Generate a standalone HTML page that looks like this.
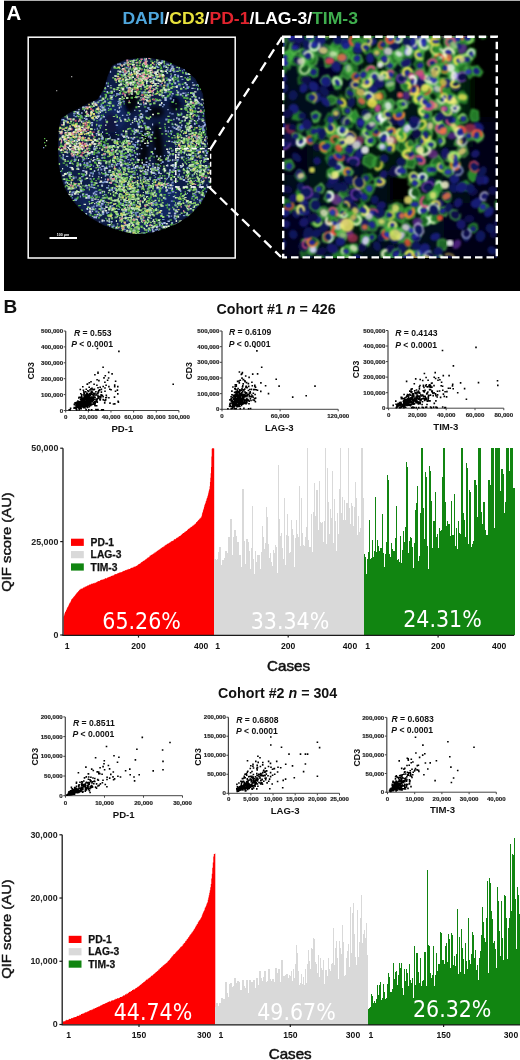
<!DOCTYPE html>
<html><head><meta charset="utf-8"><title>Figure</title>
<style>html,body{margin:0;padding:0;background:#fff;width:520px;height:1060px;overflow:hidden}svg{display:block}</style>
</head><body>
<svg width="520" height="1060" viewBox="0 0 520 1060" font-family="'Liberation Sans', Arial, sans-serif">
<rect x="4" y="1" width="516" height="290" fill="#000"/>
<rect x="4" y="0" width="516" height="1" fill="#b0b0b0"/>
<defs><clipPath id="tc"><polygon points="112.7,65 126.2,59.2 145.4,57.3 164.6,60 183.8,68.8 195.4,78.5 203.1,93.8 205,113 206.9,132.3 208.8,151.5 209.8,170 210.6,183.5 205,197 201,203.6 194.4,210.4 187.7,217 177,223.8 163.5,229.2 150,233.3 135,234.3 123,231.5 103.8,225.6 90.4,217.9 78.8,208.2 71,198.7 64.5,188 61.5,179 58.5,165 57.8,150 58.5,128.5 61.2,118 68.8,113 80,107.5 90,102 97.7,99 104,88 107.5,76 111.2,67"/></clipPath><clipPath id="rc"><rect x="283" y="36" width="214" height="222"/></clipPath><filter id="bl" x="-5%" y="-5%" width="110%" height="110%"><feGaussianBlur stdDeviation="0.5"/></filter><filter id="bl3" x="-5%" y="-5%" width="110%" height="110%"><feGaussianBlur stdDeviation="0.8"/></filter><filter id="bl2" x="-5%" y="-5%" width="110%" height="110%"><feGaussianBlur stdDeviation="1.0"/></filter><filter id="bl5" x="-10%" y="-10%" width="120%" height="120%"><feGaussianBlur stdDeviation="2.2"/></filter><filter id="bl4" x="-10%" y="-10%" width="120%" height="120%"><feGaussianBlur stdDeviation="4"/></filter></defs>
<g clip-path="url(#tc)">
<polygon points="112.7,65 126.2,59.2 145.4,57.3 164.6,60 183.8,68.8 195.4,78.5 203.1,93.8 205,113 206.9,132.3 208.8,151.5 209.8,170 210.6,183.5 205,197 201,203.6 194.4,210.4 187.7,217 177,223.8 163.5,229.2 150,233.3 135,234.3 123,231.5 103.8,225.6 90.4,217.9 78.8,208.2 71,198.7 64.5,188 61.5,179 58.5,165 57.8,150 58.5,128.5 61.2,118 68.8,113 80,107.5 90,102 97.7,99 104,88 107.5,76 111.2,67" fill="#0c1b46" filter="url(#bl2)"/>
<g filter="url(#bl5)"><ellipse cx="110" cy="115" rx="16" ry="18" fill="#15307a" opacity="0.5"/><ellipse cx="175" cy="90" rx="10" ry="16" fill="#15307a" opacity="0.45"/><ellipse cx="165" cy="200" rx="16" ry="18" fill="#15307a" opacity="0.5"/><ellipse cx="135" cy="225" rx="20" ry="8" fill="#142c70" opacity="0.45"/><ellipse cx="92" cy="200" rx="12" ry="14" fill="#142c70" opacity="0.4"/><ellipse cx="125" cy="165" rx="10" ry="14" fill="#142c70" opacity="0.35"/><ellipse cx="195" cy="205" rx="10" ry="10" fill="#142c70" opacity="0.4"/><ellipse cx="131" cy="102" rx="7" ry="11" transform="rotate(20 131 102)" fill="#000" opacity="0.85"/><ellipse cx="156" cy="112" rx="8" ry="6" transform="rotate(0 156 112)" fill="#000" opacity="0.8"/><ellipse cx="158" cy="145" rx="5" ry="22" transform="rotate(-5 158 145)" fill="#000" opacity="0.9"/><ellipse cx="144" cy="150" rx="5" ry="22" transform="rotate(5 144 150)" fill="#000" opacity="0.8"/><ellipse cx="175" cy="103" rx="6" ry="8" transform="rotate(0 175 103)" fill="#000" opacity="0.75"/><ellipse cx="86" cy="110" rx="10" ry="6" transform="rotate(-30 86 110)" fill="#000" opacity="0.4"/><ellipse cx="100" cy="142" rx="4" ry="6" transform="rotate(0 100 142)" fill="#000" opacity="0.4"/><ellipse cx="110" cy="128" rx="8" ry="16" transform="rotate(0 110 128)" fill="#000" opacity="0.35"/></g>
<g filter="url(#bl)">
<path fill="#56b446" d="M126.5 145.4h2.4v2h-2.4zM150.2 86.3h1.2v2h-1.2zM152.7 195.2h2v1.2h-2zM206.3 191.5h1.2v1.2h-1.2zM155.0 73.4h2v2h-2zM143.9 211.4h1.5v2h-1.5zM193.2 163.1h1.2v2h-1.2zM101.4 197.6h2.4v1.2h-2.4zM83.9 139.4h2.4v2h-2.4zM132.4 202.8h1.5v1.2h-1.5zM105.6 197.0h2.4v1.5h-2.4zM136.0 72.0h2v1.2h-2zM164.3 231.8h2v1.5h-2zM190.2 150.3h1.5v1.2h-1.5zM198.4 167.5h2v1.2h-2zM143.0 79.0h1.5v1.5h-1.5zM86.6 126.7h2.4v2h-2.4zM144.0 73.1h2.4v1.5h-2.4zM132.8 192.1h2v1.5h-2zM79.1 143.2h2.4v1.5h-2.4zM151.7 70.9h1.2v2h-1.2zM171.6 123.8h2v1.5h-2zM188.8 201.4h1.5v2h-1.5zM190.0 125.5h2.4v2h-2.4zM60.5 157.2h1.5v1.2h-1.5zM185.1 109.3h2v1.5h-2zM158.7 64.3h2.4v2h-2.4zM105.1 204.1h1.2v1.2h-1.2zM146.7 199.9h2.4v1.2h-2.4zM74.9 123.1h1.5v1.5h-1.5zM138.0 227.0h2v1.2h-2zM103.3 141.0h1.5v2h-1.5zM168.5 194.9h1.2v1.2h-1.2zM115.0 95.8h1.5v1.2h-1.5zM168.1 174.6h2v2h-2zM107.2 91.7h2.4v2h-2.4zM159.1 94.5h1.5v1.5h-1.5zM185.4 185.4h1.5v2h-1.5zM137.8 211.3h1.5v1.2h-1.5zM146.9 211.4h1.2v2h-1.2zM85.5 197.4h2v1.2h-2zM158.9 80.6h2v1.5h-2zM108.2 150.6h1.2v1.5h-1.2zM146.2 83.3h1.2v2h-1.2zM206.2 128.1h1.2v2h-1.2zM113.5 171.4h2v2h-2zM134.6 190.7h2v2h-2zM139.5 203.6h1.2v1.2h-1.2zM118.2 149.7h1.5v2h-1.5zM92.6 105.9h2.4v1.2h-2.4zM183.5 152.2h1.5v2h-1.5zM129.0 178.3h2v2h-2zM195.9 99.1h1.5v2h-1.5zM173.2 200.6h1.5v1.5h-1.5zM89.5 214.3h2v1.5h-2zM128.6 196.2h2v2h-2zM124.6 120.5h1.2v1.2h-1.2zM148.5 207.7h2.4v2h-2.4zM169.8 90.9h2.4v2h-2.4zM138.2 61.3h2.4v1.2h-2.4zM126.7 179.1h1.2v1.5h-1.2zM126.3 62.4h2.4v1.2h-2.4zM127.7 189.0h2v1.2h-2zM82.3 193.0h2v2h-2zM109.5 153.0h2v1.5h-2zM75.7 123.7h2.4v2h-2.4zM131.2 230.2h1.5v2h-1.5zM148.3 220.6h2v1.2h-2zM159.9 230.1h1.2v1.2h-1.2zM148.3 192.5h2v1.5h-2zM86.2 134.0h1.2v1.5h-1.2zM77.2 136.2h2.4v1.2h-2.4zM134.4 152.6h2v1.2h-2zM187.4 141.4h1.5v2h-1.5zM154.8 98.2h1.5v1.5h-1.5zM137.5 195.1h1.2v1.5h-1.2zM103.0 147.0h1.5v1.5h-1.5zM64.5 135.5h2v2h-2zM158.8 191.6h1.5v1.5h-1.5zM186.3 122.2h1.2v1.5h-1.2zM192.6 195.0h2.4v2h-2.4zM64.3 133.3h2.4v1.5h-2.4zM126.0 217.1h2v1.5h-2zM190.6 188.4h1.2v2h-1.2zM99.3 144.6h1.5v2h-1.5zM168.2 225.3h1.5v1.5h-1.5zM128.2 73.1h1.5v1.2h-1.5zM190.7 153.8h1.2v1.2h-1.2zM203.0 160.8h2v1.5h-2zM187.2 146.2h2.4v1.2h-2.4zM136.6 185.9h1.5v1.5h-1.5zM140.0 83.0h1.2v1.5h-1.2zM191.6 174.4h1.5v2h-1.5zM107.1 142.9h1.5v1.5h-1.5zM146.0 68.8h2.4v2h-2.4zM94.1 214.1h2.4v1.5h-2.4zM120.0 196.2h2.4v2h-2.4zM142.9 212.7h1.2v2h-1.2zM98.4 196.5h1.5v1.2h-1.5zM67.1 186.0h2.4v1.2h-2.4zM196.0 180.9h2.4v1.2h-2.4zM65.7 178.2h2v1.2h-2zM149.9 192.6h1.2v1.5h-1.2zM160.5 66.5h1.5v2h-1.5zM153.5 156.2h1.2v1.5h-1.2zM116.0 141.3h2.4v1.2h-2.4zM130.7 225.1h1.5v2h-1.5zM170.0 119.6h2.4v1.5h-2.4zM167.4 90.7h1.2v1.2h-1.2zM135.8 59.2h1.5v2h-1.5zM80.0 116.3h2.4v2h-2.4zM143.2 181.8h2v1.5h-2zM198.2 133.5h2.4v1.2h-2.4zM64.4 150.7h1.5v2h-1.5zM156.0 219.4h2.4v2h-2.4zM188.6 205.1h1.5v1.2h-1.5zM164.8 128.0h1.2v1.5h-1.2zM137.2 185.6h2v1.5h-2zM165.9 157.1h1.5v1.5h-1.5zM169.4 219.3h2.4v1.5h-2.4zM137.8 88.4h1.2v2h-1.2zM190.9 145.8h2.4v1.5h-2.4zM76.3 133.6h1.2v2h-1.2zM154.7 179.5h1.2v1.5h-1.2zM123.8 207.2h2v1.5h-2zM99.6 124.7h2.4v1.5h-2.4zM135.0 84.6h2v2h-2zM82.0 137.0h1.5v1.2h-1.5zM126.6 184.3h2v2h-2zM117.4 88.6h1.5v1.2h-1.5zM139.4 76.1h2.4v2h-2.4zM142.5 172.4h1.5v2h-1.5zM209.9 182.1h1.5v2h-1.5zM72.6 184.4h2v2h-2zM123.2 90.5h2v1.5h-2zM82.6 196.1h1.5v1.2h-1.5zM89.5 163.7h2v1.5h-2zM179.7 113.7h2v2h-2zM80.9 137.9h1.5v1.5h-1.5zM191.0 203.4h1.5v1.2h-1.5zM143.2 181.1h2v1.5h-2zM136.4 210.8h1.2v1.5h-1.2zM188.6 125.7h1.2v2h-1.2zM133.0 214.8h1.5v1.2h-1.5zM190.3 150.3h1.5v1.5h-1.5zM89.7 107.0h1.2v1.2h-1.2zM146.5 66.2h2.4v1.5h-2.4zM165.4 97.0h1.2v1.2h-1.2zM138.3 124.9h2.4v2h-2.4zM59.4 137.9h1.5v2h-1.5zM198.9 137.8h2.4v1.2h-2.4zM201.0 111.7h2v1.5h-2zM97.0 157.9h2.4v1.2h-2.4zM131.1 68.5h2.4v1.2h-2.4zM138.8 126.7h1.2v1.5h-1.2zM194.3 150.6h2v1.5h-2zM139.0 79.3h2.4v1.2h-2.4zM186.1 97.3h2.4v2h-2.4zM172.0 206.7h1.5v1.5h-1.5zM75.6 154.1h2v2h-2zM137.5 198.4h2v1.5h-2zM154.5 78.8h1.2v1.2h-1.2zM136.9 194.0h1.2v1.2h-1.2zM189.8 165.0h1.2v1.5h-1.2zM123.3 153.1h1.5v2h-1.5zM109.5 213.7h1.2v2h-1.2zM138.6 68.4h1.2v1.2h-1.2zM71.2 138.8h2.4v2h-2.4zM157.3 222.4h1.2v1.2h-1.2zM199.9 157.3h2v1.2h-2zM189.5 188.3h1.2v1.2h-1.2zM130.8 176.8h1.5v1.5h-1.5zM86.7 114.2h2.4v2h-2.4zM101.9 192.1h1.2v1.5h-1.2zM150.0 185.5h2.4v1.5h-2.4zM144.7 75.8h1.2v2h-1.2zM174.2 140.2h1.2v2h-1.2zM200.9 118.4h1.2v2h-1.2zM183.3 115.7h2.4v1.2h-2.4zM157.7 206.3h1.5v1.5h-1.5zM128.9 146.1h1.2v1.5h-1.2zM174.4 209.4h2.4v1.5h-2.4zM106.4 143.0h2.4v1.5h-2.4zM152.8 209.6h2.4v2h-2.4zM208.5 165.2h1.5v1.5h-1.5zM120.0 90.6h2.4v1.2h-2.4zM176.1 162.1h1.2v1.5h-1.2zM124.0 213.4h2.4v1.5h-2.4zM119.5 202.2h1.2v1.2h-1.2zM93.4 152.3h1.2v1.5h-1.2zM130.6 90.2h1.5v1.5h-1.5zM144.3 205.0h2v1.2h-2zM131.7 130.8h2.4v1.5h-2.4zM136.8 186.2h1.2v2h-1.2zM117.9 171.9h2.4v2h-2.4zM76.6 130.0h2v1.5h-2zM143.2 66.3h1.2v1.5h-1.2zM146.3 71.0h1.5v1.5h-1.5zM152.3 93.2h1.5v1.2h-1.5zM103.6 108.6h1.5v2h-1.5zM132.5 147.0h2v1.5h-2zM193.5 144.1h1.5v1.5h-1.5zM66.2 126.5h2v2h-2zM194.9 132.7h1.2v2h-1.2zM143.9 219.8h2.4v1.2h-2.4zM147.7 205.1h1.2v1.2h-1.2zM193.3 167.2h1.5v1.2h-1.5zM195.1 145.0h1.5v1.2h-1.5zM185.8 117.6h1.2v1.5h-1.2zM141.1 195.6h1.2v1.2h-1.2zM90.5 197.1h2v1.5h-2zM122.3 100.8h1.2v1.5h-1.2zM120.9 230.2h2v2h-2zM182.6 139.1h1.2v2h-1.2zM191.5 169.6h1.5v1.5h-1.5zM70.7 152.9h2.4v1.5h-2.4zM131.7 204.6h1.5v2h-1.5zM108.8 104.7h1.5v1.5h-1.5zM118.3 214.9h2.4v1.2h-2.4zM175.1 78.5h1.5v1.5h-1.5zM130.1 193.8h2.4v1.2h-2.4zM120.8 80.0h2v1.2h-2zM148.8 71.0h1.2v2h-1.2zM71.7 134.7h2.4v1.5h-2.4zM62.6 178.4h2.4v1.5h-2.4zM189.8 148.1h1.5v1.2h-1.5zM161.3 89.7h1.2v2h-1.2zM179.7 150.4h2v1.2h-2zM172.3 149.4h1.5v1.2h-1.5zM191.8 174.1h1.5v1.2h-1.5zM177.4 214.4h1.5v1.2h-1.5zM66.9 130.9h1.2v1.2h-1.2zM130.1 204.9h2.4v1.2h-2.4zM82.2 175.2h2v1.2h-2zM75.4 126.8h2v2h-2zM151.0 210.1h1.2v1.2h-1.2zM194.1 171.4h1.5v2h-1.5zM194.1 177.5h1.5v1.2h-1.5zM63.3 147.7h1.2v1.5h-1.2zM135.5 189.6h2.4v1.2h-2.4zM112.4 186.7h1.2v1.2h-1.2zM144.0 195.2h1.2v1.2h-1.2zM122.7 83.0h1.2v1.5h-1.2zM85.6 106.4h2.4v2h-2.4zM135.9 92.3h2.4v1.5h-2.4zM137.3 92.6h1.5v1.5h-1.5zM121.7 74.8h2.4v1.5h-2.4zM108.6 190.2h2v1.2h-2zM125.4 79.5h2.4v1.5h-2.4zM90.0 196.6h2v2h-2zM191.5 163.9h1.5v2h-1.5zM190.9 138.6h1.5v2h-1.5zM198.8 173.8h1.5v2h-1.5zM116.0 67.6h2v1.5h-2zM128.6 171.6h2v1.2h-2zM147.4 214.7h2.4v1.2h-2.4zM177.2 169.3h2.4v2h-2.4zM159.7 165.3h1.5v1.5h-1.5zM133.3 187.2h2v2h-2zM104.9 94.6h1.5v1.2h-1.5zM144.9 180.7h2v1.2h-2zM139.8 178.9h1.2v2h-1.2zM91.0 163.9h1.2v2h-1.2zM109.3 221.1h1.2v1.5h-1.2zM106.2 219.3h1.2v1.2h-1.2zM78.9 141.6h1.2v1.2h-1.2zM167.8 119.1h2v2h-2zM68.9 176.9h2.4v2h-2.4zM92.1 215.6h1.5v1.2h-1.5zM203.0 152.4h2.4v1.2h-2.4zM188.7 188.9h2.4v1.5h-2.4zM143.7 71.3h2.4v1.5h-2.4zM85.0 164.3h1.2v2h-1.2zM159.6 187.5h2.4v2h-2.4zM117.3 215.2h1.2v1.2h-1.2zM117.0 67.3h2v1.5h-2zM190.9 158.0h2v1.5h-2zM76.2 190.0h1.2v2h-1.2zM155.9 87.9h2.4v1.5h-2.4zM194.4 110.9h1.2v2h-1.2zM123.8 74.8h1.5v1.2h-1.5zM126.7 226.8h2.4v1.5h-2.4zM79.5 114.7h2.4v1.5h-2.4zM168.5 70.7h2.4v1.2h-2.4zM131.2 80.6h2v2h-2zM123.6 103.3h1.2v1.2h-1.2zM200.7 168.8h1.2v1.2h-1.2zM106.5 195.8h1.2v2h-1.2zM191.3 131.5h1.2v1.5h-1.2zM147.6 186.0h2v2h-2zM186.6 122.5h2.4v1.2h-2.4zM187.3 208.7h2v2h-2zM164.0 175.3h1.5v1.2h-1.5zM154.8 65.9h2.4v1.5h-2.4zM116.5 156.1h1.2v1.5h-1.2zM144.7 232.2h1.2v2h-1.2zM137.5 87.9h1.5v1.5h-1.5zM198.7 141.5h1.5v2h-1.5zM149.6 226.8h2v1.5h-2zM114.6 67.2h1.5v1.2h-1.5zM137.0 225.6h2.4v1.2h-2.4zM106.9 98.2h1.5v2h-1.5zM152.1 185.1h2v1.2h-2zM118.1 84.6h2.4v2h-2.4zM92.7 153.4h2.4v1.5h-2.4zM69.4 187.5h2.4v1.2h-2.4zM200.7 172.4h2v1.2h-2zM145.2 116.5h1.5v1.2h-1.5zM171.4 100.9h2.4v2h-2.4zM142.5 227.3h1.5v1.2h-1.5zM176.6 180.6h1.5v1.5h-1.5zM128.1 76.0h2.4v1.5h-2.4zM142.0 72.3h1.2v1.5h-1.2zM200.1 203.1h2v2h-2zM131.1 188.0h2v1.2h-2zM116.8 72.7h2.4v2h-2.4zM140.2 88.2h2v1.5h-2zM136.1 66.5h2v2h-2zM107.0 155.8h2.4v1.5h-2.4zM191.8 181.1h1.5v2h-1.5zM183.1 159.0h1.2v2h-1.2zM203.5 110.2h2v1.5h-2zM102.2 173.1h2.4v1.5h-2.4zM188.8 112.1h1.5v1.2h-1.5zM197.7 139.4h1.5v1.5h-1.5zM200.1 138.7h2.4v1.2h-2.4zM73.3 112.7h1.2v1.5h-1.2zM186.6 109.3h1.2v2h-1.2zM199.4 172.6h1.5v1.2h-1.5zM152.6 203.2h2.4v2h-2.4zM101.8 145.6h1.5v2h-1.5zM148.9 186.1h2v1.2h-2zM133.7 171.5h2v1.2h-2zM105.2 171.5h1.2v1.5h-1.2zM131.6 145.9h2v1.2h-2zM127.8 147.1h1.2v1.2h-1.2zM184.4 149.0h2.4v2h-2.4zM90.5 180.7h2.4v2h-2.4zM81.2 173.3h1.5v1.5h-1.5zM142.8 82.0h1.2v1.2h-1.2zM121.2 212.4h2v1.5h-2zM129.7 228.7h2.4v2h-2.4zM180.6 120.0h2.4v2h-2.4zM107.2 146.3h2v1.2h-2zM122.0 176.7h2.4v2h-2.4zM145.8 87.0h2v1.5h-2zM81.8 117.3h1.5v1.5h-1.5zM76.7 162.0h2v1.2h-2zM146.0 231.5h1.5v1.5h-1.5zM108.0 206.9h2v2h-2zM127.5 200.3h1.5v1.5h-1.5zM91.8 111.0h1.2v2h-1.2zM118.6 203.7h2.4v1.5h-2.4zM199.8 88.1h2.4v2h-2.4zM139.3 137.3h1.5v1.5h-1.5zM136.9 143.7h1.5v1.5h-1.5zM191.0 136.6h1.5v1.5h-1.5zM88.2 148.0h2.4v1.2h-2.4zM182.7 201.4h1.2v2h-1.2zM190.4 154.2h1.2v1.5h-1.2zM128.2 180.6h1.5v1.2h-1.5zM184.4 77.0h1.5v1.5h-1.5zM105.4 162.7h2v1.5h-2zM189.5 114.6h1.5v1.5h-1.5zM126.3 61.6h1.2v2h-1.2zM129.9 194.8h2.4v2h-2.4zM74.5 184.2h1.5v1.5h-1.5zM187.5 73.2h1.5v1.5h-1.5zM87.8 125.2h2.4v1.2h-2.4zM101.0 199.4h1.5v2h-1.5zM146.8 80.5h1.2v1.2h-1.2zM139.8 194.4h1.5v1.2h-1.5zM186.2 106.2h2v1.5h-2zM177.3 114.3h2.4v2h-2.4zM69.3 143.6h1.5v1.2h-1.5zM144.9 62.8h2v2h-2zM189.3 111.6h2.4v2h-2.4zM136.3 225.9h2.4v1.2h-2.4zM164.7 65.0h2v1.5h-2zM181.1 146.6h2v1.2h-2zM140.5 82.5h2v1.2h-2zM199.2 169.3h1.2v2h-1.2zM120.7 86.8h2.4v1.5h-2.4zM130.7 187.5h2.4v2h-2.4zM199.8 135.8h1.2v2h-1.2zM108.3 214.0h2.4v1.2h-2.4zM196.0 122.6h1.5v1.5h-1.5zM72.5 150.7h2.4v2h-2.4zM189.1 98.6h1.5v1.2h-1.5zM183.8 82.1h1.5v1.5h-1.5zM139.3 63.2h1.2v1.2h-1.2zM100.5 140.3h2v2h-2zM126.9 128.9h1.5v1.2h-1.5zM206.9 150.8h2v1.5h-2zM123.6 169.9h1.2v1.2h-1.2zM151.7 87.9h2v1.2h-2zM177.4 148.6h2.4v1.2h-2.4zM198.5 104.2h2v1.2h-2zM140.1 88.0h1.2v1.2h-1.2zM194.6 153.2h2v1.5h-2zM79.8 151.2h1.2v2h-1.2zM100.2 199.0h2.4v2h-2.4zM193.8 145.7h1.2v1.2h-1.2zM196.3 160.1h1.5v2h-1.5zM203.8 109.3h1.5v1.2h-1.5zM167.2 83.5h2v1.2h-2zM123.7 136.7h2.4v1.2h-2.4zM101.2 99.3h2v1.2h-2zM161.5 75.7h2v2h-2zM89.1 144.7h2v2h-2zM143.9 57.9h1.2v2h-1.2zM92.9 178.1h2v1.2h-2zM186.5 173.8h1.5v2h-1.5zM192.3 190.1h2.4v1.2h-2.4zM187.0 169.6h1.2v2h-1.2zM113.4 178.2h2.4v1.2h-2.4zM190.7 151.1h1.5v1.5h-1.5zM133.4 173.8h2.4v1.2h-2.4zM190.6 156.0h2v2h-2zM200.2 167.5h1.2v1.2h-1.2zM78.2 127.4h1.5v1.2h-1.5zM68.9 118.2h2.4v1.5h-2.4zM111.3 145.0h2v2h-2zM109.4 198.5h2v1.2h-2zM113.6 141.1h2v1.5h-2zM103.0 144.6h2.4v2h-2.4zM160.9 222.6h1.2v1.5h-1.2zM176.0 186.3h1.2v2h-1.2zM68.2 171.6h2.4v1.5h-2.4zM144.7 90.4h1.2v1.5h-1.2zM155.7 193.1h1.5v2h-1.5zM101.0 106.5h1.2v1.2h-1.2zM75.2 122.7h2.4v2h-2.4zM164.5 144.8h1.2v1.5h-1.2zM119.6 190.0h2v2h-2zM67.0 136.4h2v1.2h-2zM188.3 201.2h2.4v2h-2.4zM197.4 88.2h1.2v2h-1.2zM164.7 81.0h1.2v1.5h-1.2zM158.7 190.0h2.4v2h-2.4zM141.1 214.5h2v1.2h-2zM206.2 113.2h1.5v1.5h-1.5zM188.9 181.7h2v2h-2zM169.2 147.6h2.4v1.2h-2.4zM166.6 206.5h1.2v2h-1.2zM142.0 194.4h1.2v1.5h-1.2zM161.8 96.8h1.5v1.5h-1.5zM120.2 152.7h2.4v2h-2.4zM97.2 178.3h2.4v1.2h-2.4zM93.4 208.6h2v2h-2zM82.1 130.8h2v1.5h-2zM199.3 172.0h2v2h-2zM184.8 87.9h2.4v1.5h-2.4zM161.6 78.3h1.5v2h-1.5zM203.6 187.9h2v1.5h-2zM64.6 115.9h1.2v1.5h-1.2zM115.4 146.2h1.2v1.5h-1.2zM139.4 216.0h2v1.2h-2zM144.2 69.6h1.5v2h-1.5zM95.4 108.4h1.2v2h-1.2zM144.6 209.8h1.5v2h-1.5zM186.2 160.1h1.2v1.2h-1.2zM119.2 92.7h2v2h-2zM199.9 148.7h1.2v2h-1.2zM126.5 63.0h1.2v1.2h-1.2zM146.7 126.4h1.2v1.5h-1.2zM134.6 129.7h2v1.2h-2zM133.2 220.3h2.4v1.5h-2.4zM111.1 218.3h2v1.2h-2zM97.9 201.6h2.4v2h-2.4zM196.0 84.5h1.2v1.5h-1.2zM61.9 124.7h2v1.2h-2zM139.9 180.6h1.2v2h-1.2zM190.8 151.6h1.5v2h-1.5zM160.9 70.6h1.5v2h-1.5zM91.0 179.4h1.2v1.2h-1.2zM140.1 132.8h1.5v1.2h-1.5zM148.9 127.3h1.5v1.5h-1.5zM81.7 190.0h1.5v1.2h-1.5zM192.5 110.5h2v2h-2zM100.5 142.7h1.5v1.5h-1.5zM137.0 229.9h2.4v1.5h-2.4zM125.1 85.8h1.2v1.5h-1.2zM58.9 128.3h1.2v1.5h-1.2zM94.6 110.3h2v1.5h-2zM96.6 166.9h2.4v1.2h-2.4zM183.1 146.0h1.5v1.5h-1.5zM177.2 114.2h2.4v2h-2.4zM146.7 201.3h2.4v1.5h-2.4zM191.3 186.1h1.2v1.2h-1.2zM176.7 133.9h2.4v1.2h-2.4zM181.4 150.9h1.2v2h-1.2zM194.2 110.2h2.4v2h-2.4zM115.7 175.0h1.5v2h-1.5zM113.2 150.7h1.2v1.2h-1.2zM135.7 169.6h1.5v1.5h-1.5zM149.5 64.8h2.4v2h-2.4zM192.3 145.8h1.5v1.5h-1.5zM116.0 140.3h2v2h-2zM184.4 105.1h2.4v1.5h-2.4zM143.0 62.0h1.2v1.2h-1.2zM175.4 163.7h1.5v1.2h-1.5zM134.2 81.3h2v2h-2zM70.8 179.2h1.5v1.5h-1.5zM149.1 229.3h2v2h-2zM191.9 165.7h2v1.2h-2zM72.3 175.7h1.5v1.5h-1.5zM177.6 166.2h1.5v1.2h-1.5zM133.2 189.2h2.4v1.5h-2.4zM114.9 151.6h1.5v1.2h-1.5zM111.8 227.0h2v2h-2zM94.3 195.0h1.5v1.5h-1.5zM197.9 181.1h2v1.5h-2zM135.8 76.0h2v1.5h-2zM130.5 90.6h1.5v2h-1.5zM135.4 85.0h2v1.2h-2zM201.9 193.4h2.4v2h-2.4zM152.8 183.7h1.2v1.2h-1.2zM129.3 78.9h2.4v1.2h-2.4zM147.6 169.8h1.2v1.5h-1.2zM102.5 160.1h1.5v1.2h-1.5zM67.1 149.0h1.2v1.2h-1.2zM204.4 187.5h1.2v2h-1.2zM193.6 160.8h1.2v1.2h-1.2zM146.8 188.1h2v1.5h-2zM175.6 94.0h2.4v1.5h-2.4zM161.8 61.1h1.5v1.2h-1.5zM77.9 149.3h2.4v2h-2.4zM138.1 66.7h2.4v1.2h-2.4zM135.5 206.8h2.4v2h-2.4zM81.9 188.4h2v2h-2zM132.2 194.1h1.5v1.2h-1.5zM123.4 171.8h1.2v1.5h-1.2zM128.5 204.5h1.2v2h-1.2zM130.3 63.5h2.4v1.2h-2.4zM80.8 209.6h2v1.5h-2zM93.0 178.5h1.2v1.5h-1.2zM134.1 151.9h1.5v1.5h-1.5zM70.3 121.2h1.5v1.5h-1.5zM180.0 193.4h1.5v2h-1.5zM72.8 147.0h2.4v1.5h-2.4zM120.2 184.0h2.4v1.5h-2.4zM138.4 65.1h1.5v1.2h-1.5zM198.7 131.6h2v1.2h-2zM198.3 143.8h2v1.5h-2zM130.6 88.1h1.2v1.2h-1.2zM140.8 59.7h1.2v1.2h-1.2zM128.9 127.8h2.4v1.5h-2.4zM194.8 165.7h1.2v1.5h-1.2zM189.6 110.9h1.2v1.5h-1.2zM136.6 90.3h1.5v1.2h-1.5zM124.4 142.0h2v1.5h-2zM125.1 134.7h1.2v1.2h-1.2zM182.4 72.1h1.2v2h-1.2zM131.7 187.0h2.4v1.2h-2.4zM143.7 84.6h1.2v2h-1.2zM115.6 213.2h2.4v2h-2.4zM91.8 116.2h2.4v1.2h-2.4zM139.4 202.3h1.5v1.5h-1.5zM79.6 138.0h1.5v1.5h-1.5zM154.3 180.6h2v1.5h-2zM185.9 213.4h1.5v1.2h-1.5zM195.6 166.0h2v1.5h-2zM143.5 188.6h1.5v2h-1.5zM127.7 169.3h1.2v2h-1.2zM167.9 91.3h2v1.2h-2zM141.8 183.3h1.2v1.5h-1.2zM100.1 189.2h1.5v1.5h-1.5zM130.3 209.7h1.5v1.5h-1.5zM167.4 85.0h1.5v2h-1.5zM189.7 148.8h1.2v1.2h-1.2zM118.9 226.3h1.2v1.5h-1.2zM123.2 167.2h2.4v2h-2.4zM167.8 135.6h1.2v1.2h-1.2zM105.1 138.3h1.2v1.2h-1.2zM171.3 84.0h1.5v1.2h-1.5zM176.0 187.8h2v2h-2zM131.4 151.1h1.2v2h-1.2zM176.3 160.9h1.5v1.2h-1.5zM123.8 210.5h1.2v1.2h-1.2zM122.1 162.5h1.5v1.5h-1.5zM119.8 187.2h1.2v1.2h-1.2zM204.8 133.4h1.2v1.2h-1.2zM70.4 145.1h1.2v1.2h-1.2zM118.8 99.5h2v2h-2zM136.1 226.6h2.4v1.2h-2.4zM170.6 131.0h2v1.5h-2zM129.5 150.0h2.4v2h-2.4zM133.1 70.1h1.2v2h-1.2zM130.5 150.8h2v1.5h-2zM196.8 141.0h2.4v2h-2.4zM122.7 205.6h2.4v1.2h-2.4zM166.3 140.8h1.2v1.2h-1.2zM118.2 202.8h2v1.5h-2zM94.0 161.6h2v2h-2zM139.5 200.7h1.5v1.2h-1.5zM113.5 183.6h2v1.2h-2zM75.0 129.3h2v1.5h-2zM138.3 90.8h2.4v1.5h-2.4zM184.3 170.1h2v1.5h-2zM62.7 162.6h2.4v1.2h-2.4zM132.6 191.9h1.2v1.2h-1.2zM182.7 145.0h2v2h-2zM159.5 175.0h1.2v1.2h-1.2zM208.2 166.1h2.4v2h-2.4zM161.1 224.8h2.4v1.5h-2.4zM151.1 185.3h2v1.5h-2zM185.6 214.1h2.4v2h-2.4zM97.7 159.4h2.4v1.5h-2.4zM158.4 219.1h2.4v1.2h-2.4zM138.7 79.8h1.2v1.2h-1.2zM96.1 111.0h1.2v1.5h-1.2zM140.4 83.0h1.5v1.2h-1.5zM186.8 137.9h2.4v2h-2.4zM115.5 227.8h1.5v1.5h-1.5zM190.5 99.9h1.2v1.2h-1.2zM131.2 63.1h1.2v1.5h-1.2zM106.9 214.5h1.5v1.5h-1.5zM128.4 74.6h2v2h-2zM192.0 92.3h2.4v2h-2.4zM135.2 206.5h1.2v2h-1.2zM121.6 166.8h1.5v2h-1.5zM168.2 87.2h1.2v2h-1.2zM91.4 109.9h2.4v2h-2.4zM102.1 138.0h1.2v2h-1.2zM67.0 160.5h2v1.5h-2zM171.3 130.5h1.2v2h-1.2zM182.2 148.4h2.4v1.5h-2.4zM124.2 195.1h1.5v1.5h-1.5zM147.2 134.1h2.4v2h-2.4zM127.6 202.3h2v1.5h-2zM110.7 187.1h2v2h-2zM161.9 175.1h1.5v1.5h-1.5zM194.3 127.1h1.2v2h-1.2zM79.3 190.9h1.2v1.5h-1.2zM193.4 161.2h2v1.2h-2zM130.2 174.8h2.4v1.5h-2.4zM188.6 102.9h1.5v1.2h-1.5zM169.9 62.6h2v2h-2zM75.4 158.5h1.5v2h-1.5zM187.3 214.3h1.5v1.5h-1.5zM128.9 168.5h1.2v2h-1.2zM175.5 204.5h1.2v2h-1.2zM86.3 150.7h2.4v2h-2.4zM100.9 100.1h2v1.2h-2zM76.4 114.5h2v2h-2zM121.4 208.2h1.5v1.5h-1.5zM165.9 96.4h2.4v1.2h-2.4zM110.3 213.7h2v1.2h-2zM112.1 158.1h1.2v2h-1.2zM112.2 151.2h2.4v2h-2.4zM181.5 148.1h2.4v2h-2.4zM59.5 127.3h1.5v1.5h-1.5zM86.7 107.4h1.5v1.2h-1.5zM176.5 197.1h2v1.2h-2zM197.8 84.7h1.2v2h-1.2zM132.0 194.4h2.4v1.2h-2.4zM145.2 94.3h2v2h-2zM135.4 184.0h2v1.2h-2zM199.7 145.1h1.2v2h-1.2zM200.9 119.0h1.2v1.5h-1.2zM113.5 195.2h2.4v1.5h-2.4zM175.0 156.8h1.5v1.2h-1.5zM69.0 141.8h1.5v1.5h-1.5zM192.9 129.1h2.4v1.5h-2.4zM70.8 172.2h1.2v1.5h-1.2zM178.6 69.4h1.2v1.2h-1.2zM117.7 200.6h2.4v2h-2.4zM102.6 114.6h1.2v1.5h-1.2zM127.9 82.1h2.4v2h-2.4zM114.6 178.2h2.4v1.5h-2.4zM59.2 155.3h1.5v1.2h-1.5zM66.4 163.7h1.2v2h-1.2zM202.1 128.0h2v1.5h-2zM134.1 88.4h2v1.5h-2zM200.8 198.3h2v1.5h-2zM114.1 78.1h2v2h-2zM84.5 115.1h2.4v1.5h-2.4zM143.6 172.9h2.4v2h-2.4zM123.3 200.2h2v1.2h-2zM134.7 199.4h2v2h-2zM151.7 75.3h2.4v1.5h-2.4zM140.5 68.3h2.4v2h-2.4zM198.8 166.4h2.4v1.2h-2.4zM123.0 181.0h2.4v1.2h-2.4zM145.1 220.8h2v2h-2zM118.3 229.9h2v1.2h-2zM142.3 84.4h1.2v1.2h-1.2zM205.0 175.2h2.4v2h-2.4zM116.4 87.1h1.5v1.2h-1.5zM111.5 200.1h2v1.5h-2zM120.7 196.4h1.5v2h-1.5zM102.3 145.8h2v1.2h-2zM197.4 167.2h1.2v1.2h-1.2zM136.6 197.3h2.4v2h-2.4zM204.6 165.1h2v2h-2zM100.2 209.8h1.2v1.5h-1.2zM173.8 75.4h2v1.5h-2zM98.7 151.9h1.5v1.2h-1.5zM167.4 182.6h2v1.2h-2zM80.4 187.9h1.2v1.5h-1.2zM100.7 144.2h1.5v1.5h-1.5zM192.2 175.0h1.2v1.2h-1.2zM194.9 120.7h2v1.5h-2zM144.2 214.2h2.4v2h-2.4zM201.3 155.5h1.2v1.2h-1.2zM142.8 232.2h2.4v2h-2.4zM108.5 171.8h2.4v1.2h-2.4zM139.1 64.7h1.2v1.2h-1.2zM122.0 68.5h1.2v1.2h-1.2zM204.3 154.6h1.5v1.2h-1.5zM70.0 160.5h2v1.5h-2zM194.3 87.9h1.2v1.2h-1.2zM120.4 188.4h1.2v2h-1.2zM192.1 104.6h2.4v2h-2.4zM185.9 186.5h2.4v2h-2.4zM150.4 155.5h2v1.2h-2zM124.6 162.9h2.4v2h-2.4zM155.6 202.6h2v1.2h-2zM115.3 114.5h2v1.2h-2zM195.0 137.6h1.2v1.5h-1.2zM190.9 106.5h1.5v1.5h-1.5zM95.4 187.6h1.2v1.5h-1.2zM165.4 77.5h2.4v1.2h-2.4zM100.2 135.3h2v1.5h-2zM167.1 94.7h2.4v2h-2.4zM82.0 108.2h2.4v1.5h-2.4zM174.2 195.1h1.2v1.5h-1.2zM192.9 106.3h2v2h-2zM190.0 144.4h2v2h-2zM137.5 100.7h1.2v1.5h-1.2zM124.3 156.5h2.4v2h-2.4zM187.5 154.3h1.5v2h-1.5zM172.0 176.0h2v1.2h-2zM181.9 94.7h1.5v2h-1.5zM127.3 111.8h2.4v2h-2.4zM141.0 188.5h1.2v1.2h-1.2zM104.0 156.9h1.5v2h-1.5zM143.8 223.5h2.4v1.5h-2.4zM143.2 72.1h1.5v2h-1.5zM141.6 80.0h1.2v1.5h-1.2zM125.5 141.7h1.2v2h-1.2zM187.2 140.0h1.2v1.5h-1.2zM189.0 108.1h1.5v1.5h-1.5zM131.1 178.6h1.5v1.5h-1.5zM101.6 102.6h2.4v1.5h-2.4zM117.0 143.5h1.2v1.2h-1.2zM153.1 192.2h1.2v1.5h-1.2zM186.7 93.8h2.4v1.5h-2.4zM131.4 158.0h2v1.5h-2zM164.5 180.5h1.5v1.5h-1.5zM159.4 175.0h1.2v2h-1.2zM136.4 208.4h1.5v2h-1.5zM93.8 184.1h2v1.5h-2zM140.3 225.5h2.4v1.5h-2.4zM117.1 172.9h2.4v1.2h-2.4zM199.3 145.2h1.5v2h-1.5zM202.4 180.8h1.2v1.2h-1.2zM132.9 206.6h1.5v1.5h-1.5zM134.0 132.4h2v1.2h-2zM123.9 205.7h1.5v1.5h-1.5zM107.4 173.9h1.2v2h-1.2zM200.2 128.1h2v1.5h-2zM183.9 107.8h2v2h-2zM147.4 66.8h1.5v1.5h-1.5zM198.9 142.9h1.2v2h-1.2zM160.9 94.1h1.2v1.2h-1.2zM158.9 197.5h1.5v2h-1.5zM198.9 126.8h1.2v1.5h-1.2zM145.6 201.6h1.2v1.5h-1.2zM81.8 160.8h1.2v1.2h-1.2zM111.0 164.1h1.2v2h-1.2zM166.0 79.4h2.4v1.5h-2.4zM168.7 136.0h1.2v1.2h-1.2zM78.3 110.8h1.2v2h-1.2zM148.3 84.9h1.2v1.2h-1.2zM151.3 192.1h1.5v1.2h-1.5zM152.4 179.8h1.5v1.2h-1.5zM146.5 69.3h2.4v1.5h-2.4zM190.9 96.0h2v1.5h-2zM123.1 176.5h1.2v1.2h-1.2zM96.0 159.2h1.5v1.5h-1.5zM129.6 163.8h1.2v1.2h-1.2zM152.0 66.6h2v2h-2zM170.3 224.1h2.4v1.5h-2.4zM142.7 91.8h1.5v1.5h-1.5zM194.6 201.7h1.5v1.5h-1.5zM116.7 152.5h2v1.2h-2zM204.1 134.3h1.5v1.5h-1.5zM187.9 172.7h2.4v2h-2.4zM132.1 73.4h2.4v1.2h-2.4zM130.8 209.5h1.5v2h-1.5zM80.9 148.6h2.4v1.2h-2.4zM160.6 205.5h1.5v1.5h-1.5zM114.9 183.7h2v2h-2zM186.3 187.6h2v1.5h-2zM187.1 145.4h2v1.5h-2zM90.3 131.7h1.5v1.5h-1.5zM111.9 207.3h2v1.5h-2zM142.2 78.3h2.4v2h-2.4zM137.4 208.3h2.4v1.5h-2.4zM178.6 198.6h1.2v1.5h-1.2zM125.9 67.6h2v1.2h-2zM143.8 76.2h2.4v1.5h-2.4zM79.4 118.6h2v2h-2zM185.6 174.3h2v1.5h-2zM104.2 142.3h1.5v1.5h-1.5zM200.3 163.9h1.5v2h-1.5zM103.0 199.8h2v1.2h-2zM189.8 114.7h1.2v2h-1.2zM160.0 214.9h1.5v2h-1.5zM156.1 179.3h1.5v1.5h-1.5zM159.2 184.0h2.4v1.2h-2.4zM146.4 77.4h1.2v2h-1.2zM104.0 156.4h1.2v2h-1.2zM80.1 164.2h1.5v2h-1.5zM105.8 181.7h2v1.2h-2zM177.7 204.6h2v1.5h-2zM106.5 137.9h2.4v1.2h-2.4zM166.0 91.2h1.2v1.5h-1.2zM88.5 201.1h1.5v1.5h-1.5zM134.5 211.7h1.5v1.5h-1.5zM127.5 209.7h1.5v2h-1.5zM138.4 73.2h1.5v2h-1.5zM183.1 141.6h2v2h-2zM101.4 213.3h1.5v2h-1.5zM149.0 176.8h2.4v1.5h-2.4zM183.3 96.7h2.4v2h-2.4zM123.9 68.8h1.5v1.2h-1.5zM82.1 156.7h2.4v2h-2.4zM115.9 173.3h2v1.5h-2zM125.0 179.4h1.2v1.5h-1.2zM203.1 132.3h1.2v2h-1.2zM74.3 131.1h2.4v2h-2.4zM141.0 182.8h1.5v1.5h-1.5zM137.2 78.6h2v1.5h-2zM97.9 217.0h2v1.5h-2zM95.9 125.0h1.2v1.2h-1.2zM117.7 134.6h1.5v1.2h-1.5zM85.3 164.9h2v1.5h-2zM184.6 191.0h1.2v1.5h-1.2zM194.4 99.0h2.4v1.2h-2.4zM169.8 132.8h1.5v1.5h-1.5zM73.7 152.3h1.2v1.5h-1.2zM116.0 205.1h1.2v2h-1.2zM149.6 90.5h1.5v2h-1.5zM71.1 150.8h2.4v2h-2.4zM135.5 215.5h2v1.5h-2zM64.3 136.7h2.4v1.2h-2.4zM104.5 93.7h2.4v1.5h-2.4zM122.8 214.1h1.2v1.5h-1.2zM138.5 62.0h2.4v2h-2.4zM185.5 157.7h1.5v1.5h-1.5zM143.9 106.2h2.4v1.2h-2.4zM140.9 218.0h1.2v1.2h-1.2zM119.5 80.5h1.5v2h-1.5zM189.9 135.9h1.2v1.2h-1.2zM131.2 69.8h1.2v1.2h-1.2zM184.6 138.5h2.4v2h-2.4zM108.5 160.2h2v2h-2zM64.8 186.1h1.2v1.5h-1.2zM186.3 139.3h1.2v1.2h-1.2zM185.7 127.9h1.2v2h-1.2zM96.4 119.9h1.2v1.5h-1.2zM196.2 146.6h2.4v1.5h-2.4zM80.4 191.0h1.5v1.2h-1.5zM148.9 199.2h1.2v2h-1.2zM72.8 182.5h2v2h-2zM121.4 189.9h2v1.5h-2zM170.9 189.9h2.4v1.5h-2.4zM71.3 159.4h1.2v1.5h-1.2zM58.3 147.9h1.2v2h-1.2zM141.4 159.0h1.2v2h-1.2zM129.4 68.1h1.5v1.2h-1.5zM165.3 204.5h2.4v1.5h-2.4zM135.5 214.9h1.2v2h-1.2zM133.2 82.6h1.5v1.2h-1.5zM191.2 197.5h1.5v2h-1.5zM135.0 95.8h2v1.2h-2zM128.8 208.2h1.5v1.5h-1.5zM195.4 169.3h1.5v1.2h-1.5zM170.8 83.0h2.4v2h-2.4zM116.5 213.3h1.5v2h-1.5zM202.6 131.3h2.4v1.5h-2.4zM88.3 133.9h1.5v1.2h-1.5zM131.3 129.8h2v1.2h-2zM127.3 81.2h1.2v1.2h-1.2zM161.2 133.3h2v1.2h-2zM138.6 114.5h2v1.2h-2zM181.5 140.4h2.4v1.5h-2.4zM188.1 161.9h2v1.2h-2zM134.3 229.5h2.4v2h-2.4zM172.6 164.9h2v2h-2zM103.6 90.7h2v1.2h-2zM178.5 222.8h2.4v1.2h-2.4zM110.7 95.4h2v2h-2zM74.5 134.0h2.4v1.5h-2.4zM137.7 216.1h1.2v1.5h-1.2zM116.6 120.5h1.2v1.2h-1.2zM190.7 145.7h2.4v1.2h-2.4zM194.8 114.5h1.5v1.2h-1.5zM146.1 68.8h1.5v1.2h-1.5zM73.6 111.1h2.4v1.2h-2.4zM107.9 203.3h1.2v2h-1.2zM194.3 167.6h1.5v1.2h-1.5zM162.1 88.5h2.4v2h-2.4zM142.8 176.5h1.5v1.2h-1.5zM171.6 122.7h1.2v1.5h-1.2zM126.0 213.2h1.2v2h-1.2zM60.8 170.3h1.5v1.5h-1.5zM127.6 151.2h1.5v1.5h-1.5zM101.4 110.4h2v1.2h-2zM68.6 151.2h1.2v1.5h-1.2zM194.3 162.0h2v2h-2zM113.7 174.5h2.4v1.2h-2.4zM158.4 203.9h2.4v1.2h-2.4zM102.0 137.6h2v2h-2zM177.5 140.4h1.5v1.5h-1.5zM96.4 202.9h2.4v1.5h-2.4zM69.5 145.8h2v1.2h-2zM178.5 138.9h2v2h-2zM125.0 62.9h2.4v1.5h-2.4zM119.1 180.4h2.4v2h-2.4zM163.1 66.1h1.2v1.5h-1.2zM61.5 128.3h2v1.5h-2zM187.6 202.2h2v1.2h-2zM125.2 142.0h2.4v2h-2.4zM180.4 135.2h1.5v1.5h-1.5zM123.9 145.9h2v2h-2zM103.8 191.1h1.2v2h-1.2zM121.5 203.8h2.4v1.5h-2.4zM201.7 168.4h2.4v2h-2.4zM89.8 105.5h2.4v1.5h-2.4zM157.6 209.3h1.2v1.5h-1.2zM109.3 137.6h1.5v2h-1.5zM184.5 211.7h1.5v1.2h-1.5zM100.5 117.2h2v1.2h-2zM194.7 147.7h2.4v2h-2.4zM192.2 150.5h1.5v1.5h-1.5zM122.3 80.4h2.4v2h-2.4zM124.7 218.6h1.5v1.2h-1.5zM161.3 85.8h1.2v1.5h-1.2zM133.9 73.3h1.2v2h-1.2zM108.9 219.5h1.2v2h-1.2zM104.7 173.0h2.4v2h-2.4zM141.2 219.4h2v1.5h-2zM88.7 149.7h1.5v1.2h-1.5zM130.3 133.5h1.5v1.2h-1.5zM104.6 166.9h2.4v1.5h-2.4zM147.7 186.3h1.5v1.5h-1.5zM128.9 184.9h1.5v1.5h-1.5zM100.9 114.8h1.2v1.5h-1.2zM119.0 188.5h2.4v1.5h-2.4zM139.6 165.1h2v2h-2zM196.2 142.2h2.4v2h-2.4zM84.5 178.2h2v1.5h-2zM97.6 133.0h2v1.5h-2zM72.2 146.3h1.5v2h-1.5zM152.0 187.5h2v2h-2zM105.7 151.1h2v1.5h-2zM110.6 224.4h2.4v1.2h-2.4zM160.0 68.3h2.4v1.2h-2.4zM163.4 194.0h2.4v1.5h-2.4zM158.7 122.2h1.5v1.2h-1.5zM115.3 168.2h2v1.2h-2zM118.3 179.7h1.2v1.5h-1.2zM105.7 132.8h2.4v1.2h-2.4zM190.4 135.7h1.2v1.5h-1.2zM128.7 209.8h1.5v1.5h-1.5zM158.4 79.5h1.5v1.2h-1.5zM179.9 204.7h1.2v1.5h-1.2zM78.6 178.4h2v1.2h-2zM149.5 201.2h1.2v1.2h-1.2zM104.8 96.0h2v2h-2zM117.2 204.5h1.5v1.5h-1.5zM129.1 195.2h1.2v2h-1.2zM132.5 67.3h2v1.2h-2zM145.2 70.8h2v1.2h-2zM127.7 212.7h1.5v1.2h-1.5zM115.2 163.4h1.2v2h-1.2zM116.2 159.2h2.4v1.2h-2.4zM151.2 199.4h1.2v1.5h-1.2zM116.9 74.1h2v1.2h-2zM114.5 211.1h1.2v2h-1.2zM109.1 202.6h2v1.2h-2zM149.2 98.6h1.5v1.5h-1.5zM187.0 150.2h1.5v1.2h-1.5zM113.9 211.0h1.2v1.2h-1.2zM120.7 181.9h2.4v1.5h-2.4zM178.8 142.2h2.4v1.5h-2.4zM122.6 140.5h2.4v1.2h-2.4zM110.4 91.9h2v2h-2zM142.4 211.5h2v2h-2zM180.2 192.8h2v1.2h-2zM122.2 69.8h1.5v2h-1.5zM150.8 74.6h1.2v1.5h-1.2zM120.0 177.1h2.4v1.2h-2.4zM67.2 133.0h1.2v1.5h-1.2zM105.1 139.5h2v2h-2zM118.4 202.1h2v1.2h-2zM74.0 137.8h1.5v1.5h-1.5zM163.9 96.7h2v1.2h-2zM77.4 179.2h1.2v1.2h-1.2zM193.9 135.6h1.2v2h-1.2zM132.7 208.2h1.5v1.5h-1.5zM149.9 196.6h2v2h-2zM145.6 201.5h1.2v1.2h-1.2zM199.1 160.3h2v2h-2zM72.4 163.6h1.5v1.2h-1.5zM154.0 184.3h2v1.2h-2zM166.6 214.7h2v1.2h-2zM166.8 86.2h1.5v1.2h-1.5zM186.2 106.8h2.4v1.5h-2.4zM197.5 151.4h2v1.5h-2zM100.9 207.2h2.4v1.5h-2.4zM136.5 220.8h2.4v2h-2.4zM82.5 173.4h2.4v2h-2.4zM177.5 143.8h2.4v1.2h-2.4zM191.5 107.9h1.2v1.2h-1.2zM134.5 87.3h2.4v2h-2.4zM180.1 151.0h1.5v2h-1.5zM207.1 187.1h1.5v1.2h-1.5zM188.0 116.4h2.4v1.2h-2.4zM129.7 77.6h1.5v1.2h-1.5zM168.6 82.0h1.5v1.5h-1.5zM126.3 192.8h2v1.5h-2zM199.9 177.5h1.2v1.2h-1.2zM116.7 226.4h2.4v2h-2.4zM137.8 223.5h2v2h-2zM133.0 186.6h1.5v2h-1.5zM195.9 115.5h1.5v1.5h-1.5zM133.6 132.4h1.5v2h-1.5zM133.2 87.7h1.2v1.5h-1.2zM132.4 182.3h1.5v1.5h-1.5zM134.2 84.9h1.2v2h-1.2zM119.5 140.7h1.2v2h-1.2zM180.7 112.6h1.5v1.5h-1.5zM73.1 121.7h1.2v2h-1.2zM133.7 90.7h1.5v1.5h-1.5zM120.6 184.9h2.4v2h-2.4zM137.1 58.2h1.2v1.5h-1.2zM184.4 160.9h1.2v1.5h-1.2zM110.4 212.4h1.5v1.5h-1.5zM99.7 163.2h1.2v1.5h-1.2zM106.0 165.7h1.2v1.5h-1.2zM83.1 164.1h2v1.5h-2zM129.3 227.3h2v2h-2zM65.7 179.5h2.4v1.5h-2.4zM103.9 105.5h1.5v2h-1.5zM197.6 138.6h1.5v1.5h-1.5zM174.6 204.6h2v2h-2zM156.6 163.5h2.4v2h-2.4zM150.3 60.6h2.4v1.2h-2.4zM131.3 195.6h2.4v1.5h-2.4zM121.1 224.3h1.2v2h-1.2zM152.2 213.6h2v1.2h-2zM147.5 197.6h2v1.5h-2zM140.9 219.9h1.2v1.2h-1.2zM89.0 124.8h1.2v1.5h-1.2zM119.3 68.4h1.2v1.2h-1.2zM166.8 164.5h1.2v1.5h-1.2zM191.7 177.7h2v1.5h-2zM116.6 172.9h1.2v2h-1.2zM112.0 178.8h2.4v2h-2.4zM176.9 113.3h1.2v1.5h-1.2zM84.4 195.3h2.4v2h-2.4zM119.9 171.5h2v1.5h-2zM190.5 213.5h1.5v1.5h-1.5zM112.9 158.0h1.2v1.2h-1.2zM67.8 132.8h2.4v2h-2.4zM102.8 153.4h1.2v1.2h-1.2zM123.9 173.3h2v2h-2zM188.7 130.1h2v2h-2zM158.9 80.1h2.4v1.2h-2.4zM141.9 179.2h1.5v1.5h-1.5zM124.3 66.7h1.5v1.5h-1.5zM171.3 137.0h2v1.5h-2zM193.4 205.0h2.4v1.2h-2.4zM179.1 143.3h1.5v1.2h-1.5zM120.6 74.1h2v2h-2zM137.5 68.0h1.2v2h-1.2zM131.3 145.4h1.2v1.5h-1.2zM136.7 194.1h2v2h-2zM192.0 148.1h2.4v1.2h-2.4zM109.4 108.2h2.4v2h-2.4zM77.9 173.0h2.4v1.5h-2.4zM125.3 82.8h1.2v2h-1.2zM119.1 158.9h1.2v1.5h-1.2zM163.8 197.0h1.2v2h-1.2zM132.9 183.9h1.2v1.5h-1.2zM122.1 173.4h2.4v1.5h-2.4zM197.5 180.2h2v2h-2zM59.4 146.1h1.2v2h-1.2zM162.6 60.7h2.4v2h-2.4zM190.2 111.4h2v1.5h-2zM121.2 203.0h2.4v2h-2.4zM169.4 132.8h2v1.2h-2zM86.1 148.4h2v1.5h-2zM117.2 214.9h1.2v2h-1.2zM195.9 204.1h2.4v1.5h-2.4zM185.9 123.1h2v1.5h-2zM185.1 100.8h1.2v1.5h-1.2zM98.1 142.8h1.5v2h-1.5zM201.4 192.8h1.5v1.5h-1.5zM144.5 132.8h1.5v2h-1.5zM61.4 127.5h2v1.2h-2zM130.0 212.0h2.4v2h-2.4zM102.8 145.0h2.4v1.5h-2.4zM144.6 203.7h2v1.2h-2zM154.3 93.4h2.4v1.5h-2.4zM130.5 179.3h1.5v2h-1.5zM118.2 174.4h1.5v1.2h-1.5zM188.4 136.4h1.2v1.2h-1.2zM59.9 144.6h2.4v1.2h-2.4zM175.6 108.3h1.5v2h-1.5zM135.5 87.2h1.5v1.2h-1.5zM188.5 85.9h1.2v2h-1.2zM78.7 151.3h2.4v2h-2.4zM105.2 217.7h1.5v1.2h-1.5zM95.3 152.2h2.4v1.2h-2.4zM138.2 67.1h1.2v1.2h-1.2zM183.4 179.3h1.5v1.2h-1.5zM153.9 137.6h2.4v1.2h-2.4zM105.3 173.2h1.5v1.2h-1.5zM75.5 197.7h2.4v2h-2.4zM154.9 163.3h1.5v1.2h-1.5zM196.2 166.5h2.4v1.2h-2.4zM147.3 216.4h2v1.2h-2zM77.2 196.4h1.5v2h-1.5zM115.8 199.4h2v2h-2zM126.4 148.4h1.5v1.5h-1.5zM199.5 201.6h1.2v1.2h-1.2zM113.1 152.9h1.2v2h-1.2zM100.5 103.4h1.2v2h-1.2zM93.5 182.0h2.4v1.5h-2.4zM146.3 91.5h2.4v2h-2.4zM179.0 70.1h2v1.2h-2zM133.4 201.7h2v2h-2zM127.7 118.8h2v1.5h-2zM195.4 101.2h2.4v1.5h-2.4zM131.6 191.4h1.2v1.5h-1.2zM167.0 203.4h1.2v1.2h-1.2zM132.1 221.4h2v2h-2zM106.5 104.8h2v1.2h-2zM134.1 222.0h1.5v1.2h-1.5zM118.8 81.4h1.2v1.5h-1.2zM122.1 198.5h2.4v1.2h-2.4zM129.7 182.8h2v2h-2zM128.5 81.2h2.4v2h-2.4zM196.8 114.5h1.5v1.5h-1.5zM202.6 114.9h1.2v2h-1.2zM127.3 192.1h2v1.5h-2zM151.7 169.9h1.5v1.2h-1.5zM150.5 196.0h1.2v1.2h-1.2zM131.5 82.2h1.5v1.2h-1.5zM157.7 91.3h1.5v2h-1.5zM107.7 82.5h1.2v2h-1.2zM122.5 228.2h1.5v2h-1.5zM84.3 185.3h1.2v2h-1.2zM200.3 148.7h2v1.2h-2zM106.9 148.3h2.4v1.5h-2.4zM70.1 133.5h2.4v1.2h-2.4zM183.8 149.6h1.5v1.2h-1.5zM135.5 73.4h2v2h-2zM203.8 159.3h1.2v1.5h-1.2zM124.6 78.8h2v1.5h-2zM131.3 202.6h1.5v1.2h-1.5zM114.5 216.4h1.2v2h-1.2zM135.5 70.8h1.5v2h-1.5zM135.3 83.7h2v1.5h-2zM191.1 170.5h2.4v1.2h-2.4zM171.2 171.7h2.4v1.2h-2.4zM138.1 131.4h1.2v1.2h-1.2zM116.5 174.6h2.4v1.2h-2.4zM114.0 176.9h1.2v1.2h-1.2zM130.3 91.9h1.5v2h-1.5zM142.0 74.7h2v2h-2zM92.5 171.6h1.2v2h-1.2zM90.7 185.7h1.2v1.5h-1.2zM79.4 204.9h1.5v1.2h-1.5zM78.1 106.1h1.5v1.5h-1.5zM126.3 173.5h1.2v2h-1.2zM123.4 206.5h1.2v1.5h-1.2zM99.0 188.9h1.2v1.2h-1.2zM181.9 71.7h2v1.2h-2zM121.3 76.6h1.5v1.5h-1.5zM161.1 199.2h1.5v2h-1.5zM134.6 232.1h1.2v1.2h-1.2zM141.2 78.7h1.5v2h-1.5zM145.8 87.2h2v1.2h-2zM70.4 195.6h1.5v1.5h-1.5zM142.4 64.9h2.4v2h-2.4zM139.4 110.1h1.5v1.5h-1.5zM107.6 187.3h1.5v1.5h-1.5zM70.1 173.5h1.5v1.5h-1.5zM141.5 93.6h2.4v1.2h-2.4zM68.9 122.8h2v1.2h-2zM189.2 76.0h1.5v1.5h-1.5zM89.0 137.3h1.2v2h-1.2zM187.7 204.8h1.5v1.2h-1.5zM141.7 212.4h1.2v1.5h-1.2zM135.9 228.2h2v1.2h-2zM185.3 186.2h1.5v1.5h-1.5zM79.6 123.6h1.5v1.2h-1.5zM120.1 213.7h2.4v2h-2.4zM122.2 141.3h1.5v2h-1.5zM208.5 180.6h1.2v1.5h-1.2zM205.5 145.8h1.2v1.2h-1.2zM104.9 194.2h2v1.2h-2zM94.0 136.1h1.5v2h-1.5zM125.2 131.1h2v1.2h-2zM128.8 119.2h1.5v2h-1.5zM116.2 157.9h1.2v2h-1.2zM156.3 91.8h1.5v2h-1.5zM98.3 150.5h1.2v1.2h-1.2zM113.7 146.5h2v1.5h-2zM82.7 106.8h1.2v1.2h-1.2zM148.7 198.2h2v1.5h-2zM147.8 189.0h1.5v1.2h-1.5zM202.0 130.6h2.4v2h-2.4zM97.2 150.8h2v2h-2zM196.8 211.8h1.5v1.2h-1.5zM125.6 138.3h1.5v2h-1.5zM103.6 160.1h2.4v1.5h-2.4zM144.8 135.4h2v1.5h-2zM164.8 90.1h1.2v1.5h-1.2zM208.1 177.1h1.5v1.2h-1.5zM117.5 157.5h2v2h-2zM110.9 154.1h1.2v2h-1.2zM203.0 171.6h2v1.5h-2zM188.3 103.3h2v2h-2zM119.7 183.3h2v1.5h-2zM95.3 196.7h2.4v1.5h-2.4zM190.5 108.3h2.4v1.5h-2.4zM168.4 208.2h2v1.2h-2zM112.9 193.5h1.5v2h-1.5zM120.6 164.7h1.5v1.5h-1.5zM91.3 113.0h2v1.5h-2zM127.8 87.2h1.2v1.2h-1.2zM128.0 224.4h1.2v1.2h-1.2zM179.9 198.2h2v2h-2zM175.4 103.1h1.2v1.2h-1.2zM187.8 204.9h2v1.2h-2zM138.5 223.4h1.5v1.2h-1.5zM105.8 173.6h1.5v1.5h-1.5zM134.6 161.5h2v2h-2zM138.8 195.4h2.4v1.2h-2.4zM164.3 126.2h1.2v1.5h-1.2zM155.5 203.6h2.4v1.5h-2.4zM131.8 73.8h1.5v2h-1.5zM146.3 228.9h1.2v1.5h-1.2zM172.5 77.0h2v2h-2zM129.5 63.5h2.4v1.5h-2.4zM149.3 103.1h2.4v2h-2.4zM63.5 125.0h1.2v1.5h-1.2zM121.0 181.4h2.4v1.5h-2.4zM109.0 101.0h2.4v2h-2.4zM90.0 133.4h2v1.2h-2zM181.3 196.1h2.4v1.2h-2.4zM195.3 102.9h1.5v2h-1.5zM109.3 171.6h2.4v1.2h-2.4zM190.7 107.7h1.5v1.2h-1.5zM119.1 186.6h1.5v2h-1.5zM63.7 138.7h1.5v2h-1.5zM130.6 96.7h2.4v2h-2.4zM163.6 167.8h2v1.2h-2zM157.1 197.3h1.2v2h-1.2zM108.9 152.2h2.4v1.5h-2.4zM117.2 208.4h1.2v1.5h-1.2zM155.3 224.1h2.4v2h-2.4zM206.3 126.8h2v2h-2zM124.5 177.1h1.5v2h-1.5zM60.8 151.7h2v1.5h-2zM140.9 119.5h1.5v1.5h-1.5zM120.2 64.2h1.5v1.5h-1.5zM94.3 149.6h2.4v1.5h-2.4zM128.1 182.4h2.4v1.5h-2.4zM131.7 196.3h2v2h-2zM137.2 92.3h2.4v2h-2.4zM96.6 195.4h1.2v2h-1.2zM127.2 84.6h1.2v2h-1.2zM186.2 167.9h1.5v1.5h-1.5zM130.7 210.6h2v2h-2zM75.6 138.4h1.5v1.2h-1.5zM131.3 88.1h1.5v2h-1.5zM74.0 143.1h1.5v2h-1.5zM129.9 221.4h1.2v1.5h-1.2zM197.9 164.3h2.4v2h-2.4zM83.9 120.4h2.4v1.2h-2.4zM115.6 189.3h1.2v1.5h-1.2zM147.3 64.8h1.5v1.5h-1.5zM162.4 169.1h2.4v1.5h-2.4zM192.0 161.3h2v1.5h-2zM144.1 124.9h2v1.5h-2zM143.2 72.2h2.4v2h-2.4zM138.4 227.4h1.5v1.2h-1.5zM83.5 189.1h1.5v1.5h-1.5zM78.2 205.1h1.5v1.2h-1.5zM79.9 143.3h2.4v1.5h-2.4zM62.9 123.7h1.5v2h-1.5zM127.5 218.3h1.5v2h-1.5zM115.9 179.0h1.2v2h-1.2zM87.8 120.2h2v1.5h-2zM117.7 205.8h2.4v1.2h-2.4zM170.6 174.6h2.4v1.2h-2.4zM184.1 140.5h1.5v2h-1.5zM179.5 198.2h2.4v1.5h-2.4zM155.2 78.3h2v1.5h-2zM121.5 179.0h2.4v2h-2.4zM160.5 73.3h2.4v2h-2.4zM166.7 72.7h1.5v1.2h-1.5zM122.9 201.0h1.5v1.5h-1.5zM137.6 161.3h1.2v1.5h-1.2zM193.1 131.7h2.4v2h-2.4zM89.6 132.4h2.4v1.5h-2.4zM75.0 126.2h2v1.2h-2zM65.9 139.4h1.2v2h-1.2zM149.0 184.1h1.5v1.2h-1.5zM187.3 166.8h1.2v1.5h-1.2zM74.3 183.0h2v1.5h-2zM202.0 189.7h2v1.2h-2zM135.8 136.4h2.4v1.2h-2.4zM186.6 141.8h1.2v2h-1.2zM197.1 184.8h2v1.2h-2zM137.7 86.4h1.5v1.5h-1.5zM85.7 154.5h2v1.2h-2zM135.4 106.3h2v2h-2zM134.1 204.6h1.2v1.5h-1.2zM107.9 109.5h1.5v1.5h-1.5zM182.5 199.6h1.5v1.5h-1.5zM95.0 162.5h2v1.2h-2zM78.7 117.7h2v1.5h-2zM114.5 156.1h1.5v1.5h-1.5zM93.8 151.0h1.2v2h-1.2zM192.8 164.9h1.2v1.2h-1.2zM183.5 120.3h1.2v1.5h-1.2zM176.6 77.3h2v1.5h-2zM146.0 84.4h1.5v1.5h-1.5zM98.3 189.5h1.5v1.5h-1.5zM87.1 165.8h2.4v2h-2.4zM186.5 137.2h1.2v1.5h-1.2zM187.0 126.9h1.2v1.2h-1.2zM133.0 196.2h2.4v1.5h-2.4zM198.8 174.2h1.2v2h-1.2zM115.6 188.7h2.4v2h-2.4zM163.8 185.2h2.4v1.5h-2.4zM151.4 185.8h1.2v2h-1.2zM144.5 79.1h2.4v2h-2.4zM102.7 200.5h2v2h-2zM195.1 162.2h1.5v2h-1.5zM121.4 159.9h2.4v1.5h-2.4zM177.0 79.6h2v1.5h-2zM142.8 96.8h2v1.5h-2zM127.8 72.6h2v1.2h-2zM139.4 103.2h2.4v2h-2.4zM194.6 197.1h1.5v2h-1.5zM113.3 209.0h2.4v1.5h-2.4zM68.0 180.0h2.4v1.2h-2.4zM122.6 169.3h1.5v1.2h-1.5zM60.3 145.5h2v1.5h-2zM159.4 194.7h1.2v1.5h-1.2zM119.1 207.1h2v1.2h-2zM181.7 83.4h2v1.5h-2zM176.0 140.4h1.5v2h-1.5zM154.0 61.1h1.5v1.5h-1.5zM124.9 193.3h1.5v2h-1.5zM155.8 98.8h2.4v2h-2.4zM195.5 170.2h1.2v1.5h-1.2zM124.2 186.1h2.4v1.2h-2.4zM181.7 175.8h2v1.5h-2zM148.3 157.4h1.5v2h-1.5zM88.8 123.2h1.2v1.2h-1.2zM116.6 140.2h1.2v1.2h-1.2zM64.3 142.0h1.2v1.2h-1.2zM199.2 140.5h2.4v1.2h-2.4zM174.5 217.7h2.4v1.2h-2.4zM183.8 131.0h2v2h-2zM138.7 84.6h2.4v1.5h-2.4zM203.2 130.1h2v2h-2zM133.9 85.9h2v2h-2zM157.5 177.1h2.4v2h-2.4zM176.5 132.7h2.4v2h-2.4zM124.7 151.9h2v2h-2zM185.8 97.8h1.2v1.2h-1.2zM151.0 80.5h1.5v2h-1.5zM135.6 215.9h1.2v1.5h-1.2zM149.9 207.3h2v1.2h-2zM156.6 169.6h1.5v2h-1.5zM136.6 230.9h2.4v1.2h-2.4zM198.3 184.0h1.2v1.5h-1.2z"/>
<path fill="#7a94cc" d="M100.7 214.8h1.2v1.2h-1.2zM145.3 110.2h1.2v2h-1.2zM70.1 138.7h2.4v2h-2.4zM186.7 167.0h2v2h-2zM166.3 85.0h1.5v1.5h-1.5zM180.1 126.4h2v1.5h-2zM199.5 163.3h2v1.2h-2zM145.1 185.0h1.5v1.5h-1.5zM91.2 182.0h1.2v1.2h-1.2zM163.0 104.1h2v1.5h-2zM181.2 113.3h1.2v2h-1.2zM176.1 85.0h2.4v1.2h-2.4zM157.6 164.0h2v1.5h-2zM182.9 215.0h2.4v1.2h-2.4zM114.3 179.7h1.5v1.5h-1.5zM190.8 141.1h2.4v2h-2.4zM85.0 115.9h1.5v1.5h-1.5zM196.9 198.6h1.2v1.5h-1.2zM185.4 73.6h2.4v1.5h-2.4zM71.2 138.2h1.2v1.2h-1.2zM116.0 93.0h2v1.5h-2zM146.9 188.4h1.2v1.2h-1.2zM168.1 176.4h1.2v1.5h-1.2zM127.7 166.8h2.4v1.5h-2.4zM128.7 72.6h2.4v2h-2.4zM130.4 140.7h2v1.2h-2zM155.5 178.9h1.5v2h-1.5zM99.6 214.1h1.5v1.2h-1.5zM145.5 224.0h1.2v2h-1.2zM196.7 153.3h2.4v1.2h-2.4zM85.1 173.9h1.5v2h-1.5zM98.7 100.0h1.5v1.5h-1.5zM123.1 184.1h2v2h-2zM111.4 225.7h1.5v2h-1.5zM69.2 172.2h1.5v1.2h-1.5zM163.9 222.2h2v1.5h-2zM156.9 228.7h1.2v1.2h-1.2zM199.1 199.4h2.4v2h-2.4zM177.1 74.7h2v2h-2zM171.8 153.9h2.4v1.5h-2.4zM178.5 67.3h1.2v2h-1.2zM106.9 149.7h2v1.2h-2zM200.0 151.1h1.2v1.5h-1.2zM171.1 188.9h2v1.2h-2zM159.1 99.8h2.4v1.5h-2.4zM162.1 106.0h1.5v1.2h-1.5zM90.2 209.0h2v1.2h-2zM122.4 75.0h2v1.2h-2zM139.1 121.1h1.5v2h-1.5zM129.7 232.0h1.5v2h-1.5zM125.8 66.7h1.2v1.5h-1.2zM95.1 190.8h2.4v1.5h-2.4zM81.1 156.2h2.4v1.2h-2.4zM178.2 222.5h1.5v1.5h-1.5zM129.3 88.8h2v1.2h-2zM171.0 182.4h2.4v1.2h-2.4zM63.9 129.8h1.2v1.2h-1.2zM90.8 183.7h2v2h-2zM198.6 149.6h1.2v1.2h-1.2zM129.0 161.7h1.2v1.2h-1.2zM120.4 105.7h1.2v2h-1.2zM61.9 158.2h2.4v1.2h-2.4zM127.4 159.0h2v1.2h-2zM85.7 110.6h1.2v1.5h-1.2zM132.4 203.9h2.4v1.5h-2.4zM169.4 187.6h2.4v1.2h-2.4zM116.9 193.0h1.2v1.2h-1.2zM131.4 154.4h2.4v1.5h-2.4zM137.5 84.0h1.2v1.2h-1.2zM130.0 123.6h1.5v1.5h-1.5zM175.1 145.6h1.2v1.2h-1.2zM123.2 100.5h1.2v2h-1.2zM91.3 186.5h2v1.5h-2zM146.7 98.4h1.5v1.5h-1.5zM119.9 219.2h2v1.5h-2zM182.7 176.2h1.2v1.5h-1.2zM152.6 66.0h1.5v1.5h-1.5zM189.8 107.9h2.4v1.2h-2.4zM140.2 97.2h2.4v1.2h-2.4zM145.1 173.3h2.4v1.5h-2.4zM138.8 186.3h1.5v1.2h-1.5zM183.6 194.0h1.5v2h-1.5zM91.4 206.6h2v2h-2zM139.1 103.7h2.4v1.2h-2.4zM103.0 210.7h1.2v2h-1.2zM194.5 98.8h2v2h-2zM205.6 191.0h1.5v1.2h-1.5zM165.3 118.4h2.4v2h-2.4zM140.4 214.9h2v2h-2zM174.4 166.8h2v2h-2zM82.5 120.5h1.2v2h-1.2zM75.6 133.8h1.5v1.5h-1.5zM143.7 86.0h2.4v2h-2.4zM134.6 167.7h1.5v1.5h-1.5zM191.9 82.1h1.5v1.2h-1.5zM173.1 70.5h2.4v2h-2.4zM96.6 101.5h2v2h-2zM92.3 172.8h1.5v2h-1.5zM186.3 213.7h2v1.5h-2zM171.8 126.2h2v1.2h-2zM71.7 167.3h1.2v1.5h-1.2zM179.5 126.4h2.4v2h-2.4zM111.7 172.9h2.4v1.5h-2.4zM186.0 130.2h1.5v1.5h-1.5zM137.1 180.2h1.2v1.2h-1.2zM187.7 92.0h1.2v1.2h-1.2zM188.6 189.7h1.2v1.5h-1.2zM194.0 95.7h2v1.2h-2zM154.4 147.8h1.5v2h-1.5zM186.8 105.9h1.2v1.2h-1.2zM119.7 118.9h1.5v1.5h-1.5zM133.7 130.7h1.2v1.2h-1.2zM107.9 107.7h1.2v1.2h-1.2zM75.0 199.1h2v2h-2zM141.1 219.0h2.4v1.2h-2.4zM142.1 113.9h1.2v2h-1.2zM154.8 229.0h2.4v1.5h-2.4zM97.5 111.7h1.2v1.5h-1.2zM97.6 152.2h2.4v1.2h-2.4zM208.7 186.3h2.4v1.2h-2.4zM167.3 160.0h2.4v2h-2.4zM135.9 214.4h1.2v1.5h-1.2zM160.4 162.8h1.5v1.2h-1.5zM133.5 170.0h1.2v1.2h-1.2zM139.7 73.9h1.5v1.2h-1.5zM173.5 216.9h1.5v1.5h-1.5zM173.5 126.9h2v2h-2zM182.3 151.6h2.4v1.5h-2.4zM127.6 212.4h2.4v1.2h-2.4zM91.9 140.7h1.2v1.5h-1.2zM61.5 131.9h1.2v1.2h-1.2zM151.8 202.9h1.2v1.5h-1.2zM166.3 63.5h1.2v1.5h-1.2zM175.5 124.3h2v2h-2zM202.5 126.8h1.2v2h-1.2zM76.7 184.9h2.4v1.5h-2.4zM69.2 161.8h2v1.5h-2zM172.1 181.5h1.5v2h-1.5zM202.5 177.4h1.2v2h-1.2zM103.4 210.1h1.2v1.2h-1.2zM59.8 170.9h1.2v1.2h-1.2zM126.5 219.6h1.2v2h-1.2zM132.8 166.3h1.2v2h-1.2zM196.0 188.9h1.2v1.5h-1.2zM101.8 181.7h2.4v1.5h-2.4zM117.9 93.2h1.5v1.2h-1.5zM111.9 95.6h1.5v1.2h-1.5zM146.0 81.9h1.5v1.5h-1.5zM85.4 155.7h1.2v1.2h-1.2zM161.3 60.3h2v2h-2zM111.2 152.0h1.5v2h-1.5zM187.6 156.9h1.5v1.5h-1.5zM80.8 179.6h2v1.5h-2zM168.2 187.6h2v1.2h-2zM178.3 142.3h1.2v1.2h-1.2zM204.8 140.2h1.5v1.5h-1.5zM89.7 172.3h2.4v1.5h-2.4zM129.1 229.6h1.5v1.2h-1.5zM98.7 119.4h2.4v1.2h-2.4zM169.4 112.2h1.2v1.5h-1.2zM164.4 197.8h2v2h-2zM161.7 160.9h2v2h-2zM136.5 211.8h2v1.5h-2zM124.8 147.7h1.2v1.2h-1.2zM98.7 213.0h1.5v1.5h-1.5zM149.1 135.5h2v1.2h-2zM170.9 77.8h2v1.2h-2zM171.3 95.3h1.2v1.2h-1.2zM74.0 158.4h1.5v1.5h-1.5zM146.4 110.0h1.5v2h-1.5zM115.5 179.7h2v1.5h-2zM208.8 163.0h1.5v1.5h-1.5zM140.1 117.5h2v1.5h-2zM145.1 192.3h2.4v2h-2.4zM110.1 182.0h2v2h-2zM194.8 107.5h1.2v2h-1.2zM171.9 191.1h2.4v1.5h-2.4zM149.2 96.0h1.2v2h-1.2zM135.3 213.5h1.2v2h-1.2zM147.2 165.7h2v1.2h-2zM202.6 106.6h1.5v1.2h-1.5zM143.3 103.5h1.2v2h-1.2zM91.4 124.2h1.5v1.2h-1.5zM193.0 186.5h2v2h-2zM119.2 110.1h1.2v2h-1.2zM148.9 213.0h2v2h-2zM179.4 84.5h1.2v2h-1.2zM127.0 90.8h2v1.5h-2zM172.0 159.2h1.5v1.2h-1.5zM202.6 157.0h2v1.5h-2zM73.3 114.7h1.5v1.5h-1.5zM96.1 204.6h2.4v2h-2.4zM200.0 111.7h1.5v1.2h-1.5zM122.9 148.9h2v1.5h-2zM96.2 134.7h1.2v1.5h-1.2zM146.4 165.4h2v2h-2zM148.3 108.4h1.2v1.5h-1.2zM103.9 154.4h2v1.2h-2zM168.9 154.2h1.5v2h-1.5zM117.6 208.7h2.4v1.2h-2.4zM200.6 179.7h1.5v1.2h-1.5zM124.9 210.3h2v2h-2zM198.8 199.6h2v1.5h-2zM194.2 159.4h2.4v1.5h-2.4zM170.7 215.5h1.5v1.2h-1.5zM123.8 209.3h2.4v2h-2.4zM110.9 149.1h2.4v2h-2.4zM151.4 168.0h1.2v2h-1.2zM97.4 115.6h1.5v2h-1.5zM115.4 216.3h1.5v1.5h-1.5zM81.8 144.0h2.4v2h-2.4zM116.9 176.9h1.2v1.5h-1.2zM122.6 209.1h1.5v2h-1.5zM145.3 157.2h1.5v2h-1.5zM124.5 231.4h2.4v1.2h-2.4zM203.5 195.3h1.5v2h-1.5zM120.4 79.7h2v1.2h-2zM144.5 177.1h2v1.5h-2zM164.5 225.4h2.4v1.5h-2.4zM130.6 148.9h2.4v1.5h-2.4zM134.1 82.6h1.2v1.2h-1.2zM159.6 84.3h2.4v1.2h-2.4zM110.9 98.5h2.4v1.2h-2.4zM97.5 160.1h2v1.2h-2zM143.5 195.5h1.2v1.5h-1.2zM202.4 182.6h1.2v1.2h-1.2zM123.5 204.2h2.4v1.5h-2.4zM174.5 218.5h2v1.2h-2zM168.3 204.0h1.5v2h-1.5zM111.5 205.0h2v1.5h-2zM69.3 166.8h2.4v1.2h-2.4zM121.1 180.4h1.2v2h-1.2zM130.7 215.0h2v1.5h-2zM179.9 189.9h1.5v2h-1.5zM71.5 191.4h2.4v2h-2.4zM160.2 177.8h2.4v1.2h-2.4zM114.8 181.4h1.2v1.2h-1.2zM185.6 201.7h1.2v1.5h-1.2zM76.6 126.2h1.2v1.5h-1.2zM105.9 121.2h2v2h-2zM155.6 65.8h2.4v1.2h-2.4zM181.2 178.4h2v1.2h-2zM185.3 72.9h2.4v1.2h-2.4zM134.5 145.3h1.5v2h-1.5zM113.8 187.2h2.4v2h-2.4zM175.2 209.9h2v1.5h-2zM194.5 164.9h1.2v2h-1.2zM150.6 217.7h1.5v1.2h-1.5zM96.2 155.6h2v2h-2zM107.7 211.7h1.5v1.2h-1.5zM122.1 210.6h2v1.2h-2zM156.4 187.2h1.2v2h-1.2zM103.8 193.8h1.5v1.2h-1.5zM146.8 69.5h2v2h-2zM131.6 61.7h1.2v1.2h-1.2zM190.1 98.7h1.5v1.2h-1.5zM168.9 192.4h2.4v1.2h-2.4zM186.2 127.2h1.5v1.5h-1.5zM123.8 62.3h2v1.5h-2zM126.8 144.6h2v1.2h-2zM166.7 185.1h2.4v1.2h-2.4zM166.6 83.4h2v2h-2zM198.1 117.2h1.2v2h-1.2zM118.1 175.5h2.4v2h-2.4zM172.1 184.7h1.5v1.2h-1.5zM104.3 87.9h2v1.5h-2zM140.3 130.8h2.4v1.2h-2.4zM198.3 136.3h2v2h-2zM127.9 201.7h2.4v1.2h-2.4zM205.8 157.9h1.5v1.2h-1.5zM109.2 188.8h1.2v2h-1.2zM140.5 166.8h2v1.2h-2zM100.1 208.3h1.2v2h-1.2zM127.8 140.3h1.2v2h-1.2zM171.3 141.1h1.5v1.5h-1.5zM146.5 133.2h1.2v1.2h-1.2zM81.4 115.5h1.2v2h-1.2zM170.0 130.1h1.5v2h-1.5zM92.7 118.5h2.4v1.5h-2.4zM137.4 75.8h1.2v1.5h-1.2zM118.6 167.5h1.5v1.2h-1.5zM191.8 155.1h2.4v2h-2.4zM128.9 184.9h1.5v1.5h-1.5zM150.2 75.3h1.2v2h-1.2zM194.4 147.6h1.2v2h-1.2zM152.0 193.2h1.2v1.5h-1.2zM110.7 207.4h2v2h-2zM203.8 102.8h1.2v1.5h-1.2zM124.1 93.5h1.5v1.5h-1.5zM195.8 102.5h2v2h-2zM136.1 198.4h1.5v1.2h-1.5zM136.9 190.8h2.4v2h-2.4zM126.0 71.5h2v1.2h-2zM132.1 173.8h2.4v1.5h-2.4zM146.3 224.7h1.2v2h-1.2zM169.9 76.3h1.5v2h-1.5zM98.2 124.7h2v2h-2zM165.7 178.8h1.2v1.5h-1.2zM147.5 192.3h1.5v2h-1.5zM109.9 145.2h2v1.5h-2zM71.9 151.0h1.2v2h-1.2zM168.1 216.1h2v1.5h-2zM98.9 165.1h1.2v1.2h-1.2zM158.5 187.9h1.5v2h-1.5zM76.9 167.4h2v1.5h-2zM112.2 225.9h2.4v1.2h-2.4zM197.5 115.5h2v1.5h-2zM137.2 122.6h2.4v2h-2.4zM109.0 224.8h1.2v2h-1.2zM82.4 158.7h2v2h-2zM86.3 157.2h1.2v2h-1.2zM86.3 187.2h2v1.2h-2zM152.1 180.6h1.2v1.5h-1.2zM84.6 170.7h1.5v2h-1.5zM120.6 151.0h2v2h-2zM163.1 65.2h2.4v2h-2.4zM163.4 88.5h2.4v1.2h-2.4zM135.7 153.6h2v1.2h-2zM188.2 129.9h1.2v2h-1.2zM134.8 218.5h2.4v1.5h-2.4zM98.1 213.4h1.5v1.5h-1.5zM93.9 101.6h1.5v1.2h-1.5zM161.3 93.3h1.2v2h-1.2zM163.9 91.8h2.4v1.5h-2.4zM115.7 124.5h2.4v1.5h-2.4zM66.0 139.5h1.2v1.5h-1.2zM92.9 165.5h1.2v1.2h-1.2zM96.7 127.8h1.2v2h-1.2zM142.8 163.7h2.4v2h-2.4zM191.8 196.1h2v1.2h-2zM196.8 84.0h2.4v1.2h-2.4zM114.6 228.5h1.2v1.5h-1.2zM108.6 165.4h2v2h-2zM202.0 127.6h1.5v2h-1.5zM197.3 170.1h2v2h-2zM169.7 97.6h2v2h-2zM196.1 149.5h2.4v2h-2.4zM100.4 110.0h1.2v1.5h-1.2zM103.7 201.8h1.2v1.5h-1.2zM178.1 154.8h1.5v1.2h-1.5zM189.6 112.1h2.4v1.2h-2.4zM124.7 216.2h2v2h-2zM191.9 95.9h1.5v1.5h-1.5zM136.8 173.2h1.2v1.5h-1.2zM151.6 202.3h2.4v2h-2.4zM178.0 170.0h2.4v2h-2.4zM98.6 215.1h2v1.2h-2zM76.7 111.3h2.4v2h-2.4zM170.6 79.0h1.2v1.5h-1.2zM102.7 194.9h1.5v1.2h-1.5zM86.2 164.2h2.4v2h-2.4zM129.0 153.4h1.5v2h-1.5zM156.9 66.8h2.4v1.2h-2.4zM135.1 118.1h1.5v1.5h-1.5zM73.6 155.8h1.2v2h-1.2zM66.9 165.6h1.2v1.2h-1.2zM101.6 203.7h2v1.5h-2zM85.0 106.2h2.4v1.2h-2.4zM204.1 123.5h2.4v2h-2.4zM188.2 137.6h1.5v1.2h-1.5zM88.7 152.2h2.4v2h-2.4zM132.0 230.2h2v1.2h-2zM135.9 146.9h2.4v2h-2.4zM118.9 150.7h2v1.5h-2zM154.6 176.6h1.5v1.2h-1.5zM159.0 221.8h1.2v2h-1.2zM97.6 143.2h2v1.5h-2zM184.4 107.1h2v1.5h-2zM135.8 119.8h1.2v1.2h-1.2zM76.1 165.2h2v1.5h-2zM120.7 133.6h2v2h-2zM153.0 77.3h2.4v1.5h-2.4zM173.9 141.2h2.4v1.2h-2.4zM195.0 179.7h1.5v1.2h-1.5zM98.4 171.8h1.2v1.5h-1.2zM65.7 181.1h1.5v2h-1.5zM178.5 201.0h2.4v1.5h-2.4zM186.9 101.4h2v1.2h-2zM117.5 100.9h2v1.2h-2zM167.6 78.3h2v2h-2zM131.6 208.0h1.5v2h-1.5zM169.1 169.3h1.5v2h-1.5zM109.2 105.4h1.2v1.5h-1.2zM181.7 157.2h1.5v2h-1.5zM181.5 78.8h2v1.2h-2zM81.0 176.0h2.4v1.2h-2.4zM115.8 213.3h1.5v2h-1.5zM99.7 95.6h1.5v2h-1.5zM194.7 122.7h1.2v2h-1.2zM151.4 167.5h2.4v1.2h-2.4zM137.6 205.8h2v1.5h-2zM144.8 92.1h2v1.2h-2zM105.8 211.5h1.5v1.2h-1.5zM127.7 204.5h2.4v1.5h-2.4zM169.9 64.0h1.5v1.5h-1.5zM147.1 172.3h1.2v1.2h-1.2zM82.6 128.2h2.4v2h-2.4zM120.0 202.3h1.5v2h-1.5zM143.4 180.9h1.5v1.2h-1.5zM192.4 134.9h2.4v1.5h-2.4zM176.8 160.2h1.5v1.2h-1.5zM136.5 158.5h1.5v2h-1.5zM197.3 139.0h1.2v2h-1.2zM81.3 173.4h1.2v1.2h-1.2zM82.3 190.5h1.2v1.2h-1.2zM104.8 178.6h1.2v1.5h-1.2zM143.2 122.5h2.4v2h-2.4zM108.8 220.8h1.2v2h-1.2zM141.2 91.6h2.4v2h-2.4zM151.0 86.3h1.5v1.2h-1.5zM74.2 187.2h1.2v2h-1.2zM79.4 162.9h1.5v2h-1.5zM206.0 152.0h2v2h-2zM75.1 139.5h2v2h-2zM95.3 210.4h2.4v2h-2.4zM126.1 196.9h1.2v1.5h-1.2zM189.5 143.2h2v2h-2zM112.7 88.3h2v1.2h-2zM117.3 158.1h1.2v1.2h-1.2zM135.1 141.8h1.5v1.2h-1.5zM109.7 136.6h1.2v2h-1.2zM115.6 144.6h1.5v1.2h-1.5zM101.1 208.1h2.4v1.5h-2.4zM115.7 163.9h1.5v1.5h-1.5zM136.0 130.8h1.2v1.2h-1.2zM200.0 183.9h1.5v1.2h-1.5zM93.2 205.5h1.5v2h-1.5zM162.1 218.9h2.4v1.2h-2.4zM154.7 75.6h2v1.5h-2zM123.7 222.9h2.4v1.2h-2.4zM133.6 128.3h1.5v2h-1.5zM94.1 128.8h1.2v1.5h-1.2zM127.2 208.5h2.4v1.2h-2.4zM116.5 227.9h1.2v1.2h-1.2zM143.4 232.6h1.5v2h-1.5zM132.7 189.5h2v2h-2zM137.9 125.7h1.2v2h-1.2zM112.8 174.6h1.5v1.2h-1.5zM115.1 75.4h2v1.5h-2zM138.3 233.4h2v1.2h-2zM151.8 77.1h1.2v1.2h-1.2zM186.4 86.9h2.4v2h-2.4zM152.2 165.3h1.5v2h-1.5zM121.4 155.8h2.4v2h-2.4zM124.0 199.7h2.4v2h-2.4zM134.7 115.9h2v1.5h-2zM132.2 143.4h2v1.5h-2zM190.8 168.8h2.4v1.5h-2.4zM130.7 176.1h2v2h-2zM144.2 133.3h2v2h-2zM137.9 176.8h1.2v2h-1.2zM138.6 214.4h1.5v2h-1.5zM161.9 186.4h1.5v2h-1.5zM136.9 184.6h2.4v2h-2.4zM185.3 135.0h2.4v1.2h-2.4zM181.5 120.3h1.5v1.5h-1.5zM117.5 213.1h1.2v2h-1.2zM105.1 119.2h1.2v1.2h-1.2zM93.3 143.8h1.2v1.2h-1.2zM104.8 97.2h1.2v1.2h-1.2zM140.9 213.8h2.4v2h-2.4zM163.9 155.0h1.2v1.2h-1.2zM91.3 117.8h1.2v1.5h-1.2zM65.1 120.2h2.4v2h-2.4zM158.1 170.2h1.5v1.5h-1.5zM140.5 168.0h2.4v1.2h-2.4zM124.7 62.5h2v1.2h-2zM95.8 205.3h1.2v1.5h-1.2zM114.3 109.0h1.5v1.5h-1.5zM203.0 112.6h1.2v2h-1.2zM135.7 193.5h2v1.5h-2zM87.4 196.7h2.4v2h-2.4zM102.2 197.3h2v1.5h-2zM117.8 93.7h2.4v1.5h-2.4zM100.6 207.1h1.5v1.2h-1.5zM167.7 192.5h2.4v1.2h-2.4zM203.2 121.7h2v1.5h-2zM167.5 130.5h1.5v2h-1.5zM155.2 204.2h1.2v1.2h-1.2zM75.4 176.6h1.2v2h-1.2zM142.8 216.6h1.2v2h-1.2zM171.5 185.1h1.2v1.5h-1.2zM129.2 186.8h2v2h-2zM112.7 156.4h1.5v2h-1.5zM106.6 139.0h2v1.2h-2zM126.0 114.5h2.4v1.2h-2.4zM156.7 62.7h2.4v1.5h-2.4zM124.5 201.1h2v2h-2zM127.7 117.2h1.5v1.5h-1.5zM111.2 189.1h2v2h-2zM152.2 94.6h1.5v1.5h-1.5zM157.4 178.0h2.4v2h-2.4zM204.9 143.8h1.2v1.2h-1.2zM193.8 100.5h2v1.5h-2zM177.6 222.5h2v1.2h-2zM149.8 171.0h2v1.5h-2zM118.3 189.3h1.2v2h-1.2zM135.4 226.3h2.4v1.5h-2.4zM128.0 184.5h1.2v1.2h-1.2zM177.2 175.5h2.4v1.2h-2.4zM194.7 136.2h1.2v2h-1.2zM73.7 159.1h2.4v2h-2.4zM127.4 67.1h1.2v1.2h-1.2zM133.7 167.2h2.4v2h-2.4zM91.7 195.6h1.5v1.2h-1.5zM171.1 222.0h2v2h-2zM103.9 166.4h1.5v1.5h-1.5zM184.2 82.7h2.4v1.2h-2.4zM147.8 76.6h1.2v2h-1.2zM108.1 184.9h1.2v1.5h-1.2zM147.2 107.0h2.4v2h-2.4zM147.8 208.2h2.4v1.2h-2.4zM201.0 142.3h1.5v2h-1.5zM167.0 67.3h1.5v1.2h-1.5zM64.6 146.1h2v1.5h-2zM191.9 174.4h1.5v2h-1.5zM151.9 131.4h1.5v2h-1.5zM141.5 74.6h2.4v1.5h-2.4zM122.9 226.0h1.5v1.2h-1.5zM93.2 147.2h2.4v1.2h-2.4zM71.7 197.2h1.2v1.2h-1.2zM109.6 177.2h2.4v2h-2.4zM101.4 154.1h2v2h-2zM101.2 106.4h2.4v2h-2.4zM61.2 119.3h2.4v1.2h-2.4zM186.5 154.7h2.4v1.2h-2.4zM127.6 140.6h2.4v1.5h-2.4zM123.8 118.4h2.4v1.2h-2.4zM108.5 134.3h1.2v1.2h-1.2zM103.7 180.7h2.4v2h-2.4zM105.9 82.2h1.5v2h-1.5zM142.7 211.3h1.5v2h-1.5zM187.1 149.4h2v2h-2zM121.7 71.6h2.4v1.5h-2.4zM118.3 163.0h2v1.5h-2zM79.8 195.6h1.2v2h-1.2zM91.1 198.0h2.4v1.5h-2.4zM171.7 123.5h1.2v1.2h-1.2zM191.7 112.6h2v1.5h-2zM129.7 146.7h1.5v1.5h-1.5zM186.8 192.8h1.2v1.2h-1.2zM119.2 73.5h1.5v1.5h-1.5zM121.5 215.0h1.5v1.2h-1.5zM77.9 113.6h2.4v1.5h-2.4zM101.6 220.8h1.2v1.5h-1.2zM104.7 174.8h1.5v2h-1.5zM187.2 103.2h1.2v2h-1.2zM209.4 180.7h1.5v1.5h-1.5zM170.7 74.7h1.2v2h-1.2zM154.6 202.2h2.4v1.2h-2.4zM199.7 147.6h2.4v1.5h-2.4zM129.5 113.2h1.2v1.2h-1.2zM116.0 199.8h2.4v1.2h-2.4zM138.7 132.5h1.5v1.5h-1.5zM64.7 181.7h1.2v2h-1.2zM83.6 106.4h1.5v2h-1.5zM131.6 211.7h2.4v1.5h-2.4zM94.2 193.2h1.5v1.2h-1.5zM73.0 191.2h1.5v1.2h-1.5zM138.7 109.9h2.4v1.2h-2.4zM204.5 149.7h2.4v2h-2.4zM67.1 172.8h1.2v1.2h-1.2zM76.5 111.2h2v1.5h-2zM74.2 198.8h2v2h-2zM106.0 212.3h2v1.5h-2zM193.0 193.0h2.4v1.5h-2.4zM101.6 137.6h2v2h-2zM120.4 154.2h2.4v2h-2.4zM121.5 93.5h1.5v1.2h-1.5zM160.8 222.7h2.4v1.2h-2.4zM80.1 146.5h2v1.5h-2zM190.0 169.1h1.5v2h-1.5zM120.7 162.2h1.5v1.2h-1.5zM88.8 160.7h2v2h-2zM173.1 99.1h1.2v1.5h-1.2zM97.1 138.8h1.2v1.5h-1.2zM195.1 194.4h1.5v1.2h-1.5zM170.8 132.9h1.2v2h-1.2zM123.7 229.1h2v1.2h-2zM171.3 113.3h2.4v1.2h-2.4zM177.3 80.7h2v1.5h-2zM208.8 181.9h2.4v1.2h-2.4zM196.7 163.5h1.5v2h-1.5zM196.2 137.4h2v2h-2zM206.3 136.0h2.4v1.2h-2.4zM126.0 86.6h2v2h-2zM167.0 63.7h2v1.5h-2zM103.1 144.3h2.4v2h-2.4zM176.4 70.4h2.4v1.5h-2.4zM79.3 163.6h2v1.5h-2zM62.4 156.2h1.5v2h-1.5zM100.9 104.3h1.5v2h-1.5zM72.8 154.4h2v2h-2zM186.4 140.2h1.2v1.2h-1.2zM123.8 166.8h2v1.5h-2zM187.3 77.0h1.2v1.5h-1.2zM172.7 100.5h1.5v1.2h-1.5zM150.2 210.2h1.5v2h-1.5zM96.9 201.1h2.4v1.2h-2.4zM159.4 74.5h1.5v1.2h-1.5zM181.8 70.2h1.2v1.2h-1.2zM123.3 101.0h1.5v1.5h-1.5zM84.3 165.8h1.2v1.2h-1.2zM174.7 217.8h1.2v1.5h-1.2zM189.3 158.2h2v2h-2zM74.7 116.0h2.4v1.2h-2.4zM128.9 198.6h2.4v2h-2.4zM84.1 129.8h1.2v1.2h-1.2zM115.2 189.5h1.5v1.5h-1.5zM117.9 173.5h2v1.5h-2zM129.6 206.6h1.2v1.2h-1.2zM189.5 126.4h2.4v1.5h-2.4zM139.9 186.3h1.5v1.2h-1.5zM208.6 187.3h1.2v1.5h-1.2zM176.5 158.9h2.4v1.5h-2.4zM179.3 214.0h1.5v1.2h-1.5zM155.3 173.6h1.2v1.5h-1.2zM205.2 165.8h2.4v2h-2.4zM105.1 205.6h1.5v2h-1.5zM134.5 212.2h2.4v1.2h-2.4zM128.9 175.9h1.2v1.2h-1.2zM153.7 168.3h2.4v1.2h-2.4zM171.8 66.3h2v2h-2zM159.2 182.3h2.4v1.5h-2.4zM66.2 150.5h1.5v1.2h-1.5zM200.9 187.3h1.2v1.5h-1.2zM160.1 61.9h2v1.2h-2zM121.2 145.4h2.4v1.5h-2.4zM118.7 99.3h1.5v2h-1.5zM119.2 196.8h2v1.2h-2zM133.7 144.0h2.4v2h-2.4zM91.6 153.3h1.5v1.5h-1.5zM136.9 141.9h1.5v1.5h-1.5zM185.0 92.4h1.5v1.2h-1.5zM85.1 144.8h2.4v1.2h-2.4zM202.2 129.0h2.4v2h-2.4zM166.9 68.8h1.5v2h-1.5zM201.1 186.1h2.4v2h-2.4zM191.2 142.4h1.5v1.5h-1.5zM83.7 161.9h1.5v2h-1.5zM160.7 213.2h2v1.2h-2zM92.5 172.6h1.5v1.5h-1.5zM186.5 86.2h2.4v2h-2.4zM100.9 137.7h2v2h-2zM183.5 69.0h1.5v1.5h-1.5zM127.9 149.5h1.2v1.5h-1.2zM152.1 167.4h2.4v1.2h-2.4zM151.6 204.7h2.4v1.5h-2.4zM147.8 184.5h2.4v1.5h-2.4zM207.5 195.4h2.4v1.2h-2.4zM99.1 208.2h2.4v1.2h-2.4zM110.8 188.5h1.5v1.5h-1.5zM168.7 171.4h1.5v1.2h-1.5zM131.8 137.8h2.4v2h-2.4zM98.6 173.4h2v1.2h-2zM85.9 131.0h1.2v1.5h-1.2zM110.6 174.7h2.4v2h-2.4zM194.2 166.4h1.5v2h-1.5zM137.1 96.0h1.2v1.5h-1.2zM147.8 230.1h1.2v2h-1.2zM107.9 171.3h2.4v1.5h-2.4zM122.8 73.5h2.4v2h-2.4zM115.1 131.9h1.2v1.2h-1.2zM99.9 117.9h2v1.5h-2zM113.3 224.4h1.2v2h-1.2zM102.2 213.0h2v2h-2zM79.3 187.4h2.4v1.2h-2.4zM101.6 105.9h2v1.5h-2zM153.3 79.9h1.2v2h-1.2zM168.7 80.0h1.2v2h-1.2zM98.9 181.7h2.4v1.2h-2.4zM91.6 153.8h1.2v1.2h-1.2zM100.4 168.5h2v2h-2zM113.4 94.5h1.2v1.2h-1.2zM198.3 125.0h1.5v2h-1.5zM143.8 58.8h2.4v2h-2.4zM168.6 204.4h1.5v1.5h-1.5zM189.0 101.4h2v1.2h-2zM94.0 191.5h1.2v1.5h-1.2zM62.1 118.9h2v1.5h-2zM147.1 67.3h1.2v1.5h-1.2zM124.8 75.8h1.5v1.5h-1.5zM153.7 72.4h2v1.5h-2zM168.0 175.6h1.5v1.2h-1.5zM146.5 145.1h2v1.5h-2zM138.2 190.8h1.2v1.2h-1.2zM166.0 188.7h1.5v1.2h-1.5zM133.6 59.8h1.2v1.5h-1.2zM106.0 187.1h2.4v1.5h-2.4zM73.3 112.8h2.4v1.5h-2.4zM126.4 164.8h2.4v1.5h-2.4zM118.6 63.3h2.4v1.5h-2.4zM199.7 169.3h2.4v1.2h-2.4zM124.3 189.9h2.4v1.2h-2.4zM95.1 207.9h1.2v1.5h-1.2zM153.1 168.7h1.5v2h-1.5zM137.6 124.1h2v1.5h-2zM170.9 200.5h2v1.2h-2zM134.4 131.9h2v1.2h-2zM187.7 170.5h1.2v1.2h-1.2zM104.2 169.7h1.2v1.5h-1.2zM101.2 157.3h2.4v1.5h-2.4zM129.6 137.2h2.4v1.2h-2.4zM88.4 196.1h1.2v1.2h-1.2zM101.1 203.4h1.5v2h-1.5zM207.4 168.7h2.4v2h-2.4z"/>
<path fill="#8ccc6c" d="M141.5 134.3h1.5v1.5h-1.5zM146.4 221.9h2v1.2h-2zM187.8 180.8h2.4v1.2h-2.4zM188.9 116.1h2.4v1.5h-2.4zM117.8 73.0h1.2v2h-1.2zM119.5 197.3h1.2v1.2h-1.2zM120.8 162.6h1.5v1.2h-1.5zM189.8 117.6h1.5v2h-1.5zM72.6 140.5h2v1.5h-2zM130.2 219.0h2v1.5h-2zM158.7 99.2h2v1.5h-2zM160.4 182.3h2.4v2h-2.4zM116.5 143.5h2.4v1.5h-2.4zM142.2 82.2h1.2v1.2h-1.2zM80.7 187.1h1.5v1.2h-1.5zM177.9 197.6h1.5v2h-1.5zM164.6 228.1h1.5v1.2h-1.5zM118.9 67.8h1.5v1.2h-1.5zM141.3 117.0h2v1.2h-2zM107.5 215.1h2.4v2h-2.4zM142.5 78.4h1.5v1.2h-1.5zM144.3 93.8h2v1.5h-2zM141.6 221.7h1.5v1.2h-1.5zM179.8 146.1h1.5v2h-1.5zM150.1 223.7h1.2v1.2h-1.2zM185.3 127.0h1.2v1.2h-1.2zM178.5 151.4h1.5v1.5h-1.5zM188.5 214.3h2v1.2h-2zM91.2 201.9h2.4v1.2h-2.4zM190.5 145.6h1.5v1.5h-1.5zM139.1 233.6h2v2h-2zM82.3 185.3h1.2v1.2h-1.2zM125.5 203.7h2v1.2h-2zM77.6 116.1h2v1.2h-2zM111.7 171.5h1.5v1.2h-1.5zM62.0 145.7h2.4v1.5h-2.4zM197.6 139.2h1.5v1.5h-1.5zM173.3 80.9h1.2v2h-1.2zM78.3 155.6h2.4v1.2h-2.4zM183.4 156.3h1.2v1.2h-1.2zM116.8 225.5h1.2v1.2h-1.2zM136.9 93.6h2v1.5h-2zM130.1 148.4h1.2v1.5h-1.2zM134.4 96.9h1.5v1.2h-1.5zM86.6 115.5h2.4v1.5h-2.4zM125.2 133.2h2.4v1.2h-2.4zM188.8 120.0h2.4v2h-2.4zM83.4 167.4h1.2v1.2h-1.2zM151.9 98.5h2.4v1.5h-2.4zM75.5 186.7h1.5v1.5h-1.5zM105.2 111.5h1.2v1.5h-1.2zM135.7 120.8h2.4v1.2h-2.4zM156.8 90.3h1.2v2h-1.2zM113.6 200.0h1.5v1.5h-1.5zM77.4 136.1h1.2v2h-1.2zM142.4 207.9h1.2v1.5h-1.2zM158.8 223.4h2v1.5h-2zM96.2 163.7h1.5v2h-1.5zM200.1 136.0h1.5v1.2h-1.5zM161.7 201.9h2v1.5h-2zM65.2 173.6h2v1.2h-2zM95.0 147.7h1.2v2h-1.2zM144.9 191.0h1.2v1.5h-1.2zM153.1 214.6h2v2h-2zM201.5 191.1h1.2v1.5h-1.2zM131.2 170.7h2.4v1.2h-2.4zM146.6 128.1h2.4v1.5h-2.4zM113.5 161.1h2v1.5h-2zM109.7 145.5h1.5v1.2h-1.5zM136.9 195.1h1.2v1.5h-1.2zM106.8 146.9h2v1.2h-2zM191.1 126.5h1.5v1.2h-1.5zM140.7 94.8h2.4v1.2h-2.4zM192.3 208.9h2v2h-2zM180.0 87.7h2.4v2h-2.4zM141.9 134.9h2.4v1.2h-2.4zM204.6 167.5h2v1.5h-2zM69.9 132.3h1.5v1.2h-1.5zM120.6 193.7h2v1.5h-2zM158.4 228.5h2v1.2h-2zM187.2 139.2h2.4v1.5h-2.4zM140.5 140.3h2v2h-2zM98.3 142.4h2.4v1.2h-2.4zM199.4 201.5h1.2v1.2h-1.2zM171.2 222.4h1.2v1.5h-1.2zM174.4 162.3h1.5v2h-1.5zM89.9 122.8h1.2v1.5h-1.2zM115.7 133.9h1.5v1.2h-1.5zM63.3 127.9h1.5v2h-1.5zM114.1 199.4h1.5v1.2h-1.5zM129.7 220.6h2v1.5h-2zM79.8 189.1h2v2h-2zM93.3 119.6h1.5v1.2h-1.5zM128.5 93.2h1.2v2h-1.2zM80.0 130.6h1.2v1.2h-1.2zM187.7 159.3h2v1.2h-2zM81.9 156.5h1.2v1.2h-1.2zM117.6 189.1h2.4v1.5h-2.4zM193.9 100.3h2.4v2h-2.4zM147.5 217.1h2.4v1.2h-2.4zM85.8 124.1h2.4v2h-2.4zM95.6 139.9h2.4v2h-2.4zM108.8 169.4h2.4v1.5h-2.4zM150.6 151.0h2.4v2h-2.4zM131.5 76.1h2.4v1.2h-2.4zM175.4 223.6h1.5v1.5h-1.5zM84.7 154.8h2v1.5h-2zM85.0 111.3h2v2h-2zM190.5 111.4h2.4v2h-2.4zM153.7 225.1h2.4v2h-2.4zM180.8 147.3h2.4v2h-2.4zM107.8 192.0h1.5v1.5h-1.5zM131.7 182.7h2v1.2h-2zM71.2 123.4h1.2v2h-1.2zM128.6 90.6h1.5v2h-1.5zM190.5 143.3h1.5v1.2h-1.5zM150.5 207.7h1.2v1.5h-1.2zM149.5 73.6h1.5v1.5h-1.5zM98.5 208.0h2.4v2h-2.4zM113.1 161.6h2v1.5h-2zM85.5 123.6h2.4v2h-2.4zM137.7 78.9h1.5v1.5h-1.5zM120.0 219.4h1.5v1.5h-1.5zM134.1 208.3h1.2v2h-1.2zM78.5 137.6h2v1.5h-2zM63.5 121.7h1.5v1.5h-1.5zM121.1 183.3h1.5v2h-1.5zM159.8 94.0h1.5v1.5h-1.5zM189.1 190.8h1.2v1.2h-1.2zM151.3 213.5h2v1.5h-2zM165.5 190.0h1.5v2h-1.5zM78.4 127.4h2v1.2h-2zM201.0 132.0h1.5v2h-1.5zM179.2 136.0h1.2v1.2h-1.2zM88.1 145.3h1.2v1.2h-1.2zM87.2 127.9h2v1.5h-2zM85.9 167.2h1.2v1.2h-1.2zM101.7 97.4h2.4v2h-2.4zM181.1 145.1h1.5v1.2h-1.5zM135.8 64.4h2v1.5h-2zM72.3 134.8h1.5v2h-1.5zM70.9 150.2h2v2h-2zM113.2 88.2h2v2h-2zM191.1 181.7h2v2h-2zM146.1 171.5h1.5v1.2h-1.5zM176.8 91.5h1.2v2h-1.2zM160.3 73.7h1.2v2h-1.2zM190.5 153.2h2v1.2h-2zM149.9 221.7h2v1.2h-2zM188.7 78.3h2v2h-2zM166.1 88.5h2.4v1.5h-2.4zM200.4 173.3h2.4v2h-2.4zM73.3 140.9h1.5v1.2h-1.5zM69.3 137.1h2.4v2h-2.4zM115.2 212.6h2.4v1.5h-2.4zM114.2 140.9h1.5v2h-1.5zM119.2 159.6h1.5v2h-1.5zM144.2 86.3h2v2h-2zM138.9 60.0h1.2v1.2h-1.2zM113.5 141.3h1.5v2h-1.5zM141.4 187.8h2.4v1.5h-2.4zM142.0 120.2h1.5v2h-1.5zM137.1 226.7h2.4v1.5h-2.4zM112.1 160.5h1.5v2h-1.5zM125.4 197.6h1.2v2h-1.2zM148.8 70.0h2.4v1.2h-2.4zM202.0 119.4h2.4v1.5h-2.4zM149.7 115.9h1.5v2h-1.5zM79.7 185.8h2v1.2h-2zM137.3 161.6h1.2v1.2h-1.2zM201.6 136.6h2v1.5h-2zM130.2 184.0h1.2v1.5h-1.2zM162.7 70.4h1.5v2h-1.5zM136.7 71.0h2.4v1.2h-2.4zM169.4 153.3h2v1.5h-2zM69.0 141.3h1.5v2h-1.5zM88.0 131.9h1.5v1.2h-1.5zM117.3 160.4h2v1.5h-2zM194.5 192.0h2v1.2h-2zM153.6 190.5h2.4v1.2h-2.4zM138.8 110.2h1.2v1.2h-1.2zM73.5 176.4h1.2v1.2h-1.2zM125.1 69.6h1.2v2h-1.2zM149.4 84.7h2v2h-2zM126.2 224.1h2.4v1.2h-2.4zM127.3 128.4h2v1.2h-2zM159.4 90.7h2.4v1.5h-2.4zM141.2 217.2h1.5v2h-1.5zM109.9 154.8h1.2v1.2h-1.2zM167.8 64.7h2.4v1.2h-2.4zM186.1 206.3h1.2v2h-1.2zM141.2 211.7h2.4v1.5h-2.4zM187.4 78.8h1.5v2h-1.5zM122.4 155.8h2.4v1.2h-2.4zM130.8 168.1h2v1.5h-2zM137.9 221.9h2.4v1.2h-2.4zM85.9 155.3h2v1.5h-2zM109.4 176.0h1.5v1.5h-1.5zM172.2 68.3h2.4v1.5h-2.4zM185.9 131.4h1.2v1.5h-1.2zM105.1 129.0h2v1.2h-2zM132.9 61.5h1.5v2h-1.5zM174.7 76.9h1.5v1.2h-1.5zM136.8 181.6h1.2v1.2h-1.2zM110.5 214.0h2v2h-2zM120.9 221.0h1.2v2h-1.2zM124.1 213.8h2v2h-2zM58.6 163.1h1.5v2h-1.5zM144.1 209.7h1.5v1.5h-1.5zM129.1 188.6h2.4v1.5h-2.4zM109.7 87.3h2.4v1.2h-2.4zM178.1 83.6h2.4v1.5h-2.4zM124.0 167.2h2v1.2h-2zM114.7 203.1h1.5v1.5h-1.5zM136.9 184.6h2.4v1.2h-2.4zM120.4 157.1h1.2v1.5h-1.2zM176.6 136.5h2v2h-2zM196.5 174.1h1.2v1.2h-1.2zM154.9 218.4h2.4v1.2h-2.4zM175.1 86.0h2v1.2h-2zM159.3 187.6h1.5v2h-1.5zM152.4 200.7h2.4v1.2h-2.4zM119.0 150.5h2v2h-2zM124.4 139.5h1.2v1.5h-1.2zM196.6 171.4h1.2v1.2h-1.2zM163.6 60.7h1.5v1.5h-1.5zM131.9 81.6h1.5v1.5h-1.5zM126.8 187.4h2v2h-2zM120.5 87.6h2v2h-2zM165.8 69.1h1.2v1.5h-1.2zM77.6 183.0h2.4v2h-2.4zM187.5 124.3h2v1.2h-2zM201.6 192.5h1.2v1.2h-1.2zM66.3 114.7h1.2v2h-1.2zM98.1 137.8h2v2h-2zM100.3 140.9h1.2v1.2h-1.2zM204.3 146.2h1.5v1.2h-1.5zM75.7 141.1h2v1.2h-2zM194.1 113.9h1.2v1.5h-1.2zM107.3 224.1h1.5v1.5h-1.5zM198.8 110.9h2.4v1.5h-2.4zM145.0 69.3h2v1.5h-2zM117.1 175.6h1.5v2h-1.5zM173.8 180.6h2v1.2h-2zM149.8 58.4h1.5v1.2h-1.5zM96.7 145.1h1.5v1.2h-1.5zM180.3 140.6h1.5v1.2h-1.5zM125.3 232.0h2.4v1.2h-2.4zM71.3 162.5h1.5v1.5h-1.5zM122.6 202.9h1.2v1.2h-1.2zM76.3 165.1h2.4v1.5h-2.4zM121.6 195.5h1.5v1.2h-1.5zM116.1 213.4h2v1.5h-2zM159.8 185.3h1.2v1.5h-1.2zM184.7 162.2h1.5v1.2h-1.5zM173.3 134.9h2v1.2h-2zM112.6 208.3h2.4v2h-2.4zM78.8 177.2h2.4v1.5h-2.4zM129.0 114.1h1.2v1.2h-1.2zM152.3 209.2h2v1.2h-2zM94.5 182.6h2v1.2h-2zM78.8 177.5h2.4v1.2h-2.4zM143.1 197.2h1.5v2h-1.5zM175.0 202.3h1.2v1.5h-1.2zM140.9 126.8h1.2v1.5h-1.2zM173.3 86.2h1.5v1.2h-1.5zM148.1 221.1h1.2v2h-1.2zM179.1 122.1h2.4v1.5h-2.4zM186.9 142.9h1.2v1.5h-1.2zM207.0 137.0h2v1.2h-2zM144.8 137.9h1.2v1.2h-1.2zM189.0 147.0h2.4v1.5h-2.4zM193.6 94.2h1.5v2h-1.5zM130.6 196.8h2v2h-2zM128.6 182.8h1.2v1.2h-1.2zM118.9 220.2h2v1.2h-2zM114.0 141.9h2v2h-2zM179.3 196.3h1.2v2h-1.2zM191.3 161.2h1.2v1.5h-1.2zM112.3 76.9h1.5v1.5h-1.5zM120.8 159.1h2v1.5h-2zM127.9 74.0h2v1.2h-2zM123.8 208.6h1.2v1.2h-1.2zM151.8 78.6h2v1.2h-2zM131.1 137.1h1.2v1.2h-1.2zM132.5 164.8h1.5v1.2h-1.5zM188.8 150.6h2.4v1.5h-2.4zM136.0 93.2h1.5v1.2h-1.5zM156.7 85.0h2v2h-2zM129.6 211.2h2.4v1.2h-2.4zM198.7 141.4h2v2h-2zM126.3 120.6h2v1.5h-2zM205.7 157.5h2v1.5h-2zM58.2 148.5h1.5v1.5h-1.5zM148.7 131.7h1.5v2h-1.5zM187.2 127.6h1.5v1.5h-1.5zM134.7 207.2h2.4v1.5h-2.4zM170.3 87.1h2.4v2h-2.4zM64.4 135.4h1.2v1.5h-1.2zM105.6 151.2h2.4v1.2h-2.4zM139.3 99.5h2v1.2h-2zM86.3 139.5h2.4v2h-2.4zM79.7 155.1h2v1.5h-2zM110.0 159.5h1.2v1.5h-1.2zM156.0 59.3h1.2v1.5h-1.2zM69.2 140.8h1.2v1.5h-1.2zM80.5 182.4h1.5v2h-1.5zM152.9 181.6h1.2v1.5h-1.2zM85.3 213.0h1.5v2h-1.5zM121.1 145.2h1.2v2h-1.2zM182.8 140.8h1.2v1.5h-1.2zM177.5 176.8h1.5v1.2h-1.5zM176.3 70.9h2.4v1.2h-2.4zM149.8 81.8h1.2v1.2h-1.2zM69.2 137.8h1.2v2h-1.2zM113.6 164.4h1.2v2h-1.2zM102.3 156.8h1.2v1.5h-1.2zM170.2 176.9h2v2h-2zM146.0 117.1h1.5v2h-1.5zM172.6 79.2h2v2h-2zM72.4 145.9h1.5v1.2h-1.5zM124.9 85.2h2.4v1.5h-2.4zM162.3 226.6h2v2h-2zM128.3 198.7h1.5v1.2h-1.5zM120.6 174.9h1.2v2h-1.2zM129.9 154.8h1.5v2h-1.5zM130.0 198.5h1.2v2h-1.2zM113.6 210.9h2v1.5h-2zM172.0 70.0h2.4v1.2h-2.4zM200.6 172.4h1.5v2h-1.5zM188.9 122.5h2.4v1.2h-2.4zM118.6 99.0h2v1.2h-2zM119.6 101.7h2.4v1.5h-2.4zM103.1 190.8h1.5v1.2h-1.5zM158.8 79.5h2.4v1.2h-2.4zM170.5 170.5h1.2v1.5h-1.2zM108.4 151.4h2.4v2h-2.4zM196.4 175.8h1.5v1.5h-1.5zM193.0 202.3h2.4v1.2h-2.4zM201.2 104.0h1.5v2h-1.5zM123.3 186.3h1.5v1.2h-1.5zM67.2 143.3h2v2h-2zM124.7 85.0h1.2v1.2h-1.2zM105.7 94.7h1.2v2h-1.2zM120.6 185.9h1.5v1.2h-1.5zM121.7 69.3h1.5v1.2h-1.5zM148.8 94.4h2.4v2h-2.4zM145.5 126.0h1.2v1.2h-1.2zM95.7 111.8h2.4v1.5h-2.4zM147.6 219.6h1.5v2h-1.5zM182.3 197.8h2.4v1.2h-2.4zM163.0 196.7h2.4v2h-2.4zM128.2 102.1h2.4v1.2h-2.4zM71.0 148.1h1.5v1.2h-1.5zM201.8 192.1h2v2h-2zM146.6 179.2h1.2v1.2h-1.2zM190.4 202.9h2.4v1.2h-2.4zM178.4 202.3h2v2h-2zM131.9 120.1h1.2v1.2h-1.2zM115.5 81.6h1.5v1.2h-1.5zM103.9 151.0h1.5v1.2h-1.5zM130.3 75.4h1.2v1.2h-1.2zM124.4 209.2h1.2v2h-1.2zM121.6 96.0h1.5v2h-1.5zM64.2 141.1h2.4v1.5h-2.4zM191.3 166.0h2.4v1.5h-2.4zM81.4 125.8h2v2h-2zM153.6 174.9h1.2v1.2h-1.2zM119.0 193.1h2.4v1.5h-2.4zM163.2 165.4h1.5v2h-1.5zM130.7 60.2h2v1.2h-2zM127.1 182.1h1.5v1.5h-1.5zM131.9 228.4h2.4v1.2h-2.4zM149.2 206.5h1.5v2h-1.5zM98.3 110.7h2.4v1.2h-2.4zM195.1 187.1h1.2v1.5h-1.2zM133.8 218.7h1.2v1.5h-1.2zM137.3 80.0h1.5v1.5h-1.5zM146.7 131.0h2v1.5h-2zM148.8 211.0h1.5v2h-1.5zM133.3 172.4h2.4v1.2h-2.4zM102.2 108.8h2.4v2h-2.4zM125.4 70.8h1.5v2h-1.5zM180.0 203.0h2v2h-2zM121.6 65.7h1.2v1.2h-1.2zM112.3 191.5h1.2v1.2h-1.2zM164.0 182.3h1.5v2h-1.5zM97.3 140.6h2v1.2h-2zM89.6 167.9h2.4v2h-2.4zM136.6 193.5h2.4v1.5h-2.4zM192.9 203.1h1.5v1.2h-1.5zM192.7 149.0h2.4v1.2h-2.4zM127.3 195.9h2.4v1.5h-2.4zM75.4 186.0h1.2v1.2h-1.2zM112.0 104.7h2.4v2h-2.4zM127.6 208.4h2v1.5h-2zM198.3 133.2h1.5v2h-1.5zM170.0 73.4h2v1.2h-2zM149.4 156.8h1.2v2h-1.2zM195.1 101.9h2.4v2h-2.4zM140.3 81.0h2.4v1.5h-2.4zM86.0 114.2h1.5v1.5h-1.5zM84.2 158.0h1.2v1.5h-1.2zM178.8 66.7h1.2v1.5h-1.2zM143.1 211.2h1.2v1.2h-1.2zM138.9 68.4h2.4v1.2h-2.4zM114.7 180.2h2.4v1.5h-2.4zM133.0 201.4h1.5v1.5h-1.5zM153.5 182.0h2.4v1.2h-2.4zM130.5 227.9h1.5v1.2h-1.5zM192.7 188.7h1.5v2h-1.5zM154.0 83.8h2v2h-2zM119.3 92.0h1.5v2h-1.5zM142.5 166.6h2v2h-2zM133.5 80.7h1.2v1.5h-1.2zM130.3 91.1h2v1.5h-2zM163.7 170.4h1.5v2h-1.5zM202.9 165.7h2v1.5h-2zM133.9 231.2h2.4v1.2h-2.4zM120.4 153.9h1.5v1.2h-1.5zM132.0 83.2h2.4v2h-2.4zM79.3 138.4h1.2v1.2h-1.2zM130.0 204.1h2.4v1.2h-2.4zM197.6 141.1h1.5v1.5h-1.5zM68.5 183.4h1.2v1.5h-1.2zM167.4 66.8h1.2v1.5h-1.2zM200.2 109.2h1.2v2h-1.2zM149.7 65.1h1.2v1.2h-1.2zM177.5 138.3h1.2v1.5h-1.2zM135.1 227.1h2.4v1.5h-2.4zM99.2 159.9h2.4v1.5h-2.4zM179.5 133.7h1.5v2h-1.5zM139.1 213.0h2.4v1.2h-2.4zM145.0 229.6h2.4v1.2h-2.4zM127.4 218.7h1.5v1.5h-1.5zM186.4 126.3h2v1.5h-2zM138.9 86.1h1.2v1.2h-1.2zM127.5 231.7h2.4v2h-2.4zM73.3 143.5h2v1.5h-2zM112.5 172.9h1.2v2h-1.2zM136.9 221.9h1.5v2h-1.5zM112.1 153.6h2v2h-2zM186.0 78.3h1.5v1.5h-1.5zM180.9 130.7h1.2v2h-1.2zM158.1 199.8h2v2h-2zM193.8 189.1h1.2v1.2h-1.2zM88.3 121.5h2.4v1.2h-2.4zM139.4 169.6h1.5v2h-1.5zM87.0 206.6h2.4v1.5h-2.4zM119.9 158.6h1.2v1.5h-1.2zM155.0 169.8h2.4v1.2h-2.4zM78.2 152.5h2v1.2h-2zM60.2 142.3h1.5v1.5h-1.5zM76.1 146.0h1.5v1.2h-1.5zM69.3 141.4h1.2v1.5h-1.2zM88.0 184.2h2v2h-2zM147.6 101.4h2v1.2h-2zM186.6 200.0h2.4v1.5h-2.4zM138.1 118.9h2v1.5h-2zM130.9 222.0h2.4v1.2h-2.4zM68.7 186.6h2v2h-2zM109.9 202.0h2.4v1.5h-2.4zM153.6 178.9h2v1.5h-2zM127.8 226.1h2.4v2h-2.4zM101.1 171.9h1.2v1.5h-1.2zM158.1 181.5h2.4v2h-2.4zM158.9 104.0h1.5v2h-1.5zM187.2 183.2h1.2v2h-1.2zM124.7 195.4h2v1.2h-2zM140.1 196.4h1.2v1.2h-1.2zM131.5 87.5h1.2v1.2h-1.2zM183.3 171.7h1.5v2h-1.5zM129.8 149.3h1.5v2h-1.5zM196.6 203.7h2.4v1.5h-2.4zM126.0 201.7h1.5v1.2h-1.5zM150.0 140.4h2.4v1.5h-2.4zM195.2 166.6h1.2v1.2h-1.2zM95.5 180.1h1.2v1.2h-1.2zM160.4 204.6h1.5v2h-1.5zM141.6 195.7h1.2v1.2h-1.2zM102.3 136.8h1.5v1.2h-1.5zM132.9 158.8h1.5v1.5h-1.5zM97.8 101.5h1.5v1.5h-1.5zM132.8 198.6h1.2v1.2h-1.2zM145.3 182.3h2.4v2h-2.4zM148.7 131.7h1.2v2h-1.2zM146.6 169.4h2v1.2h-2zM121.2 174.6h1.2v1.2h-1.2zM187.2 189.9h2v1.2h-2zM189.2 166.0h2.4v1.2h-2.4zM133.1 214.0h1.5v1.2h-1.5zM156.4 211.8h2.4v2h-2.4zM110.6 152.3h1.5v1.2h-1.5zM159.6 81.3h2.4v1.2h-2.4zM182.6 139.7h2.4v2h-2.4zM97.1 185.2h2v1.2h-2zM178.3 118.5h1.5v1.2h-1.5zM115.1 161.7h1.2v2h-1.2zM81.0 139.0h2v2h-2zM146.0 64.2h2v2h-2zM59.7 137.2h1.2v1.5h-1.2zM192.2 192.8h1.2v2h-1.2zM195.5 196.4h2.4v2h-2.4zM122.5 217.8h2v1.2h-2zM190.0 91.9h2v2h-2zM123.7 200.5h1.5v1.5h-1.5zM68.9 129.5h1.2v1.2h-1.2zM143.1 91.5h1.2v1.2h-1.2zM79.7 136.8h1.5v1.5h-1.5zM174.6 143.0h1.2v1.5h-1.2zM93.3 184.1h1.2v2h-1.2zM127.8 142.4h1.5v1.5h-1.5zM133.7 70.6h2v2h-2zM107.1 152.3h2.4v1.2h-2.4zM136.9 176.1h1.5v1.5h-1.5zM72.5 199.9h2.4v1.2h-2.4zM186.0 171.9h1.5v1.2h-1.5zM178.3 188.4h2.4v2h-2.4zM70.1 188.3h2.4v1.5h-2.4zM59.4 146.2h1.5v1.2h-1.5zM165.1 158.2h2.4v2h-2.4zM204.0 143.7h2v1.2h-2zM99.6 126.8h1.2v2h-1.2zM107.9 208.8h2.4v1.2h-2.4zM159.4 159.2h2v2h-2zM122.6 168.2h1.2v1.2h-1.2zM112.8 115.9h2.4v1.2h-2.4zM131.2 171.0h1.5v2h-1.5zM123.3 212.0h1.2v1.5h-1.2zM137.0 121.0h1.2v1.5h-1.2zM158.8 221.6h2.4v1.2h-2.4zM161.3 91.6h2v2h-2zM87.6 152.8h1.2v1.2h-1.2zM189.6 103.2h2.4v1.5h-2.4zM199.1 137.2h2.4v1.5h-2.4zM132.8 80.9h2.4v1.2h-2.4zM91.8 215.9h1.2v1.2h-1.2zM176.2 124.7h1.5v1.2h-1.5zM139.6 204.6h1.5v1.5h-1.5zM76.2 122.8h1.5v1.2h-1.5zM119.1 189.1h1.2v2h-1.2zM131.7 79.5h1.2v1.2h-1.2zM178.2 140.6h1.2v1.2h-1.2zM167.5 121.1h2v2h-2zM132.0 207.0h2.4v1.5h-2.4zM108.2 163.4h2.4v1.2h-2.4zM115.5 188.1h1.5v1.5h-1.5zM119.2 116.9h1.2v2h-1.2zM194.6 96.0h2v2h-2zM115.0 175.3h2v2h-2zM194.9 190.4h1.2v1.2h-1.2zM121.9 78.9h2v1.5h-2zM58.0 148.3h2v2h-2zM78.2 132.9h1.2v1.2h-1.2zM90.6 116.7h2.4v1.5h-2.4zM141.9 200.7h1.5v1.2h-1.5zM150.0 63.9h2v1.2h-2zM182.7 187.1h2.4v2h-2.4zM133.5 86.8h2.4v1.2h-2.4zM175.9 197.0h2v1.2h-2zM144.4 89.1h1.5v1.5h-1.5zM125.8 176.7h2.4v2h-2.4zM122.2 142.0h2v1.2h-2zM128.5 164.1h2.4v1.2h-2.4zM139.4 174.6h2v2h-2zM134.1 226.8h1.5v2h-1.5zM73.5 118.6h1.2v1.5h-1.2zM129.9 203.3h2.4v1.2h-2.4zM190.6 137.9h1.5v1.5h-1.5zM82.0 132.3h2.4v1.2h-2.4zM76.3 168.0h1.2v2h-1.2zM148.8 164.9h2v1.2h-2zM73.8 111.1h1.2v1.5h-1.2zM101.6 185.8h1.2v1.2h-1.2zM173.8 170.6h1.2v1.5h-1.2zM157.1 112.8h2.4v1.5h-2.4zM192.2 156.9h2v1.5h-2zM153.3 168.5h2.4v1.2h-2.4zM197.7 133.4h2v2h-2zM145.6 209.9h2v1.5h-2zM197.8 141.9h2v2h-2zM125.5 174.0h2v1.5h-2zM180.5 152.2h1.2v2h-1.2zM144.5 198.0h1.5v1.2h-1.5zM122.3 227.0h2.4v2h-2.4zM123.6 83.9h2v1.2h-2zM158.9 168.0h1.2v1.2h-1.2zM181.0 158.0h2v1.2h-2zM161.0 159.3h1.5v1.5h-1.5zM183.6 211.3h1.5v2h-1.5zM124.5 190.1h2.4v1.5h-2.4zM195.3 132.2h2v2h-2zM143.9 222.0h2.4v2h-2.4zM133.8 197.5h1.5v1.2h-1.5zM146.2 224.9h2v1.2h-2zM129.2 76.9h2v1.2h-2zM125.2 91.2h2v2h-2zM160.7 94.4h1.2v1.2h-1.2zM135.5 86.9h1.5v1.5h-1.5zM189.8 215.4h2.4v1.5h-2.4zM115.4 217.1h2v1.2h-2zM176.9 94.2h2.4v1.2h-2.4zM136.1 148.8h1.2v1.2h-1.2zM191.4 169.2h1.2v1.5h-1.2zM150.2 194.2h2.4v1.2h-2.4zM77.5 163.8h1.5v1.5h-1.5zM167.2 154.9h1.5v1.2h-1.5zM64.4 160.4h2v1.5h-2zM180.1 150.0h2v1.5h-2zM128.6 70.8h1.5v1.2h-1.5zM91.9 199.8h1.2v1.2h-1.2zM75.1 136.0h1.5v2h-1.5zM110.8 209.2h2v2h-2zM131.3 162.3h2v2h-2zM140.6 226.6h2v1.5h-2zM132.1 230.3h1.2v1.2h-1.2zM176.1 90.1h1.5v1.2h-1.5zM128.7 219.6h2.4v2h-2.4zM118.2 188.1h1.5v2h-1.5zM129.8 145.8h2.4v2h-2.4zM176.0 149.5h2.4v1.5h-2.4zM139.0 78.2h2.4v1.2h-2.4zM172.1 171.1h1.2v2h-1.2zM181.9 195.0h2.4v2h-2.4zM127.0 64.0h2.4v2h-2.4zM145.6 73.7h1.5v1.5h-1.5zM136.9 148.1h1.5v1.2h-1.5zM191.5 92.4h1.5v1.2h-1.5zM150.8 172.9h1.2v1.5h-1.2zM186.1 114.1h2.4v2h-2.4zM148.1 80.4h2v1.2h-2zM105.7 120.7h2.4v2h-2.4zM65.0 172.8h2.4v2h-2.4zM124.7 189.0h1.2v1.2h-1.2zM98.2 159.5h2.4v2h-2.4zM129.1 153.3h1.5v1.2h-1.5zM197.6 178.1h2.4v1.5h-2.4zM124.7 169.7h1.2v2h-1.2zM121.4 219.7h2v2h-2zM153.1 102.2h2.4v2h-2.4zM205.3 171.0h1.2v1.5h-1.2zM184.8 192.8h1.2v1.2h-1.2zM143.9 92.2h1.2v1.2h-1.2zM185.1 72.0h1.5v2h-1.5zM71.6 136.6h1.2v1.2h-1.2zM193.5 199.3h1.2v1.5h-1.2zM128.8 214.8h2.4v1.2h-2.4zM110.5 153.4h1.2v1.5h-1.2zM180.4 107.9h2v2h-2zM149.7 178.8h1.2v1.5h-1.2zM148.2 72.9h2.4v1.2h-2.4zM183.2 137.8h1.2v2h-1.2zM63.3 119.9h2.4v1.5h-2.4zM112.5 159.8h2.4v1.2h-2.4zM153.5 222.2h2v2h-2zM176.8 146.5h1.2v1.2h-1.2zM194.8 202.6h1.2v1.5h-1.2zM140.2 97.2h1.2v1.2h-1.2zM190.0 180.0h2v1.2h-2zM142.4 138.5h2v2h-2zM128.8 60.4h2v1.2h-2zM145.9 79.4h1.2v1.5h-1.2zM109.7 197.2h2.4v1.5h-2.4zM131.4 190.2h1.5v1.5h-1.5zM165.2 133.3h2v1.5h-2zM169.2 93.2h1.5v2h-1.5zM111.5 209.1h1.5v1.5h-1.5zM178.7 221.7h2v1.5h-2zM117.0 146.0h2.4v1.2h-2.4zM186.0 163.2h1.2v1.5h-1.2zM141.4 232.3h1.2v1.5h-1.2zM137.0 231.4h2v2h-2zM202.0 175.0h2.4v2h-2.4zM173.1 224.6h2v1.2h-2zM99.8 199.7h2.4v1.2h-2.4zM89.0 152.5h2v1.5h-2zM116.8 175.9h2.4v1.2h-2.4zM196.4 161.8h2v2h-2zM99.0 214.8h2.4v1.5h-2.4zM201.4 172.8h1.5v2h-1.5zM152.0 187.7h1.5v1.5h-1.5zM81.8 152.4h2v1.5h-2zM189.7 129.7h2v2h-2zM174.8 210.4h1.5v2h-1.5zM158.9 127.8h2.4v1.2h-2.4zM199.0 205.6h2v1.2h-2zM192.6 211.5h1.2v1.5h-1.2zM148.5 190.4h1.5v1.2h-1.5zM201.8 195.1h1.5v1.2h-1.5zM188.2 138.2h2.4v1.5h-2.4zM186.6 139.3h2v2h-2zM147.7 183.0h2v1.5h-2zM185.1 124.9h1.5v1.2h-1.5zM68.4 174.9h2.4v2h-2.4zM164.3 123.5h1.5v1.5h-1.5zM100.7 133.0h1.2v2h-1.2zM118.1 176.3h2v2h-2zM153.4 170.6h1.2v1.2h-1.2zM162.0 216.1h2.4v2h-2.4zM192.8 151.8h1.2v2h-1.2zM204.2 157.7h2.4v2h-2.4zM187.3 202.2h2v1.2h-2zM68.4 128.5h1.2v1.5h-1.2zM121.5 178.1h1.5v2h-1.5zM86.9 152.6h2.4v2h-2.4zM150.4 134.0h2.4v1.5h-2.4zM180.0 178.2h2.4v1.5h-2.4zM92.2 118.4h1.2v1.2h-1.2zM174.5 136.5h1.2v2h-1.2zM114.6 79.0h2.4v2h-2.4zM189.9 183.3h2.4v1.2h-2.4zM145.9 85.5h2.4v1.5h-2.4zM141.4 81.7h2.4v1.2h-2.4zM142.9 186.5h1.2v1.5h-1.2zM155.2 204.2h2.4v1.5h-2.4zM184.2 149.8h2.4v2h-2.4zM130.1 171.1h2.4v1.5h-2.4zM116.4 140.9h2v1.2h-2zM118.0 79.2h2v1.5h-2zM120.9 142.5h1.5v1.2h-1.5zM110.8 222.6h1.2v1.2h-1.2zM125.5 141.8h2.4v1.5h-2.4zM199.5 140.1h2v1.2h-2zM163.7 63.3h1.5v1.2h-1.5zM69.1 190.7h2v1.2h-2zM203.1 99.3h2v1.2h-2zM172.2 153.0h2v2h-2zM102.6 102.1h1.2v1.5h-1.2zM119.7 155.8h2.4v2h-2.4zM179.8 145.7h1.2v1.5h-1.2zM184.5 204.5h1.2v1.5h-1.2zM123.3 92.2h2v1.2h-2zM140.6 217.6h2v1.5h-2zM122.5 181.2h2.4v2h-2.4zM116.5 199.2h2v1.2h-2zM109.6 97.5h2.4v2h-2.4zM145.2 128.2h1.5v2h-1.5zM189.9 158.2h2.4v2h-2.4zM158.5 64.2h1.2v1.2h-1.2zM152.8 211.2h1.5v1.2h-1.5zM191.5 105.3h2v1.2h-2zM88.9 154.6h1.2v1.2h-1.2zM193.2 134.6h2.4v1.2h-2.4zM78.1 191.7h2v1.2h-2zM187.9 129.1h1.2v1.2h-1.2zM147.3 210.0h2.4v1.5h-2.4zM115.1 211.9h1.5v1.5h-1.5zM139.5 121.7h1.2v1.5h-1.2zM108.0 224.1h2v1.2h-2zM164.5 183.8h2.4v1.2h-2.4zM144.3 208.2h2v1.2h-2zM107.2 204.4h1.5v1.2h-1.5zM193.1 147.8h2v1.5h-2zM147.6 117.5h2.4v2h-2.4zM192.0 158.0h1.2v2h-1.2zM157.1 100.0h2v1.2h-2zM175.1 192.1h1.5v1.2h-1.5zM137.5 161.8h1.2v1.2h-1.2zM144.2 228.7h1.5v2h-1.5zM198.1 152.0h2v1.2h-2zM121.9 68.4h2v1.2h-2zM136.0 225.8h2v2h-2zM119.3 103.4h2v2h-2zM79.2 179.7h2.4v1.2h-2.4zM131.7 195.8h1.2v1.5h-1.2zM65.5 184.8h2.4v1.5h-2.4zM113.8 207.9h2v2h-2zM92.8 197.3h1.2v1.2h-1.2zM194.4 166.7h2.4v2h-2.4zM123.7 188.9h1.5v1.2h-1.5zM195.7 163.4h1.2v1.5h-1.2zM123.0 97.8h2v1.2h-2zM121.3 227.1h1.5v2h-1.5zM135.2 59.8h1.5v1.2h-1.5zM184.3 193.9h2.4v1.2h-2.4zM198.6 191.8h2v2h-2zM88.3 184.2h1.5v2h-1.5zM123.8 199.1h2v1.2h-2zM117.3 170.3h1.2v1.5h-1.2zM142.5 81.3h2v1.5h-2zM72.2 123.8h2v2h-2zM146.6 95.0h2v1.2h-2zM160.9 183.0h1.2v1.2h-1.2zM199.6 154.8h1.2v2h-1.2zM109.6 146.5h2.4v1.5h-2.4zM95.5 166.9h1.2v1.5h-1.2zM95.9 123.7h1.5v1.2h-1.5zM137.0 131.1h1.5v1.5h-1.5zM185.5 107.4h1.2v2h-1.2zM96.0 143.2h1.2v1.2h-1.2zM123.0 86.6h1.5v1.2h-1.5zM124.8 179.5h2v2h-2zM79.4 177.7h1.2v1.2h-1.2zM178.7 220.4h2.4v1.2h-2.4zM146.1 192.1h2v2h-2zM151.1 167.9h2v2h-2zM163.7 60.9h1.2v1.5h-1.2zM67.7 186.2h2v1.2h-2zM120.3 152.5h2.4v1.2h-2.4zM139.9 209.2h2.4v2h-2.4zM81.0 137.1h2v1.5h-2zM121.2 177.7h2.4v1.5h-2.4zM121.4 143.5h1.2v1.2h-1.2zM115.5 226.6h1.5v2h-1.5zM192.6 206.6h2v1.5h-2zM164.0 177.8h2v1.5h-2zM82.7 130.1h1.5v2h-1.5zM136.1 166.7h2.4v1.5h-2.4zM157.7 69.3h2v1.2h-2zM80.1 125.6h1.2v2h-1.2zM122.5 148.6h1.5v2h-1.5zM169.2 159.5h2v1.2h-2zM113.4 66.5h2.4v2h-2.4zM65.4 164.4h1.2v1.2h-1.2zM123.2 179.0h1.5v2h-1.5zM125.2 80.3h1.2v1.5h-1.2zM146.9 140.0h1.2v2h-1.2zM74.6 129.8h2.4v1.2h-2.4zM105.2 201.3h1.2v1.2h-1.2zM172.8 141.7h2.4v1.2h-2.4zM88.8 188.4h1.2v2h-1.2zM110.0 193.1h1.2v2h-1.2zM91.6 106.5h1.2v1.2h-1.2zM165.8 226.9h2v1.2h-2zM179.3 178.0h1.2v1.5h-1.2zM142.8 188.6h1.2v1.2h-1.2zM149.8 186.3h2v1.5h-2zM129.6 149.9h1.2v1.2h-1.2zM191.2 118.6h2.4v1.2h-2.4zM96.3 147.6h1.5v1.5h-1.5zM85.1 139.3h1.2v1.2h-1.2zM83.0 139.1h2.4v1.5h-2.4zM116.5 116.1h1.5v2h-1.5zM73.5 160.9h2v1.2h-2zM82.3 107.0h2.4v1.5h-2.4zM182.6 168.8h2.4v2h-2.4zM114.6 192.2h2.4v2h-2.4zM110.7 196.8h1.5v1.5h-1.5zM199.3 181.8h1.5v2h-1.5zM202.0 146.5h1.5v1.2h-1.5zM179.3 128.8h1.5v1.2h-1.5zM104.9 97.3h1.2v1.2h-1.2zM173.3 176.3h2v1.5h-2zM199.9 133.5h2.4v2h-2.4zM175.9 215.5h2v2h-2zM130.6 194.3h1.5v2h-1.5zM187.7 144.7h1.5v2h-1.5zM149.6 91.1h2v2h-2zM97.9 211.6h1.5v1.5h-1.5zM115.6 88.7h2.4v1.5h-2.4zM144.1 213.2h2.4v2h-2.4zM60.6 127.5h1.2v1.5h-1.2zM156.3 76.1h2v2h-2zM116.1 190.5h1.5v1.5h-1.5zM108.2 220.5h1.2v1.5h-1.2zM132.4 176.7h1.2v1.5h-1.2zM145.0 171.3h1.2v2h-1.2zM152.3 194.0h1.5v1.2h-1.5zM119.7 179.9h2v1.5h-2zM124.2 168.0h2.4v1.2h-2.4zM203.4 161.4h1.2v1.5h-1.2zM126.4 174.1h2v1.2h-2zM102.2 195.0h1.5v1.2h-1.5zM68.0 127.8h1.2v2h-1.2zM136.9 82.1h1.5v2h-1.5zM185.2 101.2h2.4v1.5h-2.4zM127.1 75.6h1.5v1.2h-1.5zM209.1 181.0h1.2v1.5h-1.2zM111.6 166.2h1.2v1.2h-1.2zM185.5 175.0h2v1.5h-2zM114.1 158.1h2.4v1.2h-2.4zM206.9 171.7h1.5v1.5h-1.5zM120.1 194.4h2.4v1.2h-2.4zM141.7 169.8h2v1.2h-2zM182.2 140.6h2v1.5h-2zM123.5 148.8h1.2v2h-1.2zM125.5 157.8h1.5v1.2h-1.5zM187.1 123.2h2v1.5h-2zM196.9 140.8h2v1.5h-2zM125.2 155.4h1.5v1.5h-1.5zM125.2 75.4h2v1.2h-2zM92.8 137.6h1.2v2h-1.2zM97.9 203.4h2.4v2h-2.4zM111.0 91.6h2v2h-2zM147.8 180.8h2v1.5h-2zM151.0 204.1h1.5v2h-1.5zM114.5 77.9h1.5v1.2h-1.5zM76.4 148.2h2v2h-2zM202.7 194.6h1.5v1.2h-1.5zM178.0 188.2h1.2v1.2h-1.2zM122.6 130.0h1.5v2h-1.5zM138.0 230.9h2v1.2h-2zM176.2 66.8h2v1.2h-2zM156.2 79.8h1.5v1.2h-1.5zM149.4 217.2h1.2v1.5h-1.2zM116.5 211.3h1.5v1.2h-1.5zM85.1 126.6h2.4v1.2h-2.4zM188.2 214.5h1.5v1.5h-1.5zM134.4 78.3h2v1.5h-2zM81.7 138.3h1.5v2h-1.5zM188.7 128.8h1.5v1.2h-1.5zM141.3 183.1h1.5v2h-1.5zM194.4 155.2h2.4v1.2h-2.4zM70.0 140.7h2.4v1.5h-2.4zM107.3 144.6h1.2v2h-1.2zM90.4 202.9h2v1.2h-2zM136.8 183.0h2.4v2h-2.4zM128.8 81.9h2.4v2h-2.4zM146.6 72.3h1.5v1.2h-1.5zM157.2 166.3h1.2v1.2h-1.2zM189.5 133.5h2v1.2h-2zM122.6 75.2h2.4v1.2h-2.4zM104.5 87.1h1.5v2h-1.5zM194.4 188.3h2.4v1.5h-2.4zM113.9 208.6h1.5v1.2h-1.5zM101.2 153.9h2v1.5h-2zM132.7 217.7h1.5v2h-1.5zM197.0 168.9h1.2v2h-1.2zM201.9 182.9h1.2v1.5h-1.2zM133.5 195.3h1.2v1.5h-1.2zM184.1 146.2h2v2h-2zM196.7 139.5h1.5v1.2h-1.5zM188.9 177.5h2.4v2h-2.4zM109.1 102.8h2.4v1.5h-2.4zM120.0 214.1h1.2v2h-1.2zM133.0 231.6h2.4v1.5h-2.4zM76.4 192.2h1.2v1.2h-1.2zM131.4 222.7h2v1.5h-2zM158.0 157.6h2.4v1.5h-2.4zM76.5 163.3h2.4v1.5h-2.4zM175.3 143.9h1.5v1.2h-1.5zM135.5 203.9h1.2v1.5h-1.2zM124.3 162.5h2v2h-2zM167.8 187.1h1.5v1.2h-1.5zM79.3 148.2h1.5v1.5h-1.5zM147.0 173.6h1.2v1.5h-1.2zM108.9 146.8h2v2h-2zM139.2 213.6h1.5v1.2h-1.5zM107.6 102.0h2v1.5h-2zM190.3 142.3h1.2v2h-1.2zM207.0 137.6h2.4v1.5h-2.4zM136.3 69.5h1.5v1.2h-1.5zM90.6 158.7h1.2v1.5h-1.2zM180.6 212.6h2v1.5h-2zM149.9 136.3h1.2v1.5h-1.2zM193.7 188.0h2.4v2h-2.4zM167.3 115.7h2.4v1.2h-2.4zM181.1 137.1h1.2v1.5h-1.2zM150.8 192.6h2v1.2h-2zM118.3 189.4h2.4v1.2h-2.4zM205.1 160.5h1.2v1.5h-1.2zM193.6 180.6h1.2v1.5h-1.2zM166.4 172.5h2.4v1.5h-2.4zM106.1 202.1h2v1.2h-2zM170.7 148.1h1.2v1.2h-1.2zM178.1 176.8h1.5v1.2h-1.5zM198.6 128.7h2.4v1.5h-2.4zM185.5 205.5h2.4v1.5h-2.4zM119.9 179.8h1.5v2h-1.5zM121.1 98.5h2.4v1.2h-2.4zM149.2 86.8h1.5v1.2h-1.5zM168.6 209.1h1.2v1.5h-1.2zM171.7 86.0h1.5v1.2h-1.5zM144.9 127.0h2.4v1.5h-2.4zM140.7 181.6h2v1.2h-2zM87.6 162.6h1.2v1.2h-1.2zM175.2 150.9h1.5v2h-1.5zM157.3 183.3h1.5v1.2h-1.5zM157.4 187.1h2.4v1.2h-2.4zM62.8 158.8h1.2v1.5h-1.2zM124.4 74.0h1.5v2h-1.5zM128.8 182.4h1.5v2h-1.5zM135.1 198.3h1.2v1.2h-1.2zM142.0 72.5h1.5v2h-1.5zM201.1 111.4h2.4v1.2h-2.4zM72.8 184.7h1.5v1.5h-1.5zM103.5 101.2h2.4v1.5h-2.4zM118.3 169.9h2v2h-2zM103.4 196.8h2.4v2h-2.4zM155.7 63.7h1.2v2h-1.2zM127.6 128.1h1.2v1.2h-1.2zM127.2 162.6h1.5v2h-1.5zM97.2 169.5h1.2v1.2h-1.2zM137.1 189.1h2v2h-2zM104.5 149.2h1.2v1.5h-1.2zM134.7 232.7h2.4v1.2h-2.4zM136.8 219.3h1.2v2h-1.2zM111.6 90.8h1.5v2h-1.5zM161.6 74.9h1.5v1.5h-1.5zM128.8 198.2h1.5v1.2h-1.5zM186.7 79.1h2.4v2h-2.4zM190.4 186.9h1.5v1.5h-1.5zM108.9 151.6h1.5v1.5h-1.5zM141.0 125.5h1.2v2h-1.2zM165.0 89.1h2.4v1.5h-2.4zM97.7 129.8h2v1.2h-2zM110.4 198.4h2v2h-2zM144.6 76.0h1.2v2h-1.2zM90.4 128.5h2.4v1.5h-2.4z"/>
<path fill="#a8b8e0" d="M145.2 164.0h2v1.5h-2zM119.6 159.1h2v1.2h-2zM198.5 97.2h1.5v1.5h-1.5zM173.3 118.8h1.2v1.5h-1.2zM160.8 95.2h2.4v1.2h-2.4zM145.5 173.2h1.2v2h-1.2zM170.7 67.4h2v2h-2zM168.3 214.9h1.2v1.5h-1.2zM177.6 147.9h1.5v1.2h-1.5zM65.9 155.8h2.4v1.2h-2.4zM99.7 162.5h2v2h-2zM193.9 84.3h1.5v1.5h-1.5zM205.2 154.8h2v1.2h-2zM114.1 139.3h1.5v1.5h-1.5zM164.8 130.2h2v1.5h-2zM204.4 145.1h1.2v1.5h-1.2zM89.1 165.5h2v1.2h-2zM68.4 173.6h2.4v2h-2.4zM63.1 119.0h1.2v1.5h-1.2zM90.8 122.0h2.4v1.5h-2.4zM81.3 112.1h1.2v2h-1.2zM99.4 191.7h2v2h-2zM149.8 137.3h2v1.2h-2zM202.3 118.2h1.2v1.2h-1.2zM196.2 190.6h1.2v2h-1.2zM173.9 212.4h2.4v2h-2.4zM83.8 109.2h1.2v2h-1.2zM79.9 180.7h2.4v1.2h-2.4zM86.8 154.0h2v1.2h-2zM131.6 167.9h2v1.2h-2zM173.6 166.7h2v2h-2zM122.4 164.0h1.2v1.2h-1.2zM169.7 187.6h2v1.2h-2zM146.6 179.1h2.4v1.5h-2.4zM67.0 172.1h1.2v1.2h-1.2zM161.2 226.4h1.5v1.2h-1.5zM139.6 144.4h1.2v1.2h-1.2zM175.2 209.6h2v1.5h-2zM177.2 91.5h2v2h-2zM85.1 184.8h2v1.5h-2zM123.0 136.1h2.4v2h-2.4zM198.1 118.4h2.4v1.2h-2.4zM175.5 128.0h2v2h-2zM101.3 135.2h1.5v1.5h-1.5zM85.4 193.7h2.4v1.2h-2.4zM191.3 87.7h2.4v1.2h-2.4zM181.1 124.6h1.5v1.5h-1.5zM141.7 116.0h1.5v1.5h-1.5zM178.2 118.2h1.5v1.5h-1.5zM159.1 224.5h1.5v2h-1.5zM101.4 165.6h2.4v1.5h-2.4zM93.2 148.3h2.4v2h-2.4zM119.4 101.8h1.5v2h-1.5zM95.3 193.8h2v1.5h-2zM172.4 169.5h2.4v1.2h-2.4zM100.2 99.7h1.5v1.2h-1.5zM184.8 125.4h1.2v2h-1.2zM91.6 210.4h1.5v1.5h-1.5zM104.7 171.8h1.5v2h-1.5zM111.0 163.8h2.4v1.5h-2.4zM202.5 125.3h2.4v1.2h-2.4zM185.0 94.5h2.4v2h-2.4zM113.7 90.6h1.2v1.5h-1.2zM171.3 179.1h1.2v1.5h-1.2zM178.4 119.4h1.5v1.2h-1.5zM143.8 176.2h1.2v1.2h-1.2zM117.3 137.9h2v2h-2zM180.7 165.3h2.4v2h-2.4zM104.1 100.5h2v1.2h-2zM177.6 129.3h2v1.5h-2zM138.6 166.7h2v2h-2zM96.3 215.4h2v1.2h-2zM126.2 156.3h2v1.5h-2zM174.2 82.2h2v2h-2zM91.3 124.2h1.5v2h-1.5zM177.6 76.2h1.5v1.2h-1.5zM182.8 179.0h2.4v2h-2.4zM174.0 74.2h1.2v1.2h-1.2zM98.8 141.8h1.5v2h-1.5zM151.8 228.5h1.5v2h-1.5zM91.2 199.6h2.4v1.5h-2.4zM160.5 62.1h2.4v1.2h-2.4zM167.2 89.2h2v1.2h-2zM206.3 184.6h1.2v1.2h-1.2zM153.4 172.5h2v1.5h-2zM134.2 109.8h1.2v1.2h-1.2zM196.9 99.9h1.2v2h-1.2zM169.5 169.5h1.5v1.2h-1.5zM108.6 220.5h1.2v2h-1.2zM179.1 189.0h1.2v2h-1.2zM146.9 169.3h2v2h-2zM150.0 168.1h1.2v2h-1.2zM110.3 85.1h1.2v1.2h-1.2zM193.9 122.7h1.2v2h-1.2zM97.9 168.5h1.2v2h-1.2zM105.3 174.4h2v1.2h-2zM71.2 193.8h2v2h-2zM87.4 194.9h2.4v2h-2.4zM85.6 212.9h1.5v1.5h-1.5zM102.6 116.0h2.4v1.5h-2.4zM203.9 124.6h1.5v2h-1.5zM106.4 174.0h2.4v1.2h-2.4zM93.8 170.0h1.5v2h-1.5zM110.7 221.1h2v1.5h-2zM139.5 116.1h2.4v2h-2.4zM145.6 161.4h2v1.5h-2zM90.5 151.6h1.5v1.5h-1.5zM89.5 178.3h2v1.2h-2zM197.1 119.7h1.2v1.5h-1.2zM135.9 165.4h2.4v1.2h-2.4zM136.4 165.0h2v2h-2zM193.1 186.1h1.2v2h-1.2zM103.6 168.1h2v1.5h-2zM192.3 92.7h2.4v2h-2.4zM177.9 113.8h1.5v1.5h-1.5zM121.9 114.7h1.5v1.2h-1.5zM172.9 164.2h2.4v1.5h-2.4zM98.8 138.2h1.5v1.2h-1.5zM95.2 102.3h1.2v1.5h-1.2zM139.1 153.3h1.2v1.2h-1.2zM167.3 157.5h1.5v2h-1.5zM179.8 93.4h2v2h-2zM98.9 115.3h1.2v1.5h-1.2zM180.7 156.5h2.4v1.5h-2.4zM86.3 162.3h1.5v2h-1.5zM152.1 172.0h2.4v2h-2.4zM166.3 72.0h1.5v1.5h-1.5zM182.3 92.6h2.4v1.5h-2.4zM85.3 184.9h2.4v1.5h-2.4zM190.0 125.0h2v2h-2zM198.2 102.0h1.5v2h-1.5zM144.5 171.2h2v1.2h-2zM148.3 163.3h2v1.5h-2zM101.2 184.5h1.5v1.2h-1.5zM200.3 126.3h1.5v1.2h-1.5zM155.7 225.9h1.5v2h-1.5zM158.3 229.9h1.2v1.5h-1.2zM199.3 183.9h1.5v2h-1.5zM197.7 191.1h2v1.5h-2zM157.0 225.7h1.5v1.5h-1.5zM97.9 160.1h2v1.2h-2zM138.1 118.5h1.5v2h-1.5zM176.1 117.3h1.5v2h-1.5zM165.7 189.3h2.4v2h-2.4zM95.7 201.7h1.5v1.5h-1.5zM134.1 117.7h2.4v1.5h-2.4zM107.1 85.6h2v1.5h-2zM110.4 90.8h1.5v1.5h-1.5zM117.4 104.5h1.2v1.5h-1.2zM164.4 99.1h2.4v2h-2.4zM95.8 216.6h1.2v2h-1.2zM117.1 111.1h2.4v2h-2.4zM177.4 125.6h1.5v1.5h-1.5zM190.3 120.3h2v1.5h-2zM180.3 165.9h1.5v2h-1.5zM172.1 159.2h1.2v2h-1.2zM167.4 109.0h1.2v1.2h-1.2zM203.6 158.7h1.2v2h-1.2zM156.2 155.2h1.5v2h-1.5zM101.9 212.0h2.4v1.2h-2.4zM93.3 216.2h2.4v2h-2.4zM118.0 102.5h1.2v1.5h-1.2zM197.0 88.3h1.2v2h-1.2zM104.0 191.3h1.2v1.2h-1.2zM101.6 136.7h1.5v2h-1.5zM187.7 216.5h2v1.5h-2zM101.0 202.7h2.4v1.2h-2.4zM140.0 177.2h1.5v1.5h-1.5zM140.9 127.0h2.4v1.2h-2.4zM167.6 151.4h2.4v2h-2.4zM171.3 65.6h2v1.2h-2zM95.8 146.1h1.5v1.5h-1.5zM99.3 166.7h1.5v1.5h-1.5zM172.8 196.1h2v1.2h-2zM133.4 133.2h1.5v1.5h-1.5zM168.3 126.7h1.2v1.2h-1.2zM200.4 103.1h1.2v2h-1.2zM82.0 106.6h2v1.2h-2zM82.2 169.9h2.4v1.5h-2.4zM159.6 103.7h2v2h-2zM101.9 131.5h1.2v1.5h-1.2zM120.6 154.9h1.2v1.2h-1.2zM116.1 163.9h1.2v2h-1.2zM133.9 120.5h1.5v1.2h-1.5zM149.3 109.1h2v1.2h-2zM95.7 132.9h2v1.5h-2zM202.4 125.5h1.5v2h-1.5zM172.1 165.5h1.5v1.2h-1.5zM137.0 153.2h1.2v2h-1.2zM88.2 195.0h2v1.5h-2zM177.4 125.6h2.4v1.5h-2.4zM103.4 219.9h1.5v1.5h-1.5zM180.1 176.5h1.2v2h-1.2zM80.1 189.7h2v2h-2zM167.5 220.6h2.4v1.5h-2.4zM167.7 79.0h2v1.2h-2zM152.2 230.4h2.4v2h-2.4zM101.1 184.5h2v2h-2zM125.9 135.5h2v2h-2zM185.6 84.0h2.4v1.5h-2.4zM116.7 163.0h1.2v1.2h-1.2zM99.8 108.7h1.5v1.5h-1.5zM164.3 96.9h2.4v2h-2.4zM88.4 152.3h1.5v1.2h-1.5zM109.4 95.3h2v1.2h-2zM92.8 192.6h1.5v2h-1.5zM102.0 107.0h2.4v1.5h-2.4zM86.7 208.1h1.5v2h-1.5zM178.7 173.6h1.2v2h-1.2zM69.7 173.9h2v1.2h-2zM99.7 105.8h1.2v1.5h-1.2zM143.6 170.4h2.4v2h-2.4zM105.8 180.9h2.4v2h-2.4zM161.9 223.4h1.2v1.5h-1.2zM73.1 177.2h1.2v1.5h-1.2zM101.8 200.0h2.4v2h-2.4zM169.7 70.8h1.5v1.2h-1.5zM171.7 164.1h2.4v1.5h-2.4zM117.3 63.4h1.2v1.5h-1.2zM147.8 136.2h1.5v1.2h-1.5zM166.8 183.0h2v1.2h-2zM209.1 176.6h2.4v1.5h-2.4zM149.5 104.1h1.2v1.5h-1.2zM93.2 187.0h2v1.5h-2zM91.8 175.6h1.5v1.5h-1.5zM85.4 197.2h1.5v1.5h-1.5zM78.2 109.0h1.5v1.2h-1.5zM158.0 171.8h2v2h-2zM141.2 137.0h2v1.5h-2zM89.8 212.5h2v1.2h-2zM169.7 69.2h2v2h-2zM100.8 110.0h2.4v1.5h-2.4zM72.6 177.2h2v2h-2zM188.1 189.7h2.4v1.5h-2.4zM171.7 93.0h2v1.5h-2zM134.0 131.5h2.4v1.2h-2.4zM174.2 204.4h2.4v1.2h-2.4zM88.5 197.0h1.2v1.5h-1.2zM194.2 98.4h2.4v2h-2.4zM204.8 158.9h2.4v1.2h-2.4zM169.0 82.4h2v1.2h-2zM98.8 221.4h1.5v1.2h-1.5zM127.3 154.6h2.4v1.2h-2.4zM103.8 108.7h2.4v2h-2.4zM76.1 156.4h2v1.2h-2zM113.8 65.8h1.5v1.2h-1.5zM82.1 193.8h1.5v2h-1.5zM185.5 181.1h2.4v1.2h-2.4zM119.2 161.0h2.4v1.5h-2.4zM156.6 168.5h2.4v1.5h-2.4zM171.0 150.4h2.4v1.2h-2.4zM168.7 148.6h1.2v1.2h-1.2zM147.0 126.3h2.4v2h-2.4zM174.7 73.9h1.5v1.5h-1.5zM169.1 172.1h1.5v1.5h-1.5zM140.8 148.0h1.5v1.2h-1.5zM66.9 116.5h1.2v2h-1.2zM174.1 142.0h1.5v1.2h-1.5zM63.0 154.5h1.2v1.2h-1.2zM154.5 100.4h2.4v1.2h-2.4zM152.1 153.0h1.5v1.5h-1.5zM99.4 205.6h2.4v1.2h-2.4zM152.0 123.5h1.2v2h-1.2zM106.5 91.1h1.5v2h-1.5zM85.2 118.2h2.4v2h-2.4zM137.1 139.8h2.4v2h-2.4zM83.8 117.7h1.2v1.2h-1.2zM75.1 111.1h1.5v1.2h-1.5zM166.6 177.7h1.2v1.5h-1.2zM111.3 165.7h1.2v1.2h-1.2zM109.9 70.7h1.2v2h-1.2zM108.3 102.5h2v1.5h-2zM69.0 162.8h2v1.2h-2zM166.9 164.5h1.5v2h-1.5zM165.5 66.5h1.5v1.5h-1.5zM142.1 140.6h1.2v1.5h-1.2zM158.5 222.3h1.2v1.2h-1.2zM159.8 155.7h1.5v1.5h-1.5zM93.3 159.0h2.4v1.2h-2.4zM177.5 152.3h2.4v1.2h-2.4zM149.2 177.8h1.5v2h-1.5zM157.2 167.0h2.4v1.2h-2.4zM163.3 222.0h2v2h-2zM123.9 160.5h1.5v1.2h-1.5zM105.5 167.4h2.4v1.5h-2.4z"/>
<path fill="#aedc96" d="M116.1 207.8h1.2v1.2h-1.2zM188.4 165.0h1.5v2h-1.5zM143.5 76.2h2v2h-2zM160.5 89.3h2.4v1.5h-2.4zM141.8 82.2h2v1.5h-2zM188.5 141.2h1.2v1.5h-1.2zM118.5 194.0h1.5v2h-1.5zM149.8 81.1h1.5v1.5h-1.5zM145.7 60.4h2v1.5h-2zM127.6 90.0h1.2v1.2h-1.2zM146.4 94.1h1.5v1.5h-1.5zM71.2 142.7h2v1.5h-2zM116.4 181.8h1.2v1.2h-1.2zM69.2 133.0h1.2v1.5h-1.2zM116.2 172.7h1.5v1.5h-1.5zM119.1 216.8h1.5v2h-1.5zM200.4 169.5h1.5v2h-1.5zM189.1 149.8h2.4v1.2h-2.4zM108.8 182.0h1.5v1.5h-1.5zM125.0 148.0h2.4v2h-2.4zM75.0 142.4h2.4v1.2h-2.4zM106.6 146.7h1.5v1.5h-1.5zM128.2 227.0h1.2v2h-1.2zM138.3 80.5h2v1.5h-2zM131.0 212.3h1.2v2h-1.2zM112.8 194.5h1.2v1.5h-1.2zM127.7 171.1h2v1.2h-2zM64.1 129.9h2.4v1.2h-2.4zM123.7 140.6h1.5v1.5h-1.5zM131.7 184.7h2.4v1.5h-2.4zM130.8 215.3h1.5v2h-1.5zM137.3 197.4h2.4v2h-2.4zM191.8 140.3h2.4v1.2h-2.4zM133.1 185.0h1.2v1.5h-1.2zM133.7 209.3h1.2v2h-1.2zM126.0 140.0h2.4v2h-2.4zM204.0 139.1h1.5v2h-1.5zM75.2 127.4h2.4v1.2h-2.4zM134.5 79.9h2.4v1.2h-2.4zM111.8 179.9h2.4v1.5h-2.4zM72.5 141.1h2v1.2h-2zM160.2 204.3h2.4v1.5h-2.4zM149.2 79.1h2v1.2h-2zM134.7 72.6h2v1.2h-2zM95.1 117.0h1.2v1.5h-1.2zM186.1 138.0h1.2v1.5h-1.2zM190.2 157.5h1.5v1.5h-1.5zM98.1 144.4h1.2v1.5h-1.2zM125.1 207.1h1.2v2h-1.2zM132.3 188.0h1.2v1.2h-1.2zM91.1 111.2h1.5v1.5h-1.5zM137.0 181.9h1.2v1.5h-1.2zM133.7 198.4h1.2v1.5h-1.2zM200.4 139.6h1.2v1.5h-1.2zM192.2 147.0h1.5v1.5h-1.5zM122.6 211.8h2.4v2h-2.4zM161.1 214.7h1.5v2h-1.5zM117.5 185.6h1.2v1.5h-1.2zM74.4 136.1h2v1.5h-2zM70.2 120.6h2v1.5h-2zM146.1 76.5h1.2v2h-1.2zM127.6 148.5h1.5v1.5h-1.5zM156.2 75.3h1.5v1.2h-1.5zM123.6 169.1h2v1.5h-2zM152.8 219.1h1.5v2h-1.5zM123.1 171.6h1.5v1.2h-1.5zM194.5 102.9h1.2v1.5h-1.2zM126.0 186.0h1.5v1.5h-1.5zM142.0 201.3h1.5v2h-1.5zM189.8 98.2h1.2v2h-1.2zM126.2 213.4h2v1.2h-2zM149.8 73.8h2.4v2h-2.4zM63.6 135.7h2v1.2h-2zM130.3 176.2h2.4v1.2h-2.4zM60.8 141.3h1.2v2h-1.2zM88.0 147.5h1.5v1.2h-1.5zM127.6 87.7h2v2h-2zM59.4 132.7h2v1.2h-2zM129.4 230.3h1.2v2h-1.2zM125.5 204.6h2v1.5h-2zM121.0 208.7h1.5v1.5h-1.5zM141.7 82.1h1.2v1.2h-1.2zM128.0 78.7h1.2v1.5h-1.2zM143.6 72.3h1.2v1.5h-1.2zM144.7 98.7h2.4v1.2h-2.4zM112.1 199.7h2v1.5h-2zM93.6 139.1h2.4v2h-2.4zM82.6 151.3h2.4v1.5h-2.4zM129.8 61.1h1.5v1.2h-1.5zM136.1 198.2h1.5v1.2h-1.5zM116.9 156.1h1.2v1.5h-1.2zM89.9 107.4h1.5v2h-1.5zM178.2 143.6h1.5v2h-1.5zM73.9 125.7h2v1.2h-2zM112.0 187.1h1.2v2h-1.2zM124.6 94.8h1.5v2h-1.5zM151.8 193.3h2.4v2h-2.4zM196.9 178.1h2.4v1.2h-2.4zM72.1 188.0h2v1.2h-2zM156.0 78.5h1.5v1.2h-1.5zM141.5 94.3h1.5v2h-1.5zM82.5 124.9h2v1.5h-2zM190.1 133.2h2.4v1.2h-2.4zM179.8 130.4h1.2v1.2h-1.2zM66.7 182.0h1.5v2h-1.5zM192.0 152.3h2.4v1.5h-2.4zM186.1 128.7h1.2v2h-1.2zM92.9 113.5h2v1.2h-2zM112.0 148.7h2v1.5h-2zM161.3 80.8h1.5v1.2h-1.5zM112.3 148.8h1.2v1.2h-1.2zM150.4 202.2h2v2h-2zM195.0 131.7h2v1.5h-2zM134.9 208.2h2.4v1.5h-2.4zM162.7 86.9h2.4v2h-2.4zM122.9 142.6h1.5v1.5h-1.5zM80.1 147.8h2v1.2h-2zM137.2 202.5h1.2v1.5h-1.2zM199.4 165.0h2.4v1.2h-2.4zM139.7 205.7h1.5v1.5h-1.5zM157.2 59.6h1.2v1.5h-1.2zM195.4 203.9h1.2v2h-1.2zM120.5 177.1h2.4v2h-2.4zM136.7 223.6h2.4v1.5h-2.4zM144.2 78.7h1.2v2h-1.2zM116.9 216.0h1.2v1.2h-1.2zM147.1 180.3h1.5v1.2h-1.5zM128.6 200.6h2v1.5h-2zM177.1 134.9h1.5v1.5h-1.5zM181.8 130.1h1.5v1.2h-1.5zM74.0 183.2h2.4v2h-2.4zM70.7 182.8h1.2v2h-1.2zM189.4 114.0h1.2v1.5h-1.2zM72.5 118.2h2v1.5h-2zM196.0 102.2h1.5v1.2h-1.5zM182.5 202.4h2v1.5h-2zM188.1 208.5h1.5v1.2h-1.5zM190.1 180.2h2v2h-2zM160.3 203.6h1.5v1.2h-1.5zM176.8 135.8h1.5v1.2h-1.5zM156.9 75.6h2.4v2h-2.4zM122.4 179.1h1.5v1.5h-1.5zM147.1 208.9h2.4v2h-2.4zM82.2 136.7h2v1.2h-2zM176.6 206.2h1.5v1.5h-1.5zM142.7 194.5h1.5v1.2h-1.5zM109.6 207.2h1.2v1.5h-1.2zM128.5 70.3h1.2v1.5h-1.2zM108.8 155.6h1.5v1.2h-1.5zM138.8 209.9h2v1.2h-2zM70.8 142.0h1.2v1.2h-1.2zM200.4 174.8h2v1.2h-2zM155.5 207.9h1.5v2h-1.5zM91.5 102.5h2.4v2h-2.4zM195.3 141.9h1.2v1.2h-1.2zM132.2 146.4h2.4v1.2h-2.4zM161.3 195.3h1.2v1.5h-1.2zM147.8 227.5h2v2h-2zM128.9 72.6h1.2v1.5h-1.2zM117.1 86.9h2.4v1.5h-2.4zM83.8 136.9h2v1.5h-2zM110.5 217.2h2.4v1.2h-2.4zM197.7 178.5h2.4v1.2h-2.4zM116.7 186.1h2.4v1.5h-2.4zM84.3 151.9h1.5v1.2h-1.5zM144.0 204.6h2.4v1.2h-2.4zM145.5 66.0h2.4v1.5h-2.4zM136.5 74.8h1.5v1.2h-1.5zM135.4 62.1h2v1.5h-2zM145.7 209.3h2.4v1.5h-2.4zM195.7 139.6h2.4v1.2h-2.4zM142.6 63.0h1.2v1.2h-1.2zM140.3 60.5h1.2v1.2h-1.2zM83.1 152.6h1.5v1.2h-1.5zM150.8 66.8h2v1.5h-2zM191.6 148.0h1.5v1.2h-1.5zM141.6 77.8h2.4v2h-2.4zM117.6 200.5h2.4v2h-2.4zM184.7 144.7h1.2v1.5h-1.2zM136.4 221.4h2.4v1.5h-2.4zM112.9 207.6h2.4v1.5h-2.4zM78.8 120.3h2.4v1.2h-2.4zM108.3 161.3h2.4v1.5h-2.4zM200.0 161.5h1.2v2h-1.2zM197.8 179.4h2v2h-2zM129.6 178.2h1.2v1.5h-1.2zM127.5 182.5h1.5v2h-1.5zM130.6 77.5h2v1.2h-2zM178.9 149.1h1.2v1.2h-1.2zM74.0 140.8h1.2v1.5h-1.2zM132.3 197.1h2v1.2h-2zM128.6 207.1h1.2v2h-1.2zM118.1 182.4h2v1.2h-2zM133.1 181.9h2.4v1.5h-2.4zM84.3 149.6h2v2h-2zM135.0 199.2h1.2v1.5h-1.2zM64.6 140.6h1.2v1.5h-1.2zM146.7 190.5h2v1.5h-2zM88.6 135.0h2v1.2h-2zM117.6 197.4h1.5v2h-1.5zM146.9 96.9h2.4v1.5h-2.4zM158.8 94.0h1.2v2h-1.2zM165.5 187.5h1.2v1.2h-1.2zM150.8 190.2h1.5v1.2h-1.5zM85.2 107.9h1.2v1.5h-1.2zM135.5 222.8h2.4v2h-2.4zM131.9 60.2h2.4v1.2h-2.4zM148.1 227.8h2v2h-2zM119.5 84.5h1.2v1.2h-1.2zM205.2 167.0h2.4v1.2h-2.4zM120.6 81.2h1.2v1.5h-1.2zM143.4 75.7h1.2v1.2h-1.2zM68.1 183.8h2.4v1.2h-2.4zM127.2 217.1h2.4v1.2h-2.4zM129.9 191.3h2.4v1.5h-2.4zM127.1 61.5h2v2h-2zM116.2 213.8h2.4v1.5h-2.4zM84.4 130.6h1.2v1.2h-1.2zM123.2 224.7h2v1.2h-2zM149.9 68.3h2.4v1.2h-2.4zM135.4 180.7h1.2v2h-1.2zM115.7 189.5h2v1.5h-2zM115.1 192.1h2v1.2h-2zM193.6 173.1h1.2v2h-1.2zM129.7 91.1h2v1.2h-2zM188.1 153.6h2v1.5h-2zM156.8 69.5h2v1.5h-2zM126.4 83.8h2.4v2h-2.4zM111.3 181.2h1.2v1.2h-1.2zM114.8 150.1h2.4v1.5h-2.4zM132.2 190.2h2.4v2h-2.4zM121.5 68.8h2.4v1.2h-2.4zM192.4 182.9h2.4v1.5h-2.4zM159.8 193.8h2.4v2h-2.4zM143.7 62.8h2.4v2h-2.4zM127.0 144.7h1.2v2h-1.2zM187.0 170.3h1.2v1.5h-1.2zM116.8 223.3h1.5v1.2h-1.5zM148.0 70.0h2v1.2h-2zM188.9 127.5h1.2v1.5h-1.2zM112.1 171.0h2v1.2h-2zM136.5 194.1h1.5v1.5h-1.5zM156.6 186.2h1.5v1.5h-1.5zM125.3 82.3h2.4v1.2h-2.4zM125.8 149.4h1.5v1.2h-1.5zM135.6 96.7h2v1.5h-2zM150.1 72.1h2.4v1.5h-2.4zM150.1 74.2h2.4v1.2h-2.4zM130.5 217.1h1.5v2h-1.5zM198.6 170.9h2v2h-2zM93.5 104.5h1.2v2h-1.2zM107.0 149.7h2.4v1.2h-2.4zM194.8 148.0h1.2v1.5h-1.2zM142.6 185.5h1.2v1.2h-1.2zM183.5 148.5h1.5v1.5h-1.5zM195.4 161.8h2v1.5h-2zM125.4 172.9h2v1.2h-2zM143.7 207.5h2v1.2h-2zM90.0 128.0h2.4v2h-2.4zM147.9 202.6h2v1.5h-2zM145.2 214.0h2.4v1.2h-2.4zM111.5 146.4h1.5v2h-1.5zM149.3 209.0h2.4v2h-2.4zM107.8 197.6h2.4v2h-2.4zM126.8 144.2h1.2v2h-1.2zM114.8 151.2h1.5v1.5h-1.5zM68.1 132.7h2.4v2h-2.4zM131.6 88.5h2v1.2h-2zM139.8 216.6h1.5v1.2h-1.5zM187.3 111.1h1.2v2h-1.2zM154.5 195.2h2.4v1.5h-2.4zM137.7 206.5h1.5v1.2h-1.5zM154.9 209.0h2.4v2h-2.4zM149.7 184.9h2.4v1.2h-2.4zM122.8 225.5h1.5v1.5h-1.5zM186.0 153.8h1.2v1.5h-1.2zM189.6 169.3h1.2v1.5h-1.2zM65.8 141.8h2v1.5h-2zM118.3 84.8h2v1.2h-2zM140.9 72.6h2v1.2h-2zM115.8 177.4h1.2v2h-1.2zM105.6 160.7h2v2h-2zM199.4 131.0h1.2v1.2h-1.2zM201.2 181.0h1.5v2h-1.5zM140.6 74.8h2.4v1.5h-2.4zM141.9 200.7h2v2h-2zM91.7 142.0h1.2v1.5h-1.2zM196.4 176.8h2.4v1.2h-2.4zM114.4 169.2h1.2v2h-1.2zM128.0 180.6h2.4v1.2h-2.4zM198.9 166.2h2.4v2h-2.4zM155.5 213.4h2.4v1.2h-2.4zM121.8 64.9h1.2v1.2h-1.2zM145.1 211.1h2.4v1.5h-2.4zM190.8 145.4h2v1.2h-2zM140.0 218.3h1.5v1.2h-1.5zM148.5 75.3h1.2v2h-1.2zM149.4 202.5h1.2v1.2h-1.2zM151.6 74.7h2v1.2h-2zM135.4 67.5h1.5v1.5h-1.5zM130.4 221.6h1.5v2h-1.5zM183.8 145.8h2.4v1.2h-2.4zM196.1 172.9h1.2v1.5h-1.2zM143.2 178.2h2.4v1.5h-2.4zM138.6 202.4h2v2h-2zM118.0 80.0h2v2h-2zM134.7 207.6h1.2v2h-1.2zM126.0 97.0h2.4v2h-2.4zM128.8 204.7h1.2v1.2h-1.2zM130.7 201.5h1.2v2h-1.2zM145.9 196.0h1.2v2h-1.2zM127.7 69.4h1.2v1.5h-1.2zM144.1 213.8h1.2v1.2h-1.2zM121.5 208.7h2.4v2h-2.4zM126.6 224.0h2v2h-2zM147.0 70.5h1.2v1.5h-1.2zM193.3 169.2h2v1.5h-2zM183.0 168.1h1.2v2h-1.2zM119.6 71.3h2v1.2h-2zM116.4 199.2h2.4v2h-2.4zM64.1 144.6h2v2h-2zM127.1 206.3h1.2v2h-1.2zM133.5 68.2h1.5v1.2h-1.5zM150.5 80.6h2.4v1.5h-2.4zM95.3 115.8h2v1.2h-2zM127.4 78.8h2.4v1.5h-2.4zM132.6 190.2h1.2v1.2h-1.2zM106.7 146.3h2v1.2h-2zM120.9 218.7h2v1.2h-2zM123.3 71.3h1.2v2h-1.2zM119.0 145.3h2v1.2h-2zM140.9 79.1h1.5v2h-1.5zM82.0 137.9h1.2v1.2h-1.2zM134.0 78.3h1.5v1.5h-1.5zM187.2 176.1h1.2v2h-1.2zM78.8 142.4h1.2v1.2h-1.2zM149.1 214.6h2v2h-2zM72.2 152.1h2v1.2h-2zM199.0 174.8h2v1.5h-2zM119.8 173.2h2v2h-2zM127.1 150.1h2.4v1.5h-2.4zM155.2 73.4h1.2v1.5h-1.2zM103.9 146.8h2.4v1.5h-2.4zM125.3 224.7h2v1.5h-2zM149.4 94.1h1.5v2h-1.5zM82.6 127.6h1.2v1.2h-1.2zM91.9 132.5h1.2v2h-1.2zM130.4 211.1h1.2v1.5h-1.2zM182.9 132.8h1.2v1.5h-1.2zM153.7 67.1h2.4v2h-2.4zM146.2 203.7h2v2h-2zM116.5 169.6h2.4v1.2h-2.4zM118.4 195.9h2v1.2h-2zM133.1 176.9h2.4v1.2h-2.4zM143.8 68.6h1.2v2h-1.2zM158.4 93.4h2.4v1.5h-2.4zM132.4 61.6h1.2v1.2h-1.2zM110.3 179.2h1.5v1.2h-1.5zM131.7 181.1h1.2v2h-1.2zM79.1 128.6h1.2v1.5h-1.2zM113.9 156.3h2.4v1.5h-2.4zM183.1 137.5h2.4v1.5h-2.4zM190.1 112.4h1.5v1.5h-1.5zM133.0 231.4h2.4v1.2h-2.4zM186.5 204.6h1.2v1.5h-1.2zM120.8 182.9h1.2v2h-1.2zM71.8 149.8h2v2h-2zM107.5 150.5h1.5v2h-1.5zM192.2 139.9h2.4v2h-2.4zM137.0 200.6h1.5v2h-1.5zM146.3 78.4h1.2v1.5h-1.2zM114.8 202.9h1.5v1.5h-1.5zM122.7 195.3h1.2v1.5h-1.2zM124.4 77.0h2.4v1.5h-2.4zM185.2 148.9h1.2v2h-1.2zM141.8 63.8h1.2v2h-1.2zM190.6 163.7h2.4v2h-2.4zM78.6 137.2h2v1.2h-2z"/>
<path fill="#b84a6c" d="M148.5 100.1h1.2v2h-1.2zM122.3 92.6h2v2h-2zM132.8 88.2h2.4v1.2h-2.4zM161.7 184.0h2.4v1.5h-2.4zM136.1 89.2h2v1.5h-2zM141.4 93.9h2v2h-2zM149.9 76.3h2.4v1.5h-2.4zM127.7 91.2h2v2h-2zM124.2 70.8h2.4v2h-2.4zM142.2 98.2h1.5v1.5h-1.5zM142.5 74.3h1.2v1.2h-1.2zM134.0 72.7h1.5v1.5h-1.5zM150.9 82.3h1.2v1.5h-1.2zM137.2 70.2h2.4v1.5h-2.4zM152.7 99.1h2.4v1.5h-2.4zM159.3 85.4h1.5v1.2h-1.5zM139.9 75.5h2.4v1.2h-2.4zM141.0 69.0h1.2v1.5h-1.2zM136.4 88.7h2.4v1.5h-2.4zM129.6 66.2h1.2v1.5h-1.2z"/>
<path fill="#c04a6c" d="M84.7 130.2h1.2v1.5h-1.2zM67.5 140.3h2v1.2h-2zM81.8 138.3h2v1.2h-2zM76.9 129.4h1.2v2h-1.2zM90.1 108.0h2v2h-2zM61.0 148.2h1.5v2h-1.5zM82.5 144.1h2.4v1.5h-2.4zM83.8 137.0h1.2v2h-1.2zM65.3 132.9h1.2v1.2h-1.2zM77.6 137.2h1.2v1.2h-1.2zM74.6 119.7h2v2h-2zM73.4 149.2h1.2v1.5h-1.2zM77.0 130.7h2.4v1.2h-2.4zM71.2 128.2h1.5v2h-1.5zM92.3 131.5h2.4v1.2h-2.4zM58.8 146.7h1.5v1.5h-1.5zM91.5 134.2h1.5v2h-1.5zM80.8 142.6h2v2h-2zM80.3 154.2h2.4v2h-2.4zM79.1 130.2h2v1.2h-2zM86.9 144.9h2v1.5h-2zM86.6 150.6h2.4v1.5h-2.4zM85.4 123.5h2v2h-2zM84.5 124.5h1.2v2h-1.2zM87.4 106.5h2v1.5h-2zM93.0 135.3h1.2v2h-1.2zM81.4 152.0h2.4v1.5h-2.4zM86.6 129.5h2.4v1.2h-2.4z"/>
<path fill="#c8e4bc" d="M197.0 111.3h2v1.5h-2zM199.4 166.6h2v1.2h-2zM202.3 173.1h2.4v2h-2.4zM188.8 127.3h2v2h-2zM123.7 214.0h2.4v1.5h-2.4zM186.2 104.2h1.5v2h-1.5zM158.0 219.6h2v1.5h-2zM189.0 167.7h1.2v1.2h-1.2zM189.6 126.0h1.2v1.5h-1.2zM116.6 181.2h1.2v1.5h-1.2zM188.3 105.3h1.5v1.5h-1.5zM145.0 198.5h1.2v1.5h-1.2zM181.6 140.7h1.5v2h-1.5zM189.7 149.3h2.4v2h-2.4zM152.5 185.5h1.5v2h-1.5zM121.8 188.5h2v2h-2zM128.8 187.9h1.2v1.5h-1.2zM191.0 147.3h2v1.5h-2zM119.1 180.0h1.5v2h-1.5zM112.9 190.9h1.5v1.5h-1.5zM204.0 169.2h2.4v1.2h-2.4zM153.5 221.1h2v1.2h-2zM127.7 224.8h2.4v1.5h-2.4zM99.2 147.4h1.2v1.5h-1.2zM116.2 153.2h2.4v1.5h-2.4zM68.3 187.5h2v2h-2zM124.0 208.1h1.2v2h-1.2zM141.1 220.6h1.2v1.5h-1.2zM127.3 167.8h1.2v2h-1.2zM195.6 136.3h1.2v1.2h-1.2zM202.0 142.9h1.2v1.2h-1.2zM189.2 204.5h1.5v1.2h-1.5zM145.1 191.4h2.4v1.2h-2.4zM152.3 225.7h2.4v2h-2.4zM150.9 186.3h1.2v1.2h-1.2zM190.0 112.9h2.4v2h-2.4zM194.4 147.0h1.5v2h-1.5zM111.3 139.3h2.4v1.2h-2.4zM197.8 143.4h1.5v1.5h-1.5zM186.8 207.7h1.5v1.5h-1.5zM131.9 224.0h2.4v2h-2.4zM118.3 188.3h1.5v1.2h-1.5zM129.9 176.5h1.2v2h-1.2zM125.8 199.9h2.4v1.2h-2.4zM128.4 181.3h1.2v1.5h-1.2zM190.0 106.3h1.2v1.5h-1.2zM201.9 165.0h2v1.2h-2zM147.9 216.9h1.5v1.2h-1.5zM110.7 175.1h2v1.2h-2zM124.4 216.9h2.4v2h-2.4zM121.4 215.5h1.5v2h-1.5zM151.4 227.0h2.4v1.5h-2.4zM202.4 142.9h2.4v1.5h-2.4zM141.5 186.5h1.2v1.2h-1.2zM110.6 173.9h1.5v1.2h-1.5zM129.9 202.8h1.5v1.5h-1.5zM137.9 208.6h2v2h-2zM190.4 141.5h1.5v1.2h-1.5zM131.2 198.9h2.4v1.2h-2.4zM127.1 183.7h2v1.2h-2zM107.5 138.0h2.4v1.2h-2.4zM124.4 177.9h1.2v1.5h-1.2zM159.8 210.1h2.4v1.5h-2.4zM126.1 148.6h1.5v1.2h-1.5zM143.8 199.1h1.5v2h-1.5zM119.4 176.3h1.2v1.5h-1.2zM128.5 222.9h2v2h-2zM200.7 141.2h1.2v1.5h-1.2zM139.4 203.8h1.5v1.5h-1.5zM122.6 173.6h1.2v1.2h-1.2zM196.0 142.9h1.5v1.2h-1.5zM142.8 191.9h1.2v1.2h-1.2zM132.1 215.7h1.2v1.2h-1.2zM185.8 170.4h2.4v2h-2.4zM109.8 174.2h1.2v1.5h-1.2zM191.7 132.2h2v2h-2zM108.2 208.5h2v2h-2zM129.2 230.8h2v1.5h-2zM129.0 201.1h1.2v2h-1.2zM151.6 214.1h2v1.5h-2zM187.9 174.7h1.2v2h-1.2zM135.7 191.1h2v1.2h-2zM113.2 203.4h1.5v1.5h-1.5zM136.5 207.9h1.5v1.2h-1.5zM67.5 188.2h1.2v1.5h-1.2zM132.7 199.0h1.2v1.2h-1.2zM114.9 175.6h2v2h-2zM117.4 174.1h1.2v2h-1.2zM194.8 145.4h1.5v2h-1.5zM112.4 145.0h2.4v2h-2.4zM133.1 229.6h2.4v1.2h-2.4zM114.2 199.6h2v2h-2zM145.9 224.9h1.5v2h-1.5zM185.5 131.4h1.2v1.5h-1.2zM132.7 208.4h2v1.2h-2zM128.7 148.8h1.5v1.2h-1.5zM186.4 212.2h1.5v2h-1.5zM122.8 142.9h1.5v2h-1.5zM191.8 163.7h2v1.2h-2zM191.9 158.3h1.5v1.5h-1.5zM188.2 126.3h2v1.2h-2zM197.7 152.4h1.5v1.5h-1.5zM198.0 151.4h1.5v1.5h-1.5zM71.4 186.5h1.5v2h-1.5zM191.7 152.2h1.5v1.2h-1.5zM154.4 199.8h2v1.5h-2zM139.6 182.8h1.2v1.2h-1.2zM114.5 156.6h1.5v1.5h-1.5zM150.7 211.7h2v1.5h-2zM110.5 177.4h1.5v1.2h-1.5zM189.0 164.3h2.4v2h-2.4zM137.1 207.8h1.5v1.2h-1.5zM195.3 170.6h1.5v1.2h-1.5zM186.8 172.0h1.5v2h-1.5zM143.0 197.4h1.5v1.2h-1.5zM196.7 170.7h1.2v1.5h-1.2zM113.6 174.2h1.5v2h-1.5zM192.5 167.9h2v1.5h-2zM137.5 228.3h2.4v1.5h-2.4zM190.0 101.0h2.4v1.5h-2.4zM199.3 170.8h2v2h-2zM151.8 183.0h1.5v1.5h-1.5zM185.9 135.3h1.2v1.5h-1.2zM127.4 140.0h2.4v1.2h-2.4zM189.9 102.0h1.5v1.5h-1.5zM119.0 185.6h2.4v2h-2.4zM194.5 171.7h1.2v1.5h-1.2zM69.0 191.5h1.5v1.5h-1.5zM133.8 187.3h2.4v1.2h-2.4zM74.7 191.2h2.4v2h-2.4zM120.5 188.6h1.2v1.2h-1.2zM183.9 198.5h1.5v1.2h-1.5zM109.4 205.6h2v2h-2zM114.4 140.3h1.5v1.2h-1.5zM184.2 196.9h2.4v1.2h-2.4zM126.2 191.5h1.5v1.5h-1.5zM144.7 180.3h1.5v1.2h-1.5zM123.3 198.8h2.4v2h-2.4zM144.8 221.4h1.2v1.2h-1.2zM76.1 190.4h2v2h-2zM115.9 149.2h2v1.2h-2zM126.1 229.8h2.4v2h-2.4zM132.6 219.1h1.5v1.5h-1.5zM150.7 224.7h2v1.5h-2zM193.2 164.2h1.2v1.2h-1.2zM136.8 181.8h1.2v2h-1.2zM188.9 154.1h2.4v2h-2.4zM123.9 145.9h1.5v2h-1.5zM130.9 140.9h1.5v1.5h-1.5zM123.0 190.6h1.2v1.2h-1.2zM101.2 148.8h2v2h-2zM129.1 216.7h2.4v1.2h-2.4zM195.2 140.8h2v1.5h-2zM176.2 210.9h2v1.5h-2zM193.8 104.6h1.5v1.2h-1.5zM132.3 187.5h2v1.2h-2zM154.8 194.6h1.2v1.5h-1.2zM121.4 204.7h2.4v1.2h-2.4zM147.0 218.5h1.5v2h-1.5zM122.5 186.4h2.4v1.5h-2.4zM112.8 172.6h1.5v2h-1.5zM128.3 193.6h2v2h-2zM130.5 206.9h1.5v2h-1.5zM193.9 205.8h1.2v2h-1.2zM130.4 203.0h1.5v1.2h-1.5zM204.8 165.0h2.4v1.2h-2.4zM188.0 171.1h1.5v2h-1.5zM122.3 213.9h2.4v1.5h-2.4zM192.7 139.5h1.2v2h-1.2zM124.2 181.1h2.4v1.2h-2.4zM105.3 161.8h1.2v2h-1.2zM182.3 142.1h1.5v2h-1.5zM131.2 213.2h1.5v1.2h-1.5zM184.6 148.9h2.4v1.2h-2.4zM176.4 142.0h2v1.2h-2zM193.3 168.4h2v1.5h-2zM183.6 138.7h1.2v1.2h-1.2zM180.6 137.0h2v1.2h-2zM119.4 178.8h1.2v1.5h-1.2zM185.7 116.4h2.4v2h-2.4zM201.9 180.9h2.4v1.5h-2.4zM111.9 208.6h2v2h-2zM186.0 199.9h2.4v2h-2.4zM112.4 178.3h1.5v2h-1.5zM129.6 187.9h2v1.2h-2zM189.8 207.9h2v1.5h-2zM146.2 195.9h2v1.2h-2zM177.1 202.5h2.4v2h-2.4zM140.2 179.4h1.2v1.5h-1.2zM135.8 218.7h2v1.5h-2zM137.5 201.0h2v1.2h-2zM114.9 210.9h2.4v1.2h-2.4zM120.4 199.0h1.2v1.5h-1.2zM203.0 169.5h2v1.5h-2zM115.8 220.1h1.2v2h-1.2zM148.4 187.4h2v1.2h-2zM131.8 207.6h2.4v2h-2.4zM137.6 198.3h1.2v1.2h-1.2zM108.6 145.5h1.5v2h-1.5zM122.4 147.0h1.2v1.2h-1.2zM133.7 194.5h1.2v1.2h-1.2zM203.9 171.0h1.5v1.2h-1.5zM104.6 153.3h1.5v1.2h-1.5zM199.0 138.4h1.5v1.2h-1.5zM151.0 202.1h1.5v1.5h-1.5zM194.5 134.7h1.2v1.2h-1.2zM131.7 193.8h2.4v1.2h-2.4zM124.8 208.7h2.4v2h-2.4zM121.8 228.4h2v1.2h-2zM189.4 200.9h2.4v2h-2.4zM180.6 139.9h1.2v2h-1.2zM143.6 227.7h1.5v1.5h-1.5zM187.7 129.9h1.5v1.2h-1.5zM191.1 135.4h2v2h-2zM187.9 129.4h1.5v2h-1.5zM187.6 143.5h1.5v1.2h-1.5zM197.6 107.6h2v1.2h-2zM119.4 180.9h1.5v1.5h-1.5zM184.1 151.5h1.2v2h-1.2zM127.0 225.5h1.2v2h-1.2zM182.5 164.3h1.5v2h-1.5zM188.5 133.2h1.2v2h-1.2zM70.5 181.5h1.5v1.5h-1.5zM131.4 222.5h1.2v1.5h-1.2zM122.7 173.4h2v1.5h-2zM118.3 184.6h1.5v1.2h-1.5zM197.4 136.3h2.4v2h-2.4zM116.1 172.7h1.2v1.2h-1.2zM112.0 159.8h2.4v1.2h-2.4zM200.7 159.9h1.2v1.5h-1.2zM122.9 187.0h2v1.5h-2zM187.4 178.4h1.5v2h-1.5zM116.7 146.4h2.4v2h-2.4zM191.0 102.3h2.4v1.2h-2.4zM186.9 128.8h2v1.2h-2zM122.2 144.3h1.2v1.5h-1.2zM119.5 169.3h1.5v1.2h-1.5zM186.9 103.5h2.4v1.5h-2.4zM137.1 216.1h2.4v1.2h-2.4zM186.2 146.9h2v1.2h-2zM123.7 190.3h1.5v2h-1.5zM127.3 150.9h1.5v2h-1.5zM146.9 223.0h1.2v1.2h-1.2zM152.1 220.8h1.2v1.2h-1.2zM161.3 205.3h2.4v1.5h-2.4zM121.3 150.2h1.5v1.5h-1.5zM193.1 211.2h2.4v2h-2.4zM153.6 192.0h2v1.5h-2z"/>
<path fill="#d6d26c" d="M71.3 179.2h2v1.5h-2zM112.3 207.8h2v1.2h-2zM133.0 225.3h1.5v1.5h-1.5zM126.0 193.8h2.4v1.5h-2.4zM199.5 165.1h1.5v2h-1.5zM113.3 203.6h1.5v1.5h-1.5zM138.1 206.1h2v2h-2zM194.5 140.4h1.2v1.2h-1.2zM120.7 181.3h2.4v1.5h-2.4zM121.9 228.4h1.5v2h-1.5zM122.8 187.5h1.5v1.5h-1.5zM129.9 183.6h1.5v2h-1.5zM108.8 153.2h1.5v2h-1.5zM178.1 144.1h2v2h-2zM195.7 127.0h2v1.5h-2zM151.5 207.9h1.5v1.2h-1.5zM107.1 179.4h1.2v1.2h-1.2zM196.6 162.9h2.4v1.2h-2.4zM123.6 179.4h1.5v2h-1.5zM196.4 156.5h1.5v1.2h-1.5zM128.8 142.5h2v2h-2zM158.7 211.2h2.4v2h-2.4zM177.6 209.0h2v1.2h-2zM71.8 186.6h2.4v1.2h-2.4zM200.9 134.9h1.2v1.2h-1.2zM184.9 99.9h1.2v1.5h-1.2zM187.4 150.0h2.4v1.5h-2.4zM184.4 132.4h2.4v1.5h-2.4zM191.6 183.4h2v1.5h-2zM128.5 184.9h2.4v2h-2.4zM198.5 151.0h2.4v2h-2.4zM177.0 136.7h2.4v1.2h-2.4zM208.9 172.1h2.4v1.5h-2.4zM135.9 205.2h2.4v2h-2.4zM123.3 145.7h2.4v1.5h-2.4zM192.1 109.8h1.2v2h-1.2zM134.3 176.8h1.2v2h-1.2zM123.5 221.4h2.4v1.5h-2.4zM143.0 180.7h1.2v2h-1.2zM192.6 169.1h1.2v1.5h-1.2zM133.8 188.4h1.2v1.2h-1.2zM179.6 197.8h1.2v1.5h-1.2zM189.6 109.1h2v2h-2zM125.3 197.2h1.5v1.5h-1.5zM194.0 167.9h2v1.2h-2zM146.1 209.9h2.4v2h-2.4zM208.9 170.3h2v1.2h-2zM120.8 225.1h2.4v2h-2.4zM192.6 138.1h1.2v2h-1.2zM139.6 194.4h1.5v1.5h-1.5zM192.1 142.8h1.5v1.5h-1.5zM112.7 173.3h2v2h-2zM116.2 141.9h2v2h-2zM132.0 195.4h2.4v1.5h-2.4zM142.2 185.1h1.2v2h-1.2zM132.2 232.3h2.4v1.5h-2.4zM125.2 193.0h1.2v1.2h-1.2zM128.0 198.6h1.2v2h-1.2zM121.5 196.6h2.4v2h-2.4zM193.3 169.3h1.2v2h-1.2zM121.2 213.7h2v2h-2zM102.0 148.4h1.2v2h-1.2zM141.3 215.0h2.4v1.2h-2.4zM153.0 195.6h1.5v1.2h-1.5zM133.9 218.8h1.5v2h-1.5zM113.7 157.0h2v2h-2zM113.5 168.0h2.4v1.5h-2.4zM192.2 140.4h2.4v1.2h-2.4zM136.9 180.0h1.5v1.2h-1.5zM138.0 222.5h1.2v1.5h-1.2zM120.1 212.8h2v1.2h-2zM192.9 114.4h1.2v2h-1.2zM123.5 191.9h2v1.2h-2zM203.4 179.8h1.2v1.5h-1.2zM202.3 141.6h1.5v1.2h-1.5zM115.7 185.5h2v1.5h-2zM194.0 133.9h2v1.2h-2zM183.3 142.0h1.2v1.5h-1.2zM71.1 179.3h1.5v1.2h-1.5zM182.2 148.9h1.2v1.2h-1.2zM146.0 200.8h1.2v1.5h-1.2zM123.1 171.5h1.2v1.5h-1.2zM187.7 145.0h2.4v2h-2.4zM109.5 215.1h2.4v2h-2.4zM199.2 157.2h1.2v1.2h-1.2zM193.3 134.1h2.4v1.5h-2.4zM130.3 185.9h2.4v2h-2.4zM185.4 199.2h1.2v1.2h-1.2zM107.4 150.7h2.4v1.2h-2.4zM185.3 177.2h1.2v1.5h-1.2zM207.3 172.7h2v1.5h-2z"/>
<path fill="#d88a98" d="M124.8 223.8h1.5v1.5h-1.5zM183.1 209.9h1.2v2h-1.2zM123.5 208.8h1.5v1.2h-1.5zM142.7 219.9h2.4v1.5h-2.4zM132.6 219.1h2.4v1.5h-2.4zM204.5 177.0h2.4v1.5h-2.4zM105.2 146.5h2.4v2h-2.4zM139.5 200.2h2v1.5h-2zM179.5 141.7h1.2v1.5h-1.2zM129.2 204.9h1.5v2h-1.5zM122.2 227.1h2v2h-2zM196.3 138.6h1.2v1.2h-1.2zM196.6 159.9h1.2v1.2h-1.2zM199.8 109.9h2v2h-2zM144.4 205.0h2v2h-2zM148.9 224.4h2v1.5h-2zM111.3 178.0h2.4v1.2h-2.4zM192.1 115.6h1.2v2h-1.2zM118.7 173.2h2v2h-2zM102.8 153.3h2.4v1.5h-2.4zM78.5 184.8h1.2v1.2h-1.2zM195.7 143.9h1.2v2h-1.2zM190.9 126.7h1.5v1.2h-1.5zM187.8 205.5h2v2h-2zM127.8 142.5h1.5v2h-1.5zM196.4 135.2h1.5v2h-1.5zM178.7 145.2h2v2h-2zM106.9 178.4h2.4v2h-2.4zM150.2 203.2h2v1.2h-2zM113.0 178.0h2v2h-2zM148.5 204.4h1.2v1.2h-1.2zM201.1 176.1h2v1.5h-2zM119.6 218.8h1.5v1.2h-1.5zM108.1 201.9h1.2v1.5h-1.2zM194.3 183.8h2v1.2h-2zM191.0 135.2h2v1.2h-2zM143.0 216.5h1.5v2h-1.5zM189.9 181.3h1.5v1.5h-1.5zM131.7 180.8h1.5v1.5h-1.5zM137.6 216.5h1.5v1.2h-1.5zM110.9 150.3h2.4v1.2h-2.4zM117.9 227.1h1.5v1.2h-1.5zM98.2 142.7h2.4v1.5h-2.4zM187.7 136.6h2.4v2h-2.4zM110.0 181.7h2v2h-2zM180.6 205.8h1.2v2h-1.2zM74.1 182.9h2.4v1.2h-2.4zM196.7 135.2h1.5v1.2h-1.5zM204.4 138.4h2v1.2h-2zM113.9 166.3h1.5v2h-1.5zM113.7 155.2h1.2v1.5h-1.2zM121.0 217.4h2v1.5h-2zM192.0 102.2h2.4v1.5h-2.4zM136.8 216.0h1.2v1.2h-1.2zM72.2 185.1h1.2v1.5h-1.2zM124.0 222.9h1.2v1.2h-1.2zM69.7 184.5h2v2h-2z"/>
<path fill="#dcd672" d="M151.7 61.9h2v2h-2zM163.2 85.2h2.4v1.2h-2.4zM163.5 84.5h2v1.2h-2zM149.3 89.5h1.5v1.5h-1.5zM147.2 100.3h1.5v1.5h-1.5zM145.9 88.1h2v1.5h-2zM131.5 73.7h1.5v1.2h-1.5zM152.6 67.6h1.2v1.2h-1.2zM160.7 183.9h2.4v1.5h-2.4zM147.1 87.9h1.5v1.2h-1.5zM144.4 95.1h1.2v1.5h-1.2zM154.9 73.6h1.2v2h-1.2zM149.5 100.1h1.2v2h-1.2zM155.0 180.9h1.2v2h-1.2zM158.4 72.8h1.2v2h-1.2zM162.5 75.2h2.4v1.2h-2.4zM136.5 87.0h1.5v2h-1.5zM118.9 77.4h2.4v2h-2.4zM150.4 90.9h1.2v1.5h-1.2zM144.2 77.9h1.5v1.2h-1.5zM116.8 75.8h2.4v1.5h-2.4zM133.4 64.0h1.5v1.2h-1.5zM157.0 184.6h1.5v1.2h-1.5zM158.0 182.7h2v2h-2zM159.6 184.7h1.5v1.2h-1.5zM145.7 74.0h1.5v1.2h-1.5zM129.7 87.7h1.2v1.5h-1.2zM159.7 89.8h1.2v1.5h-1.2zM132.9 67.5h1.5v1.2h-1.5zM122.3 78.2h1.5v2h-1.5zM138.3 96.0h1.2v1.2h-1.2zM134.5 73.2h2v1.2h-2zM127.8 90.2h2v2h-2zM142.1 81.9h1.5v2h-1.5zM135.8 91.3h1.5v2h-1.5zM147.9 75.7h1.5v2h-1.5zM159.0 75.5h1.5v2h-1.5zM133.8 72.4h1.5v1.5h-1.5zM161.7 75.3h2v2h-2zM151.8 82.8h1.5v1.2h-1.5zM134.2 87.4h1.2v1.2h-1.2zM117.5 66.4h2.4v1.5h-2.4zM162.2 79.6h2.4v2h-2.4zM147.6 70.2h2v2h-2zM155.5 93.0h2.4v1.2h-2.4zM130.8 73.8h1.2v2h-1.2zM150.0 84.9h2v2h-2zM140.6 80.2h2v1.2h-2zM130.1 90.2h2v1.5h-2z"/>
<path fill="#dce8d4" d="M150.5 81.0h1.2v1.2h-1.2zM154.2 166.8h2v1.5h-2zM136.9 140.9h2v1.2h-2zM77.1 190.9h2.4v1.2h-2.4zM120.4 119.9h1.2v2h-1.2zM164.6 70.5h2.4v1.5h-2.4zM156.1 71.6h2v1.2h-2zM135.3 129.3h2v2h-2zM152.3 85.4h2.4v1.2h-2.4zM188.7 122.2h1.2v1.5h-1.2zM140.2 113.3h2v1.5h-2zM129.7 66.5h1.2v1.2h-1.2zM131.8 122.0h1.5v1.2h-1.5zM132.6 81.5h2v1.5h-2zM62.3 174.8h2.4v1.5h-2.4zM160.2 70.1h2.4v2h-2.4zM154.5 82.9h2.4v1.5h-2.4zM194.1 91.2h2.4v1.2h-2.4zM148.9 75.7h2.4v1.5h-2.4zM137.3 159.0h2.4v2h-2.4zM103.9 169.6h1.5v1.2h-1.5zM151.9 163.3h2v1.2h-2zM160.8 184.6h2.4v1.2h-2.4zM169.5 184.3h2.4v2h-2.4zM133.8 117.9h1.5v2h-1.5zM108.5 217.7h1.2v1.2h-1.2zM145.0 96.5h2.4v1.2h-2.4zM128.4 83.6h1.2v1.2h-1.2zM122.2 67.9h2.4v1.5h-2.4zM155.5 78.9h1.2v1.5h-1.2zM135.9 74.0h1.2v2h-1.2zM154.3 72.7h1.2v1.2h-1.2zM163.0 185.5h1.2v1.2h-1.2zM90.5 151.8h2.4v1.5h-2.4zM155.9 73.9h2.4v1.2h-2.4zM168.2 88.7h2v1.5h-2zM184.7 117.3h2.4v1.5h-2.4zM161.6 71.4h1.5v1.2h-1.5zM80.4 182.3h1.5v1.5h-1.5zM122.2 135.2h1.2v1.5h-1.2zM168.2 140.4h2v1.5h-2zM175.6 151.5h1.5v1.2h-1.5zM173.1 68.4h1.2v1.2h-1.2zM168.4 173.2h1.5v2h-1.5zM181.9 163.3h1.5v1.2h-1.5zM141.8 75.3h2.4v2h-2.4zM176.6 156.6h1.5v1.5h-1.5zM130.1 83.8h1.2v2h-1.2zM192.5 84.5h1.5v1.2h-1.5zM108.6 170.0h2.4v1.2h-2.4zM157.4 79.1h2v1.5h-2zM160.2 173.1h1.5v1.2h-1.5zM165.9 165.0h1.5v1.2h-1.5zM160.5 177.2h2v1.2h-2zM200.6 194.2h2.4v1.2h-2.4zM87.7 152.7h2.4v1.2h-2.4zM114.1 121.2h2.4v1.5h-2.4zM94.1 203.1h1.2v1.2h-1.2zM120.1 161.8h1.5v1.2h-1.5zM134.8 166.2h1.2v1.5h-1.2zM175.8 86.1h2v2h-2zM133.4 136.7h2v1.5h-2zM151.8 65.8h1.2v2h-1.2zM175.6 219.9h1.5v2h-1.5zM125.8 78.6h1.5v1.2h-1.5zM104.7 210.1h2.4v1.5h-2.4zM71.5 168.2h2.4v2h-2.4zM149.6 128.6h1.5v1.5h-1.5zM89.2 210.2h1.5v1.5h-1.5zM95.8 116.9h1.2v1.5h-1.2zM184.4 119.3h1.5v2h-1.5zM138.2 82.5h1.5v1.2h-1.5zM145.4 79.1h1.5v1.2h-1.5zM207.0 158.0h2v2h-2zM119.9 83.2h2.4v1.2h-2.4zM79.5 186.0h1.2v1.2h-1.2zM93.0 157.1h1.5v1.2h-1.5zM166.1 148.5h2v1.5h-2zM134.8 67.2h1.5v2h-1.5zM157.5 80.3h1.5v1.2h-1.5zM157.3 82.7h2v1.2h-2zM133.4 164.0h1.5v1.2h-1.5zM177.9 156.8h1.5v1.5h-1.5zM93.5 143.0h2.4v2h-2.4zM96.6 158.1h1.5v1.2h-1.5zM88.0 157.9h1.2v1.2h-1.2zM76.7 111.9h2v2h-2zM165.0 186.2h2v2h-2zM177.9 188.0h2.4v2h-2.4zM101.7 210.4h2v2h-2zM154.5 72.0h2.4v2h-2.4zM177.7 215.7h1.5v2h-1.5zM85.8 177.4h2.4v1.5h-2.4zM147.6 91.3h2.4v2h-2.4zM129.0 76.8h1.5v2h-1.5zM145.7 58.1h1.2v2h-1.2zM118.7 106.8h1.2v2h-1.2zM177.6 153.7h2v1.5h-2zM146.4 77.5h1.2v1.5h-1.2zM205.0 136.5h1.2v1.2h-1.2zM167.3 225.6h2.4v1.5h-2.4zM63.9 173.0h2.4v2h-2.4zM96.7 117.9h1.2v1.2h-1.2zM74.0 192.7h2.4v2h-2.4zM123.2 64.2h2v1.2h-2zM205.1 155.3h1.5v1.2h-1.5zM170.4 164.7h2.4v1.5h-2.4zM97.5 199.1h1.2v1.2h-1.2zM165.6 226.1h1.5v1.5h-1.5zM98.0 133.7h2.4v2h-2.4zM97.3 131.2h2v1.5h-2zM173.8 215.3h2v1.5h-2zM127.7 136.8h1.5v2h-1.5zM137.7 77.5h1.5v1.2h-1.5zM141.5 161.7h1.5v2h-1.5zM134.5 90.8h2v1.5h-2zM140.5 85.5h1.2v2h-1.2zM165.6 66.6h1.5v1.2h-1.5zM165.8 222.9h2v1.5h-2zM116.3 94.6h1.2v1.2h-1.2zM124.3 118.9h2v1.5h-2zM153.2 88.7h2.4v1.2h-2.4zM144.1 96.1h1.2v1.2h-1.2zM146.2 132.7h2.4v1.2h-2.4zM167.7 156.2h1.2v1.5h-1.2zM163.2 167.9h2v1.5h-2zM133.8 68.7h2.4v1.5h-2.4zM152.6 91.6h1.2v2h-1.2zM174.8 174.0h1.5v1.2h-1.5zM161.0 102.1h1.5v2h-1.5zM133.3 70.4h1.5v2h-1.5zM130.7 93.3h2.4v1.5h-2.4zM125.9 81.4h2.4v2h-2.4zM133.5 150.3h1.5v1.2h-1.5zM195.0 99.2h2.4v2h-2.4zM123.3 63.8h1.2v1.2h-1.2zM77.4 193.5h1.5v1.2h-1.5zM144.7 78.3h1.5v1.5h-1.5zM93.9 145.6h1.5v1.5h-1.5zM198.3 155.4h1.5v1.2h-1.5zM131.7 91.5h1.2v1.2h-1.2zM142.9 84.6h1.5v1.2h-1.5zM149.0 67.3h2.4v2h-2.4zM91.0 151.0h2.4v2h-2.4zM148.6 85.7h2.4v2h-2.4zM88.9 203.2h1.2v1.2h-1.2zM126.3 78.4h1.5v1.5h-1.5zM163.8 88.8h2.4v2h-2.4zM121.0 84.3h1.2v1.2h-1.2zM59.7 149.7h2v1.5h-2zM106.5 220.2h1.5v1.2h-1.5zM143.7 91.4h1.2v1.2h-1.2zM164.7 89.4h2.4v2h-2.4zM157.4 71.6h1.5v1.2h-1.5zM183.0 86.5h1.5v1.5h-1.5zM188.2 72.9h2.4v2h-2.4zM85.6 197.1h2v1.5h-2zM182.9 116.1h2v1.5h-2zM135.3 67.8h2.4v2h-2.4zM185.1 82.0h1.2v1.5h-1.2zM174.6 123.5h1.5v1.5h-1.5zM148.9 86.8h2.4v1.5h-2.4zM162.8 197.4h1.5v1.2h-1.5zM79.6 164.3h1.2v2h-1.2zM159.2 80.1h2v2h-2zM180.2 76.1h2.4v1.2h-2.4zM119.1 71.0h2v1.5h-2zM155.3 84.7h1.2v1.5h-1.2zM131.9 89.0h1.2v1.5h-1.2zM170.3 178.7h1.2v1.5h-1.2zM201.3 98.7h2v1.5h-2zM140.1 170.7h2.4v1.5h-2.4zM164.3 81.4h1.2v2h-1.2zM89.4 186.4h1.2v1.2h-1.2zM145.0 65.4h1.5v2h-1.5zM131.2 90.1h1.5v2h-1.5zM149.5 159.8h1.2v1.5h-1.2zM132.1 84.4h2v1.2h-2zM98.0 162.1h2.4v2h-2.4zM152.5 81.7h2v2h-2zM77.9 159.2h1.2v2h-1.2zM116.8 110.5h1.2v1.2h-1.2zM152.0 113.7h2v1.5h-2zM137.5 129.6h1.2v2h-1.2zM105.0 124.6h1.5v1.2h-1.5zM176.9 127.2h2.4v1.2h-2.4zM156.7 70.7h1.5v2h-1.5zM88.7 211.2h2.4v1.5h-2.4zM145.7 80.5h2.4v1.5h-2.4zM103.7 208.2h2v1.2h-2zM156.4 226.9h1.2v1.5h-1.2zM204.1 97.2h1.5v1.5h-1.5zM137.7 106.1h2.4v1.2h-2.4zM161.7 73.9h2.4v2h-2.4zM119.7 64.4h1.2v1.2h-1.2zM123.1 135.6h2v1.5h-2zM63.5 178.6h2v1.2h-2zM162.5 94.9h2v1.5h-2zM203.5 102.5h1.5v1.2h-1.5zM143.2 166.3h1.5v1.2h-1.5zM168.2 212.6h2.4v1.2h-2.4zM115.7 226.9h1.5v1.2h-1.5zM130.9 71.8h1.2v2h-1.2zM96.7 213.7h1.5v1.2h-1.5zM147.1 73.8h1.5v1.5h-1.5zM145.8 63.8h1.2v2h-1.2zM101.5 219.6h2v2h-2zM125.3 72.5h2v1.2h-2zM163.2 183.1h1.5v1.5h-1.5zM152.6 89.8h1.5v1.2h-1.5zM152.7 80.0h1.2v2h-1.2zM121.9 89.0h2v1.5h-2zM130.3 159.6h1.2v1.2h-1.2zM121.9 88.0h2.4v2h-2.4zM174.0 175.9h1.2v1.5h-1.2zM120.4 163.8h2v1.2h-2zM163.1 78.4h1.5v2h-1.5zM66.6 116.4h1.2v2h-1.2zM68.2 193.7h2.4v1.5h-2.4zM91.7 208.5h2.4v1.2h-2.4zM207.8 176.8h2v1.5h-2zM143.5 71.4h1.2v2h-1.2zM120.0 70.4h1.2v1.2h-1.2zM95.6 182.6h2v1.2h-2zM124.9 79.5h1.5v1.5h-1.5zM110.4 96.8h2.4v1.2h-2.4zM147.9 166.6h1.2v2h-1.2zM156.3 61.2h1.2v1.5h-1.2zM85.9 172.4h1.5v2h-1.5zM135.1 165.9h1.2v2h-1.2zM146.7 142.3h2.4v1.5h-2.4zM101.6 190.8h1.2v1.2h-1.2zM197.5 100.9h1.2v1.5h-1.2zM99.6 111.8h1.5v1.2h-1.5zM148.1 69.9h1.2v1.2h-1.2zM144.9 61.4h2v1.2h-2zM108.5 218.8h1.2v1.5h-1.2zM132.0 63.8h2.4v2h-2.4zM77.4 168.4h2v1.5h-2zM155.3 87.2h2v1.2h-2zM137.5 102.1h1.5v2h-1.5zM189.7 185.1h2v1.2h-2zM70.6 175.9h1.2v1.2h-1.2zM128.3 68.4h2.4v1.2h-2.4zM129.8 81.7h2.4v2h-2.4zM124.1 73.5h1.5v2h-1.5zM171.9 187.5h1.2v2h-1.2zM139.4 78.5h2.4v1.2h-2.4zM152.8 232.3h1.2v1.2h-1.2zM202.2 150.7h2v2h-2zM141.0 83.7h1.2v1.5h-1.2zM144.5 102.4h2.4v2h-2.4zM127.4 70.9h1.5v1.2h-1.5zM149.7 70.0h2.4v1.2h-2.4zM168.8 79.2h2.4v2h-2.4zM102.5 98.5h2v1.2h-2zM151.1 170.2h1.2v1.5h-1.2zM182.3 116.5h1.2v1.2h-1.2zM149.8 71.6h1.2v2h-1.2zM136.4 72.3h2.4v2h-2.4zM193.1 94.5h1.2v2h-1.2zM158.2 61.8h2v1.5h-2zM80.2 155.4h1.5v1.2h-1.5zM98.2 176.2h1.2v1.2h-1.2zM120.1 164.4h2.4v2h-2.4zM92.2 159.9h2v1.5h-2zM108.7 224.0h2v1.2h-2zM193.8 120.0h1.5v1.2h-1.5zM85.4 170.8h2v2h-2zM198.2 155.6h1.2v2h-1.2zM158.0 63.7h2v1.2h-2zM147.7 95.2h1.5v1.2h-1.5zM89.0 207.4h2v2h-2zM139.3 67.5h1.2v2h-1.2zM97.1 164.8h1.5v2h-1.5zM128.4 87.0h2.4v1.2h-2.4zM141.7 84.0h2v1.2h-2zM94.2 198.5h2.4v1.2h-2.4zM154.2 71.2h2.4v1.2h-2.4zM172.1 78.0h1.2v2h-1.2zM118.7 89.9h1.5v1.2h-1.5zM152.9 84.9h1.5v1.2h-1.5zM114.2 75.3h2.4v1.5h-2.4zM88.9 174.4h1.5v2h-1.5zM136.9 85.5h2v2h-2zM167.3 150.8h1.2v1.5h-1.2zM135.0 156.2h1.2v1.2h-1.2zM135.9 71.1h1.5v2h-1.5zM105.4 206.6h2.4v1.5h-2.4zM108.4 189.8h2v1.2h-2zM156.7 186.4h2v2h-2zM163.8 169.5h2.4v2h-2.4zM93.1 101.2h1.2v1.5h-1.2zM150.6 171.7h2v1.2h-2zM179.8 165.0h1.5v1.2h-1.5zM64.3 158.9h1.5v1.5h-1.5zM125.0 130.5h2.4v2h-2.4zM147.2 84.9h1.2v1.2h-1.2zM100.9 177.1h1.2v1.2h-1.2zM99.8 180.6h2.4v2h-2.4zM86.5 208.1h1.2v1.5h-1.2zM98.8 200.7h2v2h-2zM62.5 154.0h1.2v1.5h-1.2zM70.7 167.0h2.4v1.5h-2.4zM83.6 203.7h2.4v1.2h-2.4zM118.6 84.2h2.4v1.2h-2.4zM85.8 115.8h1.2v1.2h-1.2zM157.5 159.1h1.5v1.2h-1.5zM145.1 168.9h1.2v1.2h-1.2zM105.5 167.3h1.2v1.5h-1.2zM144.5 63.4h2.4v1.2h-2.4zM137.5 69.9h2.4v1.5h-2.4zM153.6 78.0h1.2v1.5h-1.2zM144.1 142.8h2v1.2h-2zM117.3 70.5h2.4v1.2h-2.4zM180.5 220.2h1.2v2h-1.2zM173.3 208.3h1.2v2h-1.2zM138.4 126.0h2v2h-2zM207.4 142.6h2.4v2h-2.4zM130.1 83.7h1.5v2h-1.5zM174.9 197.1h1.5v1.5h-1.5zM142.4 77.4h2.4v1.5h-2.4zM159.7 62.8h2.4v1.5h-2.4zM154.6 71.4h2v1.5h-2zM146.1 82.0h1.2v2h-1.2zM149.4 87.1h1.5v1.2h-1.5zM141.4 79.9h1.5v1.2h-1.5zM133.3 59.6h1.2v1.5h-1.2zM162.9 225.9h2.4v2h-2.4zM131.7 76.8h2.4v1.2h-2.4zM203.0 131.8h1.2v1.2h-1.2zM177.2 187.5h2v1.2h-2zM62.0 168.1h1.2v1.5h-1.2zM201.7 120.5h2v1.2h-2zM118.8 97.9h2.4v1.2h-2.4zM145.9 100.0h2.4v1.5h-2.4zM174.3 159.4h2.4v1.2h-2.4zM139.2 72.9h1.5v2h-1.5zM139.3 85.6h2.4v1.5h-2.4z"/>
<path fill="#e0889a" d="M151.1 90.3h2v2h-2zM128.7 90.5h2.4v1.2h-2.4zM139.7 61.2h1.5v1.5h-1.5zM128.7 63.3h2v1.2h-2zM136.5 82.3h1.5v1.5h-1.5zM129.5 74.1h1.5v1.5h-1.5zM155.2 184.3h2.4v2h-2.4zM133.1 66.2h2.4v1.2h-2.4zM127.7 83.2h1.2v2h-1.2zM148.4 89.7h1.5v1.2h-1.5zM121.1 64.5h1.5v2h-1.5zM142.8 98.7h2v1.5h-2zM142.9 101.6h1.2v2h-1.2zM140.5 84.0h2.4v1.2h-2.4zM149.5 85.5h1.2v1.5h-1.2zM143.6 78.6h1.5v1.2h-1.5zM153.5 63.8h1.2v1.5h-1.2zM161.3 82.4h1.5v1.5h-1.5zM117.4 77.8h2v1.2h-2zM128.5 100.5h1.5v1.2h-1.5zM142.1 76.7h1.2v1.5h-1.2zM143.4 99.2h1.5v1.2h-1.5zM146.8 69.4h2.4v1.2h-2.4zM159.2 179.6h1.5v1.2h-1.5zM116.4 78.5h2v1.2h-2zM153.0 88.5h1.5v2h-1.5zM142.2 97.6h2.4v1.5h-2.4zM151.4 94.5h1.5v1.5h-1.5zM128.3 88.3h2v1.5h-2zM148.4 86.9h2.4v1.2h-2.4zM126.3 59.6h2v2h-2zM148.2 57.8h2v1.2h-2zM127.6 65.4h1.2v1.5h-1.2zM115.7 79.7h1.2v1.5h-1.2zM136.4 76.6h2v1.5h-2zM123.9 68.1h1.5v1.2h-1.5zM126.7 62.2h1.2v2h-1.2zM139.2 79.8h2v1.2h-2zM124.5 70.0h1.2v1.5h-1.2zM139.2 64.9h1.2v1.2h-1.2zM128.8 90.4h2v1.2h-2zM145.5 77.2h2.4v2h-2.4zM147.4 77.1h1.2v1.5h-1.2zM124.3 94.2h1.5v2h-1.5zM140.4 58.6h2.4v1.5h-2.4zM142.6 73.4h2.4v2h-2.4zM145.1 61.5h2v1.5h-2zM160.0 184.9h1.2v1.2h-1.2zM151.3 69.2h1.5v1.5h-1.5zM149.8 87.3h1.2v2h-1.2zM136.7 61.7h1.5v1.5h-1.5zM162.9 77.5h1.5v1.2h-1.5zM141.2 99.1h1.2v1.5h-1.2zM152.3 71.4h1.5v1.5h-1.5zM137.1 74.6h1.5v2h-1.5zM159.5 74.8h1.2v2h-1.2zM147.9 75.1h1.2v1.2h-1.2zM136.9 74.4h2.4v2h-2.4zM140.1 84.7h1.2v1.5h-1.2zM122.0 69.3h2.4v1.2h-2.4zM145.3 60.0h1.2v2h-1.2zM148.6 90.6h1.5v1.5h-1.5zM143.8 61.6h2.4v2h-2.4zM145.1 58.8h1.2v1.2h-1.2zM127.8 76.0h1.2v1.2h-1.2zM135.2 78.9h2v1.5h-2zM166.1 183.5h1.5v1.5h-1.5zM140.7 75.2h1.5v1.2h-1.5zM138.2 83.9h1.5v1.5h-1.5zM145.0 63.5h2.4v1.5h-2.4z"/>
<path fill="#e2909e" d="M85.4 127.6h2v1.5h-2zM71.5 131.7h2v2h-2zM78.9 118.9h1.5v1.5h-1.5zM79.7 137.4h1.5v1.5h-1.5zM71.9 134.0h1.2v1.2h-1.2zM77.5 138.2h2v2h-2zM89.1 139.3h2.4v1.5h-2.4zM69.6 144.6h1.5v1.2h-1.5zM82.7 146.6h1.2v1.5h-1.2zM60.3 131.7h2.4v2h-2.4zM79.1 142.2h2v1.5h-2zM61.0 141.3h1.2v1.5h-1.2zM76.0 125.3h2.4v2h-2.4zM72.5 145.7h2.4v1.2h-2.4zM82.8 147.2h2v1.5h-2zM80.9 130.8h1.2v1.5h-1.2zM93.7 138.4h1.2v1.2h-1.2zM86.2 110.4h1.2v1.5h-1.2zM85.0 151.6h1.2v1.5h-1.2zM86.3 112.6h2v2h-2zM74.6 154.1h1.2v1.2h-1.2zM82.4 128.9h1.2v1.5h-1.2zM71.8 133.1h1.5v1.5h-1.5zM70.9 147.8h2.4v1.5h-2.4zM64.1 132.4h2v1.2h-2zM64.4 146.5h1.5v2h-1.5zM82.0 141.5h1.5v2h-1.5zM86.1 147.6h2v2h-2zM70.1 144.3h1.2v1.5h-1.2zM62.9 146.8h1.5v2h-1.5zM91.5 142.4h1.5v2h-1.5zM71.9 141.1h1.5v1.5h-1.5zM83.2 127.6h2.4v1.2h-2.4zM91.9 109.4h2v2h-2zM65.0 143.3h2v1.5h-2zM66.0 142.8h2.4v1.5h-2.4zM85.5 106.8h2.4v1.5h-2.4zM87.8 137.2h1.2v1.5h-1.2zM60.8 139.3h1.5v2h-1.5zM86.2 121.3h1.2v1.2h-1.2zM65.2 138.3h2.4v1.5h-2.4zM78.0 120.4h1.2v1.5h-1.2zM61.1 124.3h2.4v1.2h-2.4zM75.5 132.2h1.5v1.2h-1.5zM75.3 131.7h2v2h-2zM69.0 144.9h1.2v1.2h-1.2zM76.5 146.5h2v1.5h-2zM61.9 128.8h2v1.2h-2zM79.4 135.9h1.5v1.5h-1.5zM80.6 128.7h1.5v1.2h-1.5zM85.3 144.8h1.5v1.5h-1.5zM87.0 139.6h2.4v1.2h-2.4zM60.3 133.0h2v1.5h-2zM82.5 130.0h1.5v1.2h-1.5zM79.2 143.8h2v1.2h-2zM69.2 133.6h2.4v2h-2.4zM78.6 134.2h1.2v1.5h-1.2zM67.3 131.9h2v1.2h-2zM64.4 143.7h2v2h-2zM70.0 129.1h1.5v1.2h-1.5zM94.2 103.5h2.4v1.5h-2.4zM66.6 149.3h1.2v1.2h-1.2zM68.6 127.8h1.5v1.5h-1.5zM70.1 118.2h1.5v2h-1.5zM77.0 151.7h1.5v1.5h-1.5zM68.9 136.5h1.2v1.5h-1.2zM70.7 152.7h2v2h-2zM78.4 130.9h2v1.2h-2zM66.9 121.8h2v1.5h-2zM72.7 149.5h1.2v1.2h-1.2zM74.5 135.8h1.5v1.5h-1.5zM73.0 133.5h1.5v1.5h-1.5zM71.4 154.9h2.4v1.5h-2.4zM84.1 142.8h2v2h-2zM77.8 129.3h1.2v1.5h-1.2zM65.1 145.9h1.2v1.5h-1.2zM80.3 145.5h2.4v2h-2.4zM80.3 130.2h1.5v1.2h-1.5zM97.4 107.7h2v1.2h-2zM84.2 122.2h2v2h-2zM73.6 136.1h2v1.2h-2z"/>
<path fill="#e2da74" d="M67.9 133.8h1.2v1.5h-1.2zM95.6 104.4h2.4v1.2h-2.4zM66.4 143.5h1.2v1.5h-1.2zM97.6 106.5h1.2v2h-1.2zM82.3 138.1h1.5v1.5h-1.5zM74.5 145.2h2v2h-2zM82.2 136.6h1.2v2h-1.2zM78.4 133.5h2v2h-2zM90.0 112.1h2v1.5h-2zM76.5 128.2h1.5v1.5h-1.5zM89.6 143.4h2v2h-2zM85.9 140.0h1.2v1.2h-1.2zM77.2 152.9h1.2v2h-1.2zM70.3 134.5h2v1.2h-2zM90.2 139.5h2.4v1.5h-2.4zM58.9 139.2h1.2v1.2h-1.2zM79.8 143.1h1.5v2h-1.5zM69.3 132.8h2.4v2h-2.4zM66.7 121.3h2v2h-2zM74.5 126.0h1.2v2h-1.2zM90.9 114.3h1.2v1.5h-1.2zM62.5 149.6h1.5v1.2h-1.5zM62.7 136.8h2.4v1.5h-2.4zM72.2 125.1h2.4v1.2h-2.4zM64.7 127.3h2.4v1.5h-2.4zM83.1 145.7h1.2v1.2h-1.2zM84.8 145.1h2v2h-2zM96.3 108.5h2v1.5h-2zM67.6 139.9h2v1.5h-2zM73.3 147.6h1.2v1.5h-1.2zM78.7 144.0h1.2v2h-1.2zM82.4 122.4h2v2h-2zM79.2 146.0h2v1.5h-2zM65.0 134.2h2v1.2h-2zM90.2 113.5h1.5v1.5h-1.5zM74.4 124.0h2.4v2h-2.4zM87.0 132.2h2v2h-2zM77.3 139.0h1.2v1.2h-1.2zM61.2 130.4h1.5v1.5h-1.5zM88.3 103.8h1.5v1.5h-1.5zM79.8 127.2h1.2v2h-1.2zM79.0 143.5h1.5v1.2h-1.5zM93.3 115.5h2.4v1.2h-2.4zM61.7 149.3h1.5v1.2h-1.5zM64.0 137.8h2.4v1.5h-2.4zM89.4 130.7h2v2h-2zM59.4 126.7h1.5v2h-1.5zM78.0 149.0h2.4v1.5h-2.4zM83.9 133.5h1.5v1.5h-1.5zM74.4 151.2h1.2v2h-1.2zM72.7 136.1h2v2h-2zM86.6 107.9h2v1.5h-2zM85.5 133.1h2.4v1.2h-2.4zM87.5 137.8h2.4v1.2h-2.4zM78.8 127.1h2v1.2h-2zM92.9 112.9h2v2h-2zM86.9 122.1h2.4v1.2h-2.4zM87.3 126.2h2.4v2h-2.4zM63.6 151.5h1.5v1.2h-1.5zM69.3 125.3h1.5v2h-1.5zM65.2 148.2h1.5v1.2h-1.5zM58.5 130.8h1.2v1.2h-1.2zM91.5 117.1h2.4v2h-2.4zM80.3 132.9h2.4v2h-2.4zM75.3 123.4h1.2v2h-1.2zM85.3 130.4h1.2v1.2h-1.2zM73.6 131.3h2v2h-2zM79.3 129.1h2v2h-2zM97.5 108.6h2v2h-2zM88.4 139.4h1.5v1.2h-1.5z"/>
<path fill="#e4ecd8" d="M73.8 139.9h1.2v1.5h-1.2zM92.2 141.8h1.2v1.5h-1.2zM66.5 142.1h2.4v2h-2.4zM78.2 139.1h2v2h-2zM80.5 144.8h2.4v1.5h-2.4zM68.8 132.3h2v1.5h-2zM63.2 138.4h2.4v2h-2.4zM75.6 135.5h1.2v2h-1.2zM74.9 129.0h2.4v1.5h-2.4zM83.8 129.1h2v1.2h-2zM96.4 108.2h2v1.5h-2zM88.5 106.4h1.2v1.5h-1.2zM86.5 151.6h2v1.5h-2zM81.7 148.3h1.5v2h-1.5zM68.1 147.7h1.5v1.2h-1.5zM86.2 142.6h1.2v2h-1.2zM64.8 151.6h2.4v1.2h-2.4zM91.9 103.2h1.2v1.5h-1.2zM59.3 138.4h2.4v1.2h-2.4zM98.3 112.7h1.2v1.5h-1.2zM90.4 110.8h1.5v1.5h-1.5zM95.3 103.9h1.5v2h-1.5zM63.0 123.2h1.5v2h-1.5zM67.2 136.9h2v1.5h-2zM88.9 106.3h1.5v1.5h-1.5zM64.9 131.8h2v1.5h-2zM67.3 118.4h2.4v1.2h-2.4zM78.6 136.3h1.5v1.2h-1.5zM78.2 142.5h1.5v1.5h-1.5zM76.9 131.5h2v1.2h-2zM91.1 111.9h1.5v1.5h-1.5zM62.9 121.6h1.5v1.5h-1.5zM72.3 119.3h2v1.2h-2zM74.5 151.3h2.4v2h-2.4zM78.2 127.9h2v2h-2zM64.2 148.2h1.5v1.2h-1.5zM63.5 122.9h1.2v2h-1.2zM61.7 135.2h2.4v1.5h-2.4zM95.6 103.8h1.2v1.5h-1.2zM78.1 125.3h2v2h-2zM81.1 120.7h1.2v2h-1.2zM89.4 114.8h1.5v2h-1.5zM74.1 144.8h2.4v1.2h-2.4zM76.8 140.6h1.5v1.5h-1.5zM74.6 149.2h2v1.2h-2zM67.4 129.5h1.5v1.2h-1.5zM79.9 131.9h2.4v1.2h-2.4zM73.9 146.5h2v2h-2zM69.0 148.6h2.4v2h-2.4zM92.3 141.0h2v1.5h-2zM78.1 147.3h2.4v1.2h-2.4zM86.0 111.1h1.2v1.2h-1.2zM69.1 133.9h2v1.5h-2zM75.7 125.6h1.2v1.5h-1.2zM67.1 136.5h2v2h-2zM74.7 146.3h2.4v1.2h-2.4zM60.5 149.0h1.5v2h-1.5zM78.0 148.3h1.5v1.5h-1.5zM74.5 148.6h1.5v1.2h-1.5zM73.1 153.6h1.2v1.5h-1.2zM61.4 136.3h2v2h-2zM59.4 131.3h2.4v1.5h-2.4zM94.4 138.7h1.2v1.2h-1.2zM68.4 143.3h2v1.2h-2zM75.7 125.8h1.2v1.2h-1.2zM81.3 126.9h2v1.2h-2zM76.9 145.8h2v1.5h-2zM68.9 145.0h2.4v2h-2.4zM81.1 148.1h1.2v1.5h-1.2zM67.2 146.8h2v1.2h-2zM91.7 134.0h1.5v1.5h-1.5zM76.3 151.3h2.4v1.5h-2.4zM97.2 115.6h2v2h-2zM91.3 141.4h2.4v2h-2.4zM87.6 113.9h1.2v1.5h-1.2zM88.2 131.9h1.2v2h-1.2zM88.9 143.6h1.5v1.5h-1.5zM69.1 127.6h2.4v2h-2.4zM76.8 129.4h2.4v1.2h-2.4zM76.1 142.7h1.5v2h-1.5zM86.7 144.6h2v1.2h-2zM94.1 138.9h2.4v2h-2.4zM72.9 131.2h1.5v2h-1.5zM66.1 141.9h2.4v2h-2.4zM92.8 105.2h1.5v1.2h-1.5zM85.3 139.6h2v1.2h-2zM94.4 103.0h1.2v1.2h-1.2zM66.7 152.2h1.5v1.2h-1.5zM66.4 134.7h2.4v1.2h-2.4z"/>
</g>
</g>
<rect x="44" y="142" width="1.3" height="1.3" fill="#58b848"/>
<rect x="45" y="145" width="1.3" height="1.3" fill="#8cd070"/>
<rect x="43" y="147" width="1.3" height="1.3" fill="#7f98d0"/>
<rect x="46" y="140" width="1.3" height="1.3" fill="#d6ead0"/>
<rect x="71" y="76" width="1.3" height="1.3" fill="#999"/>
<rect x="56" y="90" width="1.3" height="1.3" fill="#888"/>
<rect x="44" y="138" width="1.3" height="1.3" fill="#58b848"/>
<rect x="28.2" y="37.2" width="207" height="220.8" fill="none" stroke="#fff" stroke-width="1.5"/>
<rect x="49.5" y="237" width="27.5" height="2" fill="#fff"/>
<text x="63" y="235.6" font-size="3.6" font-weight="bold" fill="#fff" text-anchor="middle">100 µm</text>
<rect x="175.8" y="148.6" width="34.8" height="38.4" fill="none" stroke="#fff" stroke-width="1.4" stroke-dasharray="5 3"/>
<line x1="210.6" y1="148.6" x2="282" y2="37" stroke="#fff" stroke-width="2.3" stroke-dasharray="10 5.4"/>
<line x1="209" y1="187" x2="281" y2="257" stroke="#fff" stroke-width="2.3" stroke-dasharray="10 5.4"/>
<g clip-path="url(#rc)">
<rect x="283" y="36" width="214" height="222" fill="#010206"/>
<g filter="url(#bl4)"><rect x="283.0" y="36.0" width="27.2" height="28.2" fill="rgb(2,28,19)"/><rect x="309.8" y="36.0" width="27.2" height="28.2" fill="rgb(2,23,26)"/><rect x="336.5" y="36.0" width="27.2" height="28.2" fill="rgb(3,23,19)"/><rect x="363.2" y="36.0" width="27.2" height="28.2" fill="rgb(4,23,12)"/><rect x="390.0" y="36.0" width="27.2" height="28.2" fill="rgb(4,28,19)"/><rect x="416.8" y="36.0" width="27.2" height="28.2" fill="rgb(5,28,12)"/><rect x="443.5" y="36.0" width="27.2" height="28.2" fill="rgb(5,34,12)"/><rect x="470.2" y="36.0" width="27.2" height="28.2" fill="rgb(2,3,6)"/><rect x="283.0" y="63.8" width="27.2" height="28.2" fill="rgb(2,17,26)"/><rect x="309.8" y="63.8" width="27.2" height="28.2" fill="rgb(2,6,33)"/><rect x="336.5" y="63.8" width="27.2" height="28.2" fill="rgb(3,17,19)"/><rect x="363.2" y="63.8" width="27.2" height="28.2" fill="rgb(5,28,12)"/><rect x="390.0" y="63.8" width="27.2" height="28.2" fill="rgb(5,17,26)"/><rect x="416.8" y="63.8" width="27.2" height="28.2" fill="rgb(6,34,12)"/><rect x="443.5" y="63.8" width="27.2" height="28.2" fill="rgb(6,34,12)"/><rect x="470.2" y="63.8" width="27.2" height="28.2" fill="rgb(2,3,6)"/><rect x="283.0" y="91.5" width="27.2" height="28.2" fill="rgb(2,12,26)"/><rect x="309.8" y="91.5" width="27.2" height="28.2" fill="rgb(2,12,26)"/><rect x="336.5" y="91.5" width="27.2" height="28.2" fill="rgb(4,23,12)"/><rect x="363.2" y="91.5" width="27.2" height="28.2" fill="rgb(6,28,12)"/><rect x="390.0" y="91.5" width="27.2" height="28.2" fill="rgb(4,23,19)"/><rect x="416.8" y="91.5" width="27.2" height="28.2" fill="rgb(5,28,12)"/><rect x="443.5" y="91.5" width="27.2" height="28.2" fill="rgb(6,34,12)"/><rect x="470.2" y="91.5" width="27.2" height="28.2" fill="rgb(2,3,6)"/><rect x="283.0" y="119.2" width="27.2" height="28.2" fill="rgb(3,17,26)"/><rect x="309.8" y="119.2" width="27.2" height="28.2" fill="rgb(2,23,19)"/><rect x="336.5" y="119.2" width="27.2" height="28.2" fill="rgb(5,23,19)"/><rect x="363.2" y="119.2" width="27.2" height="28.2" fill="rgb(5,17,19)"/><rect x="390.0" y="119.2" width="27.2" height="28.2" fill="rgb(4,17,26)"/><rect x="416.8" y="119.2" width="27.2" height="28.2" fill="rgb(4,28,12)"/><rect x="443.5" y="119.2" width="27.2" height="28.2" fill="rgb(5,23,19)"/><rect x="470.2" y="119.2" width="27.2" height="28.2" fill="rgb(2,6,19)"/><rect x="283.0" y="147.0" width="27.2" height="28.2" fill="rgb(2,3,19)"/><rect x="309.8" y="147.0" width="27.2" height="28.2" fill="rgb(4,23,19)"/><rect x="336.5" y="147.0" width="27.2" height="28.2" fill="rgb(3,12,33)"/><rect x="363.2" y="147.0" width="27.2" height="28.2" fill="rgb(4,23,12)"/><rect x="390.0" y="147.0" width="27.2" height="28.2" fill="rgb(5,23,12)"/><rect x="416.8" y="147.0" width="27.2" height="28.2" fill="rgb(4,23,19)"/><rect x="443.5" y="147.0" width="27.2" height="28.2" fill="rgb(4,12,19)"/><rect x="470.2" y="147.0" width="27.2" height="28.2" fill="rgb(2,3,22)"/><rect x="283.0" y="174.8" width="27.2" height="28.2" fill="rgb(2,12,26)"/><rect x="309.8" y="174.8" width="27.2" height="28.2" fill="rgb(4,23,19)"/><rect x="336.5" y="174.8" width="27.2" height="28.2" fill="rgb(4,17,26)"/><rect x="363.2" y="174.8" width="27.2" height="28.2" fill="rgb(4,17,19)"/><rect x="390.0" y="174.8" width="27.2" height="28.2" fill="rgb(2,3,6)"/><rect x="416.8" y="174.8" width="27.2" height="28.2" fill="rgb(5,23,19)"/><rect x="443.5" y="174.8" width="27.2" height="28.2" fill="rgb(5,12,19)"/><rect x="470.2" y="174.8" width="27.2" height="28.2" fill="rgb(2,3,22)"/><rect x="283.0" y="202.5" width="27.2" height="28.2" fill="rgb(4,3,33)"/><rect x="309.8" y="202.5" width="27.2" height="28.2" fill="rgb(4,17,26)"/><rect x="336.5" y="202.5" width="27.2" height="28.2" fill="rgb(6,23,12)"/><rect x="363.2" y="202.5" width="27.2" height="28.2" fill="rgb(4,17,26)"/><rect x="390.0" y="202.5" width="27.2" height="28.2" fill="rgb(5,28,12)"/><rect x="416.8" y="202.5" width="27.2" height="28.2" fill="rgb(4,12,26)"/><rect x="443.5" y="202.5" width="27.2" height="28.2" fill="rgb(3,6,26)"/><rect x="470.2" y="202.5" width="27.2" height="28.2" fill="rgb(2,6,26)"/><rect x="283.0" y="230.2" width="27.2" height="28.2" fill="rgb(4,3,26)"/><rect x="309.8" y="230.2" width="27.2" height="28.2" fill="rgb(3,17,26)"/><rect x="336.5" y="230.2" width="27.2" height="28.2" fill="rgb(6,23,12)"/><rect x="363.2" y="230.2" width="27.2" height="28.2" fill="rgb(3,12,26)"/><rect x="390.0" y="230.2" width="27.2" height="28.2" fill="rgb(4,23,19)"/><rect x="416.8" y="230.2" width="27.2" height="28.2" fill="rgb(3,12,26)"/><rect x="443.5" y="230.2" width="27.2" height="28.2" fill="rgb(4,3,19)"/><rect x="470.2" y="230.2" width="27.2" height="28.2" fill="rgb(2,3,19)"/></g>
<g filter="url(#bl3)"><polygon points="473.3,33.0 474.2,41.1 465.3,45.4 461.1,36.4 466.3,32.3" fill="#2a9030" opacity="0.91"/><polygon points="298.8,54.9 300.2,62.0 294.3,65.5 288.2,62.3 289.2,54.2" fill="#23842a" opacity="0.87"/><polygon points="352.1,71.7 348.6,75.6 346.0,73.2 343.6,67.9 344.9,63.1 349.7,63.0 353.1,67.5" fill="#32a034" opacity="0.68"/><polygon points="458.8,46.7 454.6,53.5 450.6,51.1 448.9,45.0 451.3,38.4 455.7,37.8 458.3,41.6" fill="#1e7424" opacity="0.85"/><polygon points="407.8,234.8 405.5,229.8 410.0,224.7 414.3,229.0 415.4,232.9" fill="#32a034" opacity="0.75"/><polygon points="447.5,51.9 451.7,52.1 454.1,55.8 453.1,60.1 447.4,62.3 444.4,59.8 442.5,55.8" fill="#2a9030" opacity="0.72"/><polygon points="386.0,151.3 383.3,147.4 387.3,144.3 394.1,143.8 397.8,147.6 391.8,153.5" fill="#1e7424" opacity="0.65"/><polygon points="431.6,42.6 426.5,49.9 418.4,45.7 419.0,35.6 425.5,34.9" fill="#23842a" opacity="0.67"/><polygon points="371.3,205.1 376.9,207.3 378.9,216.5 374.0,221.0 368.7,219.4 366.4,211.4" fill="#186a1e" opacity="0.73"/><polygon points="422.3,117.0 419.6,114.2 418.1,108.0 420.2,107.0 425.8,107.8 428.9,111.8 426.1,115.6" fill="#3cb03c" opacity="0.85"/><polygon points="344.2,124.7 348.7,128.1 347.3,136.9 341.7,137.9 335.6,132.5 338.7,126.7" fill="#2a9030" opacity="0.73"/><polygon points="419.3,257.9 415.5,260.0 411.5,258.2 409.8,252.6 413.5,249.9 417.8,250.9 421.3,254.1" fill="#32a034" opacity="0.79"/><polygon points="320.7,114.4 318.0,121.5 313.6,122.4 311.3,113.4 315.9,111.0" fill="#32a034" opacity="0.91"/><polygon points="343.4,218.9 339.0,218.0 335.6,209.4 340.3,206.0 344.8,210.5" fill="#1e7424" opacity="0.63"/><polygon points="340.2,88.6 335.2,89.4 332.1,81.7 333.7,76.9 341.2,76.2 342.1,82.1" fill="#3cb03c" opacity="0.88"/><polygon points="340.9,138.0 344.6,138.2 347.7,143.1 345.6,146.9 338.4,147.4 337.4,143.9" fill="#23842a" opacity="0.75"/><polygon points="421.8,184.5 413.0,188.2 408.0,184.2 411.2,178.6 418.2,178.0" fill="#1e7424" opacity="0.56"/><polygon points="299.4,134.7 304.7,137.7 304.5,145.0 301.4,148.3 296.0,143.0" fill="#186a1e" opacity="0.94"/><polygon points="452.2,92.9 456.7,96.1 455.0,101.3 448.8,103.6 443.5,101.7 444.2,95.9" fill="#3cb03c" opacity="0.90"/><polygon points="358.9,46.2 353.4,47.2 348.1,45.4 347.9,37.5 353.0,34.5 359.8,35.2 362.4,40.8" fill="#2a9030" opacity="0.77"/><polygon points="386.2,220.5 384.9,226.3 377.0,225.4 376.1,221.0 382.9,216.2" fill="#32a034" opacity="0.68"/><polygon points="331.1,228.4 329.7,221.8 331.8,217.1 334.5,217.0 338.6,220.2 338.0,226.8 334.3,228.7" fill="#23842a" opacity="0.76"/><polygon points="434.6,130.3 436.7,123.3 443.0,122.1 446.7,129.4 442.9,135.6" fill="#32a034" opacity="0.85"/><polygon points="335.2,237.9 329.5,243.4 322.7,241.4 322.6,233.5 331.1,232.1" fill="#32a034" opacity="0.86"/><polygon points="466.1,180.6 470.5,184.9 471.2,188.9 468.1,190.7 461.4,189.6 458.4,185.4 461.4,183.2" fill="#3cb03c" opacity="0.72"/><polygon points="304.6,35.8 309.0,32.0 315.5,35.3 314.1,42.5 305.7,42.3" fill="#23842a" opacity="0.93"/><polygon points="364.0,247.2 360.1,243.4 360.7,235.1 367.4,233.5 370.3,237.6 368.9,245.8" fill="#32a034" opacity="0.78"/><polygon points="416.3,51.9 410.4,51.1 409.1,44.6 413.0,41.1 419.3,42.0 422.1,48.0 420.9,50.4" fill="#186a1e" opacity="0.93"/><polygon points="458.2,70.7 461.5,77.2 455.8,79.9 448.7,76.1 451.5,72.5" fill="#32a034" opacity="0.90"/><polygon points="317.6,144.4 322.1,139.7 327.8,141.1 331.2,146.7 326.1,154.5 321.1,151.3" fill="#32a034" opacity="0.65"/><polygon points="386.3,80.1 380.5,84.2 376.8,80.1 377.0,72.9 383.7,72.8 385.6,75.0" fill="#23842a" opacity="0.62"/><polygon points="464.6,53.9 466.9,56.0 467.0,61.7 462.7,63.2 458.6,63.0 454.7,58.3 458.4,54.9" fill="#32a034" opacity="0.89"/><polygon points="425.3,124.4 429.4,120.9 432.8,120.9 434.9,126.7 433.7,129.4 430.2,132.1 426.1,128.4" fill="#32a034" opacity="0.56"/><polygon points="445.1,250.1 441.3,250.1 437.6,247.2 437.7,239.2 444.3,239.2 448.1,242.9" fill="#32a034" opacity="0.62"/><polygon points="410.4,160.5 404.7,155.9 408.7,149.0 414.0,151.6 415.1,158.7" fill="#1e7424" opacity="0.88"/><polygon points="454.3,101.1 460.0,107.0 457.3,112.0 452.4,111.4 451.3,103.9" fill="#2a9030" opacity="0.91"/><polygon points="362.4,222.4 364.7,222.1 368.9,225.7 368.5,230.6 364.5,231.9 361.1,230.8 360.1,228.0" fill="#2a9030" opacity="0.61"/><polygon points="401.7,138.1 397.3,138.0 393.8,134.4 394.9,130.4 402.3,127.6 406.0,129.8 407.0,135.7" fill="#23842a" opacity="0.74"/><polygon points="454.7,134.8 454.9,127.8 461.9,125.9 466.6,129.7 462.6,137.4" fill="#3cb03c" opacity="0.91"/><polygon points="337.5,57.1 330.3,59.4 327.4,54.9 331.4,48.0 336.6,50.0" fill="#1e7424" opacity="0.67"/><polygon points="388.9,79.7 385.6,78.0 386.5,71.4 389.6,69.6 394.9,71.6 397.8,74.0 396.0,78.3" fill="#2a9030" opacity="0.56"/><polygon points="433.2,82.3 428.7,84.5 424.4,80.6 423.3,76.1 426.6,73.4 430.6,74.2 434.2,79.4" fill="#32a034" opacity="0.57"/><polygon points="396.7,224.4 397.0,227.0 392.9,232.4 387.1,231.1 385.3,224.5 388.5,221.2" fill="#186a1e" opacity="0.87"/><polygon points="301.5,239.7 307.1,237.5 311.0,241.8 309.4,249.4 300.9,247.2" fill="#3cb03c" opacity="0.82"/><polygon points="400.9,228.7 405.6,233.3 406.6,239.9 399.1,244.4 396.1,239.0 395.1,232.7" fill="#23842a" opacity="0.85"/><polygon points="409.0,189.7 415.6,186.6 419.1,190.0 420.4,194.6 417.2,199.6 410.2,198.5 408.9,194.5" fill="#186a1e" opacity="0.78"/><polygon points="442.9,105.3 440.3,106.2 436.9,103.0 436.4,97.9 439.9,93.8 443.4,93.2 445.8,99.1" fill="#2a9030" opacity="0.71"/><polygon points="404.8,57.4 402.1,52.9 405.4,46.3 411.1,44.4 413.7,47.3 413.6,54.5 410.5,58.6" fill="#1e7424" opacity="0.87"/><polygon points="385.0,120.5 378.2,119.8 377.3,114.7 383.6,111.5 388.0,114.9" fill="#3cb03c" opacity="0.85"/><polygon points="473.3,75.3 471.5,67.2 477.8,65.4 483.0,71.9 480.3,76.5" fill="#3cb03c" opacity="0.86"/><polygon points="304.4,72.9 306.9,76.8 306.0,82.1 301.3,84.0 298.6,84.2 297.9,78.1 301.4,72.4" fill="#186a1e" opacity="0.73"/><polygon points="448.2,211.8 445.9,216.3 439.8,214.5 438.9,211.5 439.1,206.5 446.8,206.6" fill="#186a1e" opacity="0.83"/><polygon points="436.8,78.6 432.1,78.6 428.2,73.3 429.9,67.3 432.7,66.8 438.5,68.6 440.6,73.0" fill="#3cb03c" opacity="0.70"/><polygon points="342.4,256.1 340.6,264.5 337.9,264.3 334.0,260.8 333.0,253.1 334.5,249.5 341.2,252.0" fill="#1e7424" opacity="0.60"/><polygon points="442.0,34.1 446.2,29.4 451.2,31.2 451.8,38.1 444.7,40.4" fill="#32a034" opacity="0.66"/><polygon points="442.4,264.1 434.7,264.9 433.3,255.9 438.8,253.8 443.8,257.4" fill="#23842a" opacity="0.91"/><polygon points="408.5,215.3 401.2,222.8 394.2,218.8 393.6,211.2 398.1,207.7 405.2,208.6" fill="#23842a" opacity="0.81"/><polygon points="366.1,67.2 370.9,65.6 376.9,67.9 377.1,73.5 370.0,75.9 365.2,74.5 364.7,70.1" fill="#23842a" opacity="0.66"/><polygon points="373.0,97.1 374.4,92.6 379.4,91.3 383.8,90.6 385.9,96.2 383.1,101.6 376.4,100.7" fill="#2a9030" opacity="0.62"/><polygon points="441.2,61.2 436.4,59.9 432.6,53.9 437.8,46.4 444.0,48.7 445.8,55.8" fill="#186a1e" opacity="0.84"/><polygon points="451.3,158.9 458.6,158.2 460.7,166.0 456.9,171.4 449.4,169.7 449.2,165.3" fill="#2a9030" opacity="0.60"/><polygon points="395.6,172.0 396.8,166.3 402.4,162.0 405.7,165.3 406.4,174.2 403.5,175.9 397.2,177.1" fill="#23842a" opacity="0.60"/><polygon points="317.3,125.5 325.0,128.2 325.6,136.3 320.1,138.7 316.3,139.1 315.3,129.1" fill="#32a034" opacity="0.56"/><polygon points="428.8,95.9 431.9,101.0 429.3,107.3 422.2,107.0 420.1,104.5 419.0,98.3 424.9,95.6" fill="#3cb03c" opacity="0.71"/><polygon points="316.1,64.5 309.6,66.6 306.6,61.1 309.1,50.9 312.4,50.7 317.8,58.2" fill="#186a1e" opacity="0.94"/><polygon points="448.8,115.4 456.8,114.6 458.0,124.0 451.8,129.0 445.4,120.5" fill="#23842a" opacity="0.67"/><polygon points="337.8,160.4 332.1,163.6 327.8,163.7 325.4,157.7 330.8,152.7 337.1,154.5" fill="#1e7424" opacity="0.89"/><polygon points="318.0,68.3 317.5,76.2 312.8,77.4 307.8,72.2 310.6,66.1" fill="#2a9030" opacity="0.93"/><polygon points="360.1,32.9 364.7,28.0 370.4,28.7 375.8,34.3 372.1,36.0 366.5,37.5" fill="#23842a" opacity="0.82"/><polygon points="424.7,217.1 418.0,213.0 418.8,206.9 424.3,203.0 428.2,205.3 428.5,211.8" fill="#3cb03c" opacity="0.78"/><polygon points="372.8,133.3 368.2,137.3 362.5,136.3 362.6,131.4 369.1,128.0" fill="#2a9030" opacity="0.89"/><polygon points="325.2,30.2 331.3,31.0 330.9,36.3 325.7,39.7 322.0,34.9" fill="#186a1e" opacity="0.66"/><polygon points="364.4,77.2 371.4,79.1 371.6,82.4 367.8,86.4 363.4,85.3 362.3,81.5" fill="#3cb03c" opacity="0.70"/><polygon points="288.2,66.5 280.5,61.7 281.8,56.7 286.4,51.1 291.0,58.8" fill="#3cb03c" opacity="0.95"/><polygon points="394.1,118.5 394.1,111.1 399.0,107.1 402.1,109.6 404.7,119.5 400.8,122.9" fill="#32a034" opacity="0.83"/><polygon points="456.7,155.4 455.2,160.6 446.4,161.3 444.1,156.0 451.6,151.2" fill="#1e7424" opacity="0.85"/><polygon points="403.2,37.5 402.8,42.0 394.9,42.3 393.2,37.9 398.6,33.2" fill="#1e7424" opacity="0.71"/><polygon points="304.2,58.9 300.6,56.7 299.0,50.7 302.3,48.4 309.0,49.0 310.0,53.9 307.2,58.7" fill="#186a1e" opacity="0.85"/><polygon points="429.8,204.0 436.0,199.4 440.1,204.2 437.2,211.0 431.7,210.4" fill="#23842a" opacity="0.68"/><polygon points="386.4,31.8 384.2,36.1 377.8,35.7 375.2,34.3 376.6,28.2 381.3,27.0 385.8,28.3" fill="#3cb03c" opacity="0.80"/><polygon points="332.8,191.1 333.6,199.0 328.0,202.7 323.9,199.2 327.1,191.6" fill="#23842a" opacity="0.88"/><polygon points="322.5,224.9 316.0,227.2 310.9,223.2 315.2,215.7 322.5,217.0" fill="#23842a" opacity="0.76"/><polygon points="457.6,34.9 455.4,28.4 459.6,24.3 467.2,27.6 468.9,32.0 468.4,36.0 459.4,36.5" fill="#32a034" opacity="0.78"/><polygon points="412.2,101.8 412.3,95.8 417.6,93.0 422.6,95.7 422.0,103.7 416.6,103.7" fill="#32a034" opacity="0.59"/><polygon points="401.2,59.4 395.3,58.7 394.4,52.9 397.1,48.3 401.4,48.5 403.2,56.2" fill="#2a9030" opacity="0.84"/><polygon points="336.1,135.0 330.5,138.9 326.6,136.0 327.2,128.8 333.1,124.5 336.4,128.1" fill="#2a9030" opacity="0.78"/><polygon points="437.5,78.4 448.9,78.2 449.0,82.4 443.5,88.8 437.0,86.4" fill="#23842a" opacity="0.68"/><polygon points="307.6,47.9 308.7,40.4 313.8,37.8 320.4,40.5 319.8,48.7 314.0,52.4" fill="#32a034" opacity="0.82"/><polygon points="474.6,109.7 478.1,111.1 478.7,119.4 476.4,122.1 471.6,120.8 470.0,115.8 471.6,109.5" fill="#2a9030" opacity="0.83"/><polygon points="314.8,254.1 310.1,255.2 307.3,250.8 311.4,244.4 315.8,244.4 318.2,248.9" fill="#1e7424" opacity="0.63"/><polygon points="340.0,115.4 338.5,118.1 332.6,117.0 332.1,111.3 334.9,108.4 338.7,109.0" fill="#3cb03c" opacity="0.79"/><polygon points="426.4,225.4 421.8,226.2 419.2,224.6 419.4,218.5 422.0,216.7 426.4,215.8 429.5,222.0" fill="#186a1e" opacity="0.67"/><polygon points="377.3,46.7 377.9,43.9 380.7,40.3 384.0,41.1 387.9,44.5 387.4,48.7 380.6,50.8" fill="#23842a" opacity="0.64"/><polygon points="433.3,189.1 434.9,180.8 439.6,180.1 443.1,188.1 438.6,194.5" fill="#3cb03c" opacity="0.82"/><polygon points="344.2,169.6 340.2,175.3 335.5,174.8 330.8,168.1 333.0,162.8 341.3,160.6" fill="#23842a" opacity="0.71"/><polygon points="301.5,112.5 303.3,118.8 298.3,120.5 292.0,119.0 292.9,112.8 296.4,110.4" fill="#2a9030" opacity="0.86"/><polygon points="435.9,199.2 427.6,199.5 427.1,194.1 432.1,189.0 437.1,191.4 439.0,195.5" fill="#3cb03c" opacity="0.88"/><polygon points="373.8,104.7 377.3,102.5 382.8,104.1 382.3,109.1 379.1,115.4 376.9,115.2 371.9,109.4" fill="#186a1e" opacity="0.69"/><polygon points="297.5,130.6 295.4,128.1 298.3,123.7 304.7,124.3 305.4,128.8 301.6,132.5" fill="#32a034" opacity="0.61"/><polygon points="315.0,188.2 321.2,183.3 324.6,187.0 322.6,192.8 315.3,192.6" fill="#186a1e" opacity="0.75"/><polygon points="403.0,140.0 406.7,148.0 403.0,153.6 397.0,149.2 398.9,139.4" fill="#186a1e" opacity="0.80"/><polygon points="358.7,195.7 361.0,191.5 367.9,189.3 371.6,196.1 369.3,200.4 361.7,203.3" fill="#186a1e" opacity="0.79"/><polygon points="328.9,179.2 326.7,175.9 327.6,170.2 331.2,169.9 336.4,169.8 338.6,173.6 335.7,177.8" fill="#2a9030" opacity="0.57"/><polygon points="368.9,209.8 367.2,217.5 359.5,215.6 357.9,205.6 363.6,203.0" fill="#32a034" opacity="0.70"/><polygon points="458.9,87.6 453.9,90.0 451.2,85.3 452.4,78.7 459.3,79.0" fill="#3cb03c" opacity="0.66"/><polygon points="415.9,161.1 413.8,168.6 405.9,166.8 406.0,160.4 411.5,156.9" fill="#2a9030" opacity="0.73"/><polygon points="381.7,57.5 376.2,57.9 372.0,51.6 375.6,48.2 382.5,48.2 385.5,51.6" fill="#2a9030" opacity="0.72"/><polygon points="433.3,170.2 432.3,173.3 426.4,172.5 422.8,169.5 426.5,165.1 433.2,165.7" fill="#32a034" opacity="0.71"/><polygon points="413.5,73.5 416.3,68.2 423.5,67.5 425.5,71.4 420.8,80.3 418.2,79.3" fill="#32a034" opacity="0.72"/><polygon points="350.4,211.8 351.1,207.2 355.2,203.9 358.4,207.1 360.7,209.2 359.0,215.0 354.5,216.8" fill="#1e7424" opacity="0.70"/><polygon points="404.8,108.2 398.1,106.5 397.3,101.4 404.4,99.2 410.1,102.3" fill="#186a1e" opacity="0.75"/><polygon points="419.8,90.3 424.3,83.7 427.1,83.8 431.0,87.3 429.8,94.2 427.0,98.0 421.6,95.1" fill="#23842a" opacity="0.72"/><polygon points="341.7,256.7 347.1,255.1 355.0,257.5 354.5,262.9 348.6,266.6 342.7,263.4" fill="#3cb03c" opacity="0.64"/><polygon points="439.9,38.8 439.0,45.6 432.7,48.1 430.2,43.2 431.7,35.5 435.9,34.5" fill="#23842a" opacity="0.89"/><polygon points="428.6,145.5 430.6,152.0 423.8,156.9 420.4,151.6 421.6,144.4" fill="#23842a" opacity="0.67"/><polygon points="300.2,252.4 303.4,246.2 306.8,245.7 311.3,253.0 309.0,260.6 302.5,259.8" fill="#2a9030" opacity="0.62"/><polygon points="464.9,157.2 459.5,156.4 457.5,148.6 460.7,145.7 465.9,145.7 468.2,153.5" fill="#23842a" opacity="0.67"/><polygon points="437.4,38.0 430.9,37.6 430.0,34.4 432.9,28.9 435.6,28.5 439.9,29.3 440.8,35.9" fill="#3cb03c" opacity="0.75"/><polygon points="408.1,72.4 412.4,71.6 416.6,75.8 412.9,81.1 406.6,80.6" fill="#2a9030" opacity="0.90"/><polygon points="461.5,146.7 454.2,145.1 455.8,138.8 460.7,136.7 466.2,141.8" fill="#32a034" opacity="0.93"/><polygon points="354.2,81.9 350.1,76.2 352.2,73.3 358.5,72.2 362.1,76.9 359.4,80.0" fill="#1e7424" opacity="0.75"/><polygon points="430.2,163.8 434.2,156.3 438.5,155.2 443.2,161.3 441.9,166.8 436.5,169.4 432.8,169.5" fill="#2a9030" opacity="0.65"/><polygon points="286.4,42.4 284.5,48.9 278.8,47.3 278.3,42.5 282.2,40.0" fill="#1e7424" opacity="0.68"/><polygon points="466.1,63.0 467.9,71.5 461.4,75.8 457.5,73.4 456.9,62.9 462.5,61.3" fill="#3cb03c" opacity="0.55"/><polygon points="479.5,212.2 478.7,209.3 478.8,204.5 482.2,201.6 488.7,205.2 489.6,210.0 486.2,211.1" fill="#3cb03c" opacity="0.64"/><polygon points="432.2,109.8 429.5,107.1 431.2,101.2 438.0,99.8 441.1,104.3 438.7,109.2" fill="#2a9030" opacity="0.69"/><polygon points="409.9,262.9 403.1,263.6 399.9,259.7 401.4,254.6 408.4,252.5 411.7,258.7" fill="#32a034" opacity="0.68"/><polygon points="403.9,247.0 401.6,241.2 407.4,237.1 413.8,241.8 411.3,246.3" fill="#186a1e" opacity="0.71"/><polygon points="462.8,34.6 462.6,40.7 456.2,44.0 451.3,40.7 452.5,35.3 458.3,32.7" fill="#2a9030" opacity="0.83"/><polygon points="369.2,78.8 364.5,81.2 358.7,76.7 362.0,70.0 367.3,70.0" fill="#23842a" opacity="0.77"/><polygon points="476.9,33.1 479.4,29.3 485.1,28.6 488.2,32.5 485.2,37.8 482.0,38.7" fill="#1e7424" opacity="0.90"/><polygon points="358.9,181.9 362.8,184.2 361.3,190.0 359.1,191.1 350.1,188.4 349.1,185.0 353.1,182.1" fill="#1e7424" opacity="0.58"/><polygon points="376.6,218.7 378.8,224.9 375.8,231.1 368.9,230.8 367.1,223.9 371.7,216.9" fill="#3cb03c" opacity="0.59"/><polygon points="443.7,117.4 441.2,111.9 443.4,105.9 448.6,104.4 450.9,106.9 451.4,114.3 448.2,117.3" fill="#3cb03c" opacity="0.81"/><polygon points="352.7,224.6 350.7,220.0 352.2,214.2 358.9,213.4 363.5,221.9 360.0,225.3" fill="#2a9030" opacity="0.76"/><polygon points="337.2,204.7 334.0,200.5 337.8,194.6 341.2,195.3 344.8,200.4 342.1,204.9" fill="#23842a" opacity="0.85"/><polygon points="480.7,129.2 483.2,136.1 479.2,140.0 472.1,139.7 470.3,133.0 475.8,129.2" fill="#186a1e" opacity="0.80"/><polygon points="401.8,88.3 400.6,84.1 407.2,81.0 410.9,84.6 409.6,88.6 406.3,92.2" fill="#2a9030" opacity="0.81"/><polygon points="274.1,72.2 272.9,67.6 278.6,64.9 283.2,66.0 286.1,70.7 283.9,74.3 277.6,74.1" fill="#1e7424" opacity="0.65"/><polygon points="369.8,43.0 370.3,53.1 366.1,54.3 361.2,49.0 365.5,40.0" fill="#186a1e" opacity="0.89"/><polygon points="386.2,128.2 393.4,127.4 396.2,133.6 393.3,137.9 386.8,136.3" fill="#3cb03c" opacity="0.93"/><polygon points="422.6,142.0 421.7,132.9 428.0,128.2 432.4,132.2 430.2,141.3" fill="#23842a" opacity="0.67"/><polygon points="469.8,141.1 465.2,139.8 462.9,134.2 465.2,130.9 470.0,131.3 472.5,133.8 471.7,138.2" fill="#2a9030" opacity="0.90"/><polygon points="297.4,67.5 304.1,60.7 311.8,65.8 311.3,74.2 307.4,76.8 298.5,73.3" fill="#186a1e" opacity="0.78"/><polygon points="374.9,144.5 367.3,147.5 364.1,142.8 365.0,136.9 369.2,134.0 373.6,136.3 376.5,140.5" fill="#32a034" opacity="0.89"/><polygon points="387.0,220.4 384.2,214.6 385.8,210.9 391.5,209.5 395.1,214.7 393.7,218.7 391.5,220.3" fill="#3cb03c" opacity="0.88"/><polygon points="368.1,126.3 366.4,121.8 370.3,119.7 375.1,118.9 377.8,122.8 375.3,128.4 370.4,128.1" fill="#32a034" opacity="0.76"/><polygon points="351.2,127.8 341.3,123.5 342.4,118.8 349.5,116.7 354.8,121.2" fill="#1e7424" opacity="0.62"/><polygon points="395.1,145.5 390.0,146.5 384.8,141.5 386.2,135.6 392.2,135.0 395.8,137.8" fill="#3cb03c" opacity="0.90"/><polygon points="367.9,123.8 361.4,117.1 365.3,109.9 371.1,109.6 372.0,119.9" fill="#186a1e" opacity="0.70"/><polygon points="444.8,60.4 443.2,55.2 451.7,52.5 454.3,55.9 453.9,61.7" fill="#1e7424" opacity="0.58"/><polygon points="419.2,173.9 423.8,172.4 429.4,174.8 427.9,181.6 419.2,182.4 415.8,178.9" fill="#23842a" opacity="0.92"/><polygon points="472.0,34.6 473.6,39.2 470.6,41.9 462.5,41.7 459.7,38.9 462.1,34.7 468.2,32.7" fill="#32a034" opacity="0.59"/><polygon points="384.6,258.9 381.4,258.1 380.8,250.5 384.8,249.6 390.0,250.8 391.3,256.4" fill="#2a9030" opacity="0.69"/><polygon points="305.1,56.0 308.2,61.4 308.5,64.0 300.9,66.4 296.7,65.0 293.9,58.7 296.9,56.8" fill="#3cb03c" opacity="0.94"/><polygon points="413.6,129.5 411.1,133.4 406.1,135.6 401.7,130.2 402.6,125.1 406.3,121.8 411.0,123.4" fill="#3cb03c" opacity="0.86"/><polygon points="352.8,59.7 345.1,57.4 344.0,50.7 347.3,45.4 352.6,47.9 354.0,55.7" fill="#2a9030" opacity="0.93"/><polygon points="332.3,135.0 338.4,135.0 338.8,137.0 337.6,143.4 335.3,145.0 330.5,142.4 331.3,136.6" fill="#186a1e" opacity="0.73"/><polygon points="475.5,49.9 475.2,56.4 470.9,60.4 466.3,58.2 466.2,52.5 470.5,48.0" fill="#2a9030" opacity="0.94"/><polygon points="328.8,45.7 328.8,50.0 326.5,56.2 322.6,57.2 317.4,55.0 317.1,46.9 321.0,43.0" fill="#32a034" opacity="0.61"/><polygon points="455.1,46.5 452.4,47.4 445.7,47.2 444.1,41.9 447.0,36.6 452.7,35.2 456.6,40.7" fill="#3cb03c" opacity="0.70"/><polygon points="293.8,207.5 301.1,205.5 306.7,210.9 303.5,214.4 296.3,213.2" fill="#3cb03c" opacity="0.62"/><polygon points="283.7,168.9 284.3,160.4 291.7,159.3 294.7,166.9 290.3,170.8" fill="#2a9030" opacity="0.88"/><polygon points="440.6,147.0 435.8,140.8 438.6,135.6 444.4,138.2 445.4,143.0" fill="#186a1e" opacity="0.56"/><polygon points="338.6,236.3 335.3,235.3 331.0,231.3 332.5,228.2 336.7,226.4 341.3,230.7" fill="#186a1e" opacity="0.77"/><polygon points="317.2,208.7 324.4,206.6 330.1,210.2 330.4,216.6 323.5,218.7 317.1,216.3" fill="#186a1e" opacity="0.71"/><polygon points="423.4,52.2 418.2,46.8 420.1,40.6 423.6,38.7 429.2,41.2 429.0,48.8" fill="#3cb03c" opacity="0.83"/><polygon points="474.1,68.6 472.7,76.2 469.7,78.9 464.7,73.1 464.7,67.7 470.3,65.5" fill="#3cb03c" opacity="0.60"/><polygon points="290.2,212.8 283.5,210.0 282.7,204.8 285.7,200.0 289.4,199.3 294.1,203.7 293.9,210.3" fill="#1e7424" opacity="0.75"/><polygon points="324.7,120.2 328.6,112.8 334.9,116.2 336.0,123.9 328.4,126.7" fill="#186a1e" opacity="0.72"/><polygon points="398.8,60.9 403.5,59.3 407.9,60.5 410.7,64.7 407.7,68.2 403.9,68.3 399.2,64.6" fill="#3cb03c" opacity="0.89"/><polygon points="305.7,27.1 311.7,25.5 315.1,29.3 315.8,33.3 310.7,37.7 306.9,35.8 303.7,31.8" fill="#186a1e" opacity="0.59"/><polygon points="390.1,91.3 385.0,85.3 388.9,76.3 394.7,79.8 394.3,89.1" fill="#3cb03c" opacity="0.63"/><polygon points="449.3,65.6 451.0,68.7 447.6,74.8 441.4,72.9 438.2,70.9 441.0,63.0 446.0,62.2" fill="#32a034" opacity="0.75"/><polygon points="420.0,35.2 430.3,31.2 435.8,37.4 432.4,41.0 422.8,40.8" fill="#23842a" opacity="0.79"/><polygon points="421.0,143.8 422.6,146.5 421.8,149.6 417.1,153.0 414.3,152.1 412.6,147.0 415.8,143.3" fill="#3cb03c" opacity="0.90"/><polygon points="430.7,223.4 428.0,220.7 428.6,216.9 431.8,212.9 437.1,214.4 440.1,220.0 435.9,223.4" fill="#2a9030" opacity="0.78"/><polygon points="421.9,117.6 423.7,111.2 429.1,110.6 431.7,112.7 430.7,119.6 424.0,120.2" fill="#23842a" opacity="0.90"/><polygon points="348.3,64.3 353.5,61.8 355.3,61.5 357.8,68.5 355.6,74.2 351.8,74.1 347.9,69.9" fill="#1e7424" opacity="0.83"/><polygon points="464.1,57.0 464.6,63.3 457.8,66.9 454.9,66.1 451.9,60.9 454.2,56.6 462.2,55.7" fill="#32a034" opacity="0.67"/><polygon points="413.8,184.1 407.9,180.3 409.2,173.2 413.8,171.2 419.8,175.8 419.4,179.4" fill="#2a9030" opacity="0.62"/><polygon points="368.5,240.1 367.3,235.5 373.0,232.7 377.3,236.6 372.4,242.1" fill="#32a034" opacity="0.76"/><polygon points="380.9,52.4 382.5,46.4 392.8,45.1 395.2,52.5 388.9,58.9" fill="#1e7424" opacity="0.57"/><polygon points="355.7,253.7 347.0,250.7 348.8,244.8 356.2,244.0 360.5,247.5" fill="#2a9030" opacity="0.89"/><polygon points="421.3,132.8 415.6,127.0 418.3,120.7 423.0,117.5 426.9,126.5" fill="#23842a" opacity="0.76"/><polygon points="344.3,126.2 346.4,130.9 345.7,133.6 342.2,135.7 336.6,131.0 339.9,126.6" fill="#32a034" opacity="0.76"/><polygon points="405.9,148.9 411.7,149.0 414.3,155.5 410.9,158.0 405.6,159.7 401.6,154.7" fill="#1e7424" opacity="0.62"/><polygon points="333.2,142.8 331.2,150.9 326.0,152.4 321.7,149.8 321.2,144.9 323.1,141.7 327.8,140.1" fill="#32a034" opacity="0.85"/><polygon points="346.4,209.6 350.2,213.4 348.8,216.7 341.1,218.3 337.5,215.5 340.5,209.6" fill="#32a034" opacity="0.85"/><polygon points="391.4,60.3 395.6,66.3 391.8,70.1 388.7,70.8 385.3,67.4 388.0,61.0" fill="#3cb03c" opacity="0.80"/><polygon points="324.1,56.8 330.6,55.2 336.3,59.6 333.2,65.7 325.6,67.4" fill="#23842a" opacity="0.73"/><polygon points="393.8,220.4 398.1,225.1 397.2,229.1 389.9,229.9 387.8,226.6 387.9,222.6" fill="#3cb03c" opacity="0.82"/><polygon points="423.8,62.6 424.1,69.2 417.1,69.0 413.6,64.3 418.5,57.9" fill="#2a9030" opacity="0.56"/><polygon points="403.3,221.6 408.1,222.2 410.1,230.6 403.9,233.1 400.1,229.7" fill="#186a1e" opacity="0.66"/><polygon points="360.2,54.6 362.8,61.5 358.3,64.7 350.9,60.3 353.9,55.0" fill="#32a034" opacity="0.76"/><polygon points="370.1,104.0 363.7,101.6 360.9,95.8 364.4,90.7 370.9,90.8 373.1,93.6 373.7,102.2" fill="#1e7424" opacity="0.61"/><polygon points="408.6,135.9 403.0,142.3 396.4,140.4 397.0,132.1 402.1,131.1" fill="#32a034" opacity="0.87"/><polygon points="459.2,139.1 453.1,132.2 455.5,128.1 464.1,126.1 467.8,132.4 465.4,138.1" fill="#2a9030" opacity="0.80"/><polygon points="362.1,186.8 370.6,183.9 375.7,185.5 372.4,193.6 367.5,194.1" fill="#23842a" opacity="0.82"/><polygon points="413.4,258.5 411.5,253.2 417.1,246.9 423.7,250.0 425.7,258.8 419.1,262.3" fill="#3cb03c" opacity="0.84"/><polygon points="329.5,47.2 334.7,40.8 338.6,44.0 338.4,53.6 333.8,53.9" fill="#32a034" opacity="0.87"/><polygon points="404.9,43.6 410.2,45.8 412.0,50.9 408.6,53.9 404.1,53.4 401.7,46.8" fill="#32a034" opacity="0.95"/><polygon points="381.8,79.8 378.6,73.5 382.4,70.9 388.0,73.1 389.1,79.3" fill="#23842a" opacity="0.76"/><polygon points="351.2,101.1 346.0,95.9 346.7,89.2 351.3,85.6 353.3,89.8 353.9,96.3" fill="#186a1e" opacity="0.73"/><polygon points="434.1,67.9 427.2,65.3 426.2,62.0 431.1,58.2 436.8,60.3 436.4,65.6" fill="#23842a" opacity="0.94"/><polygon points="335.5,219.8 331.9,225.4 327.2,226.1 325.0,219.6 325.8,214.1 331.1,212.8" fill="#1e7424" opacity="0.67"/><polygon points="336.8,154.7 333.9,147.5 335.2,142.4 339.1,141.7 343.4,145.0 344.3,149.4 341.4,153.8" fill="#32a034" opacity="0.62"/><polygon points="351.8,43.1 358.9,38.4 362.3,39.6 362.7,46.4 358.1,51.5 352.9,47.9" fill="#2a9030" opacity="0.80"/><polygon points="336.2,54.9 339.8,49.6 349.6,54.9 346.2,63.3 337.3,64.3" fill="#2a9030" opacity="0.70"/><polygon points="413.1,269.0 410.8,265.8 410.3,258.5 413.7,256.9 418.0,259.1 419.1,262.5 416.7,268.4" fill="#186a1e" opacity="0.93"/><polygon points="458.0,117.1 462.6,113.6 465.4,114.8 468.3,120.0 466.2,122.4 461.1,123.5 456.9,121.9" fill="#186a1e" opacity="0.82"/><polygon points="390.2,34.0 395.5,37.6 394.9,42.7 390.4,44.3 386.2,43.6 384.8,36.6" fill="#2a9030" opacity="0.87"/><polygon points="396.3,30.4 402.3,24.0 407.2,27.6 407.1,38.1 399.2,37.2" fill="#186a1e" opacity="0.95"/><polygon points="415.1,155.6 421.2,152.3 425.1,158.3 423.6,165.3 420.8,167.9 415.6,162.7" fill="#186a1e" opacity="0.87"/><polygon points="376.1,103.5 370.9,99.2 373.3,91.4 379.2,91.2 381.6,101.7" fill="#186a1e" opacity="0.89"/><polygon points="307.3,134.9 306.5,130.5 310.5,126.2 316.5,127.9 319.6,133.0 317.0,135.4" fill="#3cb03c" opacity="0.57"/><polygon points="298.1,45.4 299.7,50.0 297.4,52.2 293.3,54.8 289.2,49.1 290.2,44.1 294.8,41.3" fill="#2a9030" opacity="0.95"/><polygon points="398.8,219.0 396.2,215.9 399.4,211.9 402.6,211.6 406.8,212.8 407.9,217.4 404.2,219.9" fill="#186a1e" opacity="0.94"/><polygon points="437.2,76.9 432.8,76.2 431.5,66.4 437.1,63.3 440.2,71.4" fill="#23842a" opacity="0.77"/><polygon points="381.4,122.7 387.0,120.4 390.8,120.7 392.5,126.6 389.4,128.6 381.7,128.3" fill="#23842a" opacity="0.56"/><polygon points="436.8,128.8 443.2,123.4 449.6,128.0 449.7,133.8 445.5,137.0 439.3,136.9 436.8,132.9" fill="#32a034" opacity="0.86"/><polygon points="279.9,91.1 284.5,95.6 281.9,104.1 275.9,102.8 275.1,96.1" fill="#186a1e" opacity="0.89"/><polygon points="450.7,124.0 453.3,121.0 455.7,119.7 459.5,124.1 456.9,132.4 454.6,133.6 450.5,129.4" fill="#32a034" opacity="0.87"/><polygon points="476.5,169.9 477.4,174.5 476.3,179.4 472.5,182.2 469.2,178.8 468.0,174.0 471.9,167.2" fill="#32a034" opacity="0.85"/><polygon points="433.1,84.9 437.0,83.6 440.2,84.3 442.8,90.2 440.0,94.1 435.5,95.5 432.3,88.9" fill="#3cb03c" opacity="0.59"/><polygon points="409.5,139.5 412.8,141.2 414.2,146.0 410.4,149.3 407.3,148.2 404.5,144.2" fill="#3cb03c" opacity="0.66"/><polygon points="341.5,248.5 346.3,245.2 350.0,247.6 350.8,251.8 346.8,256.5 340.8,254.5" fill="#2a9030" opacity="0.82"/><polygon points="431.9,86.2 427.9,85.6 425.5,77.8 429.8,73.2 435.7,72.8 439.6,78.5 438.9,85.0" fill="#3cb03c" opacity="0.78"/><polygon points="384.2,119.3 381.2,125.3 377.3,124.5 372.5,117.7 374.6,114.6 379.0,111.2 383.9,115.2" fill="#3cb03c" opacity="0.86"/><polygon points="372.9,39.0 366.5,37.6 367.1,26.9 372.0,24.3 377.5,30.2" fill="#1e7424" opacity="0.89"/><polygon points="372.5,165.1 372.8,159.6 379.6,156.0 382.6,158.7 384.1,165.9 380.3,169.8 377.1,171.4" fill="#1e7424" opacity="0.56"/><polygon points="294.4,58.7 288.2,61.2 282.5,60.0 281.0,54.0 288.2,50.1 292.7,52.3" fill="#3cb03c" opacity="0.90"/><polygon points="501.8,209.1 495.4,207.4 495.2,201.5 500.1,198.7 505.9,202.1" fill="#1e7424" opacity="0.93"/><polygon points="387.7,52.7 395.2,52.4 399.0,58.1 396.4,64.5 390.9,64.4 386.4,59.3" fill="#32a034" opacity="0.69"/><polygon points="340.3,239.5 336.6,233.5 342.4,230.2 349.7,234.3 344.8,240.6" fill="#3cb03c" opacity="0.81"/><polygon points="387.0,109.2 391.5,110.8 394.0,113.6 393.4,117.9 385.4,118.9 380.3,116.1 382.3,111.8" fill="#1e7424" opacity="0.88"/><polygon points="301.1,182.4 297.1,179.1 294.9,175.1 298.9,169.6 303.6,171.8 305.1,175.8 306.1,178.0" fill="#32a034" opacity="0.59"/><polygon points="354.5,91.9 350.8,86.6 352.1,81.0 356.8,77.9 360.3,85.0 359.9,88.5" fill="#23842a" opacity="0.68"/><polygon points="335.6,161.7 333.8,153.4 337.4,150.0 342.9,152.0 344.2,153.6 344.0,159.9 339.6,163.6" fill="#2a9030" opacity="0.88"/><polygon points="345.3,103.4 343.2,109.4 340.8,108.6 336.9,105.9 337.2,98.9 341.2,94.7 345.0,98.6" fill="#186a1e" opacity="0.57"/><polygon points="450.7,88.2 450.6,96.4 439.9,95.4 440.8,87.2 445.0,83.6" fill="#3cb03c" opacity="0.70"/><polygon points="457.6,105.3 451.7,107.9 448.2,101.2 454.6,95.4 459.6,98.3" fill="#1e7424" opacity="0.91"/><polygon points="365.1,219.7 364.1,215.8 367.3,210.9 373.4,212.2 374.9,214.8 372.8,220.9 367.1,221.8" fill="#23842a" opacity="0.68"/><polygon points="448.9,177.2 443.3,174.2 445.6,167.0 452.4,166.9 454.0,174.9" fill="#2a9030" opacity="0.76"/><polygon points="312.4,49.3 315.9,54.7 312.9,61.4 306.1,64.2 301.6,58.2 301.0,55.1 304.8,49.8" fill="#32a034" opacity="0.68"/><polygon points="420.2,91.4 424.9,96.0 425.7,101.1 420.8,105.3 416.0,103.8 414.7,98.0 415.3,92.6" fill="#32a034" opacity="0.94"/><polygon points="329.5,35.1 325.0,38.8 321.5,35.5 318.7,33.6 320.3,28.7 328.0,27.3 330.6,31.4" fill="#2a9030" opacity="0.83"/><polygon points="371.0,82.6 368.3,75.3 371.2,70.8 376.9,70.9 380.1,75.6 380.1,78.6 373.6,82.8" fill="#1e7424" opacity="0.73"/><polygon points="333.2,264.6 328.8,266.5 324.3,264.0 325.5,256.5 330.8,257.0" fill="#3cb03c" opacity="0.87"/><polygon points="424.9,141.5 430.7,138.5 435.5,141.8 435.5,146.0 432.4,151.3 428.2,150.1 425.2,145.2" fill="#3cb03c" opacity="0.79"/><polygon points="344.2,167.0 350.5,168.4 353.3,172.0 350.5,176.6 345.2,177.0 342.0,171.9" fill="#2a9030" opacity="0.91"/><polygon points="444.4,64.8 432.6,63.9 432.3,55.6 441.2,51.7 446.1,56.9" fill="#1e7424" opacity="0.78"/><polygon points="446.3,92.6 448.7,100.5 445.2,105.9 438.4,101.4 439.0,94.8" fill="#23842a" opacity="0.73"/><polygon points="442.2,199.8 442.4,191.8 450.3,191.6 451.1,198.6 448.4,204.0" fill="#2a9030" opacity="0.85"/><polygon points="327.1,171.0 331.2,167.3 335.2,167.5 340.2,171.0 334.6,175.8 330.4,176.2" fill="#23842a" opacity="0.93"/><polygon points="366.1,102.3 365.3,106.7 362.2,108.2 357.8,105.2 356.8,97.3 359.1,95.6 363.8,96.2" fill="#1e7424" opacity="0.76"/><polygon points="407.4,175.0 405.7,177.7 399.8,177.4 398.7,169.0 400.4,166.3 404.9,166.7" fill="#186a1e" opacity="0.69"/><polygon points="394.6,238.5 391.6,231.7 393.2,226.7 403.0,228.8 401.8,234.7" fill="#3cb03c" opacity="0.90"/><polygon points="454.3,84.0 449.5,79.3 448.3,72.4 452.7,67.4 457.3,69.8 460.1,74.5 457.1,81.1" fill="#3cb03c" opacity="0.83"/><polygon points="361.9,129.1 366.7,129.1 371.8,134.9 364.2,139.0 359.6,137.0" fill="#23842a" opacity="0.76"/><polygon points="339.5,190.1 344.4,186.5 349.3,190.9 350.6,195.5 344.1,198.3 338.7,195.3" fill="#32a034" opacity="0.68"/><polygon points="314.6,103.7 306.6,99.4 306.8,94.8 315.4,91.6 318.4,98.1" fill="#3cb03c" opacity="0.59"/><polygon points="346.1,156.3 343.0,147.2 349.3,142.1 354.0,142.4 355.3,149.7 351.8,156.6" fill="#2a9030" opacity="0.79"/><polygon points="340.2,260.3 340.5,265.5 334.6,267.1 332.1,264.8 331.8,257.3 335.8,251.5 338.6,255.0" fill="#23842a" opacity="0.61"/><polygon points="407.5,40.5 410.7,33.7 415.2,34.0 418.5,38.2 416.0,47.3 411.6,47.8" fill="#1e7424" opacity="0.76"/><polygon points="315.0,143.8 311.4,144.9 306.0,143.1 305.0,139.7 307.8,135.5 312.7,135.6 316.0,136.8" fill="#1e7424" opacity="0.82"/><polygon points="284.9,198.9 282.8,204.9 274.1,206.5 273.0,200.1 276.1,196.1" fill="#23842a" opacity="0.55"/><polygon points="459.5,91.5 463.6,91.1 467.8,96.4 466.5,103.4 460.0,102.8 456.9,98.0" fill="#32a034" opacity="0.69"/><polygon points="351.6,121.2 349.2,114.8 355.5,109.2 359.6,117.5 357.3,123.3" fill="#32a034" opacity="0.87"/><polygon points="437.3,42.5 441.9,45.8 441.5,52.7 438.1,55.9 432.7,55.2 429.0,48.6 431.4,44.3" fill="#32a034" opacity="0.61"/><polygon points="397.9,99.9 406.1,100.9 407.9,107.9 400.6,109.5 395.5,103.7" fill="#2a9030" opacity="0.85"/><polygon points="360.3,180.9 362.9,175.2 370.5,173.8 373.2,178.5 366.6,183.9" fill="#1e7424" opacity="0.89"/><polygon points="319.9,43.7 320.0,47.3 315.8,50.5 310.5,48.8 308.9,45.1 311.7,41.9 315.9,41.5" fill="#23842a" opacity="0.79"/><polygon points="333.6,133.7 327.2,134.0 323.2,126.9 330.2,120.5 337.2,124.1 337.4,128.1" fill="#32a034" opacity="0.75"/><polygon points="396.9,202.6 402.5,205.6 401.2,212.1 389.2,212.7 389.1,206.1" fill="#1e7424" opacity="0.75"/><polygon points="448.3,153.6 456.5,150.9 461.1,156.9 454.1,163.7 449.1,161.7" fill="#3cb03c" opacity="0.75"/><polygon points="326.2,100.9 327.6,96.3 331.2,95.4 336.8,97.8 336.3,101.9 332.8,104.7 328.9,104.8" fill="#32a034" opacity="0.68"/><polygon points="414.8,72.3 410.9,76.6 402.1,76.9 400.1,70.4 406.5,66.3" fill="#186a1e" opacity="0.73"/><polygon points="428.1,171.5 431.1,163.7 437.6,166.1 435.6,174.2 431.3,176.3" fill="#32a034" opacity="0.65"/><polygon points="289.5,69.3 283.5,68.1 279.9,62.5 281.2,59.4 287.0,58.1 292.0,61.5" fill="#1e7424" opacity="0.65"/><polygon points="416.0,212.6 410.6,210.2 410.2,201.7 411.3,198.5 415.8,197.2 419.1,200.9 418.4,209.8" fill="#32a034" opacity="0.69"/><polygon points="386.2,149.1 381.3,150.5 376.4,146.8 380.6,142.3 386.4,145.5" fill="#3cb03c" opacity="0.88"/><polygon points="431.4,204.1 426.8,208.0 421.9,208.6 417.9,200.0 422.3,194.0 428.3,195.0" fill="#1e7424" opacity="0.78"/><polygon points="429.3,85.3 433.6,87.3 433.0,92.5 427.0,94.6 422.3,91.7 422.8,85.3" fill="#1e7424" opacity="0.74"/><polygon points="374.3,48.2 379.5,47.9 382.6,51.8 379.0,57.9 374.1,56.3 371.4,50.9" fill="#1e7424" opacity="0.61"/><polygon points="384.4,259.0 390.3,254.2 395.0,259.1 393.4,267.1 386.9,270.1 382.3,263.6" fill="#186a1e" opacity="0.91"/><polygon points="318.3,267.4 314.0,262.7 316.5,256.5 320.0,254.8 323.4,257.0 325.1,261.7 322.4,267.3" fill="#186a1e" opacity="0.89"/><polygon points="340.3,204.8 342.9,200.9 349.6,201.6 350.7,204.9 350.1,208.6 342.5,209.9" fill="#186a1e" opacity="0.58"/><polygon points="344.5,52.5 338.7,44.9 342.9,38.8 351.6,42.4 352.3,49.3" fill="#3cb03c" opacity="0.87"/><polygon points="448.1,111.7 446.0,114.3 440.5,111.8 439.5,106.5 442.0,103.3 447.2,104.2" fill="#186a1e" opacity="0.63"/><polygon points="392.7,110.4 388.9,111.6 384.8,111.0 383.1,105.2 384.7,100.9 391.2,99.0 394.4,101.9" fill="#2a9030" opacity="0.88"/><polygon points="378.6,56.5 383.8,54.0 390.9,58.2 390.8,62.6 384.7,65.7 377.6,62.0" fill="#2a9030" opacity="0.60"/><polygon points="442.4,172.6 437.1,169.9 434.7,164.4 443.0,162.8 447.3,169.2" fill="#1e7424" opacity="0.92"/><polygon points="347.9,79.7 340.4,75.3 344.0,66.9 351.5,68.7 354.0,73.6" fill="#3cb03c" opacity="0.64"/><polygon points="349.3,147.7 350.4,139.4 357.0,138.3 362.5,144.6 357.5,152.1" fill="#32a034" opacity="0.73"/><polygon points="314.5,236.5 319.8,242.6 316.6,247.1 310.2,249.9 307.4,246.6 305.5,240.1 308.8,235.0" fill="#1e7424" opacity="0.73"/><polygon points="409.2,248.7 414.1,252.5 413.7,257.2 406.8,259.9 403.7,255.0" fill="#2a9030" opacity="0.80"/><polygon points="431.4,34.4 437.0,31.0 441.3,32.9 439.6,39.5 433.2,38.9" fill="#186a1e" opacity="0.91"/><polygon points="477.0,224.2 477.8,230.3 474.0,233.1 468.9,230.4 468.5,225.6 472.8,222.7" fill="#2a9030" opacity="0.71"/><polygon points="371.5,86.5 366.2,89.2 362.9,88.0 361.3,82.4 363.2,76.9 368.5,76.7 373.5,81.0" fill="#32a034" opacity="0.56"/><polygon points="450.7,114.6 448.2,106.5 454.1,103.9 461.4,108.6 457.2,113.5" fill="#2a9030" opacity="0.78"/><polygon points="415.7,51.8 418.6,48.5 423.8,52.8 422.9,60.8 416.0,59.5" fill="#32a034" opacity="0.85"/><polygon points="299.9,134.2 301.6,136.3 298.0,140.9 292.6,140.8 291.8,133.9 293.6,132.4" fill="#1e7424" opacity="0.92"/><polygon points="372.4,43.5 367.4,46.9 362.6,40.4 364.3,35.7 370.5,36.9" fill="#2a9030" opacity="0.70"/><polygon points="464.3,45.1 463.7,50.6 458.2,52.3 453.6,49.6 454.0,43.5 459.3,42.1" fill="#2a9030" opacity="0.60"/><polygon points="442.2,122.3 435.2,124.7 432.3,119.0 436.6,113.8 442.7,116.9" fill="#1e7424" opacity="0.87"/><polygon points="410.1,233.4 417.3,232.9 420.9,235.8 418.1,240.7 411.9,241.7 407.9,239.8" fill="#32a034" opacity="0.69"/><polygon points="376.1,157.1 374.8,165.5 370.4,168.1 362.8,163.4 363.6,156.7 370.2,153.8" fill="#32a034" opacity="0.63"/><polygon points="428.4,250.8 433.4,256.9 431.3,263.1 427.3,266.3 421.8,262.1 423.9,253.9" fill="#186a1e" opacity="0.94"/><polygon points="384.5,240.0 380.1,237.0 381.3,230.3 386.9,226.7 393.6,233.3 393.3,238.8" fill="#3cb03c" opacity="0.90"/><polygon points="409.6,95.1 408.0,86.0 412.2,82.9 417.4,85.1 417.4,94.1 413.9,96.7" fill="#1e7424" opacity="0.78"/><polygon points="302.1,200.1 295.6,196.1 296.2,192.5 299.4,186.0 304.4,189.4 305.5,195.4" fill="#2a9030" opacity="0.86"/><polygon points="323.0,84.8 320.2,81.0 323.1,76.4 328.0,75.0 331.3,80.3 328.8,84.3" fill="#3cb03c" opacity="0.88"/><polygon points="363.2,115.9 366.5,117.3 366.9,127.4 362.4,130.0 357.4,128.1 355.6,119.9" fill="#2a9030" opacity="0.80"/><polygon points="284.7,38.9 285.0,32.9 288.1,28.1 296.7,32.7 297.7,36.6 290.4,42.2" fill="#32a034" opacity="0.61"/><polygon points="406.7,79.1 410.9,75.7 419.4,79.2 416.9,84.3 408.5,84.5" fill="#2a9030" opacity="0.80"/><polygon points="418.8,82.7 416.3,74.5 421.3,69.8 423.2,68.8 427.0,74.7 427.0,81.2 421.7,82.8" fill="#32a034" opacity="0.92"/><polygon points="477.4,142.8 471.9,135.7 474.1,129.6 479.8,128.8 483.7,135.7 482.3,139.7" fill="#3cb03c" opacity="0.90"/><polygon points="351.5,112.7 348.4,116.2 343.1,114.3 342.1,109.2 346.4,105.6 350.1,107.4" fill="#23842a" opacity="0.58"/><polygon points="414.2,207.6 414.8,217.6 407.5,219.7 404.0,214.9 407.5,206.8" fill="#2a9030" opacity="0.92"/><polygon points="354.0,211.6 358.2,215.8 358.8,219.1 353.8,223.6 349.9,220.7 348.8,215.4 350.0,213.0" fill="#1e7424" opacity="0.88"/><polygon points="386.0,143.6 382.6,146.1 378.1,138.0 377.8,133.8 383.1,130.1 386.9,131.8 389.6,136.3" fill="#186a1e" opacity="0.63"/><polygon points="374.5,179.2 381.6,176.3 385.4,181.1 382.0,186.9 375.0,185.1" fill="#32a034" opacity="0.92"/><polygon points="429.5,224.2 425.2,226.0 420.4,223.4 421.5,216.6 427.3,214.6 432.0,218.9" fill="#1e7424" opacity="0.63"/><polygon points="333.4,218.8 326.0,214.9 329.3,208.3 338.3,207.5 340.7,213.8" fill="#1e7424" opacity="0.76"/><polygon points="453.0,59.2 446.3,59.3 442.3,52.9 444.9,47.2 452.7,48.2 456.1,54.0" fill="#2a9030" opacity="0.67"/><polygon points="422.7,109.0 421.7,102.5 428.6,98.4 434.7,101.2 434.5,108.4 429.0,112.3" fill="#23842a" opacity="0.76"/><polygon points="400.4,254.1 397.8,259.3 392.9,259.4 390.5,252.8 395.9,249.9" fill="#3cb03c" opacity="0.78"/><polygon points="377.0,126.8 379.9,129.0 381.3,133.7 376.1,137.1 372.1,134.9 370.7,131.4 372.5,128.2" fill="#2a9030" opacity="0.82"/><polygon points="420.0,147.7 416.6,144.9 416.1,138.9 419.7,134.8 425.7,136.3 425.5,142.4 425.1,145.2" fill="#1e7424" opacity="0.71"/><polygon points="471.2,62.2 467.8,64.5 463.4,63.8 460.8,55.7 466.5,51.1 469.3,53.4" fill="#1e7424" opacity="0.67"/><polygon points="457.5,66.1 453.1,74.6 447.2,72.9 443.4,65.5 453.4,62.5" fill="#2a9030" opacity="0.80"/><polygon points="344.5,221.5 343.9,232.0 337.4,233.4 334.1,228.6 337.1,220.2" fill="#2a9030" opacity="0.62"/><polygon points="355.2,86.2 364.9,85.9 367.1,93.2 363.8,97.5 359.6,99.7 353.7,93.1" fill="#186a1e" opacity="0.67"/><polygon points="473.3,33.0 474.2,41.1 465.3,45.4 461.1,36.4 466.3,32.3" fill="none" stroke="#34983a" stroke-width="1.2" stroke-linejoin="round" opacity="0.85"/><polygon points="298.8,54.9 300.2,62.0 294.3,65.5 288.2,62.3 289.2,54.2" fill="none" stroke="#34983a" stroke-width="1.2" stroke-linejoin="round" opacity="0.85"/><polygon points="352.1,71.7 348.6,75.6 346.0,73.2 343.6,67.9 344.9,63.1 349.7,63.0 353.1,67.5" fill="none" stroke="#3aa83c" stroke-width="0.9" stroke-linejoin="round" opacity="0.85"/><polygon points="458.8,46.7 454.6,53.5 450.6,51.1 448.9,45.0 451.3,38.4 455.7,37.8 458.3,41.6" fill="none" stroke="#3aa83c" stroke-width="1.1" stroke-linejoin="round" opacity="0.85"/><polygon points="407.8,234.8 405.5,229.8 410.0,224.7 414.3,229.0 415.4,232.9" fill="none" stroke="#34983a" stroke-width="1.0" stroke-linejoin="round" opacity="0.85"/><polygon points="447.5,51.9 451.7,52.1 454.1,55.8 453.1,60.1 447.4,62.3 444.4,59.8 442.5,55.8" fill="none" stroke="#4cb848" stroke-width="1.1" stroke-linejoin="round" opacity="0.85"/><polygon points="386.0,151.3 383.3,147.4 387.3,144.3 394.1,143.8 397.8,147.6 391.8,153.5" fill="none" stroke="#4cb848" stroke-width="0.8" stroke-linejoin="round" opacity="0.85"/><polygon points="431.6,42.6 426.5,49.9 418.4,45.7 419.0,35.6 425.5,34.9" fill="none" stroke="#5cc454" stroke-width="0.9" stroke-linejoin="round" opacity="0.85"/><polygon points="371.3,205.1 376.9,207.3 378.9,216.5 374.0,221.0 368.7,219.4 366.4,211.4" fill="none" stroke="#4cb848" stroke-width="0.9" stroke-linejoin="round" opacity="0.85"/><polygon points="422.3,117.0 419.6,114.2 418.1,108.0 420.2,107.0 425.8,107.8 428.9,111.8 426.1,115.6" fill="none" stroke="#3aa83c" stroke-width="1.4" stroke-linejoin="round" opacity="0.85"/><polygon points="344.2,124.7 348.7,128.1 347.3,136.9 341.7,137.9 335.6,132.5 338.7,126.7" fill="none" stroke="#3aa83c" stroke-width="0.8" stroke-linejoin="round" opacity="0.85"/><polygon points="419.3,257.9 415.5,260.0 411.5,258.2 409.8,252.6 413.5,249.9 417.8,250.9 421.3,254.1" fill="none" stroke="#3aa83c" stroke-width="0.8" stroke-linejoin="round" opacity="0.85"/><polygon points="320.7,114.4 318.0,121.5 313.6,122.4 311.3,113.4 315.9,111.0" fill="none" stroke="#6ed064" stroke-width="1.3" stroke-linejoin="round" opacity="0.85"/><polygon points="343.4,218.9 339.0,218.0 335.6,209.4 340.3,206.0 344.8,210.5" fill="none" stroke="#6ed064" stroke-width="1.1" stroke-linejoin="round" opacity="0.85"/><polygon points="340.2,88.6 335.2,89.4 332.1,81.7 333.7,76.9 341.2,76.2 342.1,82.1" fill="none" stroke="#4cb848" stroke-width="1.1" stroke-linejoin="round" opacity="0.85"/><polygon points="340.9,138.0 344.6,138.2 347.7,143.1 345.6,146.9 338.4,147.4 337.4,143.9" fill="none" stroke="#6ed064" stroke-width="1.3" stroke-linejoin="round" opacity="0.85"/><polygon points="421.8,184.5 413.0,188.2 408.0,184.2 411.2,178.6 418.2,178.0" fill="none" stroke="#6ed064" stroke-width="1.0" stroke-linejoin="round" opacity="0.85"/><polygon points="299.4,134.7 304.7,137.7 304.5,145.0 301.4,148.3 296.0,143.0" fill="none" stroke="#5cc454" stroke-width="1.3" stroke-linejoin="round" opacity="0.85"/><polygon points="452.2,92.9 456.7,96.1 455.0,101.3 448.8,103.6 443.5,101.7 444.2,95.9" fill="none" stroke="#34983a" stroke-width="0.9" stroke-linejoin="round" opacity="0.85"/><polygon points="358.9,46.2 353.4,47.2 348.1,45.4 347.9,37.5 353.0,34.5 359.8,35.2 362.4,40.8" fill="none" stroke="#3aa83c" stroke-width="0.8" stroke-linejoin="round" opacity="0.85"/><polygon points="386.2,220.5 384.9,226.3 377.0,225.4 376.1,221.0 382.9,216.2" fill="none" stroke="#6ed064" stroke-width="1.3" stroke-linejoin="round" opacity="0.85"/><polygon points="331.1,228.4 329.7,221.8 331.8,217.1 334.5,217.0 338.6,220.2 338.0,226.8 334.3,228.7" fill="none" stroke="#4cb848" stroke-width="1.4" stroke-linejoin="round" opacity="0.85"/><polygon points="434.6,130.3 436.7,123.3 443.0,122.1 446.7,129.4 442.9,135.6" fill="none" stroke="#3aa83c" stroke-width="0.9" stroke-linejoin="round" opacity="0.85"/><polygon points="335.2,237.9 329.5,243.4 322.7,241.4 322.6,233.5 331.1,232.1" fill="none" stroke="#6ed064" stroke-width="1.0" stroke-linejoin="round" opacity="0.85"/><polygon points="466.1,180.6 470.5,184.9 471.2,188.9 468.1,190.7 461.4,189.6 458.4,185.4 461.4,183.2" fill="none" stroke="#34983a" stroke-width="1.4" stroke-linejoin="round" opacity="0.85"/><polygon points="304.6,35.8 309.0,32.0 315.5,35.3 314.1,42.5 305.7,42.3" fill="none" stroke="#34983a" stroke-width="1.0" stroke-linejoin="round" opacity="0.85"/><polygon points="364.0,247.2 360.1,243.4 360.7,235.1 367.4,233.5 370.3,237.6 368.9,245.8" fill="none" stroke="#4cb848" stroke-width="0.9" stroke-linejoin="round" opacity="0.85"/><polygon points="416.3,51.9 410.4,51.1 409.1,44.6 413.0,41.1 419.3,42.0 422.1,48.0 420.9,50.4" fill="none" stroke="#6ed064" stroke-width="1.3" stroke-linejoin="round" opacity="0.85"/><polygon points="458.2,70.7 461.5,77.2 455.8,79.9 448.7,76.1 451.5,72.5" fill="none" stroke="#3aa83c" stroke-width="1.3" stroke-linejoin="round" opacity="0.85"/><polygon points="317.6,144.4 322.1,139.7 327.8,141.1 331.2,146.7 326.1,154.5 321.1,151.3" fill="none" stroke="#3aa83c" stroke-width="1.2" stroke-linejoin="round" opacity="0.85"/><polygon points="386.3,80.1 380.5,84.2 376.8,80.1 377.0,72.9 383.7,72.8 385.6,75.0" fill="none" stroke="#4cb848" stroke-width="0.8" stroke-linejoin="round" opacity="0.85"/><polygon points="464.6,53.9 466.9,56.0 467.0,61.7 462.7,63.2 458.6,63.0 454.7,58.3 458.4,54.9" fill="none" stroke="#6ed064" stroke-width="1.1" stroke-linejoin="round" opacity="0.85"/><polygon points="425.3,124.4 429.4,120.9 432.8,120.9 434.9,126.7 433.7,129.4 430.2,132.1 426.1,128.4" fill="none" stroke="#34983a" stroke-width="0.9" stroke-linejoin="round" opacity="0.85"/><polygon points="445.1,250.1 441.3,250.1 437.6,247.2 437.7,239.2 444.3,239.2 448.1,242.9" fill="none" stroke="#5cc454" stroke-width="1.1" stroke-linejoin="round" opacity="0.85"/><polygon points="410.4,160.5 404.7,155.9 408.7,149.0 414.0,151.6 415.1,158.7" fill="none" stroke="#34983a" stroke-width="1.3" stroke-linejoin="round" opacity="0.85"/><polygon points="454.3,101.1 460.0,107.0 457.3,112.0 452.4,111.4 451.3,103.9" fill="none" stroke="#6ed064" stroke-width="1.1" stroke-linejoin="round" opacity="0.85"/><polygon points="362.4,222.4 364.7,222.1 368.9,225.7 368.5,230.6 364.5,231.9 361.1,230.8 360.1,228.0" fill="none" stroke="#34983a" stroke-width="1.0" stroke-linejoin="round" opacity="0.85"/><polygon points="401.7,138.1 397.3,138.0 393.8,134.4 394.9,130.4 402.3,127.6 406.0,129.8 407.0,135.7" fill="none" stroke="#6ed064" stroke-width="1.1" stroke-linejoin="round" opacity="0.85"/><polygon points="454.7,134.8 454.9,127.8 461.9,125.9 466.6,129.7 462.6,137.4" fill="none" stroke="#34983a" stroke-width="0.9" stroke-linejoin="round" opacity="0.85"/><polygon points="337.5,57.1 330.3,59.4 327.4,54.9 331.4,48.0 336.6,50.0" fill="none" stroke="#5cc454" stroke-width="1.4" stroke-linejoin="round" opacity="0.85"/><polygon points="388.9,79.7 385.6,78.0 386.5,71.4 389.6,69.6 394.9,71.6 397.8,74.0 396.0,78.3" fill="none" stroke="#3aa83c" stroke-width="0.9" stroke-linejoin="round" opacity="0.85"/><polygon points="433.2,82.3 428.7,84.5 424.4,80.6 423.3,76.1 426.6,73.4 430.6,74.2 434.2,79.4" fill="none" stroke="#6ed064" stroke-width="1.1" stroke-linejoin="round" opacity="0.85"/><polygon points="396.7,224.4 397.0,227.0 392.9,232.4 387.1,231.1 385.3,224.5 388.5,221.2" fill="none" stroke="#4cb848" stroke-width="0.8" stroke-linejoin="round" opacity="0.85"/><polygon points="301.5,239.7 307.1,237.5 311.0,241.8 309.4,249.4 300.9,247.2" fill="none" stroke="#3aa83c" stroke-width="0.9" stroke-linejoin="round" opacity="0.85"/><polygon points="400.9,228.7 405.6,233.3 406.6,239.9 399.1,244.4 396.1,239.0 395.1,232.7" fill="none" stroke="#5cc454" stroke-width="0.9" stroke-linejoin="round" opacity="0.85"/><polygon points="409.0,189.7 415.6,186.6 419.1,190.0 420.4,194.6 417.2,199.6 410.2,198.5 408.9,194.5" fill="none" stroke="#5cc454" stroke-width="1.1" stroke-linejoin="round" opacity="0.85"/><polygon points="442.9,105.3 440.3,106.2 436.9,103.0 436.4,97.9 439.9,93.8 443.4,93.2 445.8,99.1" fill="none" stroke="#4cb848" stroke-width="1.2" stroke-linejoin="round" opacity="0.85"/><polygon points="404.8,57.4 402.1,52.9 405.4,46.3 411.1,44.4 413.7,47.3 413.6,54.5 410.5,58.6" fill="none" stroke="#3aa83c" stroke-width="1.2" stroke-linejoin="round" opacity="0.85"/><polygon points="385.0,120.5 378.2,119.8 377.3,114.7 383.6,111.5 388.0,114.9" fill="none" stroke="#5cc454" stroke-width="0.9" stroke-linejoin="round" opacity="0.85"/><polygon points="473.3,75.3 471.5,67.2 477.8,65.4 483.0,71.9 480.3,76.5" fill="none" stroke="#3aa83c" stroke-width="1.0" stroke-linejoin="round" opacity="0.85"/><polygon points="304.4,72.9 306.9,76.8 306.0,82.1 301.3,84.0 298.6,84.2 297.9,78.1 301.4,72.4" fill="none" stroke="#34983a" stroke-width="0.9" stroke-linejoin="round" opacity="0.85"/><polygon points="448.2,211.8 445.9,216.3 439.8,214.5 438.9,211.5 439.1,206.5 446.8,206.6" fill="none" stroke="#6ed064" stroke-width="1.2" stroke-linejoin="round" opacity="0.85"/><polygon points="436.8,78.6 432.1,78.6 428.2,73.3 429.9,67.3 432.7,66.8 438.5,68.6 440.6,73.0" fill="none" stroke="#6ed064" stroke-width="1.0" stroke-linejoin="round" opacity="0.85"/><polygon points="342.4,256.1 340.6,264.5 337.9,264.3 334.0,260.8 333.0,253.1 334.5,249.5 341.2,252.0" fill="none" stroke="#3aa83c" stroke-width="1.0" stroke-linejoin="round" opacity="0.85"/><polygon points="442.0,34.1 446.2,29.4 451.2,31.2 451.8,38.1 444.7,40.4" fill="none" stroke="#6ed064" stroke-width="0.9" stroke-linejoin="round" opacity="0.85"/><polygon points="442.4,264.1 434.7,264.9 433.3,255.9 438.8,253.8 443.8,257.4" fill="none" stroke="#34983a" stroke-width="0.8" stroke-linejoin="round" opacity="0.85"/><polygon points="408.5,215.3 401.2,222.8 394.2,218.8 393.6,211.2 398.1,207.7 405.2,208.6" fill="none" stroke="#3aa83c" stroke-width="1.4" stroke-linejoin="round" opacity="0.85"/><polygon points="366.1,67.2 370.9,65.6 376.9,67.9 377.1,73.5 370.0,75.9 365.2,74.5 364.7,70.1" fill="none" stroke="#4cb848" stroke-width="1.2" stroke-linejoin="round" opacity="0.85"/><polygon points="373.0,97.1 374.4,92.6 379.4,91.3 383.8,90.6 385.9,96.2 383.1,101.6 376.4,100.7" fill="none" stroke="#4cb848" stroke-width="1.2" stroke-linejoin="round" opacity="0.85"/><polygon points="441.2,61.2 436.4,59.9 432.6,53.9 437.8,46.4 444.0,48.7 445.8,55.8" fill="none" stroke="#3aa83c" stroke-width="1.1" stroke-linejoin="round" opacity="0.85"/><polygon points="451.3,158.9 458.6,158.2 460.7,166.0 456.9,171.4 449.4,169.7 449.2,165.3" fill="none" stroke="#34983a" stroke-width="1.0" stroke-linejoin="round" opacity="0.85"/><polygon points="395.6,172.0 396.8,166.3 402.4,162.0 405.7,165.3 406.4,174.2 403.5,175.9 397.2,177.1" fill="none" stroke="#34983a" stroke-width="0.9" stroke-linejoin="round" opacity="0.85"/><polygon points="317.3,125.5 325.0,128.2 325.6,136.3 320.1,138.7 316.3,139.1 315.3,129.1" fill="none" stroke="#34983a" stroke-width="1.0" stroke-linejoin="round" opacity="0.85"/><polygon points="428.8,95.9 431.9,101.0 429.3,107.3 422.2,107.0 420.1,104.5 419.0,98.3 424.9,95.6" fill="none" stroke="#6ed064" stroke-width="1.1" stroke-linejoin="round" opacity="0.85"/><polygon points="316.1,64.5 309.6,66.6 306.6,61.1 309.1,50.9 312.4,50.7 317.8,58.2" fill="none" stroke="#6ed064" stroke-width="1.3" stroke-linejoin="round" opacity="0.85"/><polygon points="448.8,115.4 456.8,114.6 458.0,124.0 451.8,129.0 445.4,120.5" fill="none" stroke="#34983a" stroke-width="1.4" stroke-linejoin="round" opacity="0.85"/><polygon points="337.8,160.4 332.1,163.6 327.8,163.7 325.4,157.7 330.8,152.7 337.1,154.5" fill="none" stroke="#34983a" stroke-width="1.1" stroke-linejoin="round" opacity="0.85"/><polygon points="318.0,68.3 317.5,76.2 312.8,77.4 307.8,72.2 310.6,66.1" fill="none" stroke="#3aa83c" stroke-width="1.3" stroke-linejoin="round" opacity="0.85"/><polygon points="360.1,32.9 364.7,28.0 370.4,28.7 375.8,34.3 372.1,36.0 366.5,37.5" fill="none" stroke="#5cc454" stroke-width="0.9" stroke-linejoin="round" opacity="0.85"/><polygon points="424.7,217.1 418.0,213.0 418.8,206.9 424.3,203.0 428.2,205.3 428.5,211.8" fill="none" stroke="#34983a" stroke-width="1.1" stroke-linejoin="round" opacity="0.85"/><polygon points="372.8,133.3 368.2,137.3 362.5,136.3 362.6,131.4 369.1,128.0" fill="none" stroke="#5cc454" stroke-width="1.0" stroke-linejoin="round" opacity="0.85"/><polygon points="325.2,30.2 331.3,31.0 330.9,36.3 325.7,39.7 322.0,34.9" fill="none" stroke="#3aa83c" stroke-width="0.9" stroke-linejoin="round" opacity="0.85"/><polygon points="364.4,77.2 371.4,79.1 371.6,82.4 367.8,86.4 363.4,85.3 362.3,81.5" fill="none" stroke="#3aa83c" stroke-width="1.0" stroke-linejoin="round" opacity="0.85"/><polygon points="288.2,66.5 280.5,61.7 281.8,56.7 286.4,51.1 291.0,58.8" fill="none" stroke="#4cb848" stroke-width="1.1" stroke-linejoin="round" opacity="0.85"/><polygon points="394.1,118.5 394.1,111.1 399.0,107.1 402.1,109.6 404.7,119.5 400.8,122.9" fill="none" stroke="#5cc454" stroke-width="1.3" stroke-linejoin="round" opacity="0.85"/><polygon points="456.7,155.4 455.2,160.6 446.4,161.3 444.1,156.0 451.6,151.2" fill="none" stroke="#6ed064" stroke-width="1.1" stroke-linejoin="round" opacity="0.85"/><polygon points="403.2,37.5 402.8,42.0 394.9,42.3 393.2,37.9 398.6,33.2" fill="none" stroke="#34983a" stroke-width="1.4" stroke-linejoin="round" opacity="0.85"/><polygon points="304.2,58.9 300.6,56.7 299.0,50.7 302.3,48.4 309.0,49.0 310.0,53.9 307.2,58.7" fill="none" stroke="#6ed064" stroke-width="1.2" stroke-linejoin="round" opacity="0.85"/><polygon points="429.8,204.0 436.0,199.4 440.1,204.2 437.2,211.0 431.7,210.4" fill="none" stroke="#5cc454" stroke-width="1.4" stroke-linejoin="round" opacity="0.85"/><polygon points="386.4,31.8 384.2,36.1 377.8,35.7 375.2,34.3 376.6,28.2 381.3,27.0 385.8,28.3" fill="none" stroke="#5cc454" stroke-width="1.3" stroke-linejoin="round" opacity="0.85"/><polygon points="332.8,191.1 333.6,199.0 328.0,202.7 323.9,199.2 327.1,191.6" fill="none" stroke="#6ed064" stroke-width="1.0" stroke-linejoin="round" opacity="0.85"/><polygon points="322.5,224.9 316.0,227.2 310.9,223.2 315.2,215.7 322.5,217.0" fill="none" stroke="#3aa83c" stroke-width="1.3" stroke-linejoin="round" opacity="0.85"/><polygon points="457.6,34.9 455.4,28.4 459.6,24.3 467.2,27.6 468.9,32.0 468.4,36.0 459.4,36.5" fill="none" stroke="#4cb848" stroke-width="1.3" stroke-linejoin="round" opacity="0.85"/><polygon points="412.2,101.8 412.3,95.8 417.6,93.0 422.6,95.7 422.0,103.7 416.6,103.7" fill="none" stroke="#6ed064" stroke-width="0.8" stroke-linejoin="round" opacity="0.85"/><polygon points="401.2,59.4 395.3,58.7 394.4,52.9 397.1,48.3 401.4,48.5 403.2,56.2" fill="none" stroke="#6ed064" stroke-width="1.3" stroke-linejoin="round" opacity="0.85"/><polygon points="336.1,135.0 330.5,138.9 326.6,136.0 327.2,128.8 333.1,124.5 336.4,128.1" fill="none" stroke="#6ed064" stroke-width="0.9" stroke-linejoin="round" opacity="0.85"/><polygon points="437.5,78.4 448.9,78.2 449.0,82.4 443.5,88.8 437.0,86.4" fill="none" stroke="#5cc454" stroke-width="1.4" stroke-linejoin="round" opacity="0.85"/><polygon points="307.6,47.9 308.7,40.4 313.8,37.8 320.4,40.5 319.8,48.7 314.0,52.4" fill="none" stroke="#4cb848" stroke-width="1.4" stroke-linejoin="round" opacity="0.85"/><polygon points="474.6,109.7 478.1,111.1 478.7,119.4 476.4,122.1 471.6,120.8 470.0,115.8 471.6,109.5" fill="none" stroke="#3aa83c" stroke-width="1.4" stroke-linejoin="round" opacity="0.85"/><polygon points="314.8,254.1 310.1,255.2 307.3,250.8 311.4,244.4 315.8,244.4 318.2,248.9" fill="none" stroke="#5cc454" stroke-width="0.9" stroke-linejoin="round" opacity="0.85"/><polygon points="340.0,115.4 338.5,118.1 332.6,117.0 332.1,111.3 334.9,108.4 338.7,109.0" fill="none" stroke="#4cb848" stroke-width="1.1" stroke-linejoin="round" opacity="0.85"/><polygon points="426.4,225.4 421.8,226.2 419.2,224.6 419.4,218.5 422.0,216.7 426.4,215.8 429.5,222.0" fill="none" stroke="#34983a" stroke-width="1.2" stroke-linejoin="round" opacity="0.85"/><polygon points="377.3,46.7 377.9,43.9 380.7,40.3 384.0,41.1 387.9,44.5 387.4,48.7 380.6,50.8" fill="none" stroke="#4cb848" stroke-width="1.1" stroke-linejoin="round" opacity="0.85"/><polygon points="433.3,189.1 434.9,180.8 439.6,180.1 443.1,188.1 438.6,194.5" fill="none" stroke="#4cb848" stroke-width="1.0" stroke-linejoin="round" opacity="0.85"/><polygon points="344.2,169.6 340.2,175.3 335.5,174.8 330.8,168.1 333.0,162.8 341.3,160.6" fill="none" stroke="#3aa83c" stroke-width="1.2" stroke-linejoin="round" opacity="0.85"/><polygon points="301.5,112.5 303.3,118.8 298.3,120.5 292.0,119.0 292.9,112.8 296.4,110.4" fill="none" stroke="#34983a" stroke-width="1.1" stroke-linejoin="round" opacity="0.85"/><polygon points="435.9,199.2 427.6,199.5 427.1,194.1 432.1,189.0 437.1,191.4 439.0,195.5" fill="none" stroke="#6ed064" stroke-width="0.9" stroke-linejoin="round" opacity="0.85"/><polygon points="373.8,104.7 377.3,102.5 382.8,104.1 382.3,109.1 379.1,115.4 376.9,115.2 371.9,109.4" fill="none" stroke="#4cb848" stroke-width="1.1" stroke-linejoin="round" opacity="0.85"/><polygon points="297.5,130.6 295.4,128.1 298.3,123.7 304.7,124.3 305.4,128.8 301.6,132.5" fill="none" stroke="#3aa83c" stroke-width="0.8" stroke-linejoin="round" opacity="0.85"/><polygon points="315.0,188.2 321.2,183.3 324.6,187.0 322.6,192.8 315.3,192.6" fill="none" stroke="#6ed064" stroke-width="1.3" stroke-linejoin="round" opacity="0.85"/><polygon points="403.0,140.0 406.7,148.0 403.0,153.6 397.0,149.2 398.9,139.4" fill="none" stroke="#5cc454" stroke-width="1.2" stroke-linejoin="round" opacity="0.85"/><polygon points="358.7,195.7 361.0,191.5 367.9,189.3 371.6,196.1 369.3,200.4 361.7,203.3" fill="none" stroke="#34983a" stroke-width="0.9" stroke-linejoin="round" opacity="0.85"/><polygon points="328.9,179.2 326.7,175.9 327.6,170.2 331.2,169.9 336.4,169.8 338.6,173.6 335.7,177.8" fill="none" stroke="#34983a" stroke-width="1.2" stroke-linejoin="round" opacity="0.85"/><polygon points="368.9,209.8 367.2,217.5 359.5,215.6 357.9,205.6 363.6,203.0" fill="none" stroke="#34983a" stroke-width="1.3" stroke-linejoin="round" opacity="0.85"/><polygon points="458.9,87.6 453.9,90.0 451.2,85.3 452.4,78.7 459.3,79.0" fill="none" stroke="#6ed064" stroke-width="1.2" stroke-linejoin="round" opacity="0.85"/><polygon points="415.9,161.1 413.8,168.6 405.9,166.8 406.0,160.4 411.5,156.9" fill="none" stroke="#6ed064" stroke-width="1.2" stroke-linejoin="round" opacity="0.85"/><polygon points="381.7,57.5 376.2,57.9 372.0,51.6 375.6,48.2 382.5,48.2 385.5,51.6" fill="none" stroke="#34983a" stroke-width="1.3" stroke-linejoin="round" opacity="0.85"/><polygon points="433.3,170.2 432.3,173.3 426.4,172.5 422.8,169.5 426.5,165.1 433.2,165.7" fill="none" stroke="#4cb848" stroke-width="1.2" stroke-linejoin="round" opacity="0.85"/><polygon points="413.5,73.5 416.3,68.2 423.5,67.5 425.5,71.4 420.8,80.3 418.2,79.3" fill="none" stroke="#3aa83c" stroke-width="1.0" stroke-linejoin="round" opacity="0.85"/><polygon points="350.4,211.8 351.1,207.2 355.2,203.9 358.4,207.1 360.7,209.2 359.0,215.0 354.5,216.8" fill="none" stroke="#3aa83c" stroke-width="1.3" stroke-linejoin="round" opacity="0.85"/><polygon points="404.8,108.2 398.1,106.5 397.3,101.4 404.4,99.2 410.1,102.3" fill="none" stroke="#6ed064" stroke-width="1.0" stroke-linejoin="round" opacity="0.85"/><polygon points="419.8,90.3 424.3,83.7 427.1,83.8 431.0,87.3 429.8,94.2 427.0,98.0 421.6,95.1" fill="none" stroke="#6ed064" stroke-width="1.0" stroke-linejoin="round" opacity="0.85"/><polygon points="341.7,256.7 347.1,255.1 355.0,257.5 354.5,262.9 348.6,266.6 342.7,263.4" fill="none" stroke="#3aa83c" stroke-width="0.9" stroke-linejoin="round" opacity="0.85"/><polygon points="439.9,38.8 439.0,45.6 432.7,48.1 430.2,43.2 431.7,35.5 435.9,34.5" fill="none" stroke="#4cb848" stroke-width="0.9" stroke-linejoin="round" opacity="0.85"/><polygon points="428.6,145.5 430.6,152.0 423.8,156.9 420.4,151.6 421.6,144.4" fill="none" stroke="#34983a" stroke-width="1.1" stroke-linejoin="round" opacity="0.85"/><polygon points="300.2,252.4 303.4,246.2 306.8,245.7 311.3,253.0 309.0,260.6 302.5,259.8" fill="none" stroke="#34983a" stroke-width="1.1" stroke-linejoin="round" opacity="0.85"/><polygon points="464.9,157.2 459.5,156.4 457.5,148.6 460.7,145.7 465.9,145.7 468.2,153.5" fill="none" stroke="#6ed064" stroke-width="1.0" stroke-linejoin="round" opacity="0.85"/><polygon points="437.4,38.0 430.9,37.6 430.0,34.4 432.9,28.9 435.6,28.5 439.9,29.3 440.8,35.9" fill="none" stroke="#3aa83c" stroke-width="1.1" stroke-linejoin="round" opacity="0.85"/><polygon points="408.1,72.4 412.4,71.6 416.6,75.8 412.9,81.1 406.6,80.6" fill="none" stroke="#5cc454" stroke-width="1.1" stroke-linejoin="round" opacity="0.85"/><polygon points="461.5,146.7 454.2,145.1 455.8,138.8 460.7,136.7 466.2,141.8" fill="none" stroke="#5cc454" stroke-width="0.8" stroke-linejoin="round" opacity="0.85"/><polygon points="354.2,81.9 350.1,76.2 352.2,73.3 358.5,72.2 362.1,76.9 359.4,80.0" fill="none" stroke="#6ed064" stroke-width="1.0" stroke-linejoin="round" opacity="0.85"/><polygon points="430.2,163.8 434.2,156.3 438.5,155.2 443.2,161.3 441.9,166.8 436.5,169.4 432.8,169.5" fill="none" stroke="#5cc454" stroke-width="1.4" stroke-linejoin="round" opacity="0.85"/><polygon points="286.4,42.4 284.5,48.9 278.8,47.3 278.3,42.5 282.2,40.0" fill="none" stroke="#5cc454" stroke-width="1.1" stroke-linejoin="round" opacity="0.85"/><polygon points="466.1,63.0 467.9,71.5 461.4,75.8 457.5,73.4 456.9,62.9 462.5,61.3" fill="none" stroke="#6ed064" stroke-width="0.9" stroke-linejoin="round" opacity="0.85"/><polygon points="479.5,212.2 478.7,209.3 478.8,204.5 482.2,201.6 488.7,205.2 489.6,210.0 486.2,211.1" fill="none" stroke="#3aa83c" stroke-width="1.0" stroke-linejoin="round" opacity="0.85"/><polygon points="432.2,109.8 429.5,107.1 431.2,101.2 438.0,99.8 441.1,104.3 438.7,109.2" fill="none" stroke="#5cc454" stroke-width="1.2" stroke-linejoin="round" opacity="0.85"/><polygon points="409.9,262.9 403.1,263.6 399.9,259.7 401.4,254.6 408.4,252.5 411.7,258.7" fill="none" stroke="#34983a" stroke-width="1.0" stroke-linejoin="round" opacity="0.85"/><polygon points="403.9,247.0 401.6,241.2 407.4,237.1 413.8,241.8 411.3,246.3" fill="none" stroke="#5cc454" stroke-width="1.0" stroke-linejoin="round" opacity="0.85"/><polygon points="462.8,34.6 462.6,40.7 456.2,44.0 451.3,40.7 452.5,35.3 458.3,32.7" fill="none" stroke="#6ed064" stroke-width="1.0" stroke-linejoin="round" opacity="0.85"/><polygon points="369.2,78.8 364.5,81.2 358.7,76.7 362.0,70.0 367.3,70.0" fill="none" stroke="#6ed064" stroke-width="1.1" stroke-linejoin="round" opacity="0.85"/><polygon points="476.9,33.1 479.4,29.3 485.1,28.6 488.2,32.5 485.2,37.8 482.0,38.7" fill="none" stroke="#3aa83c" stroke-width="1.2" stroke-linejoin="round" opacity="0.85"/><polygon points="358.9,181.9 362.8,184.2 361.3,190.0 359.1,191.1 350.1,188.4 349.1,185.0 353.1,182.1" fill="none" stroke="#4cb848" stroke-width="0.8" stroke-linejoin="round" opacity="0.85"/><polygon points="376.6,218.7 378.8,224.9 375.8,231.1 368.9,230.8 367.1,223.9 371.7,216.9" fill="none" stroke="#5cc454" stroke-width="0.8" stroke-linejoin="round" opacity="0.85"/><polygon points="443.7,117.4 441.2,111.9 443.4,105.9 448.6,104.4 450.9,106.9 451.4,114.3 448.2,117.3" fill="none" stroke="#34983a" stroke-width="1.3" stroke-linejoin="round" opacity="0.85"/><polygon points="352.7,224.6 350.7,220.0 352.2,214.2 358.9,213.4 363.5,221.9 360.0,225.3" fill="none" stroke="#3aa83c" stroke-width="1.1" stroke-linejoin="round" opacity="0.85"/><polygon points="337.2,204.7 334.0,200.5 337.8,194.6 341.2,195.3 344.8,200.4 342.1,204.9" fill="none" stroke="#4cb848" stroke-width="0.9" stroke-linejoin="round" opacity="0.85"/><polygon points="480.7,129.2 483.2,136.1 479.2,140.0 472.1,139.7 470.3,133.0 475.8,129.2" fill="none" stroke="#5cc454" stroke-width="1.4" stroke-linejoin="round" opacity="0.85"/><polygon points="401.8,88.3 400.6,84.1 407.2,81.0 410.9,84.6 409.6,88.6 406.3,92.2" fill="none" stroke="#5cc454" stroke-width="1.3" stroke-linejoin="round" opacity="0.85"/><polygon points="274.1,72.2 272.9,67.6 278.6,64.9 283.2,66.0 286.1,70.7 283.9,74.3 277.6,74.1" fill="none" stroke="#34983a" stroke-width="1.3" stroke-linejoin="round" opacity="0.85"/><polygon points="369.8,43.0 370.3,53.1 366.1,54.3 361.2,49.0 365.5,40.0" fill="none" stroke="#4cb848" stroke-width="1.2" stroke-linejoin="round" opacity="0.85"/><polygon points="386.2,128.2 393.4,127.4 396.2,133.6 393.3,137.9 386.8,136.3" fill="none" stroke="#6ed064" stroke-width="1.4" stroke-linejoin="round" opacity="0.85"/><polygon points="422.6,142.0 421.7,132.9 428.0,128.2 432.4,132.2 430.2,141.3" fill="none" stroke="#6ed064" stroke-width="1.3" stroke-linejoin="round" opacity="0.85"/><polygon points="469.8,141.1 465.2,139.8 462.9,134.2 465.2,130.9 470.0,131.3 472.5,133.8 471.7,138.2" fill="none" stroke="#4cb848" stroke-width="0.9" stroke-linejoin="round" opacity="0.85"/><polygon points="297.4,67.5 304.1,60.7 311.8,65.8 311.3,74.2 307.4,76.8 298.5,73.3" fill="none" stroke="#3aa83c" stroke-width="1.2" stroke-linejoin="round" opacity="0.85"/><polygon points="374.9,144.5 367.3,147.5 364.1,142.8 365.0,136.9 369.2,134.0 373.6,136.3 376.5,140.5" fill="none" stroke="#3aa83c" stroke-width="0.9" stroke-linejoin="round" opacity="0.85"/><polygon points="387.0,220.4 384.2,214.6 385.8,210.9 391.5,209.5 395.1,214.7 393.7,218.7 391.5,220.3" fill="none" stroke="#6ed064" stroke-width="0.9" stroke-linejoin="round" opacity="0.85"/><polygon points="368.1,126.3 366.4,121.8 370.3,119.7 375.1,118.9 377.8,122.8 375.3,128.4 370.4,128.1" fill="none" stroke="#6ed064" stroke-width="0.8" stroke-linejoin="round" opacity="0.85"/><polygon points="351.2,127.8 341.3,123.5 342.4,118.8 349.5,116.7 354.8,121.2" fill="none" stroke="#3aa83c" stroke-width="1.1" stroke-linejoin="round" opacity="0.85"/><polygon points="395.1,145.5 390.0,146.5 384.8,141.5 386.2,135.6 392.2,135.0 395.8,137.8" fill="none" stroke="#5cc454" stroke-width="1.1" stroke-linejoin="round" opacity="0.85"/><polygon points="367.9,123.8 361.4,117.1 365.3,109.9 371.1,109.6 372.0,119.9" fill="none" stroke="#34983a" stroke-width="0.9" stroke-linejoin="round" opacity="0.85"/><polygon points="444.8,60.4 443.2,55.2 451.7,52.5 454.3,55.9 453.9,61.7" fill="none" stroke="#6ed064" stroke-width="1.1" stroke-linejoin="round" opacity="0.85"/><polygon points="419.2,173.9 423.8,172.4 429.4,174.8 427.9,181.6 419.2,182.4 415.8,178.9" fill="none" stroke="#3aa83c" stroke-width="1.1" stroke-linejoin="round" opacity="0.85"/><polygon points="472.0,34.6 473.6,39.2 470.6,41.9 462.5,41.7 459.7,38.9 462.1,34.7 468.2,32.7" fill="none" stroke="#3aa83c" stroke-width="1.0" stroke-linejoin="round" opacity="0.85"/><polygon points="384.6,258.9 381.4,258.1 380.8,250.5 384.8,249.6 390.0,250.8 391.3,256.4" fill="none" stroke="#4cb848" stroke-width="0.9" stroke-linejoin="round" opacity="0.85"/><polygon points="305.1,56.0 308.2,61.4 308.5,64.0 300.9,66.4 296.7,65.0 293.9,58.7 296.9,56.8" fill="none" stroke="#3aa83c" stroke-width="1.1" stroke-linejoin="round" opacity="0.85"/><polygon points="413.6,129.5 411.1,133.4 406.1,135.6 401.7,130.2 402.6,125.1 406.3,121.8 411.0,123.4" fill="none" stroke="#34983a" stroke-width="1.3" stroke-linejoin="round" opacity="0.85"/><polygon points="352.8,59.7 345.1,57.4 344.0,50.7 347.3,45.4 352.6,47.9 354.0,55.7" fill="none" stroke="#34983a" stroke-width="1.4" stroke-linejoin="round" opacity="0.85"/><polygon points="332.3,135.0 338.4,135.0 338.8,137.0 337.6,143.4 335.3,145.0 330.5,142.4 331.3,136.6" fill="none" stroke="#6ed064" stroke-width="1.4" stroke-linejoin="round" opacity="0.85"/><polygon points="475.5,49.9 475.2,56.4 470.9,60.4 466.3,58.2 466.2,52.5 470.5,48.0" fill="none" stroke="#4cb848" stroke-width="1.2" stroke-linejoin="round" opacity="0.85"/><polygon points="328.8,45.7 328.8,50.0 326.5,56.2 322.6,57.2 317.4,55.0 317.1,46.9 321.0,43.0" fill="none" stroke="#3aa83c" stroke-width="1.1" stroke-linejoin="round" opacity="0.85"/><polygon points="455.1,46.5 452.4,47.4 445.7,47.2 444.1,41.9 447.0,36.6 452.7,35.2 456.6,40.7" fill="none" stroke="#4cb848" stroke-width="1.3" stroke-linejoin="round" opacity="0.85"/><polygon points="293.8,207.5 301.1,205.5 306.7,210.9 303.5,214.4 296.3,213.2" fill="none" stroke="#5cc454" stroke-width="1.0" stroke-linejoin="round" opacity="0.85"/><polygon points="283.7,168.9 284.3,160.4 291.7,159.3 294.7,166.9 290.3,170.8" fill="none" stroke="#5cc454" stroke-width="0.8" stroke-linejoin="round" opacity="0.85"/><polygon points="440.6,147.0 435.8,140.8 438.6,135.6 444.4,138.2 445.4,143.0" fill="none" stroke="#34983a" stroke-width="1.0" stroke-linejoin="round" opacity="0.85"/><polygon points="338.6,236.3 335.3,235.3 331.0,231.3 332.5,228.2 336.7,226.4 341.3,230.7" fill="none" stroke="#6ed064" stroke-width="1.2" stroke-linejoin="round" opacity="0.85"/><polygon points="317.2,208.7 324.4,206.6 330.1,210.2 330.4,216.6 323.5,218.7 317.1,216.3" fill="none" stroke="#3aa83c" stroke-width="1.3" stroke-linejoin="round" opacity="0.85"/><polygon points="423.4,52.2 418.2,46.8 420.1,40.6 423.6,38.7 429.2,41.2 429.0,48.8" fill="none" stroke="#6ed064" stroke-width="0.9" stroke-linejoin="round" opacity="0.85"/><polygon points="474.1,68.6 472.7,76.2 469.7,78.9 464.7,73.1 464.7,67.7 470.3,65.5" fill="none" stroke="#5cc454" stroke-width="0.8" stroke-linejoin="round" opacity="0.85"/><polygon points="290.2,212.8 283.5,210.0 282.7,204.8 285.7,200.0 289.4,199.3 294.1,203.7 293.9,210.3" fill="none" stroke="#34983a" stroke-width="1.1" stroke-linejoin="round" opacity="0.85"/><polygon points="324.7,120.2 328.6,112.8 334.9,116.2 336.0,123.9 328.4,126.7" fill="none" stroke="#34983a" stroke-width="1.2" stroke-linejoin="round" opacity="0.85"/><polygon points="398.8,60.9 403.5,59.3 407.9,60.5 410.7,64.7 407.7,68.2 403.9,68.3 399.2,64.6" fill="none" stroke="#5cc454" stroke-width="1.0" stroke-linejoin="round" opacity="0.85"/><polygon points="305.7,27.1 311.7,25.5 315.1,29.3 315.8,33.3 310.7,37.7 306.9,35.8 303.7,31.8" fill="none" stroke="#6ed064" stroke-width="1.3" stroke-linejoin="round" opacity="0.85"/><polygon points="390.1,91.3 385.0,85.3 388.9,76.3 394.7,79.8 394.3,89.1" fill="none" stroke="#4cb848" stroke-width="1.1" stroke-linejoin="round" opacity="0.85"/><polygon points="449.3,65.6 451.0,68.7 447.6,74.8 441.4,72.9 438.2,70.9 441.0,63.0 446.0,62.2" fill="none" stroke="#5cc454" stroke-width="1.0" stroke-linejoin="round" opacity="0.85"/><polygon points="420.0,35.2 430.3,31.2 435.8,37.4 432.4,41.0 422.8,40.8" fill="none" stroke="#34983a" stroke-width="1.4" stroke-linejoin="round" opacity="0.85"/><polygon points="421.0,143.8 422.6,146.5 421.8,149.6 417.1,153.0 414.3,152.1 412.6,147.0 415.8,143.3" fill="none" stroke="#34983a" stroke-width="1.0" stroke-linejoin="round" opacity="0.85"/><polygon points="430.7,223.4 428.0,220.7 428.6,216.9 431.8,212.9 437.1,214.4 440.1,220.0 435.9,223.4" fill="none" stroke="#4cb848" stroke-width="1.1" stroke-linejoin="round" opacity="0.85"/><polygon points="421.9,117.6 423.7,111.2 429.1,110.6 431.7,112.7 430.7,119.6 424.0,120.2" fill="none" stroke="#6ed064" stroke-width="1.2" stroke-linejoin="round" opacity="0.85"/><polygon points="348.3,64.3 353.5,61.8 355.3,61.5 357.8,68.5 355.6,74.2 351.8,74.1 347.9,69.9" fill="none" stroke="#34983a" stroke-width="0.9" stroke-linejoin="round" opacity="0.85"/><polygon points="464.1,57.0 464.6,63.3 457.8,66.9 454.9,66.1 451.9,60.9 454.2,56.6 462.2,55.7" fill="none" stroke="#3aa83c" stroke-width="1.2" stroke-linejoin="round" opacity="0.85"/><polygon points="413.8,184.1 407.9,180.3 409.2,173.2 413.8,171.2 419.8,175.8 419.4,179.4" fill="none" stroke="#4cb848" stroke-width="1.0" stroke-linejoin="round" opacity="0.85"/><polygon points="368.5,240.1 367.3,235.5 373.0,232.7 377.3,236.6 372.4,242.1" fill="none" stroke="#3aa83c" stroke-width="0.9" stroke-linejoin="round" opacity="0.85"/><polygon points="380.9,52.4 382.5,46.4 392.8,45.1 395.2,52.5 388.9,58.9" fill="none" stroke="#34983a" stroke-width="0.9" stroke-linejoin="round" opacity="0.85"/><polygon points="355.7,253.7 347.0,250.7 348.8,244.8 356.2,244.0 360.5,247.5" fill="none" stroke="#34983a" stroke-width="1.1" stroke-linejoin="round" opacity="0.85"/><polygon points="421.3,132.8 415.6,127.0 418.3,120.7 423.0,117.5 426.9,126.5" fill="none" stroke="#5cc454" stroke-width="1.3" stroke-linejoin="round" opacity="0.85"/><polygon points="344.3,126.2 346.4,130.9 345.7,133.6 342.2,135.7 336.6,131.0 339.9,126.6" fill="none" stroke="#5cc454" stroke-width="1.4" stroke-linejoin="round" opacity="0.85"/><polygon points="405.9,148.9 411.7,149.0 414.3,155.5 410.9,158.0 405.6,159.7 401.6,154.7" fill="none" stroke="#4cb848" stroke-width="1.3" stroke-linejoin="round" opacity="0.85"/><polygon points="333.2,142.8 331.2,150.9 326.0,152.4 321.7,149.8 321.2,144.9 323.1,141.7 327.8,140.1" fill="none" stroke="#34983a" stroke-width="1.1" stroke-linejoin="round" opacity="0.85"/><polygon points="346.4,209.6 350.2,213.4 348.8,216.7 341.1,218.3 337.5,215.5 340.5,209.6" fill="none" stroke="#5cc454" stroke-width="1.3" stroke-linejoin="round" opacity="0.85"/><polygon points="391.4,60.3 395.6,66.3 391.8,70.1 388.7,70.8 385.3,67.4 388.0,61.0" fill="none" stroke="#34983a" stroke-width="1.3" stroke-linejoin="round" opacity="0.85"/><polygon points="324.1,56.8 330.6,55.2 336.3,59.6 333.2,65.7 325.6,67.4" fill="none" stroke="#5cc454" stroke-width="1.3" stroke-linejoin="round" opacity="0.85"/><polygon points="393.8,220.4 398.1,225.1 397.2,229.1 389.9,229.9 387.8,226.6 387.9,222.6" fill="none" stroke="#34983a" stroke-width="0.8" stroke-linejoin="round" opacity="0.85"/><polygon points="423.8,62.6 424.1,69.2 417.1,69.0 413.6,64.3 418.5,57.9" fill="none" stroke="#4cb848" stroke-width="1.0" stroke-linejoin="round" opacity="0.85"/><polygon points="403.3,221.6 408.1,222.2 410.1,230.6 403.9,233.1 400.1,229.7" fill="none" stroke="#6ed064" stroke-width="0.8" stroke-linejoin="round" opacity="0.85"/><polygon points="360.2,54.6 362.8,61.5 358.3,64.7 350.9,60.3 353.9,55.0" fill="none" stroke="#5cc454" stroke-width="1.3" stroke-linejoin="round" opacity="0.85"/><polygon points="370.1,104.0 363.7,101.6 360.9,95.8 364.4,90.7 370.9,90.8 373.1,93.6 373.7,102.2" fill="none" stroke="#5cc454" stroke-width="1.0" stroke-linejoin="round" opacity="0.85"/><polygon points="408.6,135.9 403.0,142.3 396.4,140.4 397.0,132.1 402.1,131.1" fill="none" stroke="#5cc454" stroke-width="1.0" stroke-linejoin="round" opacity="0.85"/><polygon points="459.2,139.1 453.1,132.2 455.5,128.1 464.1,126.1 467.8,132.4 465.4,138.1" fill="none" stroke="#4cb848" stroke-width="0.9" stroke-linejoin="round" opacity="0.85"/><polygon points="362.1,186.8 370.6,183.9 375.7,185.5 372.4,193.6 367.5,194.1" fill="none" stroke="#4cb848" stroke-width="1.0" stroke-linejoin="round" opacity="0.85"/><polygon points="413.4,258.5 411.5,253.2 417.1,246.9 423.7,250.0 425.7,258.8 419.1,262.3" fill="none" stroke="#3aa83c" stroke-width="1.2" stroke-linejoin="round" opacity="0.85"/><polygon points="329.5,47.2 334.7,40.8 338.6,44.0 338.4,53.6 333.8,53.9" fill="none" stroke="#4cb848" stroke-width="1.4" stroke-linejoin="round" opacity="0.85"/><polygon points="404.9,43.6 410.2,45.8 412.0,50.9 408.6,53.9 404.1,53.4 401.7,46.8" fill="none" stroke="#5cc454" stroke-width="1.3" stroke-linejoin="round" opacity="0.85"/><polygon points="381.8,79.8 378.6,73.5 382.4,70.9 388.0,73.1 389.1,79.3" fill="none" stroke="#3aa83c" stroke-width="1.3" stroke-linejoin="round" opacity="0.85"/><polygon points="351.2,101.1 346.0,95.9 346.7,89.2 351.3,85.6 353.3,89.8 353.9,96.3" fill="none" stroke="#6ed064" stroke-width="1.3" stroke-linejoin="round" opacity="0.85"/><polygon points="434.1,67.9 427.2,65.3 426.2,62.0 431.1,58.2 436.8,60.3 436.4,65.6" fill="none" stroke="#3aa83c" stroke-width="0.8" stroke-linejoin="round" opacity="0.85"/><polygon points="335.5,219.8 331.9,225.4 327.2,226.1 325.0,219.6 325.8,214.1 331.1,212.8" fill="none" stroke="#34983a" stroke-width="1.0" stroke-linejoin="round" opacity="0.85"/><polygon points="336.8,154.7 333.9,147.5 335.2,142.4 339.1,141.7 343.4,145.0 344.3,149.4 341.4,153.8" fill="none" stroke="#34983a" stroke-width="1.1" stroke-linejoin="round" opacity="0.85"/><polygon points="351.8,43.1 358.9,38.4 362.3,39.6 362.7,46.4 358.1,51.5 352.9,47.9" fill="none" stroke="#5cc454" stroke-width="0.9" stroke-linejoin="round" opacity="0.85"/><polygon points="336.2,54.9 339.8,49.6 349.6,54.9 346.2,63.3 337.3,64.3" fill="none" stroke="#6ed064" stroke-width="1.0" stroke-linejoin="round" opacity="0.85"/><polygon points="413.1,269.0 410.8,265.8 410.3,258.5 413.7,256.9 418.0,259.1 419.1,262.5 416.7,268.4" fill="none" stroke="#34983a" stroke-width="1.1" stroke-linejoin="round" opacity="0.85"/><polygon points="458.0,117.1 462.6,113.6 465.4,114.8 468.3,120.0 466.2,122.4 461.1,123.5 456.9,121.9" fill="none" stroke="#5cc454" stroke-width="1.3" stroke-linejoin="round" opacity="0.85"/><polygon points="390.2,34.0 395.5,37.6 394.9,42.7 390.4,44.3 386.2,43.6 384.8,36.6" fill="none" stroke="#6ed064" stroke-width="1.3" stroke-linejoin="round" opacity="0.85"/><polygon points="396.3,30.4 402.3,24.0 407.2,27.6 407.1,38.1 399.2,37.2" fill="none" stroke="#4cb848" stroke-width="1.2" stroke-linejoin="round" opacity="0.85"/><polygon points="415.1,155.6 421.2,152.3 425.1,158.3 423.6,165.3 420.8,167.9 415.6,162.7" fill="none" stroke="#34983a" stroke-width="1.2" stroke-linejoin="round" opacity="0.85"/><polygon points="376.1,103.5 370.9,99.2 373.3,91.4 379.2,91.2 381.6,101.7" fill="none" stroke="#5cc454" stroke-width="1.2" stroke-linejoin="round" opacity="0.85"/><polygon points="307.3,134.9 306.5,130.5 310.5,126.2 316.5,127.9 319.6,133.0 317.0,135.4" fill="none" stroke="#3aa83c" stroke-width="1.1" stroke-linejoin="round" opacity="0.85"/><polygon points="298.1,45.4 299.7,50.0 297.4,52.2 293.3,54.8 289.2,49.1 290.2,44.1 294.8,41.3" fill="none" stroke="#6ed064" stroke-width="1.4" stroke-linejoin="round" opacity="0.85"/><polygon points="398.8,219.0 396.2,215.9 399.4,211.9 402.6,211.6 406.8,212.8 407.9,217.4 404.2,219.9" fill="none" stroke="#3aa83c" stroke-width="1.2" stroke-linejoin="round" opacity="0.85"/><polygon points="437.2,76.9 432.8,76.2 431.5,66.4 437.1,63.3 440.2,71.4" fill="none" stroke="#4cb848" stroke-width="1.0" stroke-linejoin="round" opacity="0.85"/><polygon points="381.4,122.7 387.0,120.4 390.8,120.7 392.5,126.6 389.4,128.6 381.7,128.3" fill="none" stroke="#34983a" stroke-width="1.3" stroke-linejoin="round" opacity="0.85"/><polygon points="436.8,128.8 443.2,123.4 449.6,128.0 449.7,133.8 445.5,137.0 439.3,136.9 436.8,132.9" fill="none" stroke="#5cc454" stroke-width="1.2" stroke-linejoin="round" opacity="0.85"/><polygon points="279.9,91.1 284.5,95.6 281.9,104.1 275.9,102.8 275.1,96.1" fill="none" stroke="#3aa83c" stroke-width="1.0" stroke-linejoin="round" opacity="0.85"/><polygon points="450.7,124.0 453.3,121.0 455.7,119.7 459.5,124.1 456.9,132.4 454.6,133.6 450.5,129.4" fill="none" stroke="#3aa83c" stroke-width="1.3" stroke-linejoin="round" opacity="0.85"/><polygon points="476.5,169.9 477.4,174.5 476.3,179.4 472.5,182.2 469.2,178.8 468.0,174.0 471.9,167.2" fill="none" stroke="#3aa83c" stroke-width="1.1" stroke-linejoin="round" opacity="0.85"/><polygon points="433.1,84.9 437.0,83.6 440.2,84.3 442.8,90.2 440.0,94.1 435.5,95.5 432.3,88.9" fill="none" stroke="#34983a" stroke-width="0.9" stroke-linejoin="round" opacity="0.85"/><polygon points="409.5,139.5 412.8,141.2 414.2,146.0 410.4,149.3 407.3,148.2 404.5,144.2" fill="none" stroke="#5cc454" stroke-width="1.0" stroke-linejoin="round" opacity="0.85"/><polygon points="341.5,248.5 346.3,245.2 350.0,247.6 350.8,251.8 346.8,256.5 340.8,254.5" fill="none" stroke="#4cb848" stroke-width="1.4" stroke-linejoin="round" opacity="0.85"/><polygon points="431.9,86.2 427.9,85.6 425.5,77.8 429.8,73.2 435.7,72.8 439.6,78.5 438.9,85.0" fill="none" stroke="#3aa83c" stroke-width="1.0" stroke-linejoin="round" opacity="0.85"/><polygon points="384.2,119.3 381.2,125.3 377.3,124.5 372.5,117.7 374.6,114.6 379.0,111.2 383.9,115.2" fill="none" stroke="#6ed064" stroke-width="1.1" stroke-linejoin="round" opacity="0.85"/><polygon points="372.9,39.0 366.5,37.6 367.1,26.9 372.0,24.3 377.5,30.2" fill="none" stroke="#34983a" stroke-width="0.9" stroke-linejoin="round" opacity="0.85"/><polygon points="372.5,165.1 372.8,159.6 379.6,156.0 382.6,158.7 384.1,165.9 380.3,169.8 377.1,171.4" fill="none" stroke="#4cb848" stroke-width="0.9" stroke-linejoin="round" opacity="0.85"/><polygon points="294.4,58.7 288.2,61.2 282.5,60.0 281.0,54.0 288.2,50.1 292.7,52.3" fill="none" stroke="#4cb848" stroke-width="1.3" stroke-linejoin="round" opacity="0.85"/><polygon points="501.8,209.1 495.4,207.4 495.2,201.5 500.1,198.7 505.9,202.1" fill="none" stroke="#4cb848" stroke-width="0.8" stroke-linejoin="round" opacity="0.85"/><polygon points="387.7,52.7 395.2,52.4 399.0,58.1 396.4,64.5 390.9,64.4 386.4,59.3" fill="none" stroke="#5cc454" stroke-width="1.4" stroke-linejoin="round" opacity="0.85"/><polygon points="340.3,239.5 336.6,233.5 342.4,230.2 349.7,234.3 344.8,240.6" fill="none" stroke="#5cc454" stroke-width="1.1" stroke-linejoin="round" opacity="0.85"/><polygon points="387.0,109.2 391.5,110.8 394.0,113.6 393.4,117.9 385.4,118.9 380.3,116.1 382.3,111.8" fill="none" stroke="#34983a" stroke-width="1.2" stroke-linejoin="round" opacity="0.85"/><polygon points="301.1,182.4 297.1,179.1 294.9,175.1 298.9,169.6 303.6,171.8 305.1,175.8 306.1,178.0" fill="none" stroke="#34983a" stroke-width="1.3" stroke-linejoin="round" opacity="0.85"/><polygon points="354.5,91.9 350.8,86.6 352.1,81.0 356.8,77.9 360.3,85.0 359.9,88.5" fill="none" stroke="#34983a" stroke-width="0.9" stroke-linejoin="round" opacity="0.85"/><polygon points="335.6,161.7 333.8,153.4 337.4,150.0 342.9,152.0 344.2,153.6 344.0,159.9 339.6,163.6" fill="none" stroke="#3aa83c" stroke-width="1.1" stroke-linejoin="round" opacity="0.85"/><polygon points="345.3,103.4 343.2,109.4 340.8,108.6 336.9,105.9 337.2,98.9 341.2,94.7 345.0,98.6" fill="none" stroke="#4cb848" stroke-width="0.9" stroke-linejoin="round" opacity="0.85"/><polygon points="450.7,88.2 450.6,96.4 439.9,95.4 440.8,87.2 445.0,83.6" fill="none" stroke="#34983a" stroke-width="1.0" stroke-linejoin="round" opacity="0.85"/><polygon points="457.6,105.3 451.7,107.9 448.2,101.2 454.6,95.4 459.6,98.3" fill="none" stroke="#6ed064" stroke-width="1.2" stroke-linejoin="round" opacity="0.85"/><polygon points="365.1,219.7 364.1,215.8 367.3,210.9 373.4,212.2 374.9,214.8 372.8,220.9 367.1,221.8" fill="none" stroke="#3aa83c" stroke-width="1.0" stroke-linejoin="round" opacity="0.85"/><polygon points="448.9,177.2 443.3,174.2 445.6,167.0 452.4,166.9 454.0,174.9" fill="none" stroke="#6ed064" stroke-width="1.2" stroke-linejoin="round" opacity="0.85"/><polygon points="312.4,49.3 315.9,54.7 312.9,61.4 306.1,64.2 301.6,58.2 301.0,55.1 304.8,49.8" fill="none" stroke="#34983a" stroke-width="1.3" stroke-linejoin="round" opacity="0.85"/><polygon points="420.2,91.4 424.9,96.0 425.7,101.1 420.8,105.3 416.0,103.8 414.7,98.0 415.3,92.6" fill="none" stroke="#4cb848" stroke-width="1.3" stroke-linejoin="round" opacity="0.85"/><polygon points="329.5,35.1 325.0,38.8 321.5,35.5 318.7,33.6 320.3,28.7 328.0,27.3 330.6,31.4" fill="none" stroke="#4cb848" stroke-width="1.2" stroke-linejoin="round" opacity="0.85"/><polygon points="371.0,82.6 368.3,75.3 371.2,70.8 376.9,70.9 380.1,75.6 380.1,78.6 373.6,82.8" fill="none" stroke="#5cc454" stroke-width="1.2" stroke-linejoin="round" opacity="0.85"/><polygon points="333.2,264.6 328.8,266.5 324.3,264.0 325.5,256.5 330.8,257.0" fill="none" stroke="#4cb848" stroke-width="1.0" stroke-linejoin="round" opacity="0.85"/><polygon points="424.9,141.5 430.7,138.5 435.5,141.8 435.5,146.0 432.4,151.3 428.2,150.1 425.2,145.2" fill="none" stroke="#34983a" stroke-width="1.0" stroke-linejoin="round" opacity="0.85"/><polygon points="344.2,167.0 350.5,168.4 353.3,172.0 350.5,176.6 345.2,177.0 342.0,171.9" fill="none" stroke="#6ed064" stroke-width="1.3" stroke-linejoin="round" opacity="0.85"/><polygon points="444.4,64.8 432.6,63.9 432.3,55.6 441.2,51.7 446.1,56.9" fill="none" stroke="#5cc454" stroke-width="1.3" stroke-linejoin="round" opacity="0.85"/><polygon points="446.3,92.6 448.7,100.5 445.2,105.9 438.4,101.4 439.0,94.8" fill="none" stroke="#3aa83c" stroke-width="1.1" stroke-linejoin="round" opacity="0.85"/><polygon points="442.2,199.8 442.4,191.8 450.3,191.6 451.1,198.6 448.4,204.0" fill="none" stroke="#3aa83c" stroke-width="0.9" stroke-linejoin="round" opacity="0.85"/><polygon points="327.1,171.0 331.2,167.3 335.2,167.5 340.2,171.0 334.6,175.8 330.4,176.2" fill="none" stroke="#5cc454" stroke-width="0.9" stroke-linejoin="round" opacity="0.85"/><polygon points="366.1,102.3 365.3,106.7 362.2,108.2 357.8,105.2 356.8,97.3 359.1,95.6 363.8,96.2" fill="none" stroke="#3aa83c" stroke-width="1.0" stroke-linejoin="round" opacity="0.85"/><polygon points="407.4,175.0 405.7,177.7 399.8,177.4 398.7,169.0 400.4,166.3 404.9,166.7" fill="none" stroke="#6ed064" stroke-width="1.0" stroke-linejoin="round" opacity="0.85"/><polygon points="394.6,238.5 391.6,231.7 393.2,226.7 403.0,228.8 401.8,234.7" fill="none" stroke="#3aa83c" stroke-width="1.3" stroke-linejoin="round" opacity="0.85"/><polygon points="454.3,84.0 449.5,79.3 448.3,72.4 452.7,67.4 457.3,69.8 460.1,74.5 457.1,81.1" fill="none" stroke="#5cc454" stroke-width="1.1" stroke-linejoin="round" opacity="0.85"/><polygon points="361.9,129.1 366.7,129.1 371.8,134.9 364.2,139.0 359.6,137.0" fill="none" stroke="#34983a" stroke-width="1.1" stroke-linejoin="round" opacity="0.85"/><polygon points="339.5,190.1 344.4,186.5 349.3,190.9 350.6,195.5 344.1,198.3 338.7,195.3" fill="none" stroke="#6ed064" stroke-width="1.2" stroke-linejoin="round" opacity="0.85"/><polygon points="314.6,103.7 306.6,99.4 306.8,94.8 315.4,91.6 318.4,98.1" fill="none" stroke="#5cc454" stroke-width="1.0" stroke-linejoin="round" opacity="0.85"/><polygon points="346.1,156.3 343.0,147.2 349.3,142.1 354.0,142.4 355.3,149.7 351.8,156.6" fill="none" stroke="#5cc454" stroke-width="0.9" stroke-linejoin="round" opacity="0.85"/><polygon points="340.2,260.3 340.5,265.5 334.6,267.1 332.1,264.8 331.8,257.3 335.8,251.5 338.6,255.0" fill="none" stroke="#34983a" stroke-width="1.3" stroke-linejoin="round" opacity="0.85"/><polygon points="407.5,40.5 410.7,33.7 415.2,34.0 418.5,38.2 416.0,47.3 411.6,47.8" fill="none" stroke="#5cc454" stroke-width="1.2" stroke-linejoin="round" opacity="0.85"/><polygon points="315.0,143.8 311.4,144.9 306.0,143.1 305.0,139.7 307.8,135.5 312.7,135.6 316.0,136.8" fill="none" stroke="#4cb848" stroke-width="0.9" stroke-linejoin="round" opacity="0.85"/><polygon points="284.9,198.9 282.8,204.9 274.1,206.5 273.0,200.1 276.1,196.1" fill="none" stroke="#3aa83c" stroke-width="1.3" stroke-linejoin="round" opacity="0.85"/><polygon points="459.5,91.5 463.6,91.1 467.8,96.4 466.5,103.4 460.0,102.8 456.9,98.0" fill="none" stroke="#34983a" stroke-width="1.0" stroke-linejoin="round" opacity="0.85"/><polygon points="351.6,121.2 349.2,114.8 355.5,109.2 359.6,117.5 357.3,123.3" fill="none" stroke="#5cc454" stroke-width="0.9" stroke-linejoin="round" opacity="0.85"/><polygon points="437.3,42.5 441.9,45.8 441.5,52.7 438.1,55.9 432.7,55.2 429.0,48.6 431.4,44.3" fill="none" stroke="#5cc454" stroke-width="1.0" stroke-linejoin="round" opacity="0.85"/><polygon points="397.9,99.9 406.1,100.9 407.9,107.9 400.6,109.5 395.5,103.7" fill="none" stroke="#3aa83c" stroke-width="0.8" stroke-linejoin="round" opacity="0.85"/><polygon points="360.3,180.9 362.9,175.2 370.5,173.8 373.2,178.5 366.6,183.9" fill="none" stroke="#3aa83c" stroke-width="1.3" stroke-linejoin="round" opacity="0.85"/><polygon points="319.9,43.7 320.0,47.3 315.8,50.5 310.5,48.8 308.9,45.1 311.7,41.9 315.9,41.5" fill="none" stroke="#6ed064" stroke-width="1.4" stroke-linejoin="round" opacity="0.85"/><polygon points="333.6,133.7 327.2,134.0 323.2,126.9 330.2,120.5 337.2,124.1 337.4,128.1" fill="none" stroke="#4cb848" stroke-width="0.9" stroke-linejoin="round" opacity="0.85"/><polygon points="396.9,202.6 402.5,205.6 401.2,212.1 389.2,212.7 389.1,206.1" fill="none" stroke="#5cc454" stroke-width="1.1" stroke-linejoin="round" opacity="0.85"/><polygon points="448.3,153.6 456.5,150.9 461.1,156.9 454.1,163.7 449.1,161.7" fill="none" stroke="#5cc454" stroke-width="0.9" stroke-linejoin="round" opacity="0.85"/><polygon points="326.2,100.9 327.6,96.3 331.2,95.4 336.8,97.8 336.3,101.9 332.8,104.7 328.9,104.8" fill="none" stroke="#5cc454" stroke-width="1.3" stroke-linejoin="round" opacity="0.85"/><polygon points="414.8,72.3 410.9,76.6 402.1,76.9 400.1,70.4 406.5,66.3" fill="none" stroke="#3aa83c" stroke-width="0.9" stroke-linejoin="round" opacity="0.85"/><polygon points="428.1,171.5 431.1,163.7 437.6,166.1 435.6,174.2 431.3,176.3" fill="none" stroke="#3aa83c" stroke-width="1.0" stroke-linejoin="round" opacity="0.85"/><polygon points="289.5,69.3 283.5,68.1 279.9,62.5 281.2,59.4 287.0,58.1 292.0,61.5" fill="none" stroke="#34983a" stroke-width="1.1" stroke-linejoin="round" opacity="0.85"/><polygon points="416.0,212.6 410.6,210.2 410.2,201.7 411.3,198.5 415.8,197.2 419.1,200.9 418.4,209.8" fill="none" stroke="#5cc454" stroke-width="1.0" stroke-linejoin="round" opacity="0.85"/><polygon points="386.2,149.1 381.3,150.5 376.4,146.8 380.6,142.3 386.4,145.5" fill="none" stroke="#5cc454" stroke-width="1.0" stroke-linejoin="round" opacity="0.85"/><polygon points="431.4,204.1 426.8,208.0 421.9,208.6 417.9,200.0 422.3,194.0 428.3,195.0" fill="none" stroke="#3aa83c" stroke-width="1.0" stroke-linejoin="round" opacity="0.85"/><polygon points="429.3,85.3 433.6,87.3 433.0,92.5 427.0,94.6 422.3,91.7 422.8,85.3" fill="none" stroke="#5cc454" stroke-width="1.3" stroke-linejoin="round" opacity="0.85"/><polygon points="374.3,48.2 379.5,47.9 382.6,51.8 379.0,57.9 374.1,56.3 371.4,50.9" fill="none" stroke="#3aa83c" stroke-width="0.9" stroke-linejoin="round" opacity="0.85"/><polygon points="384.4,259.0 390.3,254.2 395.0,259.1 393.4,267.1 386.9,270.1 382.3,263.6" fill="none" stroke="#34983a" stroke-width="1.2" stroke-linejoin="round" opacity="0.85"/><polygon points="318.3,267.4 314.0,262.7 316.5,256.5 320.0,254.8 323.4,257.0 325.1,261.7 322.4,267.3" fill="none" stroke="#6ed064" stroke-width="1.3" stroke-linejoin="round" opacity="0.85"/><polygon points="340.3,204.8 342.9,200.9 349.6,201.6 350.7,204.9 350.1,208.6 342.5,209.9" fill="none" stroke="#6ed064" stroke-width="1.0" stroke-linejoin="round" opacity="0.85"/><polygon points="344.5,52.5 338.7,44.9 342.9,38.8 351.6,42.4 352.3,49.3" fill="none" stroke="#3aa83c" stroke-width="1.3" stroke-linejoin="round" opacity="0.85"/><polygon points="448.1,111.7 446.0,114.3 440.5,111.8 439.5,106.5 442.0,103.3 447.2,104.2" fill="none" stroke="#6ed064" stroke-width="0.9" stroke-linejoin="round" opacity="0.85"/><polygon points="392.7,110.4 388.9,111.6 384.8,111.0 383.1,105.2 384.7,100.9 391.2,99.0 394.4,101.9" fill="none" stroke="#6ed064" stroke-width="1.2" stroke-linejoin="round" opacity="0.85"/><polygon points="378.6,56.5 383.8,54.0 390.9,58.2 390.8,62.6 384.7,65.7 377.6,62.0" fill="none" stroke="#5cc454" stroke-width="1.2" stroke-linejoin="round" opacity="0.85"/><polygon points="442.4,172.6 437.1,169.9 434.7,164.4 443.0,162.8 447.3,169.2" fill="none" stroke="#3aa83c" stroke-width="1.3" stroke-linejoin="round" opacity="0.85"/><polygon points="347.9,79.7 340.4,75.3 344.0,66.9 351.5,68.7 354.0,73.6" fill="none" stroke="#4cb848" stroke-width="1.1" stroke-linejoin="round" opacity="0.85"/><polygon points="349.3,147.7 350.4,139.4 357.0,138.3 362.5,144.6 357.5,152.1" fill="none" stroke="#34983a" stroke-width="0.9" stroke-linejoin="round" opacity="0.85"/><polygon points="314.5,236.5 319.8,242.6 316.6,247.1 310.2,249.9 307.4,246.6 305.5,240.1 308.8,235.0" fill="none" stroke="#6ed064" stroke-width="1.1" stroke-linejoin="round" opacity="0.85"/><polygon points="409.2,248.7 414.1,252.5 413.7,257.2 406.8,259.9 403.7,255.0" fill="none" stroke="#6ed064" stroke-width="1.0" stroke-linejoin="round" opacity="0.85"/><polygon points="431.4,34.4 437.0,31.0 441.3,32.9 439.6,39.5 433.2,38.9" fill="none" stroke="#3aa83c" stroke-width="1.2" stroke-linejoin="round" opacity="0.85"/><polygon points="477.0,224.2 477.8,230.3 474.0,233.1 468.9,230.4 468.5,225.6 472.8,222.7" fill="none" stroke="#3aa83c" stroke-width="1.0" stroke-linejoin="round" opacity="0.85"/><polygon points="371.5,86.5 366.2,89.2 362.9,88.0 361.3,82.4 363.2,76.9 368.5,76.7 373.5,81.0" fill="none" stroke="#5cc454" stroke-width="1.3" stroke-linejoin="round" opacity="0.85"/><polygon points="450.7,114.6 448.2,106.5 454.1,103.9 461.4,108.6 457.2,113.5" fill="none" stroke="#4cb848" stroke-width="0.8" stroke-linejoin="round" opacity="0.85"/><polygon points="415.7,51.8 418.6,48.5 423.8,52.8 422.9,60.8 416.0,59.5" fill="none" stroke="#5cc454" stroke-width="1.3" stroke-linejoin="round" opacity="0.85"/><polygon points="299.9,134.2 301.6,136.3 298.0,140.9 292.6,140.8 291.8,133.9 293.6,132.4" fill="none" stroke="#6ed064" stroke-width="1.2" stroke-linejoin="round" opacity="0.85"/><polygon points="372.4,43.5 367.4,46.9 362.6,40.4 364.3,35.7 370.5,36.9" fill="none" stroke="#5cc454" stroke-width="0.9" stroke-linejoin="round" opacity="0.85"/><polygon points="464.3,45.1 463.7,50.6 458.2,52.3 453.6,49.6 454.0,43.5 459.3,42.1" fill="none" stroke="#4cb848" stroke-width="1.2" stroke-linejoin="round" opacity="0.85"/><polygon points="442.2,122.3 435.2,124.7 432.3,119.0 436.6,113.8 442.7,116.9" fill="none" stroke="#4cb848" stroke-width="1.2" stroke-linejoin="round" opacity="0.85"/><polygon points="410.1,233.4 417.3,232.9 420.9,235.8 418.1,240.7 411.9,241.7 407.9,239.8" fill="none" stroke="#6ed064" stroke-width="1.1" stroke-linejoin="round" opacity="0.85"/><polygon points="376.1,157.1 374.8,165.5 370.4,168.1 362.8,163.4 363.6,156.7 370.2,153.8" fill="none" stroke="#4cb848" stroke-width="1.4" stroke-linejoin="round" opacity="0.85"/><polygon points="428.4,250.8 433.4,256.9 431.3,263.1 427.3,266.3 421.8,262.1 423.9,253.9" fill="none" stroke="#5cc454" stroke-width="1.2" stroke-linejoin="round" opacity="0.85"/><polygon points="384.5,240.0 380.1,237.0 381.3,230.3 386.9,226.7 393.6,233.3 393.3,238.8" fill="none" stroke="#5cc454" stroke-width="1.3" stroke-linejoin="round" opacity="0.85"/><polygon points="409.6,95.1 408.0,86.0 412.2,82.9 417.4,85.1 417.4,94.1 413.9,96.7" fill="none" stroke="#34983a" stroke-width="1.1" stroke-linejoin="round" opacity="0.85"/><polygon points="302.1,200.1 295.6,196.1 296.2,192.5 299.4,186.0 304.4,189.4 305.5,195.4" fill="none" stroke="#34983a" stroke-width="1.3" stroke-linejoin="round" opacity="0.85"/><polygon points="323.0,84.8 320.2,81.0 323.1,76.4 328.0,75.0 331.3,80.3 328.8,84.3" fill="none" stroke="#5cc454" stroke-width="1.2" stroke-linejoin="round" opacity="0.85"/><polygon points="363.2,115.9 366.5,117.3 366.9,127.4 362.4,130.0 357.4,128.1 355.6,119.9" fill="none" stroke="#3aa83c" stroke-width="1.3" stroke-linejoin="round" opacity="0.85"/><polygon points="284.7,38.9 285.0,32.9 288.1,28.1 296.7,32.7 297.7,36.6 290.4,42.2" fill="none" stroke="#6ed064" stroke-width="0.8" stroke-linejoin="round" opacity="0.85"/><polygon points="406.7,79.1 410.9,75.7 419.4,79.2 416.9,84.3 408.5,84.5" fill="none" stroke="#3aa83c" stroke-width="1.0" stroke-linejoin="round" opacity="0.85"/><polygon points="418.8,82.7 416.3,74.5 421.3,69.8 423.2,68.8 427.0,74.7 427.0,81.2 421.7,82.8" fill="none" stroke="#34983a" stroke-width="0.8" stroke-linejoin="round" opacity="0.85"/><polygon points="477.4,142.8 471.9,135.7 474.1,129.6 479.8,128.8 483.7,135.7 482.3,139.7" fill="none" stroke="#6ed064" stroke-width="1.0" stroke-linejoin="round" opacity="0.85"/><polygon points="351.5,112.7 348.4,116.2 343.1,114.3 342.1,109.2 346.4,105.6 350.1,107.4" fill="none" stroke="#6ed064" stroke-width="1.4" stroke-linejoin="round" opacity="0.85"/><polygon points="414.2,207.6 414.8,217.6 407.5,219.7 404.0,214.9 407.5,206.8" fill="none" stroke="#3aa83c" stroke-width="1.3" stroke-linejoin="round" opacity="0.85"/><polygon points="354.0,211.6 358.2,215.8 358.8,219.1 353.8,223.6 349.9,220.7 348.8,215.4 350.0,213.0" fill="none" stroke="#4cb848" stroke-width="1.3" stroke-linejoin="round" opacity="0.85"/><polygon points="386.0,143.6 382.6,146.1 378.1,138.0 377.8,133.8 383.1,130.1 386.9,131.8 389.6,136.3" fill="none" stroke="#4cb848" stroke-width="1.3" stroke-linejoin="round" opacity="0.85"/><polygon points="374.5,179.2 381.6,176.3 385.4,181.1 382.0,186.9 375.0,185.1" fill="none" stroke="#5cc454" stroke-width="1.4" stroke-linejoin="round" opacity="0.85"/><polygon points="429.5,224.2 425.2,226.0 420.4,223.4 421.5,216.6 427.3,214.6 432.0,218.9" fill="none" stroke="#3aa83c" stroke-width="1.1" stroke-linejoin="round" opacity="0.85"/><polygon points="333.4,218.8 326.0,214.9 329.3,208.3 338.3,207.5 340.7,213.8" fill="none" stroke="#34983a" stroke-width="1.0" stroke-linejoin="round" opacity="0.85"/><polygon points="453.0,59.2 446.3,59.3 442.3,52.9 444.9,47.2 452.7,48.2 456.1,54.0" fill="none" stroke="#3aa83c" stroke-width="0.8" stroke-linejoin="round" opacity="0.85"/><polygon points="422.7,109.0 421.7,102.5 428.6,98.4 434.7,101.2 434.5,108.4 429.0,112.3" fill="none" stroke="#3aa83c" stroke-width="1.3" stroke-linejoin="round" opacity="0.85"/><polygon points="400.4,254.1 397.8,259.3 392.9,259.4 390.5,252.8 395.9,249.9" fill="none" stroke="#4cb848" stroke-width="0.9" stroke-linejoin="round" opacity="0.85"/><polygon points="377.0,126.8 379.9,129.0 381.3,133.7 376.1,137.1 372.1,134.9 370.7,131.4 372.5,128.2" fill="none" stroke="#34983a" stroke-width="1.3" stroke-linejoin="round" opacity="0.85"/><polygon points="420.0,147.7 416.6,144.9 416.1,138.9 419.7,134.8 425.7,136.3 425.5,142.4 425.1,145.2" fill="none" stroke="#6ed064" stroke-width="1.3" stroke-linejoin="round" opacity="0.85"/><polygon points="471.2,62.2 467.8,64.5 463.4,63.8 460.8,55.7 466.5,51.1 469.3,53.4" fill="none" stroke="#34983a" stroke-width="1.4" stroke-linejoin="round" opacity="0.85"/><polygon points="457.5,66.1 453.1,74.6 447.2,72.9 443.4,65.5 453.4,62.5" fill="none" stroke="#3aa83c" stroke-width="1.3" stroke-linejoin="round" opacity="0.85"/><polygon points="344.5,221.5 343.9,232.0 337.4,233.4 334.1,228.6 337.1,220.2" fill="none" stroke="#4cb848" stroke-width="1.2" stroke-linejoin="round" opacity="0.85"/><polygon points="355.2,86.2 364.9,85.9 367.1,93.2 363.8,97.5 359.6,99.7 353.7,93.1" fill="none" stroke="#6ed064" stroke-width="1.1" stroke-linejoin="round" opacity="0.85"/></g>
<g filter="url(#bl3)"><ellipse cx="468.7" cy="39.0" rx="3.0" ry="3.6" transform="rotate(150 468.3 38.1)" fill="#22209a"/><ellipse cx="390.4" cy="248.9" rx="4.9" ry="4.4" transform="rotate(166 390.4 248.9)" fill="#0c1048"/><ellipse cx="349.1" cy="69.1" rx="2.3" ry="3.3" transform="rotate(172 348.6 68.5)" fill="#2a36b0"/><ellipse cx="305.8" cy="211.8" rx="4.2" ry="3.8" transform="rotate(173 305.8 211.8)" fill="#161c74"/><ellipse cx="453.3" cy="45.7" rx="2.3" ry="3.8" transform="rotate(136 453.8 45.1)" fill="#2a36b0"/><ellipse cx="409.2" cy="229.7" rx="2.4" ry="2.8" transform="rotate(119 410.0 230.6)" fill="#2a36b0"/><ellipse cx="289.9" cy="128.9" rx="3.9" ry="5.4" transform="rotate(129 289.9 128.9)" fill="#a03050" opacity="0.8"/><ellipse cx="480.5" cy="236.1" rx="5.0" ry="5.9" transform="rotate(14 480.5 236.1)" fill="#10145c"/><ellipse cx="391.0" cy="148.2" rx="3.1" ry="2.7" transform="rotate(113 390.2 148.0)" fill="#2028a0"/><ellipse cx="424.8" cy="42.0" rx="3.2" ry="3.9" transform="rotate(170 424.1 41.7)" fill="#2028a0"/><ellipse cx="372.2" cy="213.1" rx="2.9" ry="3.9" transform="rotate(89 372.6 213.2)" fill="#22209a"/><ellipse cx="317.1" cy="160.9" rx="3.9" ry="3.8" transform="rotate(61 317.1 160.9)" fill="#121866"/><ellipse cx="407.4" cy="42.6" rx="4.3" ry="5.7" transform="rotate(139 407.4 42.6)" fill="#0e1254"/><ellipse cx="500.4" cy="251.2" rx="4.5" ry="5.1" transform="rotate(39 500.4 251.2)" fill="#0e1254"/><ellipse cx="374.8" cy="199.9" rx="3.9" ry="4.4" transform="rotate(18 374.8 199.9)" fill="#10145c"/><ellipse cx="341.6" cy="131.8" rx="3.0" ry="3.6" transform="rotate(114 342.6 131.0)" fill="#2a36b0"/><ellipse cx="315.4" cy="117.3" rx="2.4" ry="3.3" transform="rotate(68 315.8 116.6)" fill="#161c80"/><ellipse cx="328.3" cy="258.7" rx="4.2" ry="3.8" transform="rotate(20 328.3 258.7)" fill="#121866"/><ellipse cx="336.8" cy="82.2" rx="2.5" ry="3.7" transform="rotate(148 337.2 82.4)" fill="#1a2290"/><ellipse cx="296.1" cy="214.2" rx="3.6" ry="4.1" transform="rotate(136 296.1 214.2)" fill="#10145c"/><ellipse cx="342.2" cy="141.7" rx="2.3" ry="3.0" transform="rotate(70 342.3 142.6)" fill="#1a2290"/><ellipse cx="357.4" cy="258.6" rx="4.2" ry="4.4" transform="rotate(81 357.4 258.6)" fill="#161c74"/><ellipse cx="420.3" cy="82.6" rx="4.7" ry="4.7" transform="rotate(43 420.3 82.6)" fill="#10145c"/><ellipse cx="415.3" cy="183.3" rx="3.4" ry="2.7" transform="rotate(30 415.3 182.6)" fill="#2028a0"/><ellipse cx="301.7" cy="142.6" rx="2.5" ry="3.4" transform="rotate(49 301.0 141.6)" fill="#161c80"/><ellipse cx="449.4" cy="98.4" rx="3.2" ry="3.0" transform="rotate(50 450.0 98.6)" fill="#1a2290"/><ellipse cx="353.7" cy="84.3" rx="4.9" ry="4.5" transform="rotate(143 353.7 84.3)" fill="#161c74"/><ellipse cx="334.1" cy="222.3" rx="2.3" ry="3.5" transform="rotate(104 333.7 223.0)" fill="#1a2290"/><ellipse cx="472.9" cy="191.7" rx="5.1" ry="4.0" transform="rotate(170 472.9 191.7)" fill="#0c1048"/><ellipse cx="440.3" cy="127.3" rx="3.2" ry="3.7" transform="rotate(56 440.8 127.8)" fill="#161c80"/><ellipse cx="370.1" cy="58.3" rx="5.0" ry="4.0" transform="rotate(83 370.1 58.3)" fill="#161c74"/><ellipse cx="466.4" cy="185.8" rx="3.0" ry="2.8" transform="rotate(144 465.5 186.5)" fill="#1a2290"/><ellipse cx="309.4" cy="37.2" rx="2.8" ry="3.5" transform="rotate(51 309.9 37.9)" fill="#1a2290"/><ellipse cx="365.2" cy="240.4" rx="2.8" ry="3.7" transform="rotate(18 365.6 240.7)" fill="#22209a"/><ellipse cx="414.7" cy="46.9" rx="3.1" ry="3.1" transform="rotate(9 415.6 46.7)" fill="#2028a0"/><ellipse cx="454.8" cy="75.0" rx="2.9" ry="2.6" transform="rotate(171 455.5 75.4)" fill="#2028a0"/><ellipse cx="324.8" cy="146.4" rx="2.9" ry="3.5" transform="rotate(142 324.5 147.0)" fill="#2028a0"/><ellipse cx="381.3" cy="77.9" rx="2.6" ry="3.1" transform="rotate(55 381.5 77.6)" fill="#161c80"/><ellipse cx="461.9" cy="58.1" rx="3.4" ry="2.8" transform="rotate(77 461.7 58.7)" fill="#1a2290"/><ellipse cx="427.8" cy="186.8" rx="4.3" ry="5.3" transform="rotate(64 427.8 186.8)" fill="#0e1254"/><ellipse cx="429.6" cy="125.8" rx="2.5" ry="3.2" transform="rotate(11 430.3 126.1)" fill="#2a36b0"/><ellipse cx="411.3" cy="153.9" rx="2.6" ry="3.0" transform="rotate(23 410.3 154.6)" fill="#161c80"/><ellipse cx="456.1" cy="108.1" rx="2.4" ry="3.1" transform="rotate(9 455.2 107.1)" fill="#22209a"/><ellipse cx="365.4" cy="227.9" rx="2.3" ry="2.6" transform="rotate(77 364.7 227.1)" fill="#1a2290"/><ellipse cx="459.8" cy="130.0" rx="3.3" ry="3.1" transform="rotate(25 460.4 131.0)" fill="#2028a0"/><ellipse cx="453.4" cy="188.1" rx="5.1" ry="4.4" transform="rotate(32 453.4 188.1)" fill="#10145c"/><ellipse cx="390.5" cy="74.4" rx="3.0" ry="2.6" transform="rotate(64 390.7 74.6)" fill="#2028a0"/><ellipse cx="357.6" cy="49.7" rx="4.0" ry="4.7" transform="rotate(110 357.6 49.7)" fill="#161c74"/><ellipse cx="385.6" cy="62.3" rx="4.3" ry="4.9" transform="rotate(2 385.6 62.3)" fill="#0e1254"/><ellipse cx="337.5" cy="40.2" rx="4.4" ry="4.6" transform="rotate(174 337.5 40.2)" fill="#10145c"/><ellipse cx="428.4" cy="79.0" rx="2.5" ry="2.8" transform="rotate(154 428.7 78.9)" fill="#2028a0"/><ellipse cx="296.5" cy="45.5" rx="4.3" ry="4.5" transform="rotate(37 296.5 45.5)" fill="#0c1048"/><ellipse cx="401.1" cy="235.9" rx="2.7" ry="3.9" transform="rotate(39 400.8 236.0)" fill="#2028a0"/><ellipse cx="381.2" cy="205.5" rx="4.1" ry="4.8" transform="rotate(61 381.2 205.5)" fill="#121866"/><ellipse cx="304.2" cy="203.1" rx="4.4" ry="4.9" transform="rotate(142 304.2 203.1)" fill="#161c74"/><ellipse cx="407.6" cy="51.6" rx="3.0" ry="3.8" transform="rotate(16 408.5 51.4)" fill="#2a36b0"/><ellipse cx="313.6" cy="86.5" rx="4.7" ry="5.7" transform="rotate(138 313.6 86.5)" fill="#161c74"/><ellipse cx="340.3" cy="241.7" rx="5.0" ry="4.5" transform="rotate(0 340.3 241.7)" fill="#161c74"/><ellipse cx="484.3" cy="196.3" rx="3.5" ry="3.9" transform="rotate(45 484.3 196.3)" fill="#121866"/><ellipse cx="477.7" cy="72.2" rx="2.9" ry="3.4" transform="rotate(133 477.3 71.4)" fill="#161c80"/><ellipse cx="477.4" cy="201.7" rx="5.1" ry="4.0" transform="rotate(152 477.4 201.7)" fill="#161c74"/><ellipse cx="442.9" cy="211.2" rx="2.3" ry="2.9" transform="rotate(60 443.0 211.0)" fill="#22209a"/><ellipse cx="435.0" cy="73.6" rx="3.2" ry="3.6" transform="rotate(161 434.7 73.3)" fill="#2028a0"/><ellipse cx="413.6" cy="123.2" rx="5.0" ry="5.6" transform="rotate(12 413.6 123.2)" fill="#10145c"/><ellipse cx="349.9" cy="234.1" rx="3.8" ry="4.6" transform="rotate(160 349.9 234.1)" fill="#6a2a8a" opacity="0.8"/><ellipse cx="281.7" cy="244.3" rx="4.4" ry="5.8" transform="rotate(14 281.7 244.3)" fill="#121866"/><ellipse cx="342.9" cy="222.4" rx="4.0" ry="5.6" transform="rotate(94 342.9 222.4)" fill="#5a2890" opacity="0.8"/><ellipse cx="438.4" cy="260.3" rx="3.2" ry="3.0" transform="rotate(95 438.2 259.5)" fill="#1a2290"/><ellipse cx="401.3" cy="213.6" rx="3.2" ry="3.7" transform="rotate(179 400.5 214.5)" fill="#1a2290"/><ellipse cx="393.3" cy="120.6" rx="4.6" ry="5.5" transform="rotate(88 393.3 120.6)" fill="#0c1048"/><ellipse cx="454.5" cy="165.3" rx="3.0" ry="3.9" transform="rotate(175 455.2 164.6)" fill="#22209a"/><ellipse cx="400.0" cy="170.9" rx="2.7" ry="3.9" transform="rotate(72 400.8 170.6)" fill="#22209a"/><ellipse cx="377.0" cy="246.1" rx="3.8" ry="5.0" transform="rotate(160 377.0 246.1)" fill="#0e1254"/><ellipse cx="319.2" cy="132.7" rx="2.8" ry="3.7" transform="rotate(145 319.7 132.1)" fill="#161c80"/><ellipse cx="424.7" cy="102.5" rx="3.1" ry="3.2" transform="rotate(5 425.2 101.8)" fill="#22209a"/><ellipse cx="451.1" cy="120.8" rx="3.1" ry="3.8" transform="rotate(92 451.8 120.8)" fill="#2028a0"/><ellipse cx="299.3" cy="174.2" rx="4.1" ry="4.9" transform="rotate(3 299.3 174.2)" fill="#121866"/><ellipse cx="466.1" cy="236.6" rx="3.8" ry="5.6" transform="rotate(175 466.1 236.6)" fill="#0e1254"/><ellipse cx="331.1" cy="157.6" rx="3.0" ry="3.1" transform="rotate(122 331.2 158.3)" fill="#2a36b0"/><ellipse cx="317.3" cy="261.9" rx="4.0" ry="4.3" transform="rotate(62 317.3 261.9)" fill="#10145c"/><ellipse cx="314.1" cy="72.1" rx="3.2" ry="3.2" transform="rotate(134 313.8 72.0)" fill="#161c80"/><ellipse cx="369.2" cy="32.1" rx="3.3" ry="2.5" transform="rotate(175 368.2 32.8)" fill="#2028a0"/><ellipse cx="424.3" cy="209.9" rx="2.7" ry="3.7" transform="rotate(66 423.4 209.6)" fill="#22209a"/><ellipse cx="282.6" cy="31.8" rx="4.9" ry="5.9" transform="rotate(175 282.6 31.8)" fill="#121866"/><ellipse cx="343.5" cy="186.7" rx="4.5" ry="5.2" transform="rotate(153 343.5 186.7)" fill="#0e1254"/><ellipse cx="283.8" cy="88.3" rx="4.4" ry="5.3" transform="rotate(15 283.8 88.3)" fill="#0e1254"/><ellipse cx="394.0" cy="46.3" rx="3.7" ry="5.9" transform="rotate(73 394.0 46.3)" fill="#10145c"/><ellipse cx="284.6" cy="58.7" rx="2.3" ry="3.9" transform="rotate(16 285.5 59.2)" fill="#22209a"/><ellipse cx="382.0" cy="237.0" rx="3.8" ry="5.0" transform="rotate(39 382.0 237.0)" fill="#0e1254"/><ellipse cx="399.1" cy="115.0" rx="2.7" ry="3.9" transform="rotate(69 399.0 115.1)" fill="#2a36b0"/><ellipse cx="450.4" cy="157.4" rx="3.0" ry="3.1" transform="rotate(96 450.9 156.8)" fill="#1a2290"/><ellipse cx="398.5" cy="39.4" rx="2.5" ry="3.0" transform="rotate(18 398.3 38.6)" fill="#2a36b0"/><ellipse cx="345.6" cy="157.2" rx="3.6" ry="3.8" transform="rotate(79 345.6 157.2)" fill="#10145c"/><ellipse cx="304.4" cy="53.0" rx="2.7" ry="2.9" transform="rotate(37 304.8 53.9)" fill="#1a2290"/><ellipse cx="381.2" cy="32.5" rx="3.0" ry="2.9" transform="rotate(45 381.0 32.0)" fill="#1a2290"/><ellipse cx="328.7" cy="196.0" rx="2.7" ry="3.1" transform="rotate(2 329.2 196.2)" fill="#161c80"/><ellipse cx="318.2" cy="220.0" rx="3.1" ry="3.5" transform="rotate(4 317.5 220.8)" fill="#161c80"/><ellipse cx="462.3" cy="30.8" rx="3.3" ry="3.4" transform="rotate(13 462.3 31.0)" fill="#2a36b0"/><ellipse cx="381.1" cy="183.7" rx="4.0" ry="4.5" transform="rotate(35 381.1 183.7)" fill="#0c1048"/><ellipse cx="313.6" cy="44.9" rx="3.3" ry="3.9" transform="rotate(49 314.5 45.7)" fill="#2028a0"/><ellipse cx="280.7" cy="125.2" rx="3.9" ry="5.9" transform="rotate(112 280.7 125.2)" fill="#161c74"/><ellipse cx="312.8" cy="249.9" rx="2.8" ry="2.6" transform="rotate(178 313.0 249.8)" fill="#2a36b0"/><ellipse cx="373.3" cy="89.1" rx="4.4" ry="4.5" transform="rotate(11 373.3 89.1)" fill="#161c74"/><ellipse cx="372.0" cy="42.0" rx="3.6" ry="5.3" transform="rotate(73 372.0 42.0)" fill="#161c74"/><ellipse cx="334.9" cy="112.9" rx="2.3" ry="2.5" transform="rotate(119 335.9 113.3)" fill="#1a2290"/><ellipse cx="381.9" cy="45.9" rx="2.6" ry="2.7" transform="rotate(166 382.4 45.2)" fill="#1a2290"/><ellipse cx="317.0" cy="97.6" rx="4.1" ry="5.2" transform="rotate(24 317.0 97.6)" fill="#161c74"/><ellipse cx="336.7" cy="166.8" rx="3.0" ry="3.9" transform="rotate(83 337.3 167.7)" fill="#161c80"/><ellipse cx="278.7" cy="158.8" rx="3.6" ry="5.0" transform="rotate(121 278.7 158.8)" fill="#0e1254"/><ellipse cx="453.9" cy="179.1" rx="4.5" ry="4.0" transform="rotate(37 453.9 179.1)" fill="#0c1048"/><ellipse cx="377.6" cy="108.5" rx="2.4" ry="3.3" transform="rotate(9 377.7 108.2)" fill="#1a2290"/><ellipse cx="301.6" cy="127.2" rx="2.5" ry="2.8" transform="rotate(16 300.9 127.5)" fill="#2a36b0"/><ellipse cx="319.0" cy="189.5" rx="2.6" ry="2.7" transform="rotate(31 319.6 189.0)" fill="#2028a0"/><ellipse cx="446.1" cy="195.9" rx="3.9" ry="5.2" transform="rotate(129 446.1 195.9)" fill="#0c1048"/><ellipse cx="365.7" cy="196.4" rx="3.2" ry="3.9" transform="rotate(141 364.8 196.3)" fill="#1a2290"/><ellipse cx="282.0" cy="77.9" rx="4.7" ry="5.5" transform="rotate(131 282.0 77.9)" fill="#121866"/><ellipse cx="363.8" cy="210.7" rx="3.0" ry="3.8" transform="rotate(134 363.6 210.4)" fill="#1a2290"/><ellipse cx="390.2" cy="31.2" rx="4.3" ry="6.0" transform="rotate(174 390.2 31.2)" fill="#0e1254"/><ellipse cx="428.0" cy="168.0" rx="2.6" ry="2.5" transform="rotate(177 428.7 168.9)" fill="#2a36b0"/><ellipse cx="354.3" cy="209.8" rx="2.4" ry="3.1" transform="rotate(136 355.3 210.6)" fill="#2028a0"/><ellipse cx="400.9" cy="161.9" rx="4.6" ry="4.7" transform="rotate(39 400.9 161.9)" fill="#0e1254"/><ellipse cx="403.3" cy="103.0" rx="3.0" ry="2.6" transform="rotate(161 403.9 103.4)" fill="#2028a0"/><ellipse cx="351.5" cy="145.8" rx="4.0" ry="4.0" transform="rotate(3 351.5 145.8)" fill="#10145c"/><ellipse cx="360.3" cy="123.0" rx="3.9" ry="5.7" transform="rotate(172 360.3 123.0)" fill="#0e1254"/><ellipse cx="499.4" cy="259.4" rx="5.0" ry="4.3" transform="rotate(178 499.4 259.4)" fill="#10145c"/><ellipse cx="434.6" cy="41.7" rx="2.3" ry="3.7" transform="rotate(98 435.3 41.9)" fill="#22209a"/><ellipse cx="307.9" cy="234.7" rx="4.9" ry="5.7" transform="rotate(6 307.9 234.7)" fill="#10145c"/><ellipse cx="345.5" cy="43.5" rx="4.7" ry="5.5" transform="rotate(156 345.5 43.5)" fill="#161c74"/><ellipse cx="325.3" cy="101.7" rx="3.5" ry="5.9" transform="rotate(141 325.3 101.7)" fill="#161c74"/><ellipse cx="348.6" cy="201.0" rx="4.6" ry="5.8" transform="rotate(77 348.6 201.0)" fill="#121866"/><ellipse cx="393.0" cy="173.2" rx="3.5" ry="5.4" transform="rotate(103 393.0 173.2)" fill="#0c1048"/><ellipse cx="358.8" cy="154.5" rx="4.1" ry="6.0" transform="rotate(23 358.8 154.5)" fill="#161c74"/><ellipse cx="462.0" cy="151.3" rx="2.6" ry="3.6" transform="rotate(51 462.2 151.3)" fill="#2028a0"/><ellipse cx="499.9" cy="169.6" rx="3.6" ry="5.0" transform="rotate(32 499.9 169.6)" fill="#121866"/><ellipse cx="436.2" cy="33.5" rx="2.4" ry="2.9" transform="rotate(178 435.4 33.6)" fill="#22209a"/><ellipse cx="410.8" cy="77.2" rx="2.8" ry="2.9" transform="rotate(115 411.5 76.3)" fill="#2a36b0"/><ellipse cx="459.2" cy="143.0" rx="2.7" ry="2.7" transform="rotate(92 459.5 142.2)" fill="#161c80"/><ellipse cx="355.0" cy="76.0" rx="2.5" ry="2.7" transform="rotate(90 356.0 76.7)" fill="#2028a0"/><ellipse cx="356.6" cy="194.6" rx="5.2" ry="4.5" transform="rotate(53 356.6 194.6)" fill="#10145c"/><ellipse cx="493.5" cy="233.4" rx="3.8" ry="4.8" transform="rotate(12 493.5 233.4)" fill="#0c1048"/><ellipse cx="470.0" cy="262.7" rx="3.9" ry="5.9" transform="rotate(94 470.0 262.7)" fill="#161c74"/><ellipse cx="484.7" cy="180.1" rx="4.4" ry="4.2" transform="rotate(101 484.7 180.1)" fill="#161c74"/><ellipse cx="284.2" cy="145.1" rx="3.6" ry="5.5" transform="rotate(66 284.2 145.1)" fill="#121866"/><ellipse cx="429.3" cy="256.5" rx="4.9" ry="4.6" transform="rotate(157 429.3 256.5)" fill="#0c1048"/><ellipse cx="283.0" cy="44.0" rx="2.3" ry="2.5" transform="rotate(42 282.1 44.1)" fill="#161c80"/><ellipse cx="324.3" cy="227.1" rx="4.4" ry="5.7" transform="rotate(37 324.3 227.1)" fill="#0e1254"/><ellipse cx="452.6" cy="135.7" rx="3.5" ry="5.1" transform="rotate(82 452.6 135.7)" fill="#5a2890" opacity="0.8"/><ellipse cx="483.3" cy="207.7" rx="2.9" ry="2.9" transform="rotate(96 483.5 207.1)" fill="#2028a0"/><ellipse cx="325.9" cy="81.7" rx="5.0" ry="5.4" transform="rotate(142 325.9 81.7)" fill="#161c74"/><ellipse cx="293.4" cy="198.2" rx="4.4" ry="4.3" transform="rotate(128 293.4 198.2)" fill="#121866"/><ellipse cx="435.5" cy="105.1" rx="3.0" ry="2.7" transform="rotate(45 434.9 105.3)" fill="#2028a0"/><ellipse cx="358.7" cy="141.1" rx="4.7" ry="5.7" transform="rotate(49 358.7 141.1)" fill="#8a3060" opacity="0.8"/><ellipse cx="405.0" cy="257.6" rx="3.2" ry="3.0" transform="rotate(64 405.5 258.1)" fill="#161c80"/><ellipse cx="321.5" cy="251.4" rx="3.9" ry="5.4" transform="rotate(68 321.5 251.4)" fill="#0c1048"/><ellipse cx="330.1" cy="184.9" rx="3.6" ry="4.3" transform="rotate(69 330.1 184.9)" fill="#0e1254"/><ellipse cx="458.6" cy="37.4" rx="2.9" ry="2.9" transform="rotate(126 457.7 37.8)" fill="#2028a0"/><ellipse cx="363.3" cy="75.3" rx="2.7" ry="3.3" transform="rotate(37 363.9 75.0)" fill="#22209a"/><ellipse cx="483.7" cy="32.8" rx="2.6" ry="2.8" transform="rotate(126 482.9 32.5)" fill="#2028a0"/><ellipse cx="417.8" cy="34.8" rx="4.6" ry="5.7" transform="rotate(57 417.8 34.8)" fill="#161c74"/><ellipse cx="336.0" cy="66.7" rx="4.9" ry="5.7" transform="rotate(9 336.0 66.7)" fill="#10145c"/><ellipse cx="462.5" cy="49.0" rx="4.1" ry="5.3" transform="rotate(36 462.5 49.0)" fill="#5a2890" opacity="0.8"/><ellipse cx="492.5" cy="190.6" rx="4.6" ry="4.4" transform="rotate(24 492.5 190.6)" fill="#0c1048"/><ellipse cx="373.2" cy="223.1" rx="2.9" ry="3.7" transform="rotate(159 372.5 223.8)" fill="#1a2290"/><ellipse cx="415.0" cy="90.0" rx="4.2" ry="4.4" transform="rotate(20 415.0 90.0)" fill="#161c74"/><ellipse cx="339.6" cy="199.9" rx="2.4" ry="2.7" transform="rotate(3 339.3 199.8)" fill="#2028a0"/><ellipse cx="476.2" cy="135.3" rx="3.2" ry="3.5" transform="rotate(11 477.1 134.8)" fill="#22209a"/><ellipse cx="280.0" cy="70.6" rx="3.2" ry="2.6" transform="rotate(115 279.3 70.0)" fill="#1a2290"/><ellipse cx="438.2" cy="251.4" rx="4.4" ry="4.7" transform="rotate(72 438.2 251.4)" fill="#10145c"/><ellipse cx="291.8" cy="38.3" rx="4.0" ry="4.1" transform="rotate(67 291.8 38.3)" fill="#0e1254"/><ellipse cx="287.3" cy="136.3" rx="4.4" ry="4.0" transform="rotate(73 287.3 136.3)" fill="#0c1048"/><ellipse cx="435.2" cy="236.7" rx="3.8" ry="5.2" transform="rotate(66 435.2 236.7)" fill="#161c74"/><ellipse cx="367.0" cy="48.6" rx="2.6" ry="3.6" transform="rotate(114 366.6 47.6)" fill="#1a2290"/><ellipse cx="389.9" cy="131.3" rx="2.5" ry="3.2" transform="rotate(59 390.9 131.8)" fill="#22209a"/><ellipse cx="426.9" cy="135.7" rx="2.7" ry="3.9" transform="rotate(174 426.3 135.4)" fill="#161c80"/><ellipse cx="300.8" cy="186.9" rx="4.3" ry="3.9" transform="rotate(74 300.8 186.9)" fill="#0e1254"/><ellipse cx="292.8" cy="141.9" rx="4.6" ry="4.1" transform="rotate(74 292.8 141.9)" fill="#0c1048"/><ellipse cx="467.8" cy="135.4" rx="2.3" ry="2.7" transform="rotate(104 468.1 136.0)" fill="#22209a"/><ellipse cx="299.0" cy="32.7" rx="4.1" ry="4.3" transform="rotate(40 299.0 32.7)" fill="#10145c"/><ellipse cx="440.5" cy="116.6" rx="4.3" ry="4.5" transform="rotate(52 440.5 116.6)" fill="#121866"/><ellipse cx="306.3" cy="192.6" rx="5.2" ry="5.6" transform="rotate(61 306.3 192.6)" fill="#10145c"/><ellipse cx="455.0" cy="214.9" rx="5.1" ry="4.4" transform="rotate(40 455.0 214.9)" fill="#0c1048"/><ellipse cx="371.3" cy="141.8" rx="3.3" ry="3.2" transform="rotate(176 370.6 140.9)" fill="#1a2290"/><ellipse cx="389.0" cy="215.4" rx="2.7" ry="3.1" transform="rotate(75 389.6 215.5)" fill="#161c80"/><ellipse cx="372.2" cy="123.1" rx="2.5" ry="2.6" transform="rotate(80 371.9 123.9)" fill="#2028a0"/><ellipse cx="416.5" cy="237.8" rx="4.6" ry="4.0" transform="rotate(3 416.5 237.8)" fill="#121866"/><ellipse cx="395.8" cy="253.7" rx="3.8" ry="5.1" transform="rotate(43 395.8 253.7)" fill="#121866"/><ellipse cx="384.2" cy="158.5" rx="4.3" ry="4.4" transform="rotate(72 384.2 158.5)" fill="#10145c"/><ellipse cx="324.9" cy="92.0" rx="4.2" ry="3.8" transform="rotate(61 324.9 92.0)" fill="#161c74"/><ellipse cx="461.1" cy="224.4" rx="5.1" ry="4.7" transform="rotate(74 461.1 224.4)" fill="#121866"/><ellipse cx="389.6" cy="141.1" rx="3.0" ry="3.4" transform="rotate(78 390.3 140.4)" fill="#1a2290"/><ellipse cx="450.0" cy="57.2" rx="3.0" ry="2.5" transform="rotate(87 449.0 57.7)" fill="#2028a0"/><ellipse cx="423.2" cy="177.9" rx="2.9" ry="2.8" transform="rotate(158 422.7 177.3)" fill="#161c80"/><ellipse cx="466.3" cy="38.5" rx="3.4" ry="2.5" transform="rotate(177 466.6 37.7)" fill="#161c80"/><ellipse cx="474.2" cy="166.9" rx="4.1" ry="5.0" transform="rotate(153 474.2 166.9)" fill="#121866"/><ellipse cx="406.9" cy="128.8" rx="2.7" ry="3.4" transform="rotate(22 407.1 128.3)" fill="#2028a0"/><ellipse cx="498.1" cy="223.6" rx="5.0" ry="4.1" transform="rotate(46 498.1 223.6)" fill="#0c1048"/><ellipse cx="471.3" cy="54.6" rx="2.4" ry="3.4" transform="rotate(19 470.6 53.9)" fill="#22209a"/><ellipse cx="322.5" cy="50.7" rx="3.0" ry="3.9" transform="rotate(97 323.2 50.4)" fill="#1a2290"/><ellipse cx="451.2" cy="41.1" rx="3.2" ry="3.4" transform="rotate(55 450.6 42.0)" fill="#161c80"/><ellipse cx="301.7" cy="209.7" rx="3.3" ry="2.5" transform="rotate(86 300.7 210.1)" fill="#2028a0"/><ellipse cx="289.3" cy="166.3" rx="3.1" ry="3.3" transform="rotate(21 288.8 165.6)" fill="#22209a"/><ellipse cx="441.4" cy="140.6" rx="2.3" ry="2.8" transform="rotate(175 441.0 140.9)" fill="#2a36b0"/><ellipse cx="423.8" cy="45.0" rx="2.6" ry="3.5" transform="rotate(135 423.7 44.4)" fill="#2a36b0"/><ellipse cx="402.0" cy="248.2" rx="5.0" ry="4.9" transform="rotate(82 402.0 248.2)" fill="#0e1254"/><ellipse cx="468.7" cy="72.8" rx="2.5" ry="3.2" transform="rotate(75 469.2 72.2)" fill="#2a36b0"/><ellipse cx="379.3" cy="213.9" rx="3.7" ry="4.0" transform="rotate(75 379.3 213.9)" fill="#10145c"/><ellipse cx="432.7" cy="153.9" rx="4.7" ry="5.4" transform="rotate(98 432.7 153.9)" fill="#6a2a8a" opacity="0.8"/><ellipse cx="288.6" cy="206.0" rx="2.6" ry="3.4" transform="rotate(80 288.8 205.9)" fill="#22209a"/><ellipse cx="284.9" cy="213.1" rx="5.0" ry="4.2" transform="rotate(154 284.9 213.1)" fill="#161c74"/><ellipse cx="331.4" cy="120.6" rx="2.9" ry="3.7" transform="rotate(170 331.0 120.2)" fill="#1a2290"/><ellipse cx="404.4" cy="64.4" rx="2.9" ry="2.6" transform="rotate(119 404.3 63.6)" fill="#1a2290"/><ellipse cx="310.0" cy="31.7" rx="3.1" ry="3.0" transform="rotate(154 310.1 31.2)" fill="#22209a"/><ellipse cx="389.5" cy="84.3" rx="2.3" ry="3.6" transform="rotate(75 390.2 84.1)" fill="#2a36b0"/><ellipse cx="469.3" cy="218.8" rx="5.0" ry="3.8" transform="rotate(173 469.3 218.8)" fill="#0c1048"/><ellipse cx="445.1" cy="67.5" rx="3.0" ry="3.2" transform="rotate(32 444.8 68.4)" fill="#1a2290"/><ellipse cx="417.9" cy="146.7" rx="2.4" ry="2.6" transform="rotate(60 417.7 147.5)" fill="#2028a0"/><ellipse cx="359.3" cy="261.5" rx="4.4" ry="4.6" transform="rotate(96 359.3 261.5)" fill="#121866"/><ellipse cx="362.2" cy="247.3" rx="4.6" ry="4.1" transform="rotate(117 362.2 247.3)" fill="#0c1048"/><ellipse cx="427.8" cy="115.6" rx="2.5" ry="2.9" transform="rotate(87 426.8 115.1)" fill="#1a2290"/><ellipse cx="306.5" cy="44.8" rx="3.8" ry="5.8" transform="rotate(161 306.5 44.8)" fill="#10145c"/><ellipse cx="458.0" cy="60.2" rx="2.9" ry="3.2" transform="rotate(83 458.8 60.7)" fill="#22209a"/><ellipse cx="414.1" cy="176.8" rx="3.3" ry="3.1" transform="rotate(43 413.9 177.0)" fill="#22209a"/><ellipse cx="371.8" cy="237.6" rx="2.4" ry="2.6" transform="rotate(28 372.4 237.6)" fill="#161c80"/><ellipse cx="388.7" cy="51.6" rx="3.2" ry="3.6" transform="rotate(108 388.1 51.3)" fill="#161c80"/><ellipse cx="316.6" cy="233.3" rx="4.0" ry="4.9" transform="rotate(59 316.6 233.3)" fill="#10145c"/><ellipse cx="315.3" cy="196.8" rx="4.5" ry="5.3" transform="rotate(30 315.3 196.8)" fill="#0e1254"/><ellipse cx="478.5" cy="127.0" rx="4.4" ry="5.7" transform="rotate(121 478.5 127.0)" fill="#161c74"/><ellipse cx="343.1" cy="131.5" rx="2.3" ry="2.7" transform="rotate(128 342.1 131.0)" fill="#161c80"/><ellipse cx="431.1" cy="181.4" rx="4.1" ry="3.8" transform="rotate(178 431.1 181.4)" fill="#0c1048"/><ellipse cx="327.6" cy="145.6" rx="2.9" ry="3.4" transform="rotate(70 326.8 145.5)" fill="#1a2290"/><ellipse cx="343.6" cy="213.9" rx="3.1" ry="2.5" transform="rotate(60 343.3 213.3)" fill="#161c80"/><ellipse cx="379.2" cy="83.2" rx="5.1" ry="5.3" transform="rotate(130 379.2 83.2)" fill="#121866"/><ellipse cx="390.3" cy="65.6" rx="2.3" ry="2.7" transform="rotate(53 390.0 65.8)" fill="#1a2290"/><ellipse cx="328.7" cy="236.6" rx="4.1" ry="4.3" transform="rotate(73 328.7 236.6)" fill="#10145c"/><ellipse cx="328.9" cy="61.0" rx="2.8" ry="3.6" transform="rotate(83 329.7 60.9)" fill="#2028a0"/><ellipse cx="391.5" cy="224.9" rx="2.6" ry="2.8" transform="rotate(94 392.3 225.2)" fill="#22209a"/><ellipse cx="420.5" cy="64.5" rx="2.6" ry="3.1" transform="rotate(60 419.5 64.7)" fill="#22209a"/><ellipse cx="405.6" cy="227.0" rx="2.8" ry="3.4" transform="rotate(115 405.8 227.4)" fill="#2028a0"/><ellipse cx="356.0" cy="59.3" rx="3.3" ry="2.9" transform="rotate(128 356.8 59.1)" fill="#1a2290"/><ellipse cx="369.1" cy="95.9" rx="3.3" ry="3.5" transform="rotate(46 368.3 96.9)" fill="#22209a"/><ellipse cx="460.6" cy="132.2" rx="3.3" ry="3.8" transform="rotate(115 460.4 132.9)" fill="#1a2290"/><ellipse cx="369.0" cy="189.3" rx="3.3" ry="3.1" transform="rotate(73 369.6 189.2)" fill="#2a36b0"/><ellipse cx="424.6" cy="248.8" rx="5.2" ry="5.9" transform="rotate(39 424.6 248.8)" fill="#161c74"/><ellipse cx="417.9" cy="254.3" rx="3.3" ry="3.8" transform="rotate(48 418.6 254.7)" fill="#2a36b0"/><ellipse cx="319.9" cy="39.9" rx="5.2" ry="5.9" transform="rotate(111 319.9 39.9)" fill="#161c74"/><ellipse cx="349.5" cy="93.7" rx="2.3" ry="3.8" transform="rotate(121 349.9 93.6)" fill="#161c80"/><ellipse cx="432.2" cy="63.2" rx="3.1" ry="2.5" transform="rotate(170 432.2 62.8)" fill="#161c80"/><ellipse cx="462.0" cy="76.9" rx="4.1" ry="4.7" transform="rotate(56 462.0 76.9)" fill="#0c1048"/><ellipse cx="358.3" cy="43.9" rx="2.8" ry="3.3" transform="rotate(114 357.6 44.5)" fill="#22209a"/><ellipse cx="415.4" cy="120.2" rx="3.8" ry="5.8" transform="rotate(109 415.4 120.2)" fill="#121866"/><ellipse cx="342.6" cy="56.6" rx="3.4" ry="4.0" transform="rotate(87 341.8 57.5)" fill="#2a36b0"/><ellipse cx="278.9" cy="191.6" rx="4.9" ry="4.3" transform="rotate(173 278.9 191.6)" fill="#161c74"/><ellipse cx="413.9" cy="261.5" rx="2.4" ry="3.2" transform="rotate(59 414.5 262.2)" fill="#1a2290"/><ellipse cx="463.3" cy="118.3" rx="2.6" ry="3.0" transform="rotate(4 462.5 118.7)" fill="#2028a0"/><ellipse cx="389.9" cy="39.1" rx="2.7" ry="2.8" transform="rotate(49 390.2 39.3)" fill="#2028a0"/><ellipse cx="420.1" cy="160.4" rx="2.5" ry="3.7" transform="rotate(127 420.1 159.9)" fill="#2028a0"/><ellipse cx="377.5" cy="97.6" rx="2.8" ry="3.7" transform="rotate(94 376.7 96.6)" fill="#1a2290"/><ellipse cx="313.1" cy="131.0" rx="3.2" ry="2.5" transform="rotate(158 313.5 131.3)" fill="#161c80"/><ellipse cx="294.0" cy="47.4" rx="2.4" ry="3.3" transform="rotate(88 294.3 47.9)" fill="#22209a"/><ellipse cx="402.3" cy="215.6" rx="2.5" ry="2.5" transform="rotate(10 402.0 215.7)" fill="#22209a"/><ellipse cx="434.2" cy="71.3" rx="2.5" ry="3.8" transform="rotate(47 435.2 70.7)" fill="#1a2290"/><ellipse cx="349.4" cy="180.0" rx="4.2" ry="5.9" transform="rotate(125 349.4 180.0)" fill="#10145c"/><ellipse cx="443.0" cy="130.5" rx="3.2" ry="3.4" transform="rotate(172 443.1 131.0)" fill="#2a36b0"/><ellipse cx="306.0" cy="79.9" rx="5.0" ry="3.9" transform="rotate(1 306.0 79.9)" fill="#0c1048"/><ellipse cx="438.1" cy="89.5" rx="2.6" ry="3.2" transform="rotate(126 437.2 88.7)" fill="#161c80"/><ellipse cx="345.9" cy="250.7" rx="2.3" ry="3.0" transform="rotate(104 345.7 251.1)" fill="#22209a"/><ellipse cx="304.0" cy="222.2" rx="5.1" ry="4.5" transform="rotate(142 304.0 222.2)" fill="#121866"/><ellipse cx="434.0" cy="78.9" rx="3.3" ry="3.5" transform="rotate(109 433.2 79.6)" fill="#2a36b0"/><ellipse cx="293.1" cy="95.3" rx="5.2" ry="4.6" transform="rotate(103 293.1 95.3)" fill="#0e1254"/><ellipse cx="378.4" cy="118.6" rx="2.5" ry="3.7" transform="rotate(149 378.4 118.5)" fill="#22209a"/><ellipse cx="448.7" cy="119.1" rx="4.2" ry="4.8" transform="rotate(41 448.7 119.1)" fill="#10145c"/><ellipse cx="466.5" cy="233.5" rx="4.4" ry="3.9" transform="rotate(102 466.5 233.5)" fill="#0c1048"/><ellipse cx="499.8" cy="203.4" rx="2.9" ry="3.1" transform="rotate(140 499.6 204.2)" fill="#161c80"/><ellipse cx="416.6" cy="134.1" rx="4.8" ry="4.0" transform="rotate(131 416.6 134.1)" fill="#0c1048"/><ellipse cx="338.2" cy="187.2" rx="5.2" ry="4.6" transform="rotate(163 338.2 187.2)" fill="#0e1254"/><ellipse cx="342.7" cy="236.0" rx="3.1" ry="2.5" transform="rotate(20 342.7 235.2)" fill="#161c80"/><ellipse cx="387.8" cy="114.9" rx="3.2" ry="2.7" transform="rotate(38 388.0 114.6)" fill="#161c80"/><ellipse cx="292.0" cy="127.5" rx="3.5" ry="4.1" transform="rotate(99 292.0 127.5)" fill="#0c1048"/><ellipse cx="445.1" cy="153.3" rx="4.2" ry="5.6" transform="rotate(8 445.1 153.3)" fill="#121866"/><ellipse cx="301.6" cy="176.2" rx="2.4" ry="3.0" transform="rotate(68 300.8 175.8)" fill="#2a36b0"/><ellipse cx="339.7" cy="157.2" rx="2.6" ry="3.9" transform="rotate(120 339.1 156.4)" fill="#2028a0"/><ellipse cx="342.1" cy="103.1" rx="2.3" ry="3.5" transform="rotate(127 341.3 102.3)" fill="#22209a"/><ellipse cx="470.3" cy="188.3" rx="4.7" ry="4.6" transform="rotate(112 470.3 188.3)" fill="#10145c"/><ellipse cx="312.7" cy="217.8" rx="4.3" ry="5.9" transform="rotate(62 312.7 217.8)" fill="#0c1048"/><ellipse cx="418.6" cy="229.6" rx="4.2" ry="5.8" transform="rotate(164 418.6 229.6)" fill="#10145c"/><ellipse cx="433.8" cy="209.9" rx="4.5" ry="5.3" transform="rotate(155 433.8 209.9)" fill="#10145c"/><ellipse cx="368.8" cy="216.2" rx="2.8" ry="3.1" transform="rotate(80 369.0 216.2)" fill="#2028a0"/><ellipse cx="449.2" cy="172.4" rx="2.4" ry="3.5" transform="rotate(83 448.9 171.6)" fill="#2a36b0"/><ellipse cx="307.9" cy="55.5" rx="3.3" ry="3.8" transform="rotate(8 308.1 56.5)" fill="#161c80"/><ellipse cx="420.6" cy="97.6" rx="2.7" ry="3.5" transform="rotate(63 419.7 97.8)" fill="#2a36b0"/><ellipse cx="325.4" cy="32.7" rx="2.7" ry="2.9" transform="rotate(147 325.3 32.6)" fill="#161c80"/><ellipse cx="302.3" cy="115.9" rx="3.7" ry="3.8" transform="rotate(88 302.3 115.9)" fill="#0e1254"/><ellipse cx="373.9" cy="76.6" rx="2.9" ry="3.0" transform="rotate(48 374.5 76.7)" fill="#22209a"/><ellipse cx="383.5" cy="174.5" rx="4.7" ry="3.8" transform="rotate(119 383.5 174.5)" fill="#121866"/><ellipse cx="430.0" cy="144.0" rx="2.6" ry="3.5" transform="rotate(93 430.7 144.7)" fill="#1a2290"/><ellipse cx="347.3" cy="171.8" rx="2.5" ry="2.6" transform="rotate(171 347.6 171.8)" fill="#2028a0"/><ellipse cx="281.5" cy="243.4" rx="4.6" ry="5.0" transform="rotate(136 281.5 243.4)" fill="#10145c"/><ellipse cx="444.0" cy="98.4" rx="2.5" ry="3.7" transform="rotate(23 443.6 98.5)" fill="#1a2290"/><ellipse cx="475.4" cy="203.9" rx="4.4" ry="4.9" transform="rotate(106 475.4 203.9)" fill="#161c74"/><ellipse cx="500.8" cy="190.5" rx="3.5" ry="5.0" transform="rotate(154 500.8 190.5)" fill="#121866"/><ellipse cx="456.0" cy="86.6" rx="4.7" ry="4.4" transform="rotate(157 456.0 86.6)" fill="#0c1048"/><ellipse cx="446.6" cy="195.9" rx="2.7" ry="3.8" transform="rotate(60 446.6 196.2)" fill="#1a2290"/><ellipse cx="332.8" cy="162.4" rx="4.6" ry="5.4" transform="rotate(58 332.8 162.4)" fill="#0e1254"/><ellipse cx="296.6" cy="157.4" rx="3.8" ry="5.6" transform="rotate(136 296.6 157.4)" fill="#0e1254"/><ellipse cx="401.0" cy="121.2" rx="3.9" ry="5.4" transform="rotate(178 401.0 121.2)" fill="#161c74"/><ellipse cx="278.3" cy="122.8" rx="3.8" ry="4.9" transform="rotate(132 278.3 122.8)" fill="#10145c"/><ellipse cx="362.3" cy="101.2" rx="2.4" ry="3.3" transform="rotate(127 361.7 101.1)" fill="#161c80"/><ellipse cx="401.2" cy="78.7" rx="3.8" ry="4.1" transform="rotate(110 401.2 78.7)" fill="#0e1254"/><ellipse cx="456.8" cy="244.3" rx="3.8" ry="5.2" transform="rotate(36 456.8 244.3)" fill="#5a2890" opacity="0.8"/><ellipse cx="402.3" cy="172.2" rx="2.5" ry="3.6" transform="rotate(88 402.8 171.8)" fill="#2028a0"/><ellipse cx="399.0" cy="262.8" rx="4.7" ry="5.3" transform="rotate(45 399.0 262.8)" fill="#5a2890" opacity="0.8"/><ellipse cx="397.6" cy="231.5" rx="2.8" ry="3.5" transform="rotate(119 396.6 231.8)" fill="#2a36b0"/><ellipse cx="278.5" cy="166.8" rx="4.7" ry="5.8" transform="rotate(52 278.5 166.8)" fill="#161c74"/><ellipse cx="449.0" cy="208.0" rx="4.9" ry="4.1" transform="rotate(95 449.0 208.0)" fill="#0e1254"/><ellipse cx="393.4" cy="239.4" rx="3.5" ry="5.3" transform="rotate(132 393.4 239.4)" fill="#10145c"/><ellipse cx="491.9" cy="250.4" rx="4.1" ry="4.6" transform="rotate(123 491.9 250.4)" fill="#10145c"/><ellipse cx="454.6" cy="76.5" rx="2.6" ry="3.9" transform="rotate(10 453.8 75.7)" fill="#2a36b0"/><ellipse cx="364.6" cy="132.8" rx="3.0" ry="3.0" transform="rotate(162 364.9 133.8)" fill="#1a2290"/><ellipse cx="312.4" cy="98.1" rx="3.1" ry="3.1" transform="rotate(154 312.2 97.7)" fill="#161c80"/><ellipse cx="350.6" cy="149.5" rx="3.1" ry="3.9" transform="rotate(122 349.7 149.4)" fill="#161c80"/><ellipse cx="446.9" cy="83.2" rx="4.4" ry="4.5" transform="rotate(138 446.9 83.2)" fill="#161c74"/><ellipse cx="336.5" cy="114.8" rx="3.7" ry="4.8" transform="rotate(7 336.5 114.8)" fill="#10145c"/><ellipse cx="413.0" cy="41.3" rx="2.7" ry="3.8" transform="rotate(4 413.2 41.4)" fill="#1a2290"/><ellipse cx="315.4" cy="205.2" rx="5.1" ry="5.6" transform="rotate(166 315.4 205.2)" fill="#10145c"/><ellipse cx="454.5" cy="179.1" rx="5.1" ry="4.6" transform="rotate(162 454.5 179.1)" fill="#161c74"/><ellipse cx="310.6" cy="140.9" rx="2.7" ry="2.9" transform="rotate(71 310.4 140.0)" fill="#2a36b0"/><ellipse cx="458.1" cy="202.8" rx="5.1" ry="4.1" transform="rotate(120 458.1 202.8)" fill="#121866"/><ellipse cx="307.0" cy="124.3" rx="4.8" ry="5.4" transform="rotate(161 307.0 124.3)" fill="#121866"/><ellipse cx="366.4" cy="179.7" rx="2.9" ry="2.9" transform="rotate(141 366.4 178.9)" fill="#161c80"/><ellipse cx="308.2" cy="259.2" rx="3.6" ry="3.8" transform="rotate(60 308.2 259.2)" fill="#10145c"/><ellipse cx="329.3" cy="128.9" rx="3.3" ry="3.6" transform="rotate(177 330.2 128.3)" fill="#161c80"/><ellipse cx="454.3" cy="157.1" rx="3.4" ry="3.7" transform="rotate(68 454.0 157.1)" fill="#2028a0"/><ellipse cx="394.3" cy="169.4" rx="3.8" ry="4.2" transform="rotate(44 394.3 169.4)" fill="#0c1048"/><ellipse cx="332.4" cy="248.5" rx="4.9" ry="5.9" transform="rotate(110 332.4 248.5)" fill="#121866"/><ellipse cx="408.0" cy="73.2" rx="3.2" ry="3.2" transform="rotate(93 407.4 72.4)" fill="#1a2290"/><ellipse cx="417.4" cy="221.8" rx="5.1" ry="4.0" transform="rotate(175 417.4 221.8)" fill="#5a2890" opacity="0.8"/><ellipse cx="432.4" cy="169.5" rx="2.3" ry="3.9" transform="rotate(101 432.7 169.7)" fill="#161c80"/><ellipse cx="286.2" cy="64.2" rx="2.7" ry="3.2" transform="rotate(104 286.0 63.2)" fill="#2028a0"/><ellipse cx="458.0" cy="170.6" rx="4.2" ry="4.4" transform="rotate(91 458.0 170.6)" fill="#0e1254"/><ellipse cx="414.7" cy="204.6" rx="2.5" ry="4.0" transform="rotate(89 414.8 204.4)" fill="#2028a0"/><ellipse cx="436.7" cy="261.9" rx="4.3" ry="3.8" transform="rotate(107 436.7 261.9)" fill="#0c1048"/><ellipse cx="293.8" cy="108.7" rx="4.8" ry="5.2" transform="rotate(130 293.8 108.7)" fill="#161c74"/><ellipse cx="383.0" cy="145.6" rx="2.4" ry="2.6" transform="rotate(90 382.0 146.4)" fill="#2028a0"/><ellipse cx="416.0" cy="246.2" rx="4.6" ry="4.2" transform="rotate(172 416.0 246.2)" fill="#10145c"/><ellipse cx="308.3" cy="231.6" rx="4.8" ry="4.5" transform="rotate(164 308.3 231.6)" fill="#0e1254"/><ellipse cx="479.8" cy="179.4" rx="3.9" ry="5.9" transform="rotate(3 479.8 179.4)" fill="#121866"/><ellipse cx="377.8" cy="52.3" rx="2.4" ry="2.5" transform="rotate(109 376.8 52.8)" fill="#161c80"/><ellipse cx="349.9" cy="135.5" rx="3.6" ry="5.5" transform="rotate(110 349.9 135.5)" fill="#161c74"/><ellipse cx="475.3" cy="153.8" rx="4.6" ry="3.8" transform="rotate(146 475.3 153.8)" fill="#121866"/><ellipse cx="389.2" cy="261.4" rx="3.1" ry="3.9" transform="rotate(110 389.5 262.1)" fill="#161c80"/><ellipse cx="319.1" cy="260.7" rx="2.7" ry="3.5" transform="rotate(140 319.5 261.4)" fill="#1a2290"/><ellipse cx="353.0" cy="192.6" rx="3.7" ry="5.4" transform="rotate(82 353.0 192.6)" fill="#0c1048"/><ellipse cx="346.2" cy="45.3" rx="3.1" ry="3.6" transform="rotate(55 345.6 45.4)" fill="#1a2290"/><ellipse cx="444.2" cy="107.8" rx="2.3" ry="2.8" transform="rotate(92 443.9 108.7)" fill="#2a36b0"/><ellipse cx="383.6" cy="59.6" rx="3.1" ry="3.2" transform="rotate(53 384.5 60.0)" fill="#22209a"/><ellipse cx="440.2" cy="168.0" rx="3.0" ry="2.6" transform="rotate(55 441.2 167.2)" fill="#2a36b0"/><ellipse cx="469.6" cy="128.3" rx="4.7" ry="6.0" transform="rotate(79 469.6 128.3)" fill="#a03050" opacity="0.8"/><ellipse cx="356.4" cy="144.3" rx="3.3" ry="3.8" transform="rotate(49 356.4 144.9)" fill="#2028a0"/><ellipse cx="482.3" cy="171.4" rx="4.0" ry="5.7" transform="rotate(34 482.3 171.4)" fill="#0e1254"/><ellipse cx="313.1" cy="243.0" rx="3.1" ry="3.8" transform="rotate(82 312.3 242.2)" fill="#22209a"/><ellipse cx="303.4" cy="246.2" rx="5.2" ry="5.0" transform="rotate(161 303.4 246.2)" fill="#0c1048"/><ellipse cx="409.8" cy="254.4" rx="2.5" ry="2.8" transform="rotate(39 409.2 254.8)" fill="#22209a"/><ellipse cx="436.6" cy="36.3" rx="2.5" ry="2.6" transform="rotate(131 436.5 36.0)" fill="#2028a0"/><ellipse cx="286.1" cy="224.2" rx="3.9" ry="4.1" transform="rotate(24 286.1 224.2)" fill="#121866"/><ellipse cx="473.9" cy="227.7" rx="2.7" ry="2.6" transform="rotate(154 473.4 228.2)" fill="#161c80"/><ellipse cx="359.0" cy="182.6" rx="5.0" ry="5.7" transform="rotate(151 359.0 182.6)" fill="#10145c"/><ellipse cx="353.4" cy="206.5" rx="3.7" ry="4.5" transform="rotate(99 353.4 206.5)" fill="#0c1048"/><ellipse cx="366.5" cy="82.6" rx="3.0" ry="3.6" transform="rotate(60 366.7 83.0)" fill="#2a36b0"/><ellipse cx="453.9" cy="110.2" rx="3.0" ry="2.7" transform="rotate(9 454.4 109.6)" fill="#22209a"/><ellipse cx="336.1" cy="66.3" rx="3.6" ry="6.0" transform="rotate(140 336.1 66.3)" fill="#161c74"/><ellipse cx="279.6" cy="144.0" rx="4.9" ry="5.3" transform="rotate(15 279.6 144.0)" fill="#121866"/><ellipse cx="317.3" cy="147.2" rx="3.8" ry="4.7" transform="rotate(103 317.3 147.2)" fill="#0c1048"/><ellipse cx="419.8" cy="55.7" rx="2.6" ry="3.3" transform="rotate(125 419.4 55.0)" fill="#2a36b0"/><ellipse cx="295.5" cy="136.5" rx="2.5" ry="2.7" transform="rotate(63 295.8 136.3)" fill="#161c80"/><ellipse cx="490.4" cy="228.3" rx="4.8" ry="5.0" transform="rotate(128 490.4 228.3)" fill="#0e1254"/><ellipse cx="285.1" cy="262.4" rx="3.5" ry="5.6" transform="rotate(1 285.1 262.4)" fill="#161c74"/><ellipse cx="458.1" cy="46.2" rx="2.9" ry="2.6" transform="rotate(55 458.4 46.9)" fill="#161c80"/><ellipse cx="437.9" cy="120.5" rx="2.3" ry="3.3" transform="rotate(118 437.7 119.7)" fill="#161c80"/><ellipse cx="322.4" cy="134.1" rx="3.8" ry="6.0" transform="rotate(15 322.4 134.1)" fill="#10145c"/><ellipse cx="413.4" cy="237.6" rx="3.1" ry="2.6" transform="rotate(133 414.2 237.2)" fill="#22209a"/><ellipse cx="439.5" cy="203.0" rx="3.7" ry="4.8" transform="rotate(106 439.5 203.0)" fill="#121866"/><ellipse cx="287.5" cy="189.5" rx="4.8" ry="3.8" transform="rotate(18 287.5 189.5)" fill="#0c1048"/><ellipse cx="426.9" cy="258.7" rx="2.6" ry="3.8" transform="rotate(131 427.5 258.6)" fill="#1a2290"/><ellipse cx="299.4" cy="38.5" rx="4.9" ry="4.6" transform="rotate(141 299.4 38.5)" fill="#121866"/><ellipse cx="388.2" cy="233.5" rx="3.1" ry="3.6" transform="rotate(123 387.3 234.1)" fill="#2a36b0"/><ellipse cx="353.4" cy="161.8" rx="5.2" ry="4.0" transform="rotate(4 353.4 161.8)" fill="#0e1254"/><ellipse cx="303.6" cy="88.2" rx="4.0" ry="5.0" transform="rotate(26 303.6 88.2)" fill="#161c74"/><ellipse cx="413.9" cy="90.9" rx="2.8" ry="3.5" transform="rotate(71 413.0 90.4)" fill="#1a2290"/><ellipse cx="392.0" cy="140.1" rx="4.4" ry="5.3" transform="rotate(107 392.0 140.1)" fill="#a03050" opacity="0.8"/><ellipse cx="448.2" cy="259.0" rx="4.5" ry="5.5" transform="rotate(76 448.2 259.0)" fill="#0c1048"/><ellipse cx="325.7" cy="81.7" rx="2.8" ry="2.8" transform="rotate(59 325.5 80.7)" fill="#161c80"/><ellipse cx="336.0" cy="199.6" rx="5.2" ry="5.6" transform="rotate(175 336.0 199.6)" fill="#6a2a8a" opacity="0.8"/><ellipse cx="360.9" cy="123.8" rx="3.2" ry="3.5" transform="rotate(86 361.6 123.3)" fill="#22209a"/><ellipse cx="290.5" cy="35.4" rx="3.1" ry="3.8" transform="rotate(173 291.0 35.7)" fill="#22209a"/><ellipse cx="365.6" cy="113.6" rx="4.2" ry="4.7" transform="rotate(137 365.6 113.6)" fill="#0e1254"/><ellipse cx="364.7" cy="223.4" rx="3.9" ry="4.1" transform="rotate(48 364.7 223.4)" fill="#121866"/><ellipse cx="297.8" cy="60.8" rx="4.9" ry="3.8" transform="rotate(43 297.8 60.8)" fill="#0c1048"/><ellipse cx="412.9" cy="79.9" rx="3.2" ry="2.6" transform="rotate(107 412.3 80.7)" fill="#22209a"/><ellipse cx="423.0" cy="76.7" rx="2.5" ry="3.6" transform="rotate(143 422.2 76.4)" fill="#161c80"/><ellipse cx="293.3" cy="234.4" rx="4.3" ry="4.8" transform="rotate(163 293.3 234.4)" fill="#10145c"/><ellipse cx="346.2" cy="110.6" rx="2.5" ry="2.5" transform="rotate(108 346.8 111.2)" fill="#22209a"/><ellipse cx="352.6" cy="238.0" rx="4.6" ry="5.4" transform="rotate(85 352.6 238.0)" fill="#a03050" opacity="0.8"/><ellipse cx="410.6" cy="212.9" rx="2.6" ry="3.8" transform="rotate(33 409.9 212.7)" fill="#2028a0"/><ellipse cx="304.5" cy="208.4" rx="3.6" ry="5.5" transform="rotate(61 304.5 208.4)" fill="#0e1254"/><ellipse cx="287.5" cy="113.7" rx="4.3" ry="5.6" transform="rotate(78 287.5 113.7)" fill="#0c1048"/><ellipse cx="354.1" cy="217.8" rx="2.5" ry="2.9" transform="rotate(38 353.4 217.4)" fill="#22209a"/><ellipse cx="384.3" cy="138.2" rx="3.0" ry="4.0" transform="rotate(32 383.7 137.5)" fill="#22209a"/><ellipse cx="379.0" cy="181.6" rx="2.3" ry="3.2" transform="rotate(94 379.8 181.8)" fill="#1a2290"/><ellipse cx="446.1" cy="33.2" rx="5.0" ry="5.5" transform="rotate(47 446.1 33.2)" fill="#5a2890" opacity="0.8"/><ellipse cx="322.1" cy="49.6" rx="4.0" ry="4.4" transform="rotate(106 322.1 49.6)" fill="#121866"/><ellipse cx="332.8" cy="212.9" rx="3.3" ry="3.0" transform="rotate(63 333.0 212.4)" fill="#2a36b0"/><ellipse cx="345.1" cy="121.0" rx="4.5" ry="4.9" transform="rotate(142 345.1 121.0)" fill="#121866"/><ellipse cx="461.4" cy="187.3" rx="5.0" ry="5.9" transform="rotate(60 461.4 187.3)" fill="#161c74"/><ellipse cx="448.4" cy="53.8" rx="3.3" ry="3.9" transform="rotate(105 448.7 52.9)" fill="#22209a"/><ellipse cx="429.3" cy="105.2" rx="3.1" ry="4.0" transform="rotate(85 428.7 105.2)" fill="#2a36b0"/><ellipse cx="323.9" cy="90.9" rx="4.0" ry="5.6" transform="rotate(138 323.9 90.9)" fill="#0e1254"/><ellipse cx="379.3" cy="212.6" rx="4.7" ry="5.6" transform="rotate(74 379.3 212.6)" fill="#10145c"/><ellipse cx="462.5" cy="140.5" rx="4.8" ry="4.2" transform="rotate(104 462.5 140.5)" fill="#0c1048"/><ellipse cx="395.2" cy="254.5" rx="2.4" ry="2.6" transform="rotate(89 395.9 255.3)" fill="#22209a"/><ellipse cx="376.2" cy="132.0" rx="2.5" ry="2.6" transform="rotate(34 376.1 132.0)" fill="#161c80"/><ellipse cx="406.2" cy="95.8" rx="4.3" ry="4.1" transform="rotate(51 406.2 95.8)" fill="#5a2890" opacity="0.8"/><ellipse cx="488.9" cy="212.0" rx="4.1" ry="5.8" transform="rotate(41 488.9 212.0)" fill="#161c74"/><ellipse cx="370.5" cy="126.2" rx="3.9" ry="6.0" transform="rotate(69 370.5 126.2)" fill="#121866"/><ellipse cx="351.3" cy="102.3" rx="3.8" ry="5.5" transform="rotate(14 351.3 102.3)" fill="#0e1254"/><ellipse cx="422.4" cy="141.1" rx="2.3" ry="3.3" transform="rotate(8 421.4 141.0)" fill="#1a2290"/><ellipse cx="475.1" cy="164.5" rx="4.4" ry="4.1" transform="rotate(47 475.1 164.5)" fill="#10145c"/><ellipse cx="467.5" cy="58.5" rx="2.5" ry="3.9" transform="rotate(100 466.5 58.4)" fill="#161c80"/><ellipse cx="338.4" cy="227.2" rx="2.8" ry="3.8" transform="rotate(64 339.1 226.5)" fill="#2a36b0"/><ellipse cx="406.2" cy="63.1" rx="4.0" ry="5.5" transform="rotate(53 406.2 63.1)" fill="#121866"/><ellipse cx="333.5" cy="179.9" rx="4.2" ry="5.9" transform="rotate(68 333.5 179.9)" fill="#121866"/><ellipse cx="359.7" cy="91.8" rx="3.2" ry="3.9" transform="rotate(108 360.5 92.3)" fill="#1a2290"/></g>
<g filter="url(#bl3)"><path d="M468.1 33.5 L470.4 34.4 L472.0 36.4 L472.5 38.9 L471.8 41.2 L470.0 42.5 L467.6 42.4" fill="none" stroke="#b0e870" stroke-width="1.6" stroke-linecap="round"/><ellipse cx="348.6" cy="68.5" rx="2.8" ry="4.0" transform="rotate(172 348.6 68.5)" fill="#b0e870" opacity="0.75"/><ellipse cx="453.8" cy="45.1" rx="2.8" ry="4.6" transform="rotate(136 453.8 45.1)" fill="#b0e870" opacity="0.75"/><path d="M448.9 60.3 L447.7 60.0 L446.6 59.4 L445.8 58.3 L445.4 57.0 L445.4 55.7 L445.8 54.4" fill="none" stroke="#f8ec58" stroke-width="2.4" stroke-linecap="round"/><path d="M388.5 144.6 L390.2 143.9 L391.8 144.1 L393.1 145.1 L393.8 146.8 L393.7 148.7 L392.8 150.5" fill="none" stroke="#ecd848" stroke-width="2.4" stroke-linecap="round"/><path d="M420.7 44.6 L419.7 41.7 L420.4 38.7 L422.5 36.8 L425.1 36.8 L427.4 38.5 L428.5 41.4" fill="none" stroke="#ffffff" stroke-width="2.0" stroke-linecap="round"/><path d="M368.5 210.8 L369.9 209.8 L371.7 209.2 L373.6 209.2 L375.4 209.8 L376.8 210.8 L377.7 212.1" fill="none" stroke="#e44c88" stroke-width="1.6" stroke-linecap="round"/><path d="M423.4 114.7 L421.2 114.3 L419.7 112.7 L419.5 110.6 L420.7 108.8 L422.9 108.0 L425.0 108.6" fill="none" stroke="#f8f080" stroke-width="2.4" stroke-linecap="round"/><path d="M346.7 129.3 L347.2 132.4 L345.3 134.8 L342.0 135.2 L339.0 133.4 L337.9 130.4 L339.3 127.7" fill="none" stroke="#e0f8c0" stroke-width="2.4" stroke-linecap="round"/><path d="M418.1 252.4 L418.8 253.7 L418.9 255.2 L418.5 256.6 L417.6 257.7 L416.3 258.4 L414.8 258.6" fill="none" stroke="#b0e870" stroke-width="2.0" stroke-linecap="round"/><path d="M345.1 212.1 L344.1 213.5 L342.5 214.6 L340.6 215.2 L338.8 215.3 L337.3 214.8 L336.5 213.7" fill="none" stroke="#f8ec58" stroke-width="1.6" stroke-linecap="round"/><path d="M334.2 84.2 L333.3 81.2 L334.1 78.8 L336.2 77.9 L338.8 79.0 L340.7 81.5 L341.1 84.4" fill="none" stroke="#e0f8c0" stroke-width="2.0" stroke-linecap="round"/><path d="M339.9 140.3 L342.2 139.3 L344.5 139.7 L346.0 141.2 L345.9 143.3 L344.5 145.1 L342.1 145.9" fill="none" stroke="#f8f080" stroke-width="2.0" stroke-linecap="round"/><path d="M410.9 182.1 L411.8 179.6 L414.5 178.7 L417.6 179.9 L419.5 182.5 L419.2 185.1 L416.8 186.4" fill="none" stroke="#b0e870" stroke-width="1.6" stroke-linecap="round"/><path d="M304.0 138.4 L305.0 140.6 L304.0 143.4 L301.4 145.3 L298.6 145.2 L297.1 143.3 L297.6 140.5" fill="none" stroke="#ffffff" stroke-width="2.4" stroke-linecap="round"/><path d="M453.9 97.4 L454.2 99.6 L453.3 101.6 L451.6 102.7 L449.4 102.8 L447.4 101.7 L446.1 99.8" fill="none" stroke="#f8f080" stroke-width="2.4" stroke-linecap="round"/><path d="M352.5 45.0 L350.8 43.6 L349.9 41.5 L350.0 39.3 L351.0 37.3 L352.7 36.1 L354.8 35.9" fill="none" stroke="#ff4a3a" stroke-width="2.4" stroke-linecap="round"/><ellipse cx="381.5" cy="221.6" rx="2.9" ry="3.4" transform="rotate(96 381.5 221.6)" fill="#f8f080" opacity="0.75"/><path d="M336.2 226.0 L334.5 226.3 L332.6 226.0 L331.0 225.2 L329.7 224.1 L329.1 222.7 L329.3 221.5" fill="none" stroke="#ff8030" stroke-width="1.6" stroke-linecap="round"/><path d="M445.4 128.6 L443.7 131.2 L440.7 132.4 L437.8 131.7 L436.2 129.3 L436.5 126.4 L438.6 124.0" fill="none" stroke="#e44c88" stroke-width="2.4" stroke-linecap="round"/><path d="M330.8 233.9 L331.9 235.2 L332.4 236.8 L332.3 238.5 L331.6 240.0 L330.4 241.2 L328.8 241.8" fill="none" stroke="#ffffff" stroke-width="1.6" stroke-linecap="round"/><ellipse cx="365.6" cy="240.7" rx="3.5" ry="4.4" transform="rotate(18 365.6 240.7)" fill="#ffffff" opacity="0.75"/><path d="M454.6 78.7 L453.2 78.3 L452.1 77.4 L451.6 76.1 L451.6 74.8 L452.3 73.6 L453.4 72.6" fill="none" stroke="#ecd848" stroke-width="1.6" stroke-linecap="round"/><path d="M326.2 151.2 L323.7 151.2 L321.5 149.8 L320.3 147.4 L320.5 145.0 L322.1 143.2 L324.4 142.7" fill="none" stroke="#ff8030" stroke-width="2.0" stroke-linecap="round"/><ellipse cx="381.5" cy="77.6" rx="3.2" ry="3.8" transform="rotate(55 381.5 77.6)" fill="#e0f8c0" opacity="0.75"/><ellipse cx="461.7" cy="58.7" rx="4.1" ry="3.3" transform="rotate(77 461.7 58.7)" fill="#f8f080" opacity="0.75"/><path d="M426.6 192.0 L423.0 190.5 L422.0 187.1 L423.9 183.5 L427.9 181.7 L431.8 182.5 L433.6 185.6" fill="none" stroke="#a050e0" stroke-width="1.2" stroke-linecap="round"/><ellipse cx="430.3" cy="126.1" rx="3.0" ry="3.8" transform="rotate(11 430.3 126.1)" fill="#f8f080" opacity="0.75"/><path d="M413.7 155.8 L412.7 157.4 L411.1 158.4 L409.4 158.5 L407.9 157.8 L406.9 156.3 L406.7 154.5" fill="none" stroke="#e44c88" stroke-width="2.0" stroke-linecap="round"/><path d="M458.5 106.7 L458.2 108.6 L457.2 110.2 L455.8 111.1 L454.2 111.1 L452.9 110.2 L452.0 108.7" fill="none" stroke="#e0f8c0" stroke-width="2.4" stroke-linecap="round"/><ellipse cx="364.7" cy="227.1" rx="2.8" ry="3.1" transform="rotate(77 364.7 227.1)" fill="#ff8030" opacity="0.75"/><path d="M400.4 137.3 L398.7 136.7 L397.5 135.4 L397.0 133.5 L397.4 131.6 L398.5 130.1 L400.2 129.4" fill="none" stroke="#f8f080" stroke-width="2.0" stroke-linecap="round"/><path d="M456.0 129.8 L457.1 127.9 L459.1 126.8 L461.5 127.0 L463.5 128.2 L464.7 130.2 L464.6 132.5" fill="none" stroke="#ff4a3a" stroke-width="2.4" stroke-linecap="round"/><ellipse cx="333.1" cy="54.0" rx="2.9" ry="4.0" transform="rotate(97 333.1 54.0)" fill="#e0f8c0" opacity="0.75"/><path d="M390.2 78.4 L388.2 77.0 L387.2 74.7 L387.5 72.3 L389.2 70.8 L391.4 70.8 L393.3 72.3" fill="none" stroke="#e44c88" stroke-width="2.0" stroke-linecap="round"/><path d="M431.3 81.5 L429.6 82.5 L427.5 82.3 L425.9 81.0 L425.2 79.0 L425.7 76.9 L427.2 75.6" fill="none" stroke="#f4f4d0" stroke-width="2.0" stroke-linecap="round"/><path d="M307.2 247.7 L304.6 248.1 L302.9 246.2 L302.8 242.9 L304.5 239.9 L307.0 238.8 L309.2 240.0" fill="none" stroke="#e44c88" stroke-width="1.6" stroke-linecap="round"/><ellipse cx="400.8" cy="236.0" rx="3.2" ry="4.7" transform="rotate(39 400.8 236.0)" fill="#f4f4d0" opacity="0.75"/><path d="M414.8 197.6 L413.1 197.4 L411.6 196.4 L410.5 194.8 L410.1 192.9 L410.4 191.1 L411.4 189.7" fill="none" stroke="#ffffff" stroke-width="2.4" stroke-linecap="round"/><path d="M441.3 95.7 L443.7 97.4 L444.7 100.1 L444.0 102.5 L441.8 103.3 L439.2 102.1 L437.7 99.6" fill="none" stroke="#f4f4d0" stroke-width="1.6" stroke-linecap="round"/><ellipse cx="408.5" cy="51.4" rx="3.6" ry="4.5" transform="rotate(16 408.5 51.4)" fill="#ffffff" opacity="0.75"/><path d="M385.1 119.0 L383.3 120.0 L381.1 120.0 L379.4 118.9 L378.7 117.1 L379.2 115.2 L380.8 113.9" fill="none" stroke="#ffffff" stroke-width="2.4" stroke-linecap="round"/><path d="M485.7 200.1 L482.6 200.2 L480.4 198.2 L480.5 195.0 L482.6 192.6 L485.8 192.2 L488.1 194.1" fill="none" stroke="#e8e8ff" stroke-width="1.2" stroke-linecap="round"/><ellipse cx="434.7" cy="73.3" rx="3.9" ry="4.3" transform="rotate(161 434.7 73.3)" fill="#ecd848" opacity="0.75"/><path d="M419.3 121.8 L419.1 125.0 L417.4 127.8 L414.8 129.3 L411.9 129.3 L409.5 127.8 L408.1 125.0" fill="none" stroke="#c0d0ff" stroke-width="1.2" stroke-linecap="round"/><ellipse cx="447.4" cy="34.6" rx="3.4" ry="4.0" transform="rotate(93 447.4 34.6)" fill="#ecd848" opacity="0.75"/><path d="M440.5 255.8 L441.7 257.3 L442.1 259.1 L441.8 261.1 L440.9 262.7 L439.4 263.7 L437.6 263.9" fill="none" stroke="#f4f4d0" stroke-width="2.0" stroke-linecap="round"/><path d="M366.7 70.3 L367.6 68.7 L369.0 67.4 L370.6 66.8 L372.2 66.8 L373.5 67.5 L374.2 68.8" fill="none" stroke="#e44c88" stroke-width="2.4" stroke-linecap="round"/><ellipse cx="379.7" cy="96.2" rx="3.9" ry="3.5" transform="rotate(73 379.7 96.2)" fill="#ff4a3a" opacity="0.75"/><path d="M439.8 49.2 L442.1 50.1 L443.7 51.9 L444.1 54.1 L443.3 56.2 L441.5 57.6 L439.2 58.0" fill="none" stroke="#ffffff" stroke-width="1.6" stroke-linecap="round"/><path d="M459.3 163.5 L459.1 166.8 L457.2 169.1 L454.6 169.6 L452.1 168.0 L451.0 165.0 L451.6 161.8" fill="none" stroke="#ff8030" stroke-width="2.0" stroke-linecap="round"/><path d="M400.0 174.4 L397.8 174.1 L396.3 172.9 L395.8 171.3 L396.3 169.5 L397.9 167.9 L400.0 166.9" fill="none" stroke="#ffffff" stroke-width="1.6" stroke-linecap="round"/><path d="M424.7 105.9 L423.1 105.4 L421.8 104.3 L421.1 102.9 L420.9 101.3 L421.5 99.7 L422.5 98.5" fill="none" stroke="#f8f080" stroke-width="2.4" stroke-linecap="round"/><path d="M454.5 124.3 L452.7 124.9 L450.8 124.9 L449.0 124.3 L447.6 123.1 L446.9 121.7 L446.8 120.1" fill="none" stroke="#e44c88" stroke-width="2.0" stroke-linecap="round"/><path d="M420.0 212.9 L418.7 210.9 L419.3 208.3 L421.6 206.3 L424.7 205.7 L427.2 206.7 L428.1 208.9" fill="none" stroke="#ffffff" stroke-width="2.0" stroke-linecap="round"/><path d="M367.1 136.3 L365.5 136.0 L364.3 134.9 L363.6 133.5 L363.6 131.9 L364.3 130.5 L365.6 129.5" fill="none" stroke="#b0e870" stroke-width="2.4" stroke-linecap="round"/><ellipse cx="327.1" cy="34.1" rx="2.9" ry="3.3" transform="rotate(92 327.1 34.1)" fill="#f8f080" opacity="0.75"/><path d="M370.3 82.2 L369.5 84.3 L367.7 85.4 L365.5 85.2 L364.0 83.7 L363.7 81.6 L364.7 79.6" fill="none" stroke="#ecd848" stroke-width="1.6" stroke-linecap="round"/><path d="M403.7 113.1 L403.8 115.5 L402.0 117.8 L399.1 119.0 L396.2 118.8 L394.4 117.2 L394.3 114.8" fill="none" stroke="#ff8030" stroke-width="2.4" stroke-linecap="round"/><ellipse cx="450.9" cy="156.8" rx="3.7" ry="3.7" transform="rotate(96 450.9 156.8)" fill="#f8ec58" opacity="0.75"/><path d="M398.6 34.8 L400.5 35.5 L401.6 37.4 L401.4 39.8 L400.1 41.7 L398.0 42.5 L396.1 41.8" fill="none" stroke="#e0f8c0" stroke-width="2.0" stroke-linecap="round"/><path d="M432.0 202.8 L433.8 201.7 L435.8 201.3 L437.7 201.6 L439.1 202.7 L439.6 204.3 L439.2 206.0" fill="none" stroke="#f8ec58" stroke-width="2.0" stroke-linecap="round"/><path d="M377.1 30.8 L378.0 29.1 L379.7 28.1 L381.7 28.2 L383.5 29.2 L384.7 30.9 L384.9 32.9" fill="none" stroke="#ecd848" stroke-width="2.4" stroke-linecap="round"/><path d="M328.5 192.1 L330.7 192.4 L332.4 193.9 L333.0 196.3 L332.3 198.6 L330.6 200.1 L328.4 200.3" fill="none" stroke="#ffffff" stroke-width="2.4" stroke-linecap="round"/><path d="M321.5 222.5 L320.6 224.0 L319.2 225.0 L317.6 225.4 L316.0 225.1 L314.6 224.2 L313.7 222.8" fill="none" stroke="#b0e870" stroke-width="2.0" stroke-linecap="round"/><path d="M462.3 26.5 L465.2 27.6 L466.8 30.3 L466.2 33.4 L463.7 35.3 L460.5 35.2 L458.2 33.0" fill="none" stroke="#ffffff" stroke-width="2.4" stroke-linecap="round"/><path d="M417.0 102.6 L415.7 101.9 L414.7 100.7 L414.2 99.2 L414.4 97.7 L415.3 96.4 L416.6 95.6" fill="none" stroke="#f8ec58" stroke-width="1.6" stroke-linecap="round"/><ellipse cx="398.9" cy="53.8" rx="2.8" ry="3.7" transform="rotate(122 398.9 53.8)" fill="#ffffff" opacity="0.75"/><ellipse cx="443.2" cy="82.5" rx="4.0" ry="3.6" transform="rotate(52 443.2 82.5)" fill="#ecd848" opacity="0.75"/><path d="M319.1 43.4 L319.1 46.7 L316.9 49.5 L313.6 50.4 L310.7 49.0 L309.6 46.0 L310.9 42.8" fill="none" stroke="#ffffff" stroke-width="1.6" stroke-linecap="round"/><ellipse cx="313.0" cy="249.8" rx="3.5" ry="3.2" transform="rotate(178 313.0 249.8)" fill="#ffffff" opacity="0.75"/><ellipse cx="335.9" cy="113.3" rx="2.9" ry="3.0" transform="rotate(119 335.9 113.3)" fill="#f8ec58" opacity="0.75"/><path d="M382.6 48.8 L380.8 48.4 L379.4 47.3 L378.8 45.6 L379.1 43.9 L380.2 42.4 L381.8 41.7" fill="none" stroke="#ff4a3a" stroke-width="1.6" stroke-linecap="round"/><path d="M436.0 183.9 L437.1 182.6 L438.3 181.9 L439.5 181.7 L440.6 182.2 L441.4 183.3 L441.8 184.8" fill="none" stroke="#ffffff" stroke-width="1.6" stroke-linecap="round"/><path d="M337.7 163.5 L340.1 164.1 L341.8 165.6 L342.4 167.6 L341.7 169.6 L339.9 171.2 L337.4 171.8" fill="none" stroke="#e0f8c0" stroke-width="1.6" stroke-linecap="round"/><ellipse cx="433.0" cy="195.3" rx="3.7" ry="3.4" transform="rotate(90 433.0 195.3)" fill="#f8f080" opacity="0.75"/><ellipse cx="377.7" cy="108.2" rx="3.0" ry="4.0" transform="rotate(9 377.7 108.2)" fill="#e44c88" opacity="0.75"/><path d="M336.0 173.0 L336.0 175.2 L334.9 177.0 L333.0 178.0 L331.0 177.6 L329.5 176.2 L329.1 174.1" fill="none" stroke="#f4f4d0" stroke-width="1.6" stroke-linecap="round"/><path d="M364.5 206.2 L366.7 207.8 L368.0 210.1 L367.9 212.5 L366.6 214.3 L364.3 214.9 L361.8 214.1" fill="none" stroke="#f8f080" stroke-width="2.4" stroke-linecap="round"/><path d="M393.7 36.3 L390.5 37.9 L387.1 36.1 L385.4 31.8 L386.1 27.1 L388.9 24.5 L392.4 25.3" fill="none" stroke="#c0d0ff" stroke-width="1.2" stroke-linecap="round"/><path d="M459.2 85.6 L457.2 87.0 L454.4 87.2 L451.9 86.2 L450.8 84.4 L451.5 82.5 L453.7 81.2" fill="none" stroke="#f8ec58" stroke-width="2.4" stroke-linecap="round"/><ellipse cx="419.5" cy="72.7" rx="3.1" ry="4.5" transform="rotate(72 419.5 72.7)" fill="#e44c88" opacity="0.75"/><ellipse cx="355.3" cy="210.6" rx="3.0" ry="3.7" transform="rotate(136 355.3 210.6)" fill="#f8ec58" opacity="0.75"/><path d="M424.7 87.4 L427.5 86.8 L429.8 87.5 L430.7 89.3 L429.9 91.6 L427.7 93.5 L424.9 94.5" fill="none" stroke="#ff4a3a" stroke-width="1.6" stroke-linecap="round"/><ellipse cx="348.2" cy="260.1" rx="3.7" ry="3.7" transform="rotate(154 348.2 260.1)" fill="#e0f8c0" opacity="0.75"/><path d="M438.5 44.6 L435.4 45.1 L432.3 44.2 L430.5 42.3 L430.8 40.3 L433.0 39.0 L436.2 39.0" fill="none" stroke="#ecd848" stroke-width="2.4" stroke-linecap="round"/><path d="M428.5 147.4 L430.1 149.4 L429.4 152.1 L426.8 154.1 L423.4 154.7 L421.0 153.3 L420.6 150.9" fill="none" stroke="#f4f4d0" stroke-width="2.4" stroke-linecap="round"/><ellipse cx="462.2" cy="151.3" rx="3.2" ry="4.4" transform="rotate(51 462.2 151.3)" fill="#f8ec58" opacity="0.75"/><ellipse cx="435.4" cy="33.6" rx="2.9" ry="3.5" transform="rotate(178 435.4 33.6)" fill="#b0e870" opacity="0.75"/><ellipse cx="411.5" cy="76.3" rx="3.4" ry="3.5" transform="rotate(115 411.5 76.3)" fill="#ff4a3a" opacity="0.75"/><ellipse cx="459.5" cy="142.2" rx="3.3" ry="3.3" transform="rotate(92 459.5 142.2)" fill="#f8ec58" opacity="0.75"/><path d="M359.4 77.7 L357.9 79.6 L355.4 80.1 L353.2 78.8 L352.4 76.5 L353.5 74.3 L355.9 73.3" fill="none" stroke="#ff4a3a" stroke-width="1.6" stroke-linecap="round"/><path d="M357.1 200.2 L353.3 198.5 L351.2 194.6 L352.1 190.7 L355.5 188.9 L359.4 190.2 L361.8 193.8" fill="none" stroke="#a050e0" stroke-width="1.2" stroke-linecap="round"/><path d="M290.1 143.4 L289.1 146.3 L286.3 148.7 L282.6 149.6 L279.5 148.8 L278.3 146.5 L279.4 143.6" fill="none" stroke="#a050e0" stroke-width="1.2" stroke-linecap="round"/><path d="M428.0 261.7 L425.3 260.4 L423.9 258.0 L424.0 255.2 L425.6 252.7 L428.3 251.4 L431.3 251.5" fill="none" stroke="#c0d0ff" stroke-width="1.2" stroke-linecap="round"/><ellipse cx="434.9" cy="105.3" rx="3.7" ry="3.2" transform="rotate(45 434.9 105.3)" fill="#ecd848" opacity="0.75"/><path d="M409.5 257.4 L409.5 259.4 L408.7 261.1 L407.3 262.1 L405.5 262.4 L403.7 261.8 L402.3 260.4" fill="none" stroke="#f8f080" stroke-width="2.0" stroke-linecap="round"/><ellipse cx="407.6" cy="242.7" rx="3.8" ry="3.1" transform="rotate(71 407.6 242.7)" fill="#ff4a3a" opacity="0.75"/><ellipse cx="482.9" cy="32.5" rx="3.2" ry="3.3" transform="rotate(126 482.9 32.5)" fill="#ecd848" opacity="0.75"/><path d="M451.0 110.8 L451.3 113.5 L449.6 115.1 L446.6 115.0 L443.7 113.1 L442.3 110.3 L442.9 107.9" fill="none" stroke="#f8f080" stroke-width="1.6" stroke-linecap="round"/><path d="M412.8 85.7 L417.4 85.6 L419.8 89.5 L417.9 93.9 L413.4 94.8 L410.4 91.5 L411.4 86.8" fill="none" stroke="#ff5050" stroke-width="1.2" stroke-linecap="round"/><path d="M358.3 216.3 L360.0 217.8 L360.7 219.9 L360.1 222.1 L358.4 223.7 L356.2 224.4 L353.9 223.8" fill="none" stroke="#e0f8c0" stroke-width="2.4" stroke-linecap="round"/><path d="M472.9 136.0 L473.0 133.2 L474.7 131.1 L477.2 130.2 L479.8 131.1 L481.3 133.3 L481.4 136.1" fill="none" stroke="#ff4a3a" stroke-width="2.4" stroke-linecap="round"/><path d="M406.5 82.6 L407.8 82.6 L408.9 83.2 L409.6 84.2 L409.8 85.4 L409.5 86.7 L408.7 87.9" fill="none" stroke="#f8ec58" stroke-width="2.4" stroke-linecap="round"/><path d="M365.0 50.9 L362.8 49.1 L362.0 46.8 L362.9 44.8 L365.1 43.8 L367.9 44.2 L370.1 45.9" fill="none" stroke="#f8ec58" stroke-width="1.6" stroke-linecap="round"/><path d="M387.5 130.5 L389.1 128.9 L391.3 128.2 L393.3 128.6 L394.6 130.0 L394.8 131.9 L393.8 133.9" fill="none" stroke="#ff8030" stroke-width="2.0" stroke-linecap="round"/><path d="M429.9 137.0 L429.2 138.9 L427.9 140.2 L426.3 140.5 L424.8 139.9 L423.4 138.5 L422.7 136.4" fill="none" stroke="#f8ec58" stroke-width="2.4" stroke-linecap="round"/><path d="M309.8 68.3 L308.8 71.6 L305.7 73.7 L302.2 73.5 L300.0 71.1 L300.3 67.7 L303.0 65.3" fill="none" stroke="#e0f8c0" stroke-width="1.6" stroke-linecap="round"/><path d="M302.7 187.9 L307.7 186.7 L311.8 189.4 L312.2 194.2 L308.8 198.0 L303.7 198.2 L300.4 194.7" fill="none" stroke="#a050e0" stroke-width="1.2" stroke-linecap="round"/><path d="M460.2 214.0 L459.5 218.5 L455.3 220.3 L450.9 217.8 L449.6 213.2 L452.5 209.9 L457.3 210.5" fill="none" stroke="#50c050" stroke-width="1.2" stroke-linecap="round"/><path d="M371.8 145.0 L369.2 145.0 L367.1 143.6 L366.1 141.4 L366.6 139.0 L368.4 137.3 L370.9 136.7" fill="none" stroke="#b0e870" stroke-width="2.0" stroke-linecap="round"/><path d="M389.7 211.7 L391.8 212.2 L393.3 213.6 L393.7 215.6 L393.0 217.5 L391.3 218.8 L389.1 219.2" fill="none" stroke="#ecd848" stroke-width="1.6" stroke-linecap="round"/><ellipse cx="371.9" cy="123.9" rx="3.0" ry="3.2" transform="rotate(80 371.9 123.9)" fill="#f4f4d0" opacity="0.75"/><path d="M343.8 124.2 L343.5 121.8 L344.4 119.4 L346.3 117.8 L348.5 117.5 L350.4 118.6 L351.3 120.7" fill="none" stroke="#b0e870" stroke-width="1.6" stroke-linecap="round"/><path d="M400.3 250.2 L400.3 254.7 L396.6 258.4 L392.2 258.1 L390.9 254.1 L393.7 249.8 L398.3 248.7" fill="none" stroke="#50c050" stroke-width="1.2" stroke-linecap="round"/><ellipse cx="390.3" cy="140.4" rx="3.6" ry="4.0" transform="rotate(78 390.3 140.4)" fill="#f4f4d0" opacity="0.75"/><ellipse cx="367.3" cy="116.7" rx="3.3" ry="4.7" transform="rotate(58 367.3 116.7)" fill="#e0f8c0" opacity="0.75"/><ellipse cx="449.0" cy="57.7" rx="3.7" ry="3.1" transform="rotate(87 449.0 57.7)" fill="#ff8030" opacity="0.75"/><path d="M418.8 178.2 L419.2 175.6 L421.3 173.8 L424.1 173.7 L426.2 175.3 L426.6 177.8 L425.2 180.1" fill="none" stroke="#ffffff" stroke-width="2.0" stroke-linecap="round"/><path d="M462.6 39.4 L462.0 38.3 L462.0 37.2 L462.6 36.0 L463.7 35.1 L465.2 34.5 L466.9 34.4" fill="none" stroke="#ff4a3a" stroke-width="2.0" stroke-linecap="round"/><path d="M383.5 256.5 L382.7 255.3 L382.4 253.9 L382.8 252.5 L383.6 251.3 L384.9 250.5 L386.4 250.3" fill="none" stroke="#f4f4d0" stroke-width="2.4" stroke-linecap="round"/><ellipse cx="301.3" cy="61.2" rx="4.1" ry="3.6" transform="rotate(173 301.3 61.2)" fill="#f4f4d0" opacity="0.75"/><path d="M478.8 169.5 L475.9 172.3 L471.7 171.1 L469.4 166.8 L470.6 162.6 L474.5 161.5 L478.2 164.5" fill="none" stroke="#ff5050" stroke-width="1.2" stroke-linecap="round"/><ellipse cx="407.1" cy="128.3" rx="3.3" ry="4.1" transform="rotate(22 407.1 128.3)" fill="#ffffff" opacity="0.75"/><path d="M334.1 142.4 L331.9 141.4 L331.2 139.4 L332.2 137.3 L334.5 136.0 L337.1 136.2 L338.7 137.6" fill="none" stroke="#ff4a3a" stroke-width="1.6" stroke-linecap="round"/><path d="M467.3 54.8 L467.8 52.4 L469.2 50.4 L471.0 49.5 L472.8 50.0 L473.9 51.7 L473.9 54.1" fill="none" stroke="#ffffff" stroke-width="1.6" stroke-linecap="round"/><ellipse cx="323.2" cy="50.4" rx="3.7" ry="4.7" transform="rotate(97 323.2 50.4)" fill="#f8f080" opacity="0.75"/><path d="M449.0 46.1 L446.6 44.0 L446.3 40.9 L448.0 38.3 L451.1 37.6 L453.9 39.0 L455.0 41.9" fill="none" stroke="#e44c88" stroke-width="2.0" stroke-linecap="round"/><path d="M298.4 213.2 L297.4 210.6 L297.8 207.7 L299.5 205.8 L301.6 205.8 L303.4 207.6 L304.0 210.5" fill="none" stroke="#f8f080" stroke-width="2.4" stroke-linecap="round"/><path d="M442.9 138.1 L443.7 139.2 L444.1 140.6 L444.0 142.1 L443.4 143.3 L442.4 144.2 L441.2 144.6" fill="none" stroke="#b0e870" stroke-width="2.0" stroke-linecap="round"/><path d="M335.2 234.4 L333.9 233.8 L333.0 232.7 L332.6 231.3 L332.9 229.8 L333.8 228.6 L335.1 227.7" fill="none" stroke="#ff4a3a" stroke-width="2.4" stroke-linecap="round"/><ellipse cx="324.0" cy="212.9" rx="4.1" ry="3.8" transform="rotate(48 324.0 212.9)" fill="#f4f4d0" opacity="0.75"/><path d="M427.8 46.3 L426.9 47.7 L425.5 48.5 L423.6 48.4 L421.8 47.6 L420.4 46.0 L419.6 44.2" fill="none" stroke="#f4f4d0" stroke-width="2.0" stroke-linecap="round"/><path d="M292.0 203.1 L293.3 205.0 L292.8 207.3 L290.8 209.0 L288.1 209.5 L285.6 208.6 L284.3 206.7" fill="none" stroke="#ff4a3a" stroke-width="1.6" stroke-linecap="round"/><ellipse cx="390.2" cy="84.1" rx="2.8" ry="4.3" transform="rotate(75 390.2 84.1)" fill="#b0e870" opacity="0.75"/><path d="M445.3 64.2 L447.7 65.2 L448.9 67.5 L448.5 70.2 L446.6 72.1 L444.0 72.5 L441.7 71.3" fill="none" stroke="#ff8030" stroke-width="1.6" stroke-linecap="round"/><path d="M434.4 222.7 L432.7 222.8 L431.2 222.2 L430.1 220.9 L429.6 219.4 L429.8 217.7 L430.7 216.3" fill="none" stroke="#e0f8c0" stroke-width="2.0" stroke-linecap="round"/><path d="M456.9 64.3 L455.3 62.9 L454.6 60.9 L455.1 58.9 L456.6 57.3 L458.7 56.7 L460.8 57.2" fill="none" stroke="#f8ec58" stroke-width="2.4" stroke-linecap="round"/><path d="M411.6 180.5 L409.9 178.3 L409.7 175.6 L411.2 173.4 L413.7 172.7 L416.3 173.6 L418.0 175.9" fill="none" stroke="#f8f080" stroke-width="1.6" stroke-linecap="round"/><ellipse cx="388.1" cy="51.3" rx="3.9" ry="4.3" transform="rotate(108 388.1 51.3)" fill="#f4f4d0" opacity="0.75"/><ellipse cx="353.7" cy="248.1" rx="4.1" ry="3.1" transform="rotate(33 353.7 248.1)" fill="#f4f4d0" opacity="0.75"/><path d="M420.5 121.4 L423.1 120.6 L425.1 121.4 L425.8 123.6 L424.9 126.2 L422.8 128.3 L420.2 129.2" fill="none" stroke="#f8ec58" stroke-width="2.0" stroke-linecap="round"/><path d="M407.2 157.9 L404.7 157.2 L403.4 155.4 L403.5 153.0 L405.2 151.1 L407.7 150.2 L410.2 150.7" fill="none" stroke="#f8ec58" stroke-width="2.4" stroke-linecap="round"/><path d="M346.9 214.0 L346.7 215.5 L345.9 216.7 L344.7 217.3 L343.2 217.2 L341.8 216.5 L340.6 215.3" fill="none" stroke="#e0f8c0" stroke-width="2.0" stroke-linecap="round"/><path d="M328.2 241.3 L325.3 240.0 L323.9 237.3 L324.6 234.2 L327.1 232.2 L330.3 232.2 L332.8 234.1" fill="none" stroke="#ff5050" stroke-width="1.2" stroke-linecap="round"/><ellipse cx="329.7" cy="60.9" rx="3.4" ry="4.4" transform="rotate(83 329.7 60.9)" fill="#ff4a3a" opacity="0.75"/><path d="M389.0 226.9 L388.7 224.5 L390.1 222.4 L392.6 221.7 L395.0 222.8 L396.0 225.1 L395.2 227.5" fill="none" stroke="#f8f080" stroke-width="2.0" stroke-linecap="round"/><ellipse cx="405.8" cy="227.4" rx="3.4" ry="4.0" transform="rotate(115 405.8 227.4)" fill="#f4f4d0" opacity="0.75"/><path d="M364.6 94.4 L366.7 92.7 L369.3 92.4 L371.6 93.6 L372.8 95.9 L372.6 98.5 L370.9 100.6" fill="none" stroke="#e0f8c0" stroke-width="2.4" stroke-linecap="round"/><path d="M404.0 133.2 L405.5 135.8 L405.0 138.8 L402.7 140.7 L399.7 140.6 L397.5 138.6 L397.1 135.7" fill="none" stroke="#ecd848" stroke-width="2.0" stroke-linecap="round"/><path d="M462.4 137.2 L459.8 137.4 L457.4 136.2 L455.8 134.1 L455.6 131.7 L456.7 129.6 L458.9 128.4" fill="none" stroke="#e0f8c0" stroke-width="2.0" stroke-linecap="round"/><path d="M420.4 259.0 L418.7 259.5 L417.1 259.4 L415.6 258.8 L414.5 257.7 L413.9 256.2 L413.9 254.6" fill="none" stroke="#ff4a3a" stroke-width="1.6" stroke-linecap="round"/><path d="M406.3 46.1 L408.0 46.1 L409.5 46.9 L410.4 48.3 L410.3 50.0 L409.5 51.6 L408.0 52.6" fill="none" stroke="#e0f8c0" stroke-width="2.0" stroke-linecap="round"/><path d="M380.8 74.6 L382.0 72.9 L384.0 72.2 L386.1 72.7 L387.4 74.4 L387.6 76.5 L386.5 78.3" fill="none" stroke="#f8f080" stroke-width="2.4" stroke-linecap="round"/><path d="M429.5 65.6 L428.1 63.8 L428.4 61.7 L430.3 60.0 L433.0 59.5 L435.4 60.4 L436.4 62.3" fill="none" stroke="#e44c88" stroke-width="2.0" stroke-linecap="round"/><path d="M332.1 222.8 L330.4 224.1 L328.6 224.5 L327.1 223.9 L326.2 222.4 L326.2 220.3 L327.0 218.1" fill="none" stroke="#f4f4d0" stroke-width="2.4" stroke-linecap="round"/><path d="M465.6 80.0 L462.0 81.7 L458.4 80.8 L456.9 77.7 L458.2 74.2 L461.7 72.2 L465.3 72.8" fill="none" stroke="#a050e0" stroke-width="1.2" stroke-linecap="round"/><ellipse cx="338.7" cy="148.3" rx="3.2" ry="4.0" transform="rotate(148 338.7 148.3)" fill="#ff4a3a" opacity="0.75"/><ellipse cx="341.8" cy="57.5" rx="4.1" ry="4.8" transform="rotate(87 341.8 57.5)" fill="#ff8030" opacity="0.75"/><path d="M458.9 118.6 L459.1 117.2 L459.9 116.0 L460.9 115.2 L462.2 114.8 L463.5 115.0 L464.7 115.6" fill="none" stroke="#b0e870" stroke-width="1.6" stroke-linecap="round"/><path d="M393.7 40.5 L392.1 42.5 L389.5 43.0 L387.3 41.6 L386.5 39.2 L387.5 36.8 L389.7 35.6" fill="none" stroke="#ff4a3a" stroke-width="2.4" stroke-linecap="round"/><ellipse cx="402.5" cy="32.0" rx="3.2" ry="4.7" transform="rotate(1 402.5 32.0)" fill="#f4f4d0" opacity="0.75"/><path d="M416.7 156.4 L419.4 155.9 L422.4 157.3 L424.3 160.0 L424.2 162.6 L422.0 164.0 L419.0 163.3" fill="none" stroke="#e44c88" stroke-width="2.4" stroke-linecap="round"/><ellipse cx="376.7" cy="96.6" rx="3.4" ry="4.4" transform="rotate(94 376.7 96.6)" fill="#ecd848" opacity="0.75"/><ellipse cx="402.0" cy="215.7" rx="3.1" ry="3.0" transform="rotate(10 402.0 215.7)" fill="#ff8030" opacity="0.75"/><path d="M431.2 70.6 L433.0 68.0 L435.7 66.6 L438.2 66.7 L439.5 68.5 L439.1 71.2 L437.1 73.6" fill="none" stroke="#f8f080" stroke-width="1.6" stroke-linecap="round"/><path d="M388.0 121.4 L389.8 122.1 L390.8 123.5 L391.0 125.1 L390.2 126.6 L388.6 127.7 L386.7 128.0" fill="none" stroke="#b0e870" stroke-width="1.6" stroke-linecap="round"/><ellipse cx="443.1" cy="131.0" rx="3.9" ry="4.1" transform="rotate(172 443.1 131.0)" fill="#ff8030" opacity="0.75"/><ellipse cx="454.4" cy="127.5" rx="2.8" ry="4.5" transform="rotate(152 454.4 127.5)" fill="#f8f080" opacity="0.75"/><ellipse cx="437.2" cy="88.7" rx="3.1" ry="3.8" transform="rotate(126 437.2 88.7)" fill="#e0f8c0" opacity="0.75"/><path d="M412.1 147.0 L410.5 147.8 L408.8 147.7 L407.3 146.8 L406.4 145.3 L406.4 143.5 L407.3 142.0" fill="none" stroke="#ecd848" stroke-width="1.6" stroke-linecap="round"/><path d="M344.0 253.9 L342.8 253.2 L342.0 252.2 L341.7 251.0 L341.8 249.9 L342.4 248.9 L343.5 248.3" fill="none" stroke="#e0f8c0" stroke-width="1.6" stroke-linecap="round"/><path d="M437.3 81.7 L435.7 83.5 L433.3 84.2 L430.9 83.6 L429.2 81.9 L428.5 79.6 L429.1 77.3" fill="none" stroke="#e0f8c0" stroke-width="1.6" stroke-linecap="round"/><path d="M379.9 115.1 L381.1 116.3 L381.9 117.9 L382.3 119.5 L382.2 121.0 L381.6 122.2 L380.6 122.9" fill="none" stroke="#ffffff" stroke-width="2.0" stroke-linecap="round"/><ellipse cx="370.7" cy="31.2" rx="3.5" ry="4.7" transform="rotate(104 370.7 31.2)" fill="#ff4a3a" opacity="0.75"/><path d="M381.6 162.3 L381.8 164.5 L381.2 166.7 L380.0 168.4 L378.4 169.3 L376.8 169.2 L375.4 168.1" fill="none" stroke="#ecd848" stroke-width="2.0" stroke-linecap="round"/><path d="M467.8 228.7 L470.6 231.3 L470.6 235.4 L467.8 238.2 L464.2 237.9 L462.1 234.6 L463.1 230.6" fill="none" stroke="#c0d0ff" stroke-width="1.2" stroke-linecap="round"/><ellipse cx="342.7" cy="235.2" rx="3.7" ry="3.1" transform="rotate(20 342.7 235.2)" fill="#b0e870" opacity="0.75"/><path d="M390.3 118.2 L387.9 118.4 L385.6 117.3 L384.1 115.1 L384.0 112.8 L385.4 111.2 L387.7 110.8" fill="none" stroke="#f8f080" stroke-width="1.6" stroke-linecap="round"/><ellipse cx="300.8" cy="175.8" rx="3.0" ry="3.6" transform="rotate(68 300.8 175.8)" fill="#f8f080" opacity="0.75"/><path d="M357.6 88.0 L354.5 88.1 L352.0 86.4 L351.5 83.9 L353.1 81.9 L356.1 81.4 L358.9 82.6" fill="none" stroke="#f8ec58" stroke-width="1.6" stroke-linecap="round"/><path d="M343.6 156.1 L343.8 158.4 L342.3 160.0 L339.8 160.4 L337.1 159.4 L335.0 157.4 L334.4 155.0" fill="none" stroke="#ff4a3a" stroke-width="1.6" stroke-linecap="round"/><path d="M341.3 98.8 L343.4 99.9 L344.9 101.7 L345.4 103.6 L344.8 105.2 L343.3 106.0 L341.2 105.7" fill="none" stroke="#ecd848" stroke-width="2.4" stroke-linecap="round"/><path d="M442.3 94.0 L441.3 92.3 L440.8 90.4 L441.0 88.6 L441.8 87.1 L443.1 86.2 L444.7 86.0" fill="none" stroke="#ff4a3a" stroke-width="1.6" stroke-linecap="round"/><path d="M418.1 235.8 L414.2 231.7 L414.2 225.7 L417.9 223.1 L422.3 226.1 L423.4 232.1 L420.4 235.9" fill="none" stroke="#e8e8ff" stroke-width="1.2" stroke-linecap="round"/><ellipse cx="453.7" cy="101.2" rx="3.5" ry="4.1" transform="rotate(128 453.7 101.2)" fill="#f8f080" opacity="0.75"/><path d="M428.7 210.9 L428.7 207.7 L430.1 205.1 L432.7 204.0 L435.6 204.5 L438.0 206.7 L439.1 209.8" fill="none" stroke="#ffffff" stroke-width="1.2" stroke-linecap="round"/><ellipse cx="369.0" cy="216.2" rx="3.4" ry="3.7" transform="rotate(80 369.0 216.2)" fill="#f4f4d0" opacity="0.75"/><path d="M304.1 54.3 L305.5 52.5 L307.5 51.6 L309.7 51.8 L311.4 53.0 L312.5 55.1 L312.5 57.4" fill="none" stroke="#e0f8c0" stroke-width="2.0" stroke-linecap="round"/><path d="M417.1 101.3 L415.9 100.4 L415.3 99.0 L415.4 97.4 L416.2 95.9 L417.5 94.7 L419.2 93.9" fill="none" stroke="#f8ec58" stroke-width="2.0" stroke-linecap="round"/><path d="M371.8 79.7 L370.5 77.5 L370.8 75.0 L372.6 73.2 L375.1 72.7 L377.3 73.9 L378.5 76.2" fill="none" stroke="#e0f8c0" stroke-width="1.6" stroke-linecap="round"/><ellipse cx="328.0" cy="261.5" rx="2.9" ry="3.5" transform="rotate(29 328.0 261.5)" fill="#ecd848" opacity="0.75"/><path d="M426.6 146.3 L426.2 143.7 L428.1 141.7 L431.3 141.1 L434.2 142.4 L435.3 144.8 L434.0 147.2" fill="none" stroke="#b0e870" stroke-width="2.0" stroke-linecap="round"/><path d="M345.9 174.8 L344.6 173.4 L344.2 171.6 L344.8 169.9 L346.2 168.7 L348.0 168.4 L349.8 169.1" fill="none" stroke="#ff8030" stroke-width="2.0" stroke-linecap="round"/><path d="M435.1 56.6 L436.8 55.0 L439.1 54.4 L441.4 55.1 L443.1 56.7 L443.7 59.0 L443.2 61.2" fill="none" stroke="#ff4a3a" stroke-width="2.0" stroke-linecap="round"/><path d="M440.3 97.3 L442.0 94.8 L444.3 93.8 L446.3 94.6 L447.3 96.9 L446.8 99.8 L445.1 102.2" fill="none" stroke="#f8ec58" stroke-width="1.6" stroke-linecap="round"/><ellipse cx="446.6" cy="196.2" rx="3.3" ry="4.6" transform="rotate(60 446.6 196.2)" fill="#ff8030" opacity="0.75"/><ellipse cx="361.7" cy="101.1" rx="3.0" ry="3.9" transform="rotate(127 361.7 101.1)" fill="#ff8030" opacity="0.75"/><path d="M405.9 78.8 L404.0 82.3 L399.7 82.7 L396.8 79.6 L397.6 75.7 L401.6 74.3 L405.2 76.6" fill="none" stroke="#a050e0" stroke-width="1.2" stroke-linecap="round"/><ellipse cx="453.8" cy="75.7" rx="3.2" ry="4.7" transform="rotate(10 453.8 75.7)" fill="#ffffff" opacity="0.75"/><path d="M312.7 93.6 L314.4 94.1 L315.8 95.4 L316.4 97.1 L316.2 98.9 L315.3 100.5 L313.7 101.6" fill="none" stroke="#ecd848" stroke-width="1.6" stroke-linecap="round"/><path d="M413.8 36.4 L415.4 37.3 L416.6 39.1 L416.9 41.5 L416.3 43.9 L415.1 45.6 L413.3 46.4" fill="none" stroke="#f4f4d0" stroke-width="1.6" stroke-linecap="round"/><path d="M321.0 207.0 L318.2 210.9 L313.6 211.2 L310.1 207.8 L309.9 202.8 L313.1 199.3 L317.6 199.5" fill="none" stroke="#50c050" stroke-width="1.2" stroke-linecap="round"/><path d="M312.6 143.0 L310.2 143.7 L307.9 142.8 L306.6 140.8 L307.0 138.3 L308.8 136.6 L311.2 136.3" fill="none" stroke="#ff4a3a" stroke-width="1.6" stroke-linecap="round"/><ellipse cx="278.6" cy="201.2" rx="3.6" ry="3.6" transform="rotate(70 278.6 201.2)" fill="#e0f8c0" opacity="0.75"/><ellipse cx="462.6" cy="97.1" rx="3.2" ry="4.5" transform="rotate(100 462.6 97.1)" fill="#f8ec58" opacity="0.75"/><path d="M437.3 54.3 L435.2 54.1 L433.2 53.1 L431.8 51.5 L431.1 49.6 L431.2 47.7 L432.3 46.1" fill="none" stroke="#f8f080" stroke-width="1.6" stroke-linecap="round"/><path d="M399.7 101.3 L402.2 100.6 L404.7 101.4 L406.3 103.3 L406.3 105.6 L404.7 107.3 L402.1 107.8" fill="none" stroke="#b0e870" stroke-width="1.6" stroke-linecap="round"/><path d="M331.7 123.8 L334.2 126.1 L334.6 129.5 L332.7 132.3 L329.5 133.0 L326.7 131.3 L325.7 128.0" fill="none" stroke="#f8ec58" stroke-width="1.6" stroke-linecap="round"/><ellipse cx="395.5" cy="208.3" rx="4.1" ry="3.7" transform="rotate(87 395.5 208.3)" fill="#f8f080" opacity="0.75"/><path d="M452.7 161.6 L449.9 159.7 L449.3 156.4 L451.2 153.4 L454.5 152.5 L457.6 153.9 L458.8 157.0" fill="none" stroke="#b0e870" stroke-width="2.4" stroke-linecap="round"/><path d="M404.0 75.1 L403.2 72.8 L403.7 70.3 L405.4 68.5 L407.8 68.0 L410.0 68.9 L411.5 70.9" fill="none" stroke="#f8ec58" stroke-width="2.4" stroke-linecap="round"/><path d="M453.3 172.1 L453.9 167.9 L457.7 165.8 L461.7 167.4 L462.9 171.5 L460.3 174.9 L455.9 174.9" fill="none" stroke="#c0d0ff" stroke-width="1.2" stroke-linecap="round"/><ellipse cx="382.0" cy="146.4" rx="3.0" ry="3.1" transform="rotate(90 382.0 146.4)" fill="#ffffff" opacity="0.75"/><path d="M427.3 206.2 L424.9 206.8 L422.6 206.0 L421.1 204.0 L420.8 201.3 L421.8 198.7 L423.7 196.9" fill="none" stroke="#e44c88" stroke-width="2.4" stroke-linecap="round"/><path d="M425.5 86.8 L426.8 86.2 L428.4 86.1 L429.8 86.5 L431.0 87.5 L431.7 88.8 L431.9 90.2" fill="none" stroke="#b0e870" stroke-width="2.0" stroke-linecap="round"/><ellipse cx="376.8" cy="52.8" rx="2.9" ry="3.0" transform="rotate(109 376.8 52.8)" fill="#f8ec58" opacity="0.75"/><path d="M344.4 132.7 L347.8 131.1 L352.4 132.1 L355.5 135.0 L355.5 138.3 L352.2 140.0 L347.6 139.1" fill="none" stroke="#ffe060" stroke-width="1.2" stroke-linecap="round"/><path d="M344.7 201.9 L345.9 201.8 L347.0 202.2 L348.0 203.0 L348.8 204.1 L349.1 205.3 L349.1 206.5" fill="none" stroke="#ecd848" stroke-width="2.0" stroke-linecap="round"/><ellipse cx="443.9" cy="108.7" rx="2.8" ry="3.3" transform="rotate(92 443.9 108.7)" fill="#e44c88" opacity="0.75"/><ellipse cx="388.2" cy="105.9" rx="3.5" ry="4.2" transform="rotate(164 388.2 105.9)" fill="#ffffff" opacity="0.75"/><path d="M388.4 58.6 L388.6 60.9 L387.7 62.9 L385.8 64.1 L383.6 64.1 L381.6 63.0 L380.4 61.1" fill="none" stroke="#b0e870" stroke-width="2.4" stroke-linecap="round"/><path d="M442.9 171.0 L440.9 171.0 L439.0 169.9 L437.8 168.0 L437.6 165.8 L438.4 164.1 L440.1 163.2" fill="none" stroke="#f8ec58" stroke-width="1.6" stroke-linecap="round"/><ellipse cx="356.4" cy="144.9" rx="4.0" ry="4.6" transform="rotate(49 356.4 144.9)" fill="#f4f4d0" opacity="0.75"/><path d="M317.3 242.3 L315.8 245.1 L312.5 246.4 L309.2 245.6 L307.4 243.0 L308.2 240.0 L311.1 238.2" fill="none" stroke="#ff8030" stroke-width="2.0" stroke-linecap="round"/><path d="M405.8 254.1 L406.7 252.4 L408.3 251.4 L410.1 251.2 L411.7 252.0 L412.6 253.5 L412.6 255.3" fill="none" stroke="#f8ec58" stroke-width="2.4" stroke-linecap="round"/><path d="M439.6 37.7 L437.8 39.3 L435.4 39.3 L433.5 37.7 L433.1 35.4 L434.3 33.3 L436.6 32.5" fill="none" stroke="#ecd848" stroke-width="1.6" stroke-linecap="round"/><path d="M363.4 178.9 L364.9 183.9 L362.5 188.0 L357.8 188.6 L353.9 185.2 L353.4 180.1 L356.6 176.6" fill="none" stroke="#ffe060" stroke-width="1.2" stroke-linecap="round"/><path d="M368.3 78.8 L370.7 80.3 L371.3 83.0 L369.9 85.7 L367.1 87.1 L364.2 86.8 L362.3 84.8" fill="none" stroke="#f8f080" stroke-width="2.0" stroke-linecap="round"/><path d="M450.7 107.8 L451.7 106.8 L453.1 106.1 L454.6 106.0 L456.2 106.4 L457.5 107.3 L458.3 108.5" fill="none" stroke="#f4f4d0" stroke-width="1.6" stroke-linecap="round"/><path d="M421.9 58.5 L419.5 58.8 L417.0 57.6 L415.5 55.5 L415.5 53.1 L416.9 51.5 L419.3 51.2" fill="none" stroke="#f8ec58" stroke-width="2.0" stroke-linecap="round"/><path d="M364.7 37.6 L366.6 36.8 L368.8 37.3 L370.6 38.8 L371.3 40.9 L370.8 42.9 L369.1 44.0" fill="none" stroke="#f8f080" stroke-width="2.0" stroke-linecap="round"/><path d="M441.2 122.1 L439.9 123.0 L438.0 123.1 L436.1 122.4 L434.5 121.1 L433.7 119.5 L433.7 118.0" fill="none" stroke="#b0e870" stroke-width="2.4" stroke-linecap="round"/><ellipse cx="427.5" cy="258.6" rx="3.2" ry="4.6" transform="rotate(131 427.5 258.6)" fill="#f8f080" opacity="0.75"/><path d="M387.8 238.5 L385.8 238.2 L384.2 237.1 L383.0 235.6 L382.6 233.7 L383.1 232.0 L384.2 230.6" fill="none" stroke="#ff4a3a" stroke-width="2.0" stroke-linecap="round"/><path d="M347.5 162.2 L348.4 159.2 L351.7 157.4 L355.8 157.7 L358.8 160.0 L359.1 163.2 L356.7 165.7" fill="none" stroke="#a050e0" stroke-width="1.2" stroke-linecap="round"/><path d="M417.1 88.2 L417.6 89.8 L417.2 91.6 L416.0 93.1 L414.2 94.0 L412.2 94.3 L410.4 93.8" fill="none" stroke="#f8ec58" stroke-width="2.4" stroke-linecap="round"/><path d="M445.3 254.6 L449.1 253.8 L452.6 255.0 L454.3 257.8 L453.6 261.0 L450.8 263.5 L447.0 264.1" fill="none" stroke="#ffe060" stroke-width="1.2" stroke-linecap="round"/><path d="M410.2 77.6 L411.8 76.5 L413.6 76.5 L415.0 77.5 L415.8 79.3 L415.7 81.4 L414.8 83.4" fill="none" stroke="#ffffff" stroke-width="2.4" stroke-linecap="round"/><ellipse cx="422.2" cy="76.4" rx="3.0" ry="4.4" transform="rotate(143 422.2 76.4)" fill="#e44c88" opacity="0.75"/><path d="M412.8 208.6 L413.9 210.9 L413.3 214.0 L411.1 216.5 L408.4 217.4 L406.4 216.1 L406.0 213.4" fill="none" stroke="#ff8030" stroke-width="2.4" stroke-linecap="round"/><ellipse cx="353.4" cy="217.4" rx="3.0" ry="3.5" transform="rotate(38 353.4 217.4)" fill="#ecd848" opacity="0.75"/><path d="M379.6 136.8 L381.0 134.4 L383.1 132.9 L385.4 132.6 L387.2 133.6 L388.1 135.7 L387.8 138.3" fill="none" stroke="#ffffff" stroke-width="2.0" stroke-linecap="round"/><path d="M381.2 178.8 L383.1 180.0 L384.0 181.7 L383.4 183.5 L381.7 184.7 L379.4 185.0 L377.2 184.3" fill="none" stroke="#f8ec58" stroke-width="2.4" stroke-linecap="round"/><path d="M426.7 217.2 L428.1 218.0 L429.0 219.2 L429.5 220.7 L429.3 222.2 L428.6 223.5 L427.4 224.3" fill="none" stroke="#ffffff" stroke-width="1.6" stroke-linecap="round"/><path d="M329.1 210.6 L330.4 208.6 L332.6 207.9 L335.0 208.8 L336.7 210.9 L337.1 213.5 L336.1 215.7" fill="none" stroke="#e44c88" stroke-width="2.0" stroke-linecap="round"/><path d="M445.6 56.3 L443.7 53.8 L443.9 50.8 L446.2 48.7 L449.5 48.4 L452.5 50.1 L453.8 52.9" fill="none" stroke="#f4f4d0" stroke-width="2.4" stroke-linecap="round"/><path d="M430.4 101.2 L433.0 102.7 L433.9 105.1 L432.9 107.6 L430.3 109.2 L427.1 109.3 L424.5 107.9" fill="none" stroke="#e44c88" stroke-width="2.4" stroke-linecap="round"/><path d="M467.3 141.2 L465.1 144.9 L461.4 145.9 L458.4 143.5 L457.9 139.3 L460.4 135.8 L464.2 135.3" fill="none" stroke="#ffffff" stroke-width="1.2" stroke-linecap="round"/><path d="M379.6 131.8 L379.4 133.3 L378.5 134.5 L377.3 135.3 L375.8 135.4 L374.4 134.9 L373.3 133.9" fill="none" stroke="#ff4a3a" stroke-width="1.6" stroke-linecap="round"/><path d="M366.5 130.7 L364.0 127.7 L366.1 123.7 L371.3 121.4 L376.0 122.6 L376.7 126.3 L373.1 130.0" fill="none" stroke="#50c050" stroke-width="1.2" stroke-linecap="round"/><path d="M423.6 137.5 L424.3 138.7 L424.7 140.2 L424.6 141.8 L424.0 143.3 L423.2 144.5 L422.0 145.2" fill="none" stroke="#ecd848" stroke-width="1.6" stroke-linecap="round"/><path d="M461.8 56.6 L463.3 55.4 L465.4 54.9 L467.9 55.2 L470.0 56.2 L471.3 57.7 L471.6 59.4" fill="none" stroke="#b0e870" stroke-width="1.6" stroke-linecap="round"/><ellipse cx="451.0" cy="67.9" rx="4.0" ry="4.3" transform="rotate(161 451.0 67.9)" fill="#ffffff" opacity="0.75"/><ellipse cx="339.1" cy="226.5" rx="3.4" ry="4.5" transform="rotate(64 339.1 226.5)" fill="#e0f8c0" opacity="0.75"/><ellipse cx="360.5" cy="92.3" rx="4.0" ry="4.7" transform="rotate(108 360.5 92.3)" fill="#ecd848" opacity="0.75"/></g>
<circle cx="347" cy="225" r="7" fill="#f4ec70" opacity="0.85" filter="url(#bl2)"/>
<circle cx="395" cy="235" r="6" fill="#e0e860" opacity="0.85" filter="url(#bl2)"/>
<circle cx="372" cy="103" r="5" fill="#f0e050" opacity="0.85" filter="url(#bl2)"/>
<circle cx="425" cy="88" r="4" fill="#f0e860" opacity="0.85" filter="url(#bl2)"/>
<circle cx="312" cy="170" r="3" fill="#f0f060" opacity="0.85" filter="url(#bl2)"/>
<circle cx="450" cy="243" r="3.5" fill="#ffffff" opacity="0.85" filter="url(#bl2)"/>
<circle cx="445" cy="185" r="4" fill="#f8f8d0" opacity="0.85" filter="url(#bl2)"/>
<circle cx="400" cy="95" r="3" fill="#ff6060" opacity="0.85" filter="url(#bl2)"/>
<circle cx="440" cy="218" r="3" fill="#ff5030" opacity="0.85" filter="url(#bl2)"/>
<circle cx="350" cy="140" r="5" fill="#f8f0b0" opacity="0.85" filter="url(#bl2)"/>
<circle cx="365" cy="150" r="4" fill="#ffffff" opacity="0.85" filter="url(#bl2)"/>
<circle cx="335" cy="175" r="4" fill="#f0f080" opacity="0.85" filter="url(#bl2)"/>
<circle cx="300" cy="198" r="4" fill="#d0e850" opacity="0.85" filter="url(#bl2)"/>
<circle cx="420" cy="150" r="4" fill="#f0f0a0" opacity="0.85" filter="url(#bl2)"/>
<circle cx="380" cy="65" r="3" fill="#ffffff" opacity="0.85" filter="url(#bl2)"/>
<circle cx="408" cy="200" r="4" fill="#e8e070" opacity="0.85" filter="url(#bl2)"/>
</g>
<rect x="283.2" y="36.8" width="213.6" height="220.6" fill="none" stroke="#fff" stroke-width="2.4" stroke-dasharray="7.5 4"/>
<text x="6.6" y="19.7" font-size="20.4" font-weight="bold" fill="#fff" text-anchor="start" >A</text>
<text x="122.4" y="23.7" font-size="16.8" font-weight="bold" textLength="235.6" lengthAdjust="spacingAndGlyphs"><tspan fill="#4fa6dc">DAPI</tspan><tspan fill="#fff">/</tspan><tspan fill="#e8e23c">CD3</tspan><tspan fill="#fff">/</tspan><tspan fill="#e2242e">PD-1</tspan><tspan fill="#fff">/LAG-3/</tspan><tspan fill="#3fae4e">TIM-3</tspan></text>
<text x="3.6" y="312.6" font-size="19" font-weight="bold" fill="#111" text-anchor="start" >B</text>
<text x="216.4" y="313.8" font-size="14.8" font-weight="bold" fill="#111" textLength="119.2" lengthAdjust="spacingAndGlyphs">Cohort #1 <tspan font-style="italic">n</tspan> = 426</text>
<text x="218.0" y="697.7" font-size="14.8" font-weight="bold" fill="#111" textLength="119.2" lengthAdjust="spacingAndGlyphs">Cohort #2 <tspan font-style="italic">n</tspan> = 304</text>
<line x1="65.7" y1="331" x2="65.7" y2="411" stroke="#444" stroke-width="1.2"/>
<line x1="65.2" y1="410.5" x2="178.9" y2="410.5" stroke="#444" stroke-width="1"/>
<line x1="63.7" y1="410.5" x2="65.7" y2="410.5" stroke="#444" stroke-width="1"/>
<text x="63.1" y="412.65" font-size="6.1" font-weight="bold" fill="#222" text-anchor="end" stroke="#222" stroke-width="0.18">0</text>
<line x1="63.7" y1="394.6" x2="65.7" y2="394.6" stroke="#444" stroke-width="1"/>
<text x="63.1" y="396.75" font-size="6.1" font-weight="bold" fill="#222" text-anchor="end" stroke="#222" stroke-width="0.18">100,000</text>
<line x1="63.7" y1="378.7" x2="65.7" y2="378.7" stroke="#444" stroke-width="1"/>
<text x="63.1" y="380.85" font-size="6.1" font-weight="bold" fill="#222" text-anchor="end" stroke="#222" stroke-width="0.18">200,000</text>
<line x1="63.7" y1="362.8" x2="65.7" y2="362.8" stroke="#444" stroke-width="1"/>
<text x="63.1" y="364.95" font-size="6.1" font-weight="bold" fill="#222" text-anchor="end" stroke="#222" stroke-width="0.18">300,000</text>
<line x1="63.7" y1="346.9" x2="65.7" y2="346.9" stroke="#444" stroke-width="1"/>
<text x="63.1" y="349.05" font-size="6.1" font-weight="bold" fill="#222" text-anchor="end" stroke="#222" stroke-width="0.18">400,000</text>
<line x1="63.7" y1="331" x2="65.7" y2="331" stroke="#444" stroke-width="1"/>
<text x="63.1" y="333.15" font-size="6.1" font-weight="bold" fill="#222" text-anchor="end" stroke="#222" stroke-width="0.18">500,000</text>
<line x1="65.7" y1="410.5" x2="65.7" y2="412.5" stroke="#444" stroke-width="1"/>
<text x="65.7" y="419" font-size="6.1" font-weight="bold" fill="#222" text-anchor="middle" stroke="#222" stroke-width="0.18">0</text>
<line x1="88.34" y1="410.5" x2="88.34" y2="412.5" stroke="#444" stroke-width="1"/>
<text x="88.34" y="419" font-size="6.1" font-weight="bold" fill="#222" text-anchor="middle" stroke="#222" stroke-width="0.18">20,000</text>
<line x1="110.98" y1="410.5" x2="110.98" y2="412.5" stroke="#444" stroke-width="1"/>
<text x="110.98" y="419" font-size="6.1" font-weight="bold" fill="#222" text-anchor="middle" stroke="#222" stroke-width="0.18">40,000</text>
<line x1="133.62" y1="410.5" x2="133.62" y2="412.5" stroke="#444" stroke-width="1"/>
<text x="133.62" y="419" font-size="6.1" font-weight="bold" fill="#222" text-anchor="middle" stroke="#222" stroke-width="0.18">60,000</text>
<line x1="156.26" y1="410.5" x2="156.26" y2="412.5" stroke="#444" stroke-width="1"/>
<text x="156.26" y="419" font-size="6.1" font-weight="bold" fill="#222" text-anchor="middle" stroke="#222" stroke-width="0.18">80,000</text>
<line x1="178.9" y1="410.5" x2="178.9" y2="412.5" stroke="#444" stroke-width="1"/>
<text x="178.9" y="419" font-size="6.1" font-weight="bold" fill="#222" text-anchor="middle" stroke="#222" stroke-width="0.18">100,000</text>
<text x="0" y="0" font-size="8.8" font-weight="bold" fill="#111" text-anchor="middle" transform="translate(34.3 370.8) rotate(-90)">CD3</text>
<text x="122.4" y="431.8" font-size="9.6" font-weight="bold" fill="#111" text-anchor="middle" >PD-1</text>
<text x="74" y="335.8" font-size="8.6" font-weight="bold" fill="#111"><tspan font-style="italic">R</tspan> = 0.553</text>
<text x="71.2" y="346.6" font-size="8.6" font-weight="bold" fill="#111"><tspan font-style="italic">P</tspan> &lt; 0.0001</text>
<path fill="#000" d="M87.9 390.4h1.6v1.6h-1.6zM79.8 398.7h1.6v1.6h-1.6zM84.7 401.9h1.6v1.6h-1.6zM113.9 385.9h1.6v1.6h-1.6zM86.6 395.7h1.6v1.6h-1.6zM100.3 394.0h1.6v1.6h-1.6zM93.2 401.9h1.6v1.6h-1.6zM83.8 402.9h1.6v1.6h-1.6zM77.5 407.0h1.6v1.6h-1.6zM76.0 405.3h1.6v1.6h-1.6zM85.4 401.8h1.6v1.6h-1.6zM87.6 404.5h1.6v1.6h-1.6zM86.2 398.9h1.6v1.6h-1.6zM95.2 400.8h1.6v1.6h-1.6zM83.6 406.6h1.6v1.6h-1.6zM82.8 407.0h1.6v1.6h-1.6zM77.1 400.2h1.6v1.6h-1.6zM73.7 403.8h1.6v1.6h-1.6zM90.2 400.0h1.6v1.6h-1.6zM91.7 394.0h1.6v1.6h-1.6zM99.1 396.0h1.6v1.6h-1.6zM82.1 404.0h1.6v1.6h-1.6zM79.5 403.3h1.6v1.6h-1.6zM80.8 397.5h1.6v1.6h-1.6zM75.0 407.1h1.6v1.6h-1.6zM79.7 407.4h1.6v1.6h-1.6zM114.0 403.1h1.6v1.6h-1.6zM84.5 402.9h1.6v1.6h-1.6zM109.2 402.3h1.6v1.6h-1.6zM99.5 398.9h1.6v1.6h-1.6zM85.6 403.1h1.6v1.6h-1.6zM93.8 402.3h1.6v1.6h-1.6zM86.3 398.2h1.6v1.6h-1.6zM112.7 403.2h1.6v1.6h-1.6zM106.8 379.5h1.6v1.6h-1.6zM82.9 400.3h1.6v1.6h-1.6zM83.1 391.1h1.6v1.6h-1.6zM89.0 400.0h1.6v1.6h-1.6zM85.0 401.5h1.6v1.6h-1.6zM85.4 403.8h1.6v1.6h-1.6zM117.3 400.6h1.6v1.6h-1.6zM69.8 407.6h1.6v1.6h-1.6zM85.7 398.5h1.6v1.6h-1.6zM85.2 401.2h1.6v1.6h-1.6zM90.3 391.2h1.6v1.6h-1.6zM83.2 402.9h1.6v1.6h-1.6zM114.8 380.5h1.6v1.6h-1.6zM79.5 388.7h1.6v1.6h-1.6zM95.5 399.5h1.6v1.6h-1.6zM78.4 402.7h1.6v1.6h-1.6zM80.5 405.6h1.6v1.6h-1.6zM77.7 405.2h1.6v1.6h-1.6zM100.0 397.0h1.6v1.6h-1.6zM76.9 402.2h1.6v1.6h-1.6zM87.6 394.1h1.6v1.6h-1.6zM101.5 394.6h1.6v1.6h-1.6zM85.7 400.6h1.6v1.6h-1.6zM78.6 401.1h1.6v1.6h-1.6zM104.2 390.4h1.6v1.6h-1.6zM84.9 401.8h1.6v1.6h-1.6zM80.8 404.9h1.6v1.6h-1.6zM83.6 404.2h1.6v1.6h-1.6zM83.3 405.9h1.6v1.6h-1.6zM90.5 397.9h1.6v1.6h-1.6zM78.5 407.8h1.6v1.6h-1.6zM86.9 392.5h1.6v1.6h-1.6zM81.1 404.0h1.6v1.6h-1.6zM82.3 398.9h1.6v1.6h-1.6zM79.9 398.6h1.6v1.6h-1.6zM84.3 395.8h1.6v1.6h-1.6zM87.3 400.7h1.6v1.6h-1.6zM76.8 405.9h1.6v1.6h-1.6zM84.7 397.3h1.6v1.6h-1.6zM89.4 401.9h1.6v1.6h-1.6zM91.1 390.4h1.6v1.6h-1.6zM85.6 402.2h1.6v1.6h-1.6zM83.6 397.1h1.6v1.6h-1.6zM92.6 401.9h1.6v1.6h-1.6zM90.7 400.6h1.6v1.6h-1.6zM81.0 396.2h1.6v1.6h-1.6zM96.1 400.0h1.6v1.6h-1.6zM87.7 396.5h1.6v1.6h-1.6zM81.8 402.6h1.6v1.6h-1.6zM94.1 404.3h1.6v1.6h-1.6zM90.2 393.2h1.6v1.6h-1.6zM92.2 403.4h1.6v1.6h-1.6zM90.1 402.3h1.6v1.6h-1.6zM92.9 392.6h1.6v1.6h-1.6zM89.1 402.3h1.6v1.6h-1.6zM82.1 397.8h1.6v1.6h-1.6zM80.0 401.0h1.6v1.6h-1.6zM92.3 399.0h1.6v1.6h-1.6zM73.5 403.4h1.6v1.6h-1.6zM93.7 398.6h1.6v1.6h-1.6zM86.5 406.0h1.6v1.6h-1.6zM81.8 405.2h1.6v1.6h-1.6zM85.0 395.6h1.6v1.6h-1.6zM87.5 397.5h1.6v1.6h-1.6zM81.4 403.7h1.6v1.6h-1.6zM88.0 400.7h1.6v1.6h-1.6zM102.4 398.8h1.6v1.6h-1.6zM113.7 396.3h1.6v1.6h-1.6zM99.3 399.2h1.6v1.6h-1.6zM109.0 388.5h1.6v1.6h-1.6zM91.0 392.7h1.6v1.6h-1.6zM81.8 405.2h1.6v1.6h-1.6zM74.3 401.9h1.6v1.6h-1.6zM81.4 404.2h1.6v1.6h-1.6zM86.7 383.2h1.6v1.6h-1.6zM75.6 404.3h1.6v1.6h-1.6zM83.6 398.7h1.6v1.6h-1.6zM75.3 405.9h1.6v1.6h-1.6zM96.3 378.9h1.6v1.6h-1.6zM108.1 397.0h1.6v1.6h-1.6zM87.5 400.1h1.6v1.6h-1.6zM77.3 407.0h1.6v1.6h-1.6zM95.2 394.3h1.6v1.6h-1.6zM85.7 392.5h1.6v1.6h-1.6zM79.4 401.2h1.6v1.6h-1.6zM87.1 400.0h1.6v1.6h-1.6zM92.0 396.4h1.6v1.6h-1.6zM89.6 397.0h1.6v1.6h-1.6zM114.7 390.5h1.6v1.6h-1.6zM98.7 389.1h1.6v1.6h-1.6zM84.0 396.9h1.6v1.6h-1.6zM80.3 397.3h1.6v1.6h-1.6zM80.6 404.2h1.6v1.6h-1.6zM90.2 392.5h1.6v1.6h-1.6zM97.2 387.0h1.6v1.6h-1.6zM85.1 404.1h1.6v1.6h-1.6zM92.7 395.2h1.6v1.6h-1.6zM79.7 398.9h1.6v1.6h-1.6zM88.9 403.0h1.6v1.6h-1.6zM91.5 403.5h1.6v1.6h-1.6zM80.2 401.3h1.6v1.6h-1.6zM76.4 404.4h1.6v1.6h-1.6zM77.4 401.6h1.6v1.6h-1.6zM81.2 401.7h1.6v1.6h-1.6zM76.6 405.3h1.6v1.6h-1.6zM97.8 391.1h1.6v1.6h-1.6zM75.1 402.4h1.6v1.6h-1.6zM97.0 397.7h1.6v1.6h-1.6zM104.9 399.1h1.6v1.6h-1.6zM86.2 393.0h1.6v1.6h-1.6zM103.2 377.1h1.6v1.6h-1.6zM78.8 407.1h1.6v1.6h-1.6zM90.9 404.0h1.6v1.6h-1.6zM85.8 404.8h1.6v1.6h-1.6zM99.4 386.5h1.6v1.6h-1.6zM92.8 397.1h1.6v1.6h-1.6zM87.4 401.0h1.6v1.6h-1.6zM90.8 396.5h1.6v1.6h-1.6zM91.7 400.0h1.6v1.6h-1.6zM113.9 384.3h1.6v1.6h-1.6zM104.5 375.0h1.6v1.6h-1.6zM80.2 406.7h1.6v1.6h-1.6zM102.3 395.8h1.6v1.6h-1.6zM87.7 400.7h1.6v1.6h-1.6zM88.2 403.9h1.6v1.6h-1.6zM86.0 402.2h1.6v1.6h-1.6zM86.8 406.6h1.6v1.6h-1.6zM96.1 393.2h1.6v1.6h-1.6zM75.6 406.4h1.6v1.6h-1.6zM87.3 395.9h1.6v1.6h-1.6zM87.0 389.9h1.6v1.6h-1.6zM87.2 403.6h1.6v1.6h-1.6zM81.5 398.9h1.6v1.6h-1.6zM82.0 398.0h1.6v1.6h-1.6zM98.8 389.3h1.6v1.6h-1.6zM98.7 395.8h1.6v1.6h-1.6zM86.9 402.3h1.6v1.6h-1.6zM82.0 406.2h1.6v1.6h-1.6zM82.4 405.1h1.6v1.6h-1.6zM77.0 403.8h1.6v1.6h-1.6zM91.6 399.6h1.6v1.6h-1.6zM104.1 381.5h1.6v1.6h-1.6zM99.1 398.3h1.6v1.6h-1.6zM76.7 402.7h1.6v1.6h-1.6zM90.0 393.5h1.6v1.6h-1.6zM91.2 387.5h1.6v1.6h-1.6zM84.5 397.4h1.6v1.6h-1.6zM80.1 407.6h1.6v1.6h-1.6zM83.2 392.3h1.6v1.6h-1.6zM75.8 401.5h1.6v1.6h-1.6zM81.5 403.6h1.6v1.6h-1.6zM87.4 398.5h1.6v1.6h-1.6zM79.6 402.7h1.6v1.6h-1.6zM91.5 391.6h1.6v1.6h-1.6zM81.0 394.0h1.6v1.6h-1.6zM77.5 403.5h1.6v1.6h-1.6zM75.0 404.2h1.6v1.6h-1.6zM92.8 402.6h1.6v1.6h-1.6zM76.2 404.1h1.6v1.6h-1.6zM93.6 401.0h1.6v1.6h-1.6zM84.7 407.2h1.6v1.6h-1.6zM81.3 401.8h1.6v1.6h-1.6zM88.4 386.4h1.6v1.6h-1.6zM78.6 407.7h1.6v1.6h-1.6zM91.6 400.8h1.6v1.6h-1.6zM89.8 393.7h1.6v1.6h-1.6zM93.3 383.4h1.6v1.6h-1.6zM103.9 402.1h1.6v1.6h-1.6zM86.4 383.4h1.6v1.6h-1.6zM83.5 396.1h1.6v1.6h-1.6zM86.5 401.8h1.6v1.6h-1.6zM107.8 377.2h1.6v1.6h-1.6zM84.8 395.6h1.6v1.6h-1.6zM77.6 405.7h1.6v1.6h-1.6zM97.1 394.9h1.6v1.6h-1.6zM79.0 401.7h1.6v1.6h-1.6zM90.2 388.0h1.6v1.6h-1.6zM97.9 396.8h1.6v1.6h-1.6zM82.9 402.1h1.6v1.6h-1.6zM84.9 391.0h1.6v1.6h-1.6zM107.9 371.6h1.6v1.6h-1.6zM90.8 399.4h1.6v1.6h-1.6zM97.2 397.5h1.6v1.6h-1.6zM89.3 404.9h1.6v1.6h-1.6zM83.4 392.6h1.6v1.6h-1.6zM79.2 406.6h1.6v1.6h-1.6zM85.5 388.4h1.6v1.6h-1.6zM105.5 394.5h1.6v1.6h-1.6zM83.0 402.0h1.6v1.6h-1.6zM79.8 402.9h1.6v1.6h-1.6zM84.4 405.5h1.6v1.6h-1.6zM82.2 402.9h1.6v1.6h-1.6zM80.3 405.8h1.6v1.6h-1.6zM97.2 372.3h1.6v1.6h-1.6zM84.5 402.6h1.6v1.6h-1.6zM92.2 398.8h1.6v1.6h-1.6zM80.8 395.4h1.6v1.6h-1.6zM79.2 405.3h1.6v1.6h-1.6zM81.6 404.9h1.6v1.6h-1.6zM84.9 397.7h1.6v1.6h-1.6zM105.3 384.4h1.6v1.6h-1.6zM87.3 404.3h1.6v1.6h-1.6zM86.4 403.7h1.6v1.6h-1.6zM86.1 394.2h1.6v1.6h-1.6zM89.0 400.0h1.6v1.6h-1.6zM81.0 402.5h1.6v1.6h-1.6zM88.0 403.2h1.6v1.6h-1.6zM82.8 397.2h1.6v1.6h-1.6zM75.9 405.7h1.6v1.6h-1.6zM78.4 396.5h1.6v1.6h-1.6zM93.4 393.2h1.6v1.6h-1.6zM91.0 396.2h1.6v1.6h-1.6zM89.9 404.6h1.6v1.6h-1.6zM89.5 394.8h1.6v1.6h-1.6zM77.0 401.5h1.6v1.6h-1.6zM94.1 403.6h1.6v1.6h-1.6zM83.0 402.7h1.6v1.6h-1.6zM82.6 400.0h1.6v1.6h-1.6zM77.8 404.5h1.6v1.6h-1.6zM89.2 394.0h1.6v1.6h-1.6zM87.4 400.7h1.6v1.6h-1.6zM94.4 404.8h1.6v1.6h-1.6zM97.6 397.1h1.6v1.6h-1.6zM78.0 405.0h1.6v1.6h-1.6zM75.1 408.0h1.6v1.6h-1.6zM84.1 403.8h1.6v1.6h-1.6zM94.9 401.0h1.6v1.6h-1.6zM77.7 406.1h1.6v1.6h-1.6zM110.3 389.0h1.6v1.6h-1.6zM82.0 405.0h1.6v1.6h-1.6zM78.8 403.9h1.6v1.6h-1.6zM91.3 388.6h1.6v1.6h-1.6zM100.6 391.3h1.6v1.6h-1.6zM81.6 404.8h1.6v1.6h-1.6zM73.3 407.4h1.6v1.6h-1.6zM91.2 399.7h1.6v1.6h-1.6zM90.7 403.8h1.6v1.6h-1.6zM97.1 392.9h1.6v1.6h-1.6zM87.4 397.4h1.6v1.6h-1.6zM73.5 406.8h1.6v1.6h-1.6zM80.0 392.9h1.6v1.6h-1.6zM85.3 402.6h1.6v1.6h-1.6zM96.5 401.3h1.6v1.6h-1.6zM105.0 397.0h1.6v1.6h-1.6zM86.4 403.6h1.6v1.6h-1.6zM95.9 405.0h1.6v1.6h-1.6zM94.4 400.9h1.6v1.6h-1.6zM87.4 404.0h1.6v1.6h-1.6zM89.2 397.7h1.6v1.6h-1.6zM93.2 394.8h1.6v1.6h-1.6zM93.6 388.5h1.6v1.6h-1.6zM83.6 405.0h1.6v1.6h-1.6zM77.8 401.5h1.6v1.6h-1.6zM83.7 395.4h1.6v1.6h-1.6zM87.4 403.6h1.6v1.6h-1.6zM97.2 371.4h1.6v1.6h-1.6zM85.4 403.9h1.6v1.6h-1.6zM80.4 398.8h1.6v1.6h-1.6zM82.2 403.4h1.6v1.6h-1.6zM94.3 396.4h1.6v1.6h-1.6zM88.1 401.8h1.6v1.6h-1.6zM81.8 401.5h1.6v1.6h-1.6zM88.5 395.5h1.6v1.6h-1.6zM82.8 400.1h1.6v1.6h-1.6zM91.9 397.1h1.6v1.6h-1.6zM93.0 388.8h1.6v1.6h-1.6zM88.9 398.5h1.6v1.6h-1.6zM79.6 401.9h1.6v1.6h-1.6zM86.1 401.5h1.6v1.6h-1.6zM80.5 400.4h1.6v1.6h-1.6zM87.8 396.9h1.6v1.6h-1.6zM82.1 401.6h1.6v1.6h-1.6zM81.6 404.2h1.6v1.6h-1.6zM89.2 397.4h1.6v1.6h-1.6zM86.0 403.3h1.6v1.6h-1.6zM89.6 403.3h1.6v1.6h-1.6zM95.4 398.2h1.6v1.6h-1.6zM87.0 395.0h1.6v1.6h-1.6zM92.8 403.1h1.6v1.6h-1.6zM84.8 399.0h1.6v1.6h-1.6zM78.9 407.8h1.6v1.6h-1.6zM86.3 400.3h1.6v1.6h-1.6zM91.3 397.3h1.6v1.6h-1.6zM88.2 397.9h1.6v1.6h-1.6zM104.2 387.2h1.6v1.6h-1.6zM92.6 399.5h1.6v1.6h-1.6zM100.3 395.2h1.6v1.6h-1.6zM95.0 405.0h1.6v1.6h-1.6zM89.4 399.2h1.6v1.6h-1.6zM83.1 394.1h1.6v1.6h-1.6zM91.1 398.7h1.6v1.6h-1.6zM82.6 389.4h1.6v1.6h-1.6zM95.1 390.9h1.6v1.6h-1.6zM80.9 395.9h1.6v1.6h-1.6zM92.8 398.7h1.6v1.6h-1.6zM86.0 405.5h1.6v1.6h-1.6zM93.9 402.1h1.6v1.6h-1.6zM96.3 398.4h1.6v1.6h-1.6zM81.9 400.5h1.6v1.6h-1.6zM89.0 403.5h1.6v1.6h-1.6zM86.3 396.7h1.6v1.6h-1.6zM84.8 405.1h1.6v1.6h-1.6zM84.8 404.2h1.6v1.6h-1.6zM82.2 401.7h1.6v1.6h-1.6zM86.5 401.0h1.6v1.6h-1.6zM75.9 403.8h1.6v1.6h-1.6zM85.2 402.3h1.6v1.6h-1.6zM88.5 382.0h1.6v1.6h-1.6zM77.8 407.1h1.6v1.6h-1.6zM95.3 400.5h1.6v1.6h-1.6zM102.9 399.2h1.6v1.6h-1.6zM82.9 397.4h1.6v1.6h-1.6zM97.2 391.6h1.6v1.6h-1.6zM91.6 398.5h1.6v1.6h-1.6zM83.3 402.2h1.6v1.6h-1.6zM102.4 385.7h1.6v1.6h-1.6zM87.1 398.0h1.6v1.6h-1.6zM96.1 384.4h1.6v1.6h-1.6zM85.8 400.7h1.6v1.6h-1.6zM89.3 389.1h1.6v1.6h-1.6zM76.5 401.7h1.6v1.6h-1.6zM77.2 406.5h1.6v1.6h-1.6zM81.8 402.6h1.6v1.6h-1.6zM88.7 396.9h1.6v1.6h-1.6zM89.1 400.9h1.6v1.6h-1.6zM94.1 373.9h1.6v1.6h-1.6zM97.9 389.9h1.6v1.6h-1.6zM90.2 381.0h1.6v1.6h-1.6zM79.0 405.8h1.6v1.6h-1.6zM88.4 405.9h1.6v1.6h-1.6zM80.9 397.1h1.6v1.6h-1.6zM83.1 400.8h1.6v1.6h-1.6zM94.4 402.3h1.6v1.6h-1.6zM89.6 401.6h1.6v1.6h-1.6zM78.9 404.2h1.6v1.6h-1.6zM86.5 401.8h1.6v1.6h-1.6zM81.7 397.6h1.6v1.6h-1.6zM100.6 388.6h1.6v1.6h-1.6zM86.1 404.0h1.6v1.6h-1.6zM80.6 405.6h1.6v1.6h-1.6zM89.0 392.7h1.6v1.6h-1.6zM97.2 395.4h1.6v1.6h-1.6zM83.7 400.5h1.6v1.6h-1.6zM88.1 395.7h1.6v1.6h-1.6zM105.7 396.6h1.6v1.6h-1.6zM117.6 401.3h1.6v1.6h-1.6zM75.4 407.5h1.6v1.6h-1.6zM79.3 403.9h1.6v1.6h-1.6zM117.0 393.1h1.6v1.6h-1.6zM99.8 396.6h1.6v1.6h-1.6zM88.4 403.3h1.6v1.6h-1.6zM82.0 386.0h1.6v1.6h-1.6zM88.7 396.6h1.6v1.6h-1.6zM85.7 403.5h1.6v1.6h-1.6zM77.1 404.7h1.6v1.6h-1.6zM108.1 385.8h1.6v1.6h-1.6zM85.4 394.1h1.6v1.6h-1.6zM79.9 396.4h1.6v1.6h-1.6zM86.8 403.2h1.6v1.6h-1.6zM94.2 392.7h1.6v1.6h-1.6zM84.0 400.1h1.6v1.6h-1.6zM98.1 379.8h1.6v1.6h-1.6zM80.4 407.8h1.6v1.6h-1.6zM116.6 389.3h1.6v1.6h-1.6zM83.5 399.4h1.6v1.6h-1.6zM83.4 395.8h1.6v1.6h-1.6zM78.1 404.4h1.6v1.6h-1.6zM78.0 397.2h1.6v1.6h-1.6zM84.8 394.3h1.6v1.6h-1.6zM104.2 399.9h1.6v1.6h-1.6zM85.0 396.8h1.6v1.6h-1.6zM90.9 409.0h1.6v1.6h-1.6zM97.1 408.8h1.6v1.6h-1.6zM95.1 408.8h1.6v1.6h-1.6zM69.3 409.1h1.6v1.6h-1.6zM102.5 409.1h1.6v1.6h-1.6zM100.9 409.1h1.6v1.6h-1.6zM85.3 409.1h1.6v1.6h-1.6zM88.0 409.1h1.6v1.6h-1.6zM68.8 409.1h1.6v1.6h-1.6zM78.4 408.8h1.6v1.6h-1.6zM96.0 409.1h1.6v1.6h-1.6zM97.2 409.1h1.6v1.6h-1.6zM90.7 409.1h1.6v1.6h-1.6zM68.4 408.9h1.6v1.6h-1.6zM75.9 409.1h1.6v1.6h-1.6zM96.6 347.7h1.6v1.6h-1.6zM118.1 350.6h1.6v1.6h-1.6zM172.4 383.5h1.6v1.6h-1.6zM102.3 366.5h1.6v1.6h-1.6zM111.3 373.1h1.6v1.6h-1.6zM117.0 385.8h1.6v1.6h-1.6z"/>
<line x1="222" y1="331" x2="222" y2="409.8" stroke="#444" stroke-width="1.2"/>
<line x1="221.5" y1="409.3" x2="338.2" y2="409.3" stroke="#444" stroke-width="1"/>
<line x1="220" y1="409.3" x2="222" y2="409.3" stroke="#444" stroke-width="1"/>
<text x="219.4" y="411.45" font-size="6.1" font-weight="bold" fill="#222" text-anchor="end" stroke="#222" stroke-width="0.18">0</text>
<line x1="220" y1="393.64" x2="222" y2="393.64" stroke="#444" stroke-width="1"/>
<text x="219.4" y="395.79" font-size="6.1" font-weight="bold" fill="#222" text-anchor="end" stroke="#222" stroke-width="0.18">100,000</text>
<line x1="220" y1="377.98" x2="222" y2="377.98" stroke="#444" stroke-width="1"/>
<text x="219.4" y="380.13" font-size="6.1" font-weight="bold" fill="#222" text-anchor="end" stroke="#222" stroke-width="0.18">200,000</text>
<line x1="220" y1="362.32" x2="222" y2="362.32" stroke="#444" stroke-width="1"/>
<text x="219.4" y="364.47" font-size="6.1" font-weight="bold" fill="#222" text-anchor="end" stroke="#222" stroke-width="0.18">300,000</text>
<line x1="220" y1="346.66" x2="222" y2="346.66" stroke="#444" stroke-width="1"/>
<text x="219.4" y="348.81" font-size="6.1" font-weight="bold" fill="#222" text-anchor="end" stroke="#222" stroke-width="0.18">400,000</text>
<line x1="220" y1="331" x2="222" y2="331" stroke="#444" stroke-width="1"/>
<text x="219.4" y="333.15" font-size="6.1" font-weight="bold" fill="#222" text-anchor="end" stroke="#222" stroke-width="0.18">500,000</text>
<line x1="222" y1="409.3" x2="222" y2="411.3" stroke="#444" stroke-width="1"/>
<text x="222" y="418" font-size="6.1" font-weight="bold" fill="#222" text-anchor="middle" stroke="#222" stroke-width="0.18">0</text>
<line x1="280.1" y1="409.3" x2="280.1" y2="411.3" stroke="#444" stroke-width="1"/>
<text x="280.1" y="418" font-size="6.1" font-weight="bold" fill="#222" text-anchor="middle" stroke="#222" stroke-width="0.18">60,000</text>
<line x1="338.2" y1="409.3" x2="338.2" y2="411.3" stroke="#444" stroke-width="1"/>
<text x="338.2" y="418" font-size="6.1" font-weight="bold" fill="#222" text-anchor="middle" stroke="#222" stroke-width="0.18">120,000</text>
<text x="0" y="0" font-size="8.8" font-weight="bold" fill="#111" text-anchor="middle" transform="translate(192.1 370.8) rotate(-90)">CD3</text>
<text x="279.3" y="430.9" font-size="9.6" font-weight="bold" fill="#111" text-anchor="middle" >LAG-3</text>
<text x="228.9" y="334.6" font-size="8.6" font-weight="bold" fill="#111"><tspan font-style="italic">R</tspan> = 0.6109</text>
<text x="228.7" y="346.6" font-size="8.6" font-weight="bold" fill="#111"><tspan font-style="italic">P</tspan> &lt; 0.0001</text>
<path fill="#000" d="M238.4 395.9h1.6v1.6h-1.6zM235.8 398.4h1.6v1.6h-1.6zM244.2 392.0h1.6v1.6h-1.6zM249.6 397.9h1.6v1.6h-1.6zM238.5 401.4h1.6v1.6h-1.6zM234.3 401.6h1.6v1.6h-1.6zM239.4 395.4h1.6v1.6h-1.6zM241.2 372.9h1.6v1.6h-1.6zM243.7 402.6h1.6v1.6h-1.6zM239.3 400.8h1.6v1.6h-1.6zM235.5 392.5h1.6v1.6h-1.6zM236.9 405.0h1.6v1.6h-1.6zM240.0 399.1h1.6v1.6h-1.6zM232.7 404.3h1.6v1.6h-1.6zM235.0 400.6h1.6v1.6h-1.6zM235.9 399.6h1.6v1.6h-1.6zM252.3 396.4h1.6v1.6h-1.6zM234.2 401.8h1.6v1.6h-1.6zM245.5 398.6h1.6v1.6h-1.6zM248.4 400.3h1.6v1.6h-1.6zM233.3 401.7h1.6v1.6h-1.6zM233.9 403.1h1.6v1.6h-1.6zM240.9 392.1h1.6v1.6h-1.6zM238.8 399.6h1.6v1.6h-1.6zM247.6 389.7h1.6v1.6h-1.6zM236.9 391.7h1.6v1.6h-1.6zM233.8 400.5h1.6v1.6h-1.6zM242.3 396.3h1.6v1.6h-1.6zM235.2 398.8h1.6v1.6h-1.6zM235.4 402.4h1.6v1.6h-1.6zM233.3 395.0h1.6v1.6h-1.6zM235.3 393.8h1.6v1.6h-1.6zM240.4 398.7h1.6v1.6h-1.6zM242.3 394.4h1.6v1.6h-1.6zM238.9 403.3h1.6v1.6h-1.6zM238.5 392.7h1.6v1.6h-1.6zM241.1 389.4h1.6v1.6h-1.6zM248.9 388.7h1.6v1.6h-1.6zM253.7 399.6h1.6v1.6h-1.6zM236.9 405.9h1.6v1.6h-1.6zM243.4 394.9h1.6v1.6h-1.6zM250.8 394.2h1.6v1.6h-1.6zM229.9 398.9h1.6v1.6h-1.6zM232.1 405.1h1.6v1.6h-1.6zM237.2 395.8h1.6v1.6h-1.6zM235.5 399.3h1.6v1.6h-1.6zM230.3 395.9h1.6v1.6h-1.6zM237.8 398.3h1.6v1.6h-1.6zM241.8 395.5h1.6v1.6h-1.6zM239.3 401.9h1.6v1.6h-1.6zM237.5 396.7h1.6v1.6h-1.6zM245.1 395.4h1.6v1.6h-1.6zM238.7 396.5h1.6v1.6h-1.6zM241.7 395.3h1.6v1.6h-1.6zM236.8 401.5h1.6v1.6h-1.6zM245.8 391.9h1.6v1.6h-1.6zM243.9 388.3h1.6v1.6h-1.6zM239.0 402.3h1.6v1.6h-1.6zM245.9 394.8h1.6v1.6h-1.6zM238.4 391.7h1.6v1.6h-1.6zM244.9 392.9h1.6v1.6h-1.6zM238.3 380.2h1.6v1.6h-1.6zM241.7 401.4h1.6v1.6h-1.6zM242.9 394.9h1.6v1.6h-1.6zM238.3 394.5h1.6v1.6h-1.6zM239.5 379.4h1.6v1.6h-1.6zM239.3 396.5h1.6v1.6h-1.6zM246.1 397.6h1.6v1.6h-1.6zM244.9 395.1h1.6v1.6h-1.6zM246.2 399.0h1.6v1.6h-1.6zM240.7 403.4h1.6v1.6h-1.6zM235.8 399.9h1.6v1.6h-1.6zM241.2 377.3h1.6v1.6h-1.6zM252.3 399.2h1.6v1.6h-1.6zM234.4 394.1h1.6v1.6h-1.6zM240.8 402.7h1.6v1.6h-1.6zM241.1 401.9h1.6v1.6h-1.6zM234.0 404.5h1.6v1.6h-1.6zM236.8 380.6h1.6v1.6h-1.6zM240.4 397.9h1.6v1.6h-1.6zM260.0 390.6h1.6v1.6h-1.6zM237.3 400.3h1.6v1.6h-1.6zM240.7 398.8h1.6v1.6h-1.6zM248.6 394.7h1.6v1.6h-1.6zM241.6 395.2h1.6v1.6h-1.6zM234.0 403.9h1.6v1.6h-1.6zM237.9 405.4h1.6v1.6h-1.6zM238.2 398.2h1.6v1.6h-1.6zM239.0 398.5h1.6v1.6h-1.6zM240.2 399.2h1.6v1.6h-1.6zM242.1 403.1h1.6v1.6h-1.6zM244.1 399.9h1.6v1.6h-1.6zM241.1 399.3h1.6v1.6h-1.6zM235.9 402.7h1.6v1.6h-1.6zM247.6 399.6h1.6v1.6h-1.6zM232.6 401.1h1.6v1.6h-1.6zM239.7 397.5h1.6v1.6h-1.6zM233.5 403.3h1.6v1.6h-1.6zM244.0 400.6h1.6v1.6h-1.6zM241.9 391.1h1.6v1.6h-1.6zM238.9 402.9h1.6v1.6h-1.6zM253.0 388.8h1.6v1.6h-1.6zM239.3 399.8h1.6v1.6h-1.6zM233.6 402.2h1.6v1.6h-1.6zM239.3 401.6h1.6v1.6h-1.6zM238.8 390.3h1.6v1.6h-1.6zM240.8 397.6h1.6v1.6h-1.6zM245.1 386.4h1.6v1.6h-1.6zM244.0 399.6h1.6v1.6h-1.6zM230.5 400.4h1.6v1.6h-1.6zM238.5 400.1h1.6v1.6h-1.6zM241.1 399.2h1.6v1.6h-1.6zM235.0 388.7h1.6v1.6h-1.6zM231.3 399.6h1.6v1.6h-1.6zM244.9 375.2h1.6v1.6h-1.6zM239.6 394.7h1.6v1.6h-1.6zM233.8 401.1h1.6v1.6h-1.6zM229.7 404.8h1.6v1.6h-1.6zM238.0 399.2h1.6v1.6h-1.6zM235.7 393.4h1.6v1.6h-1.6zM231.3 402.2h1.6v1.6h-1.6zM236.1 399.7h1.6v1.6h-1.6zM238.5 382.0h1.6v1.6h-1.6zM233.1 394.9h1.6v1.6h-1.6zM248.1 393.8h1.6v1.6h-1.6zM235.1 404.1h1.6v1.6h-1.6zM234.0 387.9h1.6v1.6h-1.6zM229.5 402.4h1.6v1.6h-1.6zM234.7 388.3h1.6v1.6h-1.6zM240.0 402.9h1.6v1.6h-1.6zM235.5 399.3h1.6v1.6h-1.6zM238.9 402.1h1.6v1.6h-1.6zM236.6 401.3h1.6v1.6h-1.6zM241.1 395.2h1.6v1.6h-1.6zM239.5 400.6h1.6v1.6h-1.6zM243.2 398.8h1.6v1.6h-1.6zM234.1 402.4h1.6v1.6h-1.6zM236.4 400.9h1.6v1.6h-1.6zM230.2 398.2h1.6v1.6h-1.6zM242.0 385.1h1.6v1.6h-1.6zM236.1 395.9h1.6v1.6h-1.6zM239.3 397.8h1.6v1.6h-1.6zM251.8 395.2h1.6v1.6h-1.6zM241.7 403.5h1.6v1.6h-1.6zM241.6 397.6h1.6v1.6h-1.6zM233.3 403.2h1.6v1.6h-1.6zM229.7 405.6h1.6v1.6h-1.6zM239.1 405.7h1.6v1.6h-1.6zM245.4 385.6h1.6v1.6h-1.6zM234.4 404.8h1.6v1.6h-1.6zM231.9 405.2h1.6v1.6h-1.6zM234.4 385.7h1.6v1.6h-1.6zM232.9 398.6h1.6v1.6h-1.6zM246.7 399.2h1.6v1.6h-1.6zM236.7 395.8h1.6v1.6h-1.6zM234.9 393.7h1.6v1.6h-1.6zM255.5 389.0h1.6v1.6h-1.6zM234.1 398.4h1.6v1.6h-1.6zM240.1 400.9h1.6v1.6h-1.6zM237.4 398.7h1.6v1.6h-1.6zM241.2 387.9h1.6v1.6h-1.6zM235.7 404.1h1.6v1.6h-1.6zM231.1 393.9h1.6v1.6h-1.6zM236.0 401.5h1.6v1.6h-1.6zM256.7 389.5h1.6v1.6h-1.6zM234.7 402.5h1.6v1.6h-1.6zM242.2 393.4h1.6v1.6h-1.6zM240.5 373.6h1.6v1.6h-1.6zM247.7 399.5h1.6v1.6h-1.6zM240.8 393.2h1.6v1.6h-1.6zM234.5 383.9h1.6v1.6h-1.6zM244.1 380.1h1.6v1.6h-1.6zM235.4 403.8h1.6v1.6h-1.6zM242.9 397.0h1.6v1.6h-1.6zM235.2 400.7h1.6v1.6h-1.6zM239.4 397.1h1.6v1.6h-1.6zM237.0 396.9h1.6v1.6h-1.6zM235.5 385.4h1.6v1.6h-1.6zM235.7 404.6h1.6v1.6h-1.6zM231.9 406.3h1.6v1.6h-1.6zM246.0 400.2h1.6v1.6h-1.6zM231.8 403.9h1.6v1.6h-1.6zM237.0 403.6h1.6v1.6h-1.6zM235.2 400.4h1.6v1.6h-1.6zM242.2 400.9h1.6v1.6h-1.6zM241.5 395.1h1.6v1.6h-1.6zM241.5 399.5h1.6v1.6h-1.6zM232.7 397.7h1.6v1.6h-1.6zM241.7 400.0h1.6v1.6h-1.6zM234.2 397.8h1.6v1.6h-1.6zM254.1 385.6h1.6v1.6h-1.6zM260.1 382.1h1.6v1.6h-1.6zM240.1 394.5h1.6v1.6h-1.6zM245.4 401.9h1.6v1.6h-1.6zM239.0 389.1h1.6v1.6h-1.6zM231.3 401.9h1.6v1.6h-1.6zM242.8 378.8h1.6v1.6h-1.6zM249.6 392.2h1.6v1.6h-1.6zM254.8 397.3h1.6v1.6h-1.6zM231.8 396.4h1.6v1.6h-1.6zM242.3 401.6h1.6v1.6h-1.6zM245.5 386.7h1.6v1.6h-1.6zM242.7 398.5h1.6v1.6h-1.6zM232.3 405.7h1.6v1.6h-1.6zM236.9 400.0h1.6v1.6h-1.6zM235.5 402.2h1.6v1.6h-1.6zM244.2 401.0h1.6v1.6h-1.6zM234.4 387.7h1.6v1.6h-1.6zM234.9 402.7h1.6v1.6h-1.6zM245.3 402.9h1.6v1.6h-1.6zM250.2 399.7h1.6v1.6h-1.6zM234.0 404.6h1.6v1.6h-1.6zM233.5 403.6h1.6v1.6h-1.6zM244.2 395.6h1.6v1.6h-1.6zM247.9 385.6h1.6v1.6h-1.6zM232.4 401.9h1.6v1.6h-1.6zM235.0 402.0h1.6v1.6h-1.6zM238.8 396.2h1.6v1.6h-1.6zM240.7 404.6h1.6v1.6h-1.6zM237.3 401.1h1.6v1.6h-1.6zM252.5 392.5h1.6v1.6h-1.6zM237.9 398.8h1.6v1.6h-1.6zM243.1 401.4h1.6v1.6h-1.6zM237.4 399.7h1.6v1.6h-1.6zM238.0 399.9h1.6v1.6h-1.6zM235.3 400.0h1.6v1.6h-1.6zM232.1 394.2h1.6v1.6h-1.6zM238.0 404.6h1.6v1.6h-1.6zM236.6 394.1h1.6v1.6h-1.6zM237.0 400.0h1.6v1.6h-1.6zM229.1 399.1h1.6v1.6h-1.6zM238.4 404.8h1.6v1.6h-1.6zM235.7 390.9h1.6v1.6h-1.6zM240.4 403.3h1.6v1.6h-1.6zM235.2 399.3h1.6v1.6h-1.6zM254.8 386.5h1.6v1.6h-1.6zM242.8 397.9h1.6v1.6h-1.6zM238.4 402.5h1.6v1.6h-1.6zM232.1 405.3h1.6v1.6h-1.6zM235.1 393.4h1.6v1.6h-1.6zM237.9 390.8h1.6v1.6h-1.6zM243.0 394.8h1.6v1.6h-1.6zM235.5 384.0h1.6v1.6h-1.6zM245.8 381.8h1.6v1.6h-1.6zM239.4 395.7h1.6v1.6h-1.6zM241.6 371.8h1.6v1.6h-1.6zM233.3 405.7h1.6v1.6h-1.6zM235.6 400.1h1.6v1.6h-1.6zM235.1 395.6h1.6v1.6h-1.6zM241.9 396.7h1.6v1.6h-1.6zM238.5 382.1h1.6v1.6h-1.6zM236.2 392.3h1.6v1.6h-1.6zM232.8 405.8h1.6v1.6h-1.6zM251.1 381.4h1.6v1.6h-1.6zM242.4 383.1h1.6v1.6h-1.6zM250.7 388.6h1.6v1.6h-1.6zM239.8 393.7h1.6v1.6h-1.6zM243.7 394.1h1.6v1.6h-1.6zM232.1 386.2h1.6v1.6h-1.6zM234.5 402.8h1.6v1.6h-1.6zM241.9 396.7h1.6v1.6h-1.6zM248.5 395.8h1.6v1.6h-1.6zM240.2 397.7h1.6v1.6h-1.6zM247.1 398.8h1.6v1.6h-1.6zM233.6 405.4h1.6v1.6h-1.6zM241.4 394.1h1.6v1.6h-1.6zM242.8 389.0h1.6v1.6h-1.6zM232.6 402.9h1.6v1.6h-1.6zM233.1 395.5h1.6v1.6h-1.6zM243.9 402.0h1.6v1.6h-1.6zM241.6 395.8h1.6v1.6h-1.6zM239.0 393.7h1.6v1.6h-1.6zM235.2 401.5h1.6v1.6h-1.6zM234.9 402.7h1.6v1.6h-1.6zM233.3 395.8h1.6v1.6h-1.6zM241.9 397.7h1.6v1.6h-1.6zM231.1 390.3h1.6v1.6h-1.6zM238.5 397.2h1.6v1.6h-1.6zM242.4 379.0h1.6v1.6h-1.6zM236.7 405.7h1.6v1.6h-1.6zM236.6 399.5h1.6v1.6h-1.6zM235.3 391.1h1.6v1.6h-1.6zM235.9 398.3h1.6v1.6h-1.6zM234.2 397.2h1.6v1.6h-1.6zM234.8 396.4h1.6v1.6h-1.6zM239.1 397.1h1.6v1.6h-1.6zM240.2 403.5h1.6v1.6h-1.6zM235.9 398.8h1.6v1.6h-1.6zM236.2 392.3h1.6v1.6h-1.6zM244.0 399.2h1.6v1.6h-1.6zM246.4 395.2h1.6v1.6h-1.6zM241.7 386.1h1.6v1.6h-1.6zM233.0 403.9h1.6v1.6h-1.6zM238.0 399.7h1.6v1.6h-1.6zM231.0 400.4h1.6v1.6h-1.6zM239.2 396.7h1.6v1.6h-1.6zM240.1 392.5h1.6v1.6h-1.6zM234.2 399.5h1.6v1.6h-1.6zM236.0 401.6h1.6v1.6h-1.6zM234.0 394.6h1.6v1.6h-1.6zM228.8 405.4h1.6v1.6h-1.6zM242.6 397.8h1.6v1.6h-1.6zM235.0 394.8h1.6v1.6h-1.6zM233.7 402.1h1.6v1.6h-1.6zM240.7 399.7h1.6v1.6h-1.6zM235.6 399.7h1.6v1.6h-1.6zM244.8 399.8h1.6v1.6h-1.6zM241.5 396.9h1.6v1.6h-1.6zM236.4 403.9h1.6v1.6h-1.6zM251.5 384.9h1.6v1.6h-1.6zM239.8 399.1h1.6v1.6h-1.6zM250.3 396.1h1.6v1.6h-1.6zM233.4 403.6h1.6v1.6h-1.6zM238.0 396.9h1.6v1.6h-1.6zM230.0 402.5h1.6v1.6h-1.6zM239.8 389.8h1.6v1.6h-1.6zM236.5 389.6h1.6v1.6h-1.6zM254.3 393.7h1.6v1.6h-1.6zM236.8 393.4h1.6v1.6h-1.6zM246.6 393.6h1.6v1.6h-1.6zM246.1 401.8h1.6v1.6h-1.6zM244.5 391.4h1.6v1.6h-1.6zM244.2 391.3h1.6v1.6h-1.6zM242.5 398.5h1.6v1.6h-1.6zM248.2 402.9h1.6v1.6h-1.6zM239.8 400.5h1.6v1.6h-1.6zM253.7 397.7h1.6v1.6h-1.6zM239.0 398.2h1.6v1.6h-1.6zM243.5 395.4h1.6v1.6h-1.6zM233.2 401.9h1.6v1.6h-1.6zM246.3 386.8h1.6v1.6h-1.6zM234.7 404.3h1.6v1.6h-1.6zM232.4 402.3h1.6v1.6h-1.6zM237.4 400.5h1.6v1.6h-1.6zM235.6 399.2h1.6v1.6h-1.6zM247.6 382.8h1.6v1.6h-1.6zM236.0 395.6h1.6v1.6h-1.6zM236.9 390.9h1.6v1.6h-1.6zM245.2 385.8h1.6v1.6h-1.6zM256.8 373.1h1.6v1.6h-1.6zM244.3 381.0h1.6v1.6h-1.6zM233.3 402.4h1.6v1.6h-1.6zM236.5 394.6h1.6v1.6h-1.6zM238.5 403.0h1.6v1.6h-1.6zM234.5 401.4h1.6v1.6h-1.6zM235.9 401.6h1.6v1.6h-1.6zM231.7 401.9h1.6v1.6h-1.6zM232.4 403.1h1.6v1.6h-1.6zM235.1 401.4h1.6v1.6h-1.6zM248.7 395.4h1.6v1.6h-1.6zM236.1 406.0h1.6v1.6h-1.6zM234.0 400.0h1.6v1.6h-1.6zM236.6 395.0h1.6v1.6h-1.6zM236.7 394.8h1.6v1.6h-1.6zM239.9 389.5h1.6v1.6h-1.6zM236.8 394.1h1.6v1.6h-1.6zM235.8 402.6h1.6v1.6h-1.6zM246.1 401.1h1.6v1.6h-1.6zM233.8 391.6h1.6v1.6h-1.6zM239.3 395.6h1.6v1.6h-1.6zM239.7 397.8h1.6v1.6h-1.6zM254.1 388.7h1.6v1.6h-1.6zM248.6 392.3h1.6v1.6h-1.6zM234.8 401.5h1.6v1.6h-1.6zM238.6 371.2h1.6v1.6h-1.6zM235.2 398.2h1.6v1.6h-1.6zM231.5 400.5h1.6v1.6h-1.6zM237.5 396.8h1.6v1.6h-1.6zM238.8 400.3h1.6v1.6h-1.6zM238.7 398.2h1.6v1.6h-1.6zM245.3 394.8h1.6v1.6h-1.6zM237.6 403.5h1.6v1.6h-1.6zM244.0 396.1h1.6v1.6h-1.6zM233.9 394.9h1.6v1.6h-1.6zM244.4 395.0h1.6v1.6h-1.6zM238.6 403.2h1.6v1.6h-1.6zM229.0 403.6h1.6v1.6h-1.6zM231.6 400.1h1.6v1.6h-1.6zM236.4 398.4h1.6v1.6h-1.6zM235.5 398.1h1.6v1.6h-1.6zM243.3 394.7h1.6v1.6h-1.6zM243.1 389.6h1.6v1.6h-1.6zM237.4 404.4h1.6v1.6h-1.6zM242.2 399.4h1.6v1.6h-1.6zM233.3 405.7h1.6v1.6h-1.6zM230.7 397.7h1.6v1.6h-1.6zM251.9 373.3h1.6v1.6h-1.6zM254.6 401.0h1.6v1.6h-1.6zM243.0 402.1h1.6v1.6h-1.6zM231.7 400.1h1.6v1.6h-1.6zM244.4 399.9h1.6v1.6h-1.6zM231.1 405.9h1.6v1.6h-1.6zM237.1 394.1h1.6v1.6h-1.6zM254.0 384.6h1.6v1.6h-1.6zM233.3 404.4h1.6v1.6h-1.6zM238.4 394.7h1.6v1.6h-1.6zM229.9 402.7h1.6v1.6h-1.6zM234.9 396.4h1.6v1.6h-1.6zM230.9 399.4h1.6v1.6h-1.6zM248.3 376.6h1.6v1.6h-1.6zM249.4 391.1h1.6v1.6h-1.6zM238.7 402.7h1.6v1.6h-1.6zM237.9 402.0h1.6v1.6h-1.6zM241.8 391.2h1.6v1.6h-1.6zM237.3 387.8h1.6v1.6h-1.6zM232.0 403.8h1.6v1.6h-1.6zM249.8 407.7h1.6v1.6h-1.6zM233.7 407.6h1.6v1.6h-1.6zM239.5 407.9h1.6v1.6h-1.6zM231.8 407.6h1.6v1.6h-1.6zM243.1 407.6h1.6v1.6h-1.6zM247.8 407.9h1.6v1.6h-1.6zM235.4 407.9h1.6v1.6h-1.6zM230.4 407.9h1.6v1.6h-1.6zM234.0 407.9h1.6v1.6h-1.6zM227.1 407.9h1.6v1.6h-1.6zM254.0 346.2h1.6v1.6h-1.6zM256.1 350.1h1.6v1.6h-1.6zM260.9 366.4h1.6v1.6h-1.6zM275.4 378.4h1.6v1.6h-1.6zM278.3 385.3h1.6v1.6h-1.6zM291.9 396.3h1.6v1.6h-1.6zM305.4 394.9h1.6v1.6h-1.6zM314.2 385.3h1.6v1.6h-1.6zM267.7 392.8h1.6v1.6h-1.6zM264.8 385.0h1.6v1.6h-1.6z"/>
<line x1="388" y1="330.5" x2="388" y2="408.7" stroke="#444" stroke-width="1.2"/>
<line x1="387.5" y1="408.2" x2="503.8" y2="408.2" stroke="#444" stroke-width="1"/>
<line x1="386" y1="408.2" x2="388" y2="408.2" stroke="#444" stroke-width="1"/>
<text x="385.4" y="410.35" font-size="6.1" font-weight="bold" fill="#222" text-anchor="end" stroke="#222" stroke-width="0.18">0</text>
<line x1="386" y1="392.66" x2="388" y2="392.66" stroke="#444" stroke-width="1"/>
<text x="385.4" y="394.81" font-size="6.1" font-weight="bold" fill="#222" text-anchor="end" stroke="#222" stroke-width="0.18">100,000</text>
<line x1="386" y1="377.12" x2="388" y2="377.12" stroke="#444" stroke-width="1"/>
<text x="385.4" y="379.27" font-size="6.1" font-weight="bold" fill="#222" text-anchor="end" stroke="#222" stroke-width="0.18">200,000</text>
<line x1="386" y1="361.58" x2="388" y2="361.58" stroke="#444" stroke-width="1"/>
<text x="385.4" y="363.73" font-size="6.1" font-weight="bold" fill="#222" text-anchor="end" stroke="#222" stroke-width="0.18">300,000</text>
<line x1="386" y1="346.04" x2="388" y2="346.04" stroke="#444" stroke-width="1"/>
<text x="385.4" y="348.19" font-size="6.1" font-weight="bold" fill="#222" text-anchor="end" stroke="#222" stroke-width="0.18">400,000</text>
<line x1="386" y1="330.5" x2="388" y2="330.5" stroke="#444" stroke-width="1"/>
<text x="385.4" y="332.65" font-size="6.1" font-weight="bold" fill="#222" text-anchor="end" stroke="#222" stroke-width="0.18">500,000</text>
<line x1="388.6" y1="408.2" x2="388.6" y2="410.2" stroke="#444" stroke-width="1"/>
<text x="388.6" y="417" font-size="6.1" font-weight="bold" fill="#222" text-anchor="middle" stroke="#222" stroke-width="0.18">0</text>
<line x1="417.4" y1="408.2" x2="417.4" y2="410.2" stroke="#444" stroke-width="1"/>
<text x="417.4" y="417" font-size="6.1" font-weight="bold" fill="#222" text-anchor="middle" stroke="#222" stroke-width="0.18">20,000</text>
<line x1="446.2" y1="408.2" x2="446.2" y2="410.2" stroke="#444" stroke-width="1"/>
<text x="446.2" y="417" font-size="6.1" font-weight="bold" fill="#222" text-anchor="middle" stroke="#222" stroke-width="0.18">40,000</text>
<line x1="475" y1="408.2" x2="475" y2="410.2" stroke="#444" stroke-width="1"/>
<text x="475" y="417" font-size="6.1" font-weight="bold" fill="#222" text-anchor="middle" stroke="#222" stroke-width="0.18">60,000</text>
<line x1="503.8" y1="408.2" x2="503.8" y2="410.2" stroke="#444" stroke-width="1"/>
<text x="503.8" y="417" font-size="6.1" font-weight="bold" fill="#222" text-anchor="middle" stroke="#222" stroke-width="0.18">80,000</text>
<text x="0" y="0" font-size="8.8" font-weight="bold" fill="#111" text-anchor="middle" transform="translate(358.5 369.4) rotate(-90)">CD3</text>
<text x="445.8" y="430" font-size="9.6" font-weight="bold" fill="#111" text-anchor="middle" >TIM-3</text>
<text x="395.2" y="335.8" font-size="8.6" font-weight="bold" fill="#111"><tspan font-style="italic">R</tspan> = 0.4143</text>
<text x="395.2" y="348" font-size="8.6" font-weight="bold" fill="#111"><tspan font-style="italic">P</tspan> &lt; 0.0001</text>
<path fill="#000" d="M419.4 402.9h1.6v1.6h-1.6zM405.6 401.0h1.6v1.6h-1.6zM436.7 390.5h1.6v1.6h-1.6zM399.7 402.6h1.6v1.6h-1.6zM402.5 398.0h1.6v1.6h-1.6zM410.3 388.5h1.6v1.6h-1.6zM411.6 402.5h1.6v1.6h-1.6zM400.8 403.7h1.6v1.6h-1.6zM418.6 388.1h1.6v1.6h-1.6zM416.2 400.6h1.6v1.6h-1.6zM419.4 402.1h1.6v1.6h-1.6zM419.4 399.9h1.6v1.6h-1.6zM437.2 379.4h1.6v1.6h-1.6zM417.5 401.2h1.6v1.6h-1.6zM420.1 394.0h1.6v1.6h-1.6zM407.5 402.4h1.6v1.6h-1.6zM432.4 394.8h1.6v1.6h-1.6zM418.6 386.1h1.6v1.6h-1.6zM400.7 396.5h1.6v1.6h-1.6zM427.6 397.5h1.6v1.6h-1.6zM404.2 404.3h1.6v1.6h-1.6zM426.2 403.7h1.6v1.6h-1.6zM426.1 393.0h1.6v1.6h-1.6zM406.3 402.4h1.6v1.6h-1.6zM409.2 400.8h1.6v1.6h-1.6zM425.4 398.8h1.6v1.6h-1.6zM429.0 384.1h1.6v1.6h-1.6zM410.3 396.9h1.6v1.6h-1.6zM407.5 400.4h1.6v1.6h-1.6zM419.4 378.7h1.6v1.6h-1.6zM412.4 399.5h1.6v1.6h-1.6zM413.4 399.3h1.6v1.6h-1.6zM403.3 393.7h1.6v1.6h-1.6zM406.8 402.5h1.6v1.6h-1.6zM406.1 398.5h1.6v1.6h-1.6zM427.1 391.2h1.6v1.6h-1.6zM412.7 402.2h1.6v1.6h-1.6zM423.0 395.8h1.6v1.6h-1.6zM452.4 387.9h1.6v1.6h-1.6zM403.8 405.2h1.6v1.6h-1.6zM399.1 402.1h1.6v1.6h-1.6zM417.2 401.7h1.6v1.6h-1.6zM400.4 402.4h1.6v1.6h-1.6zM409.3 399.1h1.6v1.6h-1.6zM412.8 401.6h1.6v1.6h-1.6zM399.3 403.2h1.6v1.6h-1.6zM414.1 397.4h1.6v1.6h-1.6zM426.5 386.1h1.6v1.6h-1.6zM408.0 398.0h1.6v1.6h-1.6zM397.2 402.8h1.6v1.6h-1.6zM412.7 393.1h1.6v1.6h-1.6zM427.3 398.9h1.6v1.6h-1.6zM411.6 393.0h1.6v1.6h-1.6zM407.5 400.3h1.6v1.6h-1.6zM406.9 398.5h1.6v1.6h-1.6zM416.6 400.8h1.6v1.6h-1.6zM401.0 405.9h1.6v1.6h-1.6zM424.9 397.2h1.6v1.6h-1.6zM406.2 402.5h1.6v1.6h-1.6zM404.4 399.3h1.6v1.6h-1.6zM421.3 403.7h1.6v1.6h-1.6zM412.7 398.3h1.6v1.6h-1.6zM409.6 399.5h1.6v1.6h-1.6zM441.8 385.5h1.6v1.6h-1.6zM431.3 382.2h1.6v1.6h-1.6zM400.5 396.6h1.6v1.6h-1.6zM415.6 399.1h1.6v1.6h-1.6zM405.4 403.1h1.6v1.6h-1.6zM417.6 403.2h1.6v1.6h-1.6zM403.0 402.0h1.6v1.6h-1.6zM423.4 391.2h1.6v1.6h-1.6zM424.9 385.1h1.6v1.6h-1.6zM408.5 401.4h1.6v1.6h-1.6zM409.7 401.0h1.6v1.6h-1.6zM429.8 384.8h1.6v1.6h-1.6zM397.7 403.0h1.6v1.6h-1.6zM403.4 404.3h1.6v1.6h-1.6zM433.4 376.4h1.6v1.6h-1.6zM431.1 386.3h1.6v1.6h-1.6zM445.8 396.1h1.6v1.6h-1.6zM424.9 398.3h1.6v1.6h-1.6zM406.9 404.5h1.6v1.6h-1.6zM425.7 397.6h1.6v1.6h-1.6zM415.3 401.8h1.6v1.6h-1.6zM410.2 390.5h1.6v1.6h-1.6zM440.8 381.4h1.6v1.6h-1.6zM424.1 395.5h1.6v1.6h-1.6zM417.8 397.8h1.6v1.6h-1.6zM419.5 399.4h1.6v1.6h-1.6zM428.0 395.0h1.6v1.6h-1.6zM415.7 398.3h1.6v1.6h-1.6zM439.1 379.0h1.6v1.6h-1.6zM405.4 403.6h1.6v1.6h-1.6zM420.9 395.2h1.6v1.6h-1.6zM410.6 398.5h1.6v1.6h-1.6zM442.0 389.4h1.6v1.6h-1.6zM436.8 394.1h1.6v1.6h-1.6zM410.6 398.1h1.6v1.6h-1.6zM412.4 400.8h1.6v1.6h-1.6zM403.4 402.8h1.6v1.6h-1.6zM408.9 400.1h1.6v1.6h-1.6zM428.8 388.8h1.6v1.6h-1.6zM431.0 390.6h1.6v1.6h-1.6zM419.0 392.4h1.6v1.6h-1.6zM423.2 386.7h1.6v1.6h-1.6zM407.5 398.8h1.6v1.6h-1.6zM415.7 389.2h1.6v1.6h-1.6zM425.3 397.6h1.6v1.6h-1.6zM418.7 391.9h1.6v1.6h-1.6zM413.9 390.1h1.6v1.6h-1.6zM416.6 402.1h1.6v1.6h-1.6zM417.1 392.1h1.6v1.6h-1.6zM405.5 398.6h1.6v1.6h-1.6zM395.0 400.3h1.6v1.6h-1.6zM401.2 403.7h1.6v1.6h-1.6zM409.8 403.6h1.6v1.6h-1.6zM417.0 401.0h1.6v1.6h-1.6zM401.6 405.9h1.6v1.6h-1.6zM422.6 385.4h1.6v1.6h-1.6zM410.2 398.7h1.6v1.6h-1.6zM440.4 385.0h1.6v1.6h-1.6zM430.7 382.5h1.6v1.6h-1.6zM423.5 391.1h1.6v1.6h-1.6zM431.5 390.3h1.6v1.6h-1.6zM414.9 400.8h1.6v1.6h-1.6zM397.7 405.2h1.6v1.6h-1.6zM409.8 394.3h1.6v1.6h-1.6zM409.6 404.6h1.6v1.6h-1.6zM422.6 384.5h1.6v1.6h-1.6zM417.4 395.3h1.6v1.6h-1.6zM416.9 397.5h1.6v1.6h-1.6zM436.4 396.2h1.6v1.6h-1.6zM406.0 404.4h1.6v1.6h-1.6zM408.1 402.4h1.6v1.6h-1.6zM406.8 400.0h1.6v1.6h-1.6zM429.2 400.1h1.6v1.6h-1.6zM414.9 400.7h1.6v1.6h-1.6zM406.7 402.1h1.6v1.6h-1.6zM418.2 402.7h1.6v1.6h-1.6zM438.8 390.2h1.6v1.6h-1.6zM406.2 404.5h1.6v1.6h-1.6zM429.5 386.5h1.6v1.6h-1.6zM426.2 392.8h1.6v1.6h-1.6zM427.5 395.8h1.6v1.6h-1.6zM414.9 399.3h1.6v1.6h-1.6zM414.0 397.8h1.6v1.6h-1.6zM413.8 398.3h1.6v1.6h-1.6zM415.4 399.5h1.6v1.6h-1.6zM406.4 402.2h1.6v1.6h-1.6zM422.4 389.9h1.6v1.6h-1.6zM403.9 398.7h1.6v1.6h-1.6zM401.9 403.7h1.6v1.6h-1.6zM405.5 401.0h1.6v1.6h-1.6zM434.4 371.8h1.6v1.6h-1.6zM417.8 390.2h1.6v1.6h-1.6zM418.9 401.6h1.6v1.6h-1.6zM442.6 393.3h1.6v1.6h-1.6zM407.9 400.6h1.6v1.6h-1.6zM404.3 403.2h1.6v1.6h-1.6zM423.8 399.6h1.6v1.6h-1.6zM406.8 404.6h1.6v1.6h-1.6zM398.6 403.0h1.6v1.6h-1.6zM418.9 398.4h1.6v1.6h-1.6zM443.5 395.6h1.6v1.6h-1.6zM420.2 399.6h1.6v1.6h-1.6zM412.9 396.1h1.6v1.6h-1.6zM401.5 397.8h1.6v1.6h-1.6zM412.2 398.6h1.6v1.6h-1.6zM411.5 397.5h1.6v1.6h-1.6zM402.3 404.6h1.6v1.6h-1.6zM417.8 398.0h1.6v1.6h-1.6zM409.0 398.6h1.6v1.6h-1.6zM439.8 396.6h1.6v1.6h-1.6zM396.1 404.9h1.6v1.6h-1.6zM399.4 403.8h1.6v1.6h-1.6zM404.2 401.5h1.6v1.6h-1.6zM447.6 387.4h1.6v1.6h-1.6zM399.6 405.0h1.6v1.6h-1.6zM403.5 404.8h1.6v1.6h-1.6zM419.1 395.3h1.6v1.6h-1.6zM428.2 385.9h1.6v1.6h-1.6zM411.8 401.2h1.6v1.6h-1.6zM408.0 400.5h1.6v1.6h-1.6zM406.5 404.5h1.6v1.6h-1.6zM410.2 401.2h1.6v1.6h-1.6zM409.3 398.0h1.6v1.6h-1.6zM409.7 404.9h1.6v1.6h-1.6zM416.5 394.2h1.6v1.6h-1.6zM401.4 405.1h1.6v1.6h-1.6zM412.1 402.6h1.6v1.6h-1.6zM428.4 385.6h1.6v1.6h-1.6zM399.3 402.3h1.6v1.6h-1.6zM400.8 404.2h1.6v1.6h-1.6zM434.7 393.1h1.6v1.6h-1.6zM422.0 397.8h1.6v1.6h-1.6zM451.7 385.1h1.6v1.6h-1.6zM409.4 399.6h1.6v1.6h-1.6zM410.4 390.2h1.6v1.6h-1.6zM403.6 398.7h1.6v1.6h-1.6zM437.8 376.9h1.6v1.6h-1.6zM401.7 398.0h1.6v1.6h-1.6zM425.5 383.9h1.6v1.6h-1.6zM403.9 401.3h1.6v1.6h-1.6zM431.5 391.1h1.6v1.6h-1.6zM416.0 399.4h1.6v1.6h-1.6zM411.4 399.0h1.6v1.6h-1.6zM407.9 403.2h1.6v1.6h-1.6zM418.8 395.5h1.6v1.6h-1.6zM408.0 404.4h1.6v1.6h-1.6zM449.4 387.5h1.6v1.6h-1.6zM406.1 400.1h1.6v1.6h-1.6zM404.7 402.2h1.6v1.6h-1.6zM398.1 404.7h1.6v1.6h-1.6zM395.3 403.5h1.6v1.6h-1.6zM412.3 400.1h1.6v1.6h-1.6zM412.7 403.3h1.6v1.6h-1.6zM412.3 399.2h1.6v1.6h-1.6zM424.7 398.9h1.6v1.6h-1.6zM407.1 401.2h1.6v1.6h-1.6zM414.9 397.9h1.6v1.6h-1.6zM415.5 392.9h1.6v1.6h-1.6zM415.3 396.4h1.6v1.6h-1.6zM410.6 403.8h1.6v1.6h-1.6zM419.6 398.7h1.6v1.6h-1.6zM411.0 403.3h1.6v1.6h-1.6zM442.5 374.8h1.6v1.6h-1.6zM408.9 398.1h1.6v1.6h-1.6zM415.1 392.1h1.6v1.6h-1.6zM404.6 402.3h1.6v1.6h-1.6zM410.4 400.9h1.6v1.6h-1.6zM402.5 400.7h1.6v1.6h-1.6zM403.8 403.9h1.6v1.6h-1.6zM411.1 391.1h1.6v1.6h-1.6zM429.7 394.3h1.6v1.6h-1.6zM402.6 405.0h1.6v1.6h-1.6zM412.9 394.6h1.6v1.6h-1.6zM424.4 395.7h1.6v1.6h-1.6zM404.9 400.1h1.6v1.6h-1.6zM432.1 392.5h1.6v1.6h-1.6zM419.0 398.4h1.6v1.6h-1.6zM410.3 391.5h1.6v1.6h-1.6zM406.9 394.5h1.6v1.6h-1.6zM408.8 400.2h1.6v1.6h-1.6zM424.2 389.6h1.6v1.6h-1.6zM407.0 401.2h1.6v1.6h-1.6zM413.0 398.5h1.6v1.6h-1.6zM412.0 394.6h1.6v1.6h-1.6zM403.7 398.9h1.6v1.6h-1.6zM426.5 400.3h1.6v1.6h-1.6zM412.5 401.7h1.6v1.6h-1.6zM400.0 403.1h1.6v1.6h-1.6zM420.6 398.4h1.6v1.6h-1.6zM416.9 397.2h1.6v1.6h-1.6zM398.0 404.2h1.6v1.6h-1.6zM427.3 379.4h1.6v1.6h-1.6zM402.1 405.1h1.6v1.6h-1.6zM417.8 398.4h1.6v1.6h-1.6zM414.7 400.2h1.6v1.6h-1.6zM423.0 390.3h1.6v1.6h-1.6zM409.0 400.0h1.6v1.6h-1.6zM411.9 396.1h1.6v1.6h-1.6zM416.7 395.6h1.6v1.6h-1.6zM422.2 394.9h1.6v1.6h-1.6zM408.0 396.3h1.6v1.6h-1.6zM408.2 403.7h1.6v1.6h-1.6zM404.8 401.3h1.6v1.6h-1.6zM408.0 401.8h1.6v1.6h-1.6zM415.6 395.5h1.6v1.6h-1.6zM410.2 401.3h1.6v1.6h-1.6zM414.9 392.6h1.6v1.6h-1.6zM401.7 403.8h1.6v1.6h-1.6zM403.0 403.8h1.6v1.6h-1.6zM423.6 372.7h1.6v1.6h-1.6zM412.1 402.4h1.6v1.6h-1.6zM403.6 399.3h1.6v1.6h-1.6zM428.2 384.6h1.6v1.6h-1.6zM423.6 398.0h1.6v1.6h-1.6zM405.7 401.2h1.6v1.6h-1.6zM424.2 397.7h1.6v1.6h-1.6zM403.8 397.3h1.6v1.6h-1.6zM400.6 397.8h1.6v1.6h-1.6zM402.9 400.0h1.6v1.6h-1.6zM408.4 394.1h1.6v1.6h-1.6zM408.3 400.0h1.6v1.6h-1.6zM418.7 398.6h1.6v1.6h-1.6zM401.6 404.0h1.6v1.6h-1.6zM404.8 401.0h1.6v1.6h-1.6zM392.4 404.6h1.6v1.6h-1.6zM451.9 383.5h1.6v1.6h-1.6zM404.6 403.3h1.6v1.6h-1.6zM404.4 404.1h1.6v1.6h-1.6zM433.5 402.6h1.6v1.6h-1.6zM404.4 401.9h1.6v1.6h-1.6zM401.1 396.8h1.6v1.6h-1.6zM409.0 399.9h1.6v1.6h-1.6zM408.6 401.1h1.6v1.6h-1.6zM405.2 396.5h1.6v1.6h-1.6zM404.3 403.6h1.6v1.6h-1.6zM421.7 401.0h1.6v1.6h-1.6zM444.3 390.9h1.6v1.6h-1.6zM411.3 388.1h1.6v1.6h-1.6zM400.4 396.5h1.6v1.6h-1.6zM405.7 403.1h1.6v1.6h-1.6zM425.3 376.7h1.6v1.6h-1.6zM411.8 398.5h1.6v1.6h-1.6zM413.4 399.0h1.6v1.6h-1.6zM415.9 397.4h1.6v1.6h-1.6zM405.5 403.7h1.6v1.6h-1.6zM396.6 404.0h1.6v1.6h-1.6zM406.5 400.5h1.6v1.6h-1.6zM419.1 396.6h1.6v1.6h-1.6zM422.0 394.2h1.6v1.6h-1.6zM427.8 394.6h1.6v1.6h-1.6zM407.1 397.7h1.6v1.6h-1.6zM402.8 397.9h1.6v1.6h-1.6zM407.7 402.4h1.6v1.6h-1.6zM421.9 379.7h1.6v1.6h-1.6zM403.2 403.1h1.6v1.6h-1.6zM397.2 404.8h1.6v1.6h-1.6zM406.6 404.0h1.6v1.6h-1.6zM415.9 399.1h1.6v1.6h-1.6zM433.2 384.8h1.6v1.6h-1.6zM409.6 401.7h1.6v1.6h-1.6zM418.7 396.9h1.6v1.6h-1.6zM403.6 403.1h1.6v1.6h-1.6zM406.0 395.3h1.6v1.6h-1.6zM400.1 401.6h1.6v1.6h-1.6zM413.2 399.2h1.6v1.6h-1.6zM407.2 395.7h1.6v1.6h-1.6zM409.0 393.4h1.6v1.6h-1.6zM418.8 396.2h1.6v1.6h-1.6zM406.2 401.2h1.6v1.6h-1.6zM416.3 391.2h1.6v1.6h-1.6zM402.4 404.0h1.6v1.6h-1.6zM404.2 403.4h1.6v1.6h-1.6zM398.8 401.7h1.6v1.6h-1.6zM435.1 400.1h1.6v1.6h-1.6zM435.1 394.8h1.6v1.6h-1.6zM419.2 384.7h1.6v1.6h-1.6zM411.1 395.2h1.6v1.6h-1.6zM410.7 398.9h1.6v1.6h-1.6zM406.9 399.9h1.6v1.6h-1.6zM414.3 391.9h1.6v1.6h-1.6zM413.6 403.1h1.6v1.6h-1.6zM406.7 393.8h1.6v1.6h-1.6zM405.5 399.5h1.6v1.6h-1.6zM406.3 399.4h1.6v1.6h-1.6zM402.5 404.1h1.6v1.6h-1.6zM404.5 403.4h1.6v1.6h-1.6zM412.1 399.4h1.6v1.6h-1.6zM429.8 388.8h1.6v1.6h-1.6zM411.3 399.1h1.6v1.6h-1.6zM415.5 393.0h1.6v1.6h-1.6zM446.1 390.8h1.6v1.6h-1.6zM426.6 392.2h1.6v1.6h-1.6zM409.6 398.0h1.6v1.6h-1.6zM405.8 380.6h1.6v1.6h-1.6zM422.2 397.7h1.6v1.6h-1.6zM414.2 400.4h1.6v1.6h-1.6zM409.9 400.9h1.6v1.6h-1.6zM405.0 403.9h1.6v1.6h-1.6zM433.3 392.1h1.6v1.6h-1.6zM421.3 397.9h1.6v1.6h-1.6zM408.1 401.9h1.6v1.6h-1.6zM425.9 393.2h1.6v1.6h-1.6zM410.1 396.9h1.6v1.6h-1.6zM428.0 400.2h1.6v1.6h-1.6zM404.2 398.7h1.6v1.6h-1.6zM415.0 399.3h1.6v1.6h-1.6zM403.2 405.0h1.6v1.6h-1.6zM404.2 403.5h1.6v1.6h-1.6zM413.1 395.6h1.6v1.6h-1.6zM418.2 391.4h1.6v1.6h-1.6zM409.0 390.3h1.6v1.6h-1.6zM416.4 395.1h1.6v1.6h-1.6zM417.0 401.4h1.6v1.6h-1.6zM434.8 377.7h1.6v1.6h-1.6zM426.2 392.5h1.6v1.6h-1.6zM403.9 399.6h1.6v1.6h-1.6zM414.9 378.1h1.6v1.6h-1.6zM405.6 402.5h1.6v1.6h-1.6zM406.8 402.9h1.6v1.6h-1.6zM402.1 403.5h1.6v1.6h-1.6zM413.5 383.0h1.6v1.6h-1.6zM403.5 400.3h1.6v1.6h-1.6zM412.0 406.8h1.6v1.6h-1.6zM436.3 406.8h1.6v1.6h-1.6zM410.9 406.8h1.6v1.6h-1.6zM430.5 406.8h1.6v1.6h-1.6zM444.1 406.8h1.6v1.6h-1.6zM432.8 406.3h1.6v1.6h-1.6zM395.9 406.4h1.6v1.6h-1.6zM413.5 406.7h1.6v1.6h-1.6zM395.5 406.8h1.6v1.6h-1.6zM404.1 406.2h1.6v1.6h-1.6zM404.9 406.5h1.6v1.6h-1.6zM441.9 406.2h1.6v1.6h-1.6zM412.4 406.8h1.6v1.6h-1.6zM421.4 406.4h1.6v1.6h-1.6zM400.4 406.5h1.6v1.6h-1.6zM435.2 406.3h1.6v1.6h-1.6zM396.8 406.2h1.6v1.6h-1.6zM399.6 406.8h1.6v1.6h-1.6zM425.8 406.3h1.6v1.6h-1.6zM412.1 406.3h1.6v1.6h-1.6zM422.5 406.8h1.6v1.6h-1.6zM411.0 406.8h1.6v1.6h-1.6zM398.9 406.8h1.6v1.6h-1.6zM429.7 406.2h1.6v1.6h-1.6zM403.1 406.8h1.6v1.6h-1.6zM444.7 406.7h1.6v1.6h-1.6zM415.5 406.8h1.6v1.6h-1.6zM424.9 406.4h1.6v1.6h-1.6zM418.0 406.8h1.6v1.6h-1.6zM441.7 349.7h1.6v1.6h-1.6zM475.2 346.6h1.6v1.6h-1.6zM452.6 365.1h1.6v1.6h-1.6zM459.8 382.1h1.6v1.6h-1.6zM477.7 381.8h1.6v1.6h-1.6zM496.7 380.0h1.6v1.6h-1.6zM497.0 384.6h1.6v1.6h-1.6zM463.8 387.8h1.6v1.6h-1.6zM465.6 398.4h1.6v1.6h-1.6zM456.9 391.9h1.6v1.6h-1.6zM448.3 374.8h1.6v1.6h-1.6z"/>
<line x1="65.3" y1="716.9" x2="65.3" y2="796.2" stroke="#444" stroke-width="1.2"/>
<line x1="64.8" y1="795.7" x2="182.5" y2="795.7" stroke="#444" stroke-width="1"/>
<line x1="63.3" y1="795.7" x2="65.3" y2="795.7" stroke="#444" stroke-width="1"/>
<text x="62.7" y="797.85" font-size="6.1" font-weight="bold" fill="#222" text-anchor="end" stroke="#222" stroke-width="0.18">0</text>
<line x1="63.3" y1="776" x2="65.3" y2="776" stroke="#444" stroke-width="1"/>
<text x="62.7" y="778.15" font-size="6.1" font-weight="bold" fill="#222" text-anchor="end" stroke="#222" stroke-width="0.18">50,000</text>
<line x1="63.3" y1="756.3" x2="65.3" y2="756.3" stroke="#444" stroke-width="1"/>
<text x="62.7" y="758.45" font-size="6.1" font-weight="bold" fill="#222" text-anchor="end" stroke="#222" stroke-width="0.18">100,000</text>
<line x1="63.3" y1="736.6" x2="65.3" y2="736.6" stroke="#444" stroke-width="1"/>
<text x="62.7" y="738.75" font-size="6.1" font-weight="bold" fill="#222" text-anchor="end" stroke="#222" stroke-width="0.18">150,000</text>
<line x1="63.3" y1="716.9" x2="65.3" y2="716.9" stroke="#444" stroke-width="1"/>
<text x="62.7" y="719.05" font-size="6.1" font-weight="bold" fill="#222" text-anchor="end" stroke="#222" stroke-width="0.18">200,000</text>
<line x1="65.5" y1="795.7" x2="65.5" y2="797.7" stroke="#444" stroke-width="1"/>
<text x="65.5" y="804.5" font-size="6.1" font-weight="bold" fill="#222" text-anchor="middle" stroke="#222" stroke-width="0.18">0</text>
<line x1="104.5" y1="795.7" x2="104.5" y2="797.7" stroke="#444" stroke-width="1"/>
<text x="104.5" y="804.5" font-size="6.1" font-weight="bold" fill="#222" text-anchor="middle" stroke="#222" stroke-width="0.18">10,000</text>
<line x1="143.5" y1="795.7" x2="143.5" y2="797.7" stroke="#444" stroke-width="1"/>
<text x="143.5" y="804.5" font-size="6.1" font-weight="bold" fill="#222" text-anchor="middle" stroke="#222" stroke-width="0.18">20,000</text>
<line x1="182.5" y1="795.7" x2="182.5" y2="797.7" stroke="#444" stroke-width="1"/>
<text x="182.5" y="804.5" font-size="6.1" font-weight="bold" fill="#222" text-anchor="middle" stroke="#222" stroke-width="0.18">30,000</text>
<text x="0" y="0" font-size="8.8" font-weight="bold" fill="#111" text-anchor="middle" transform="translate(37.5 756.7) rotate(-90)">CD3</text>
<text x="123.7" y="818" font-size="9.6" font-weight="bold" fill="#111" text-anchor="middle" >PD-1</text>
<text x="72.9" y="726.3" font-size="8.6" font-weight="bold" fill="#111"><tspan font-style="italic">R</tspan> = 0.8511</text>
<text x="72.5" y="737.2" font-size="8.6" font-weight="bold" fill="#111"><tspan font-style="italic">P</tspan> &lt; 0.0001</text>
<path fill="#000" d="M85.1 766.3h1.6v1.6h-1.6zM102.3 765.8h1.6v1.6h-1.6zM90.4 780.2h1.6v1.6h-1.6zM91.2 782.1h1.6v1.6h-1.6zM72.9 792.1h1.6v1.6h-1.6zM70.4 791.7h1.6v1.6h-1.6zM90.9 768.3h1.6v1.6h-1.6zM89.8 780.6h1.6v1.6h-1.6zM93.5 780.3h1.6v1.6h-1.6zM67.9 792.4h1.6v1.6h-1.6zM75.6 788.8h1.6v1.6h-1.6zM77.6 772.0h1.6v1.6h-1.6zM108.8 768.1h1.6v1.6h-1.6zM70.7 790.4h1.6v1.6h-1.6zM72.2 788.7h1.6v1.6h-1.6zM69.0 792.8h1.6v1.6h-1.6zM101.6 781.9h1.6v1.6h-1.6zM82.7 785.1h1.6v1.6h-1.6zM102.2 779.4h1.6v1.6h-1.6zM94.8 757.0h1.6v1.6h-1.6zM69.1 793.3h1.6v1.6h-1.6zM89.4 785.4h1.6v1.6h-1.6zM69.7 790.1h1.6v1.6h-1.6zM103.2 763.0h1.6v1.6h-1.6zM107.6 764.7h1.6v1.6h-1.6zM72.7 793.4h1.6v1.6h-1.6zM90.6 786.6h1.6v1.6h-1.6zM82.0 784.4h1.6v1.6h-1.6zM70.2 792.5h1.6v1.6h-1.6zM68.7 793.0h1.6v1.6h-1.6zM81.4 783.9h1.6v1.6h-1.6zM96.9 778.8h1.6v1.6h-1.6zM78.2 784.8h1.6v1.6h-1.6zM69.4 790.9h1.6v1.6h-1.6zM87.0 785.7h1.6v1.6h-1.6zM74.6 789.3h1.6v1.6h-1.6zM69.2 794.1h1.6v1.6h-1.6zM87.5 773.0h1.6v1.6h-1.6zM78.9 787.6h1.6v1.6h-1.6zM80.6 789.6h1.6v1.6h-1.6zM87.6 778.4h1.6v1.6h-1.6zM81.1 782.7h1.6v1.6h-1.6zM71.1 791.3h1.6v1.6h-1.6zM72.9 791.6h1.6v1.6h-1.6zM84.6 784.2h1.6v1.6h-1.6zM98.0 772.8h1.6v1.6h-1.6zM70.2 790.1h1.6v1.6h-1.6zM68.6 793.0h1.6v1.6h-1.6zM84.8 785.3h1.6v1.6h-1.6zM88.3 783.2h1.6v1.6h-1.6zM71.1 790.5h1.6v1.6h-1.6zM79.1 790.2h1.6v1.6h-1.6zM80.5 787.3h1.6v1.6h-1.6zM84.7 787.3h1.6v1.6h-1.6zM82.0 787.1h1.6v1.6h-1.6zM124.8 769.9h1.6v1.6h-1.6zM110.0 773.6h1.6v1.6h-1.6zM75.3 789.4h1.6v1.6h-1.6zM71.5 792.5h1.6v1.6h-1.6zM73.8 790.3h1.6v1.6h-1.6zM97.9 771.2h1.6v1.6h-1.6zM74.4 789.9h1.6v1.6h-1.6zM68.9 792.3h1.6v1.6h-1.6zM76.8 791.2h1.6v1.6h-1.6zM72.6 790.0h1.6v1.6h-1.6zM80.9 784.6h1.6v1.6h-1.6zM74.8 789.7h1.6v1.6h-1.6zM76.7 791.9h1.6v1.6h-1.6zM77.6 789.0h1.6v1.6h-1.6zM72.9 789.3h1.6v1.6h-1.6zM80.1 790.4h1.6v1.6h-1.6zM77.4 790.2h1.6v1.6h-1.6zM81.6 781.2h1.6v1.6h-1.6zM78.8 791.2h1.6v1.6h-1.6zM112.5 771.2h1.6v1.6h-1.6zM112.8 778.9h1.6v1.6h-1.6zM81.4 783.5h1.6v1.6h-1.6zM66.3 794.3h1.6v1.6h-1.6zM68.4 791.1h1.6v1.6h-1.6zM91.8 786.2h1.6v1.6h-1.6zM68.0 794.1h1.6v1.6h-1.6zM81.9 789.0h1.6v1.6h-1.6zM85.1 787.0h1.6v1.6h-1.6zM68.1 791.3h1.6v1.6h-1.6zM87.3 786.8h1.6v1.6h-1.6zM75.7 785.5h1.6v1.6h-1.6zM94.8 786.3h1.6v1.6h-1.6zM117.1 775.4h1.6v1.6h-1.6zM89.1 787.8h1.6v1.6h-1.6zM73.0 789.3h1.6v1.6h-1.6zM69.9 792.3h1.6v1.6h-1.6zM85.8 787.2h1.6v1.6h-1.6zM116.7 761.4h1.6v1.6h-1.6zM77.9 785.0h1.6v1.6h-1.6zM113.2 755.0h1.6v1.6h-1.6zM78.0 785.8h1.6v1.6h-1.6zM85.4 788.6h1.6v1.6h-1.6zM75.6 782.3h1.6v1.6h-1.6zM72.2 790.4h1.6v1.6h-1.6zM129.0 768.3h1.6v1.6h-1.6zM79.4 789.7h1.6v1.6h-1.6zM87.8 788.3h1.6v1.6h-1.6zM86.6 787.4h1.6v1.6h-1.6zM84.5 790.3h1.6v1.6h-1.6zM70.5 790.7h1.6v1.6h-1.6zM89.3 791.7h1.6v1.6h-1.6zM119.7 776.2h1.6v1.6h-1.6zM96.4 771.1h1.6v1.6h-1.6zM77.5 789.6h1.6v1.6h-1.6zM67.5 793.2h1.6v1.6h-1.6zM138.4 774.0h1.6v1.6h-1.6zM103.8 768.9h1.6v1.6h-1.6zM98.3 784.6h1.6v1.6h-1.6zM78.1 787.7h1.6v1.6h-1.6zM129.4 773.9h1.6v1.6h-1.6zM74.0 791.6h1.6v1.6h-1.6zM95.7 787.3h1.6v1.6h-1.6zM77.1 791.5h1.6v1.6h-1.6zM75.7 787.6h1.6v1.6h-1.6zM73.9 788.9h1.6v1.6h-1.6zM74.5 790.3h1.6v1.6h-1.6zM77.6 790.6h1.6v1.6h-1.6zM85.7 781.5h1.6v1.6h-1.6zM72.1 790.1h1.6v1.6h-1.6zM80.7 788.5h1.6v1.6h-1.6zM81.4 783.4h1.6v1.6h-1.6zM92.5 769.7h1.6v1.6h-1.6zM83.0 785.2h1.6v1.6h-1.6zM68.7 793.4h1.6v1.6h-1.6zM89.0 787.6h1.6v1.6h-1.6zM71.3 788.0h1.6v1.6h-1.6zM78.3 790.8h1.6v1.6h-1.6zM67.1 794.1h1.6v1.6h-1.6zM89.3 779.1h1.6v1.6h-1.6zM74.3 789.5h1.6v1.6h-1.6zM79.9 788.6h1.6v1.6h-1.6zM99.6 783.1h1.6v1.6h-1.6zM72.3 792.1h1.6v1.6h-1.6zM106.2 778.7h1.6v1.6h-1.6zM133.2 776.2h1.6v1.6h-1.6zM70.9 793.9h1.6v1.6h-1.6zM71.3 791.6h1.6v1.6h-1.6zM91.2 786.5h1.6v1.6h-1.6zM74.0 786.7h1.6v1.6h-1.6zM74.2 790.1h1.6v1.6h-1.6zM89.7 786.9h1.6v1.6h-1.6zM106.3 776.5h1.6v1.6h-1.6zM93.0 782.9h1.6v1.6h-1.6zM83.0 780.2h1.6v1.6h-1.6zM82.2 791.0h1.6v1.6h-1.6zM76.1 790.3h1.6v1.6h-1.6zM77.1 788.5h1.6v1.6h-1.6zM68.3 791.3h1.6v1.6h-1.6zM71.7 789.1h1.6v1.6h-1.6zM75.2 790.6h1.6v1.6h-1.6zM77.7 789.5h1.6v1.6h-1.6zM87.9 776.2h1.6v1.6h-1.6zM69.8 791.7h1.6v1.6h-1.6zM86.7 784.7h1.6v1.6h-1.6zM83.6 785.8h1.6v1.6h-1.6zM70.2 793.1h1.6v1.6h-1.6zM97.6 779.5h1.6v1.6h-1.6zM112.2 776.1h1.6v1.6h-1.6zM73.6 790.4h1.6v1.6h-1.6zM80.6 783.4h1.6v1.6h-1.6zM74.0 788.6h1.6v1.6h-1.6zM84.6 788.3h1.6v1.6h-1.6zM77.3 789.3h1.6v1.6h-1.6zM99.3 766.9h1.6v1.6h-1.6zM90.9 784.8h1.6v1.6h-1.6zM91.9 780.9h1.6v1.6h-1.6zM73.5 789.1h1.6v1.6h-1.6zM72.3 791.7h1.6v1.6h-1.6zM70.7 793.3h1.6v1.6h-1.6zM84.5 790.0h1.6v1.6h-1.6zM73.1 791.5h1.6v1.6h-1.6zM86.4 787.0h1.6v1.6h-1.6zM91.4 785.8h1.6v1.6h-1.6zM72.1 792.4h1.6v1.6h-1.6zM74.2 791.5h1.6v1.6h-1.6zM69.1 793.4h1.6v1.6h-1.6zM71.8 789.6h1.6v1.6h-1.6zM70.6 791.7h1.6v1.6h-1.6zM71.4 790.3h1.6v1.6h-1.6zM77.7 790.0h1.6v1.6h-1.6zM103.5 759.9h1.6v1.6h-1.6zM118.1 756.5h1.6v1.6h-1.6zM80.0 789.4h1.6v1.6h-1.6zM74.4 791.2h1.6v1.6h-1.6zM87.1 785.9h1.6v1.6h-1.6zM82.3 785.7h1.6v1.6h-1.6zM77.9 790.1h1.6v1.6h-1.6zM70.6 786.6h1.6v1.6h-1.6zM77.8 791.7h1.6v1.6h-1.6zM69.7 793.0h1.6v1.6h-1.6zM134.6 759.1h1.6v1.6h-1.6zM71.4 788.2h1.6v1.6h-1.6zM67.7 792.6h1.6v1.6h-1.6zM99.0 772.8h1.6v1.6h-1.6zM65.9 794.2h1.6v1.6h-1.6zM73.7 793.5h1.6v1.6h-1.6zM95.8 783.1h1.6v1.6h-1.6zM84.4 783.3h1.6v1.6h-1.6zM73.5 793.3h1.6v1.6h-1.6zM74.6 791.4h1.6v1.6h-1.6zM70.1 793.1h1.6v1.6h-1.6zM79.2 781.5h1.6v1.6h-1.6zM80.5 786.5h1.6v1.6h-1.6zM101.3 773.4h1.6v1.6h-1.6zM76.8 790.5h1.6v1.6h-1.6zM69.9 791.2h1.6v1.6h-1.6zM78.3 783.9h1.6v1.6h-1.6zM72.1 792.1h1.6v1.6h-1.6zM85.5 776.1h1.6v1.6h-1.6zM77.2 790.2h1.6v1.6h-1.6zM87.6 788.6h1.6v1.6h-1.6zM104.5 783.7h1.6v1.6h-1.6zM68.6 793.0h1.6v1.6h-1.6zM73.8 787.2h1.6v1.6h-1.6zM94.0 777.7h1.6v1.6h-1.6zM67.2 793.7h1.6v1.6h-1.6zM71.7 793.4h1.6v1.6h-1.6zM133.8 780.1h1.6v1.6h-1.6zM70.9 792.9h1.6v1.6h-1.6zM72.9 790.7h1.6v1.6h-1.6zM85.5 789.1h1.6v1.6h-1.6zM85.3 781.9h1.6v1.6h-1.6zM83.7 777.1h1.6v1.6h-1.6zM74.0 791.1h1.6v1.6h-1.6zM74.5 792.0h1.6v1.6h-1.6zM78.2 784.6h1.6v1.6h-1.6zM88.4 783.5h1.6v1.6h-1.6zM81.0 781.0h1.6v1.6h-1.6zM106.1 785.9h1.6v1.6h-1.6zM69.3 791.5h1.6v1.6h-1.6zM92.2 777.2h1.6v1.6h-1.6zM97.1 785.2h1.6v1.6h-1.6zM69.7 792.0h1.6v1.6h-1.6zM69.8 792.3h1.6v1.6h-1.6zM87.7 773.1h1.6v1.6h-1.6zM108.9 777.3h1.6v1.6h-1.6zM71.2 791.7h1.6v1.6h-1.6zM69.6 792.4h1.6v1.6h-1.6zM75.5 790.3h1.6v1.6h-1.6zM94.0 780.7h1.6v1.6h-1.6zM73.3 791.0h1.6v1.6h-1.6zM76.5 789.8h1.6v1.6h-1.6zM74.4 788.2h1.6v1.6h-1.6zM74.8 787.2h1.6v1.6h-1.6zM90.1 776.4h1.6v1.6h-1.6zM85.5 789.2h1.6v1.6h-1.6zM70.5 791.9h1.6v1.6h-1.6zM81.7 791.4h1.6v1.6h-1.6zM69.1 793.1h1.6v1.6h-1.6zM74.9 791.8h1.6v1.6h-1.6zM71.0 791.9h1.6v1.6h-1.6zM70.6 791.6h1.6v1.6h-1.6zM82.1 788.2h1.6v1.6h-1.6zM68.7 793.0h1.6v1.6h-1.6zM113.8 778.1h1.6v1.6h-1.6zM66.9 794.2h1.6v1.6h-1.6zM72.4 792.2h1.6v1.6h-1.6zM82.9 783.8h1.6v1.6h-1.6zM88.6 790.0h1.6v1.6h-1.6zM72.4 789.3h1.6v1.6h-1.6zM73.7 792.3h1.6v1.6h-1.6zM75.7 781.6h1.6v1.6h-1.6zM68.8 793.3h1.6v1.6h-1.6zM75.2 791.5h1.6v1.6h-1.6zM77.2 790.2h1.6v1.6h-1.6zM69.3 793.1h1.6v1.6h-1.6zM73.8 791.5h1.6v1.6h-1.6zM82.2 784.8h1.6v1.6h-1.6zM86.5 782.1h1.6v1.6h-1.6zM69.6 792.4h1.6v1.6h-1.6zM76.3 791.3h1.6v1.6h-1.6zM79.9 788.3h1.6v1.6h-1.6zM76.3 788.2h1.6v1.6h-1.6zM69.6 792.6h1.6v1.6h-1.6zM71.4 792.3h1.6v1.6h-1.6zM73.6 789.2h1.6v1.6h-1.6zM87.7 781.7h1.6v1.6h-1.6zM69.6 792.4h1.6v1.6h-1.6zM87.6 783.4h1.6v1.6h-1.6zM71.9 791.0h1.6v1.6h-1.6zM68.8 793.1h1.6v1.6h-1.6zM69.0 793.5h1.6v1.6h-1.6zM68.9 792.6h1.6v1.6h-1.6zM74.8 789.5h1.6v1.6h-1.6zM88.7 781.8h1.6v1.6h-1.6zM72.5 790.6h1.6v1.6h-1.6zM69.3 793.1h1.6v1.6h-1.6zM87.3 785.1h1.6v1.6h-1.6zM80.1 787.5h1.6v1.6h-1.6zM70.1 790.3h1.6v1.6h-1.6zM69.7 792.5h1.6v1.6h-1.6zM141.5 736.6h1.6v1.6h-1.6zM169.2 741.7h1.6v1.6h-1.6zM105.7 745.7h1.6v1.6h-1.6zM161.8 749.2h1.6v1.6h-1.6zM162.2 760.6h1.6v1.6h-1.6zM162.2 768.9h1.6v1.6h-1.6zM152.4 770.1h1.6v1.6h-1.6zM136.1 748.4h1.6v1.6h-1.6z"/>
<line x1="228.4" y1="717.2" x2="228.4" y2="793.8" stroke="#444" stroke-width="1.2"/>
<line x1="227.9" y1="793.3" x2="339.5" y2="793.3" stroke="#444" stroke-width="1"/>
<line x1="226.4" y1="793.3" x2="228.4" y2="793.3" stroke="#444" stroke-width="1"/>
<text x="225.8" y="795.45" font-size="6.1" font-weight="bold" fill="#222" text-anchor="end" stroke="#222" stroke-width="0.18">0</text>
<line x1="226.4" y1="774.27" x2="228.4" y2="774.27" stroke="#444" stroke-width="1"/>
<text x="225.8" y="776.42" font-size="6.1" font-weight="bold" fill="#222" text-anchor="end" stroke="#222" stroke-width="0.18">50,000</text>
<line x1="226.4" y1="755.25" x2="228.4" y2="755.25" stroke="#444" stroke-width="1"/>
<text x="225.8" y="757.4" font-size="6.1" font-weight="bold" fill="#222" text-anchor="end" stroke="#222" stroke-width="0.18">100,000</text>
<line x1="226.4" y1="736.23" x2="228.4" y2="736.23" stroke="#444" stroke-width="1"/>
<text x="225.8" y="738.38" font-size="6.1" font-weight="bold" fill="#222" text-anchor="end" stroke="#222" stroke-width="0.18">150,000</text>
<line x1="226.4" y1="717.2" x2="228.4" y2="717.2" stroke="#444" stroke-width="1"/>
<text x="225.8" y="719.35" font-size="6.1" font-weight="bold" fill="#222" text-anchor="end" stroke="#222" stroke-width="0.18">200,000</text>
<line x1="228.75" y1="793.3" x2="228.75" y2="795.3" stroke="#444" stroke-width="1"/>
<text x="228.75" y="801" font-size="6.1" font-weight="bold" fill="#222" text-anchor="middle" stroke="#222" stroke-width="0.18">0</text>
<line x1="250.9" y1="793.3" x2="250.9" y2="795.3" stroke="#444" stroke-width="1"/>
<text x="250.9" y="801" font-size="6.1" font-weight="bold" fill="#222" text-anchor="middle" stroke="#222" stroke-width="0.18">5,000</text>
<line x1="273.05" y1="793.3" x2="273.05" y2="795.3" stroke="#444" stroke-width="1"/>
<text x="273.05" y="801" font-size="6.1" font-weight="bold" fill="#222" text-anchor="middle" stroke="#222" stroke-width="0.18">10,000</text>
<line x1="295.2" y1="793.3" x2="295.2" y2="795.3" stroke="#444" stroke-width="1"/>
<text x="295.2" y="801" font-size="6.1" font-weight="bold" fill="#222" text-anchor="middle" stroke="#222" stroke-width="0.18">15,000</text>
<line x1="317.35" y1="793.3" x2="317.35" y2="795.3" stroke="#444" stroke-width="1"/>
<text x="317.35" y="801" font-size="6.1" font-weight="bold" fill="#222" text-anchor="middle" stroke="#222" stroke-width="0.18">20,000</text>
<line x1="339.5" y1="793.3" x2="339.5" y2="795.3" stroke="#444" stroke-width="1"/>
<text x="339.5" y="801" font-size="6.1" font-weight="bold" fill="#222" text-anchor="middle" stroke="#222" stroke-width="0.18">25,000</text>
<text x="0" y="0" font-size="8.8" font-weight="bold" fill="#111" text-anchor="middle" transform="translate(201.1 757) rotate(-90)">CD3</text>
<text x="285.1" y="814.4" font-size="9.6" font-weight="bold" fill="#111" text-anchor="middle" >LAG-3</text>
<text x="236.2" y="723.3" font-size="8.6" font-weight="bold" fill="#111"><tspan font-style="italic">R</tspan> = 0.6808</text>
<text x="236" y="734.2" font-size="8.6" font-weight="bold" fill="#111"><tspan font-style="italic">P</tspan> &lt; 0.0001</text>
<path fill="#000" d="M242.9 784.6h1.6v1.6h-1.6zM264.3 774.9h1.6v1.6h-1.6zM253.4 781.9h1.6v1.6h-1.6zM240.8 787.7h1.6v1.6h-1.6zM260.9 774.9h1.6v1.6h-1.6zM247.3 787.1h1.6v1.6h-1.6zM249.3 785.0h1.6v1.6h-1.6zM250.4 779.0h1.6v1.6h-1.6zM236.5 788.6h1.6v1.6h-1.6zM240.0 788.9h1.6v1.6h-1.6zM241.1 781.7h1.6v1.6h-1.6zM257.2 774.8h1.6v1.6h-1.6zM244.2 788.7h1.6v1.6h-1.6zM246.9 782.6h1.6v1.6h-1.6zM249.4 778.2h1.6v1.6h-1.6zM247.0 770.5h1.6v1.6h-1.6zM257.1 755.5h1.6v1.6h-1.6zM252.5 782.2h1.6v1.6h-1.6zM243.5 781.5h1.6v1.6h-1.6zM262.2 775.0h1.6v1.6h-1.6zM254.2 781.7h1.6v1.6h-1.6zM246.5 784.9h1.6v1.6h-1.6zM238.0 789.6h1.6v1.6h-1.6zM250.5 781.2h1.6v1.6h-1.6zM262.8 770.0h1.6v1.6h-1.6zM254.4 779.7h1.6v1.6h-1.6zM236.6 788.3h1.6v1.6h-1.6zM243.2 783.3h1.6v1.6h-1.6zM247.6 784.7h1.6v1.6h-1.6zM245.6 785.3h1.6v1.6h-1.6zM237.7 790.4h1.6v1.6h-1.6zM264.6 771.1h1.6v1.6h-1.6zM246.3 785.2h1.6v1.6h-1.6zM255.4 779.6h1.6v1.6h-1.6zM244.6 790.1h1.6v1.6h-1.6zM251.2 770.7h1.6v1.6h-1.6zM260.5 775.0h1.6v1.6h-1.6zM245.1 788.0h1.6v1.6h-1.6zM250.7 783.8h1.6v1.6h-1.6zM241.6 777.8h1.6v1.6h-1.6zM242.8 787.2h1.6v1.6h-1.6zM236.1 783.6h1.6v1.6h-1.6zM248.6 783.2h1.6v1.6h-1.6zM252.8 784.8h1.6v1.6h-1.6zM244.9 783.3h1.6v1.6h-1.6zM243.6 783.9h1.6v1.6h-1.6zM264.5 767.4h1.6v1.6h-1.6zM267.8 760.6h1.6v1.6h-1.6zM273.6 767.8h1.6v1.6h-1.6zM254.3 785.3h1.6v1.6h-1.6zM248.4 785.8h1.6v1.6h-1.6zM249.4 786.5h1.6v1.6h-1.6zM243.9 782.5h1.6v1.6h-1.6zM256.6 783.2h1.6v1.6h-1.6zM247.4 785.4h1.6v1.6h-1.6zM254.5 783.4h1.6v1.6h-1.6zM267.2 775.0h1.6v1.6h-1.6zM253.6 780.2h1.6v1.6h-1.6zM252.6 773.7h1.6v1.6h-1.6zM237.5 790.5h1.6v1.6h-1.6zM247.2 781.2h1.6v1.6h-1.6zM245.9 784.9h1.6v1.6h-1.6zM263.0 769.5h1.6v1.6h-1.6zM249.0 784.1h1.6v1.6h-1.6zM239.8 785.4h1.6v1.6h-1.6zM250.9 785.8h1.6v1.6h-1.6zM254.8 782.1h1.6v1.6h-1.6zM246.9 788.6h1.6v1.6h-1.6zM259.6 782.5h1.6v1.6h-1.6zM252.6 779.7h1.6v1.6h-1.6zM245.1 784.8h1.6v1.6h-1.6zM247.6 784.5h1.6v1.6h-1.6zM251.4 784.7h1.6v1.6h-1.6zM256.7 778.6h1.6v1.6h-1.6zM241.1 785.1h1.6v1.6h-1.6zM246.1 782.0h1.6v1.6h-1.6zM236.0 788.1h1.6v1.6h-1.6zM236.3 789.5h1.6v1.6h-1.6zM261.1 782.0h1.6v1.6h-1.6zM241.2 786.8h1.6v1.6h-1.6zM253.2 781.7h1.6v1.6h-1.6zM243.9 787.9h1.6v1.6h-1.6zM245.9 774.3h1.6v1.6h-1.6zM249.3 784.5h1.6v1.6h-1.6zM247.1 787.1h1.6v1.6h-1.6zM240.1 786.5h1.6v1.6h-1.6zM265.9 770.1h1.6v1.6h-1.6zM240.1 780.6h1.6v1.6h-1.6zM252.2 763.6h1.6v1.6h-1.6zM248.5 787.7h1.6v1.6h-1.6zM252.0 782.2h1.6v1.6h-1.6zM241.7 788.1h1.6v1.6h-1.6zM246.3 787.0h1.6v1.6h-1.6zM256.3 777.2h1.6v1.6h-1.6zM246.0 785.5h1.6v1.6h-1.6zM259.7 774.4h1.6v1.6h-1.6zM241.2 785.5h1.6v1.6h-1.6zM273.3 767.9h1.6v1.6h-1.6zM243.3 777.1h1.6v1.6h-1.6zM236.4 790.6h1.6v1.6h-1.6zM276.8 771.2h1.6v1.6h-1.6zM258.0 773.6h1.6v1.6h-1.6zM252.1 765.5h1.6v1.6h-1.6zM252.6 776.3h1.6v1.6h-1.6zM254.0 778.0h1.6v1.6h-1.6zM241.7 780.8h1.6v1.6h-1.6zM241.4 785.3h1.6v1.6h-1.6zM242.7 780.8h1.6v1.6h-1.6zM250.7 776.7h1.6v1.6h-1.6zM244.7 784.9h1.6v1.6h-1.6zM236.6 786.1h1.6v1.6h-1.6zM254.8 779.4h1.6v1.6h-1.6zM251.1 783.2h1.6v1.6h-1.6zM250.0 764.9h1.6v1.6h-1.6zM245.5 785.8h1.6v1.6h-1.6zM258.3 775.9h1.6v1.6h-1.6zM245.5 773.1h1.6v1.6h-1.6zM273.9 773.5h1.6v1.6h-1.6zM276.8 780.7h1.6v1.6h-1.6zM271.4 783.2h1.6v1.6h-1.6zM254.6 780.5h1.6v1.6h-1.6zM247.4 779.6h1.6v1.6h-1.6zM243.0 787.5h1.6v1.6h-1.6zM242.0 778.0h1.6v1.6h-1.6zM245.5 782.3h1.6v1.6h-1.6zM248.5 775.7h1.6v1.6h-1.6zM242.5 788.0h1.6v1.6h-1.6zM245.2 783.3h1.6v1.6h-1.6zM244.3 782.5h1.6v1.6h-1.6zM256.4 769.2h1.6v1.6h-1.6zM256.4 764.6h1.6v1.6h-1.6zM247.5 785.1h1.6v1.6h-1.6zM244.9 786.7h1.6v1.6h-1.6zM240.8 784.9h1.6v1.6h-1.6zM251.6 788.5h1.6v1.6h-1.6zM249.4 785.3h1.6v1.6h-1.6zM243.3 786.1h1.6v1.6h-1.6zM265.5 773.3h1.6v1.6h-1.6zM237.6 787.0h1.6v1.6h-1.6zM243.5 775.4h1.6v1.6h-1.6zM246.2 784.0h1.6v1.6h-1.6zM248.6 786.0h1.6v1.6h-1.6zM246.9 783.9h1.6v1.6h-1.6zM284.9 763.5h1.6v1.6h-1.6zM255.8 778.3h1.6v1.6h-1.6zM252.4 778.5h1.6v1.6h-1.6zM269.0 788.0h1.6v1.6h-1.6zM245.2 787.1h1.6v1.6h-1.6zM260.4 782.1h1.6v1.6h-1.6zM261.9 764.1h1.6v1.6h-1.6zM245.9 781.0h1.6v1.6h-1.6zM246.5 778.8h1.6v1.6h-1.6zM256.1 767.6h1.6v1.6h-1.6zM260.0 783.1h1.6v1.6h-1.6zM269.8 771.8h1.6v1.6h-1.6zM263.6 774.4h1.6v1.6h-1.6zM261.7 783.4h1.6v1.6h-1.6zM267.9 780.5h1.6v1.6h-1.6zM249.4 779.2h1.6v1.6h-1.6zM240.1 785.3h1.6v1.6h-1.6zM251.1 775.5h1.6v1.6h-1.6zM250.0 785.9h1.6v1.6h-1.6zM242.4 787.8h1.6v1.6h-1.6zM252.1 781.6h1.6v1.6h-1.6zM257.4 761.6h1.6v1.6h-1.6zM248.2 784.7h1.6v1.6h-1.6zM254.8 776.1h1.6v1.6h-1.6zM237.2 789.2h1.6v1.6h-1.6zM251.4 777.1h1.6v1.6h-1.6zM246.6 787.1h1.6v1.6h-1.6zM281.9 786.9h1.6v1.6h-1.6zM268.8 778.3h1.6v1.6h-1.6zM247.0 783.4h1.6v1.6h-1.6zM253.7 784.9h1.6v1.6h-1.6zM240.4 785.6h1.6v1.6h-1.6zM265.3 777.2h1.6v1.6h-1.6zM284.8 778.3h1.6v1.6h-1.6zM259.0 773.9h1.6v1.6h-1.6zM266.3 782.1h1.6v1.6h-1.6zM256.8 779.7h1.6v1.6h-1.6zM236.5 789.3h1.6v1.6h-1.6zM240.0 787.8h1.6v1.6h-1.6zM256.6 779.6h1.6v1.6h-1.6zM275.9 760.6h1.6v1.6h-1.6zM245.3 785.5h1.6v1.6h-1.6zM254.2 783.8h1.6v1.6h-1.6zM256.2 774.4h1.6v1.6h-1.6zM261.6 774.7h1.6v1.6h-1.6zM252.1 785.9h1.6v1.6h-1.6zM252.9 781.1h1.6v1.6h-1.6zM252.6 777.6h1.6v1.6h-1.6zM245.2 785.5h1.6v1.6h-1.6zM245.1 787.7h1.6v1.6h-1.6zM238.9 789.3h1.6v1.6h-1.6zM256.0 788.1h1.6v1.6h-1.6zM256.0 772.7h1.6v1.6h-1.6zM261.3 778.6h1.6v1.6h-1.6zM247.9 776.0h1.6v1.6h-1.6zM259.2 756.9h1.6v1.6h-1.6zM247.5 784.7h1.6v1.6h-1.6zM264.3 777.5h1.6v1.6h-1.6zM249.8 771.9h1.6v1.6h-1.6zM260.0 779.4h1.6v1.6h-1.6zM257.2 778.3h1.6v1.6h-1.6zM263.8 771.4h1.6v1.6h-1.6zM244.2 773.5h1.6v1.6h-1.6zM250.5 780.9h1.6v1.6h-1.6zM245.9 783.5h1.6v1.6h-1.6zM247.8 779.5h1.6v1.6h-1.6zM256.7 766.8h1.6v1.6h-1.6zM260.1 779.9h1.6v1.6h-1.6zM245.4 786.6h1.6v1.6h-1.6zM263.0 780.5h1.6v1.6h-1.6zM271.7 768.5h1.6v1.6h-1.6zM250.8 779.9h1.6v1.6h-1.6zM277.2 766.4h1.6v1.6h-1.6zM248.0 786.5h1.6v1.6h-1.6zM239.9 788.2h1.6v1.6h-1.6zM267.7 765.7h1.6v1.6h-1.6zM245.1 789.9h1.6v1.6h-1.6zM264.8 770.4h1.6v1.6h-1.6zM237.8 788.1h1.6v1.6h-1.6zM242.7 780.4h1.6v1.6h-1.6zM258.2 781.7h1.6v1.6h-1.6zM237.1 788.6h1.6v1.6h-1.6zM246.5 777.9h1.6v1.6h-1.6zM246.5 771.6h1.6v1.6h-1.6zM239.1 788.0h1.6v1.6h-1.6zM257.1 785.5h1.6v1.6h-1.6zM251.4 776.3h1.6v1.6h-1.6zM247.1 783.0h1.6v1.6h-1.6zM261.4 778.9h1.6v1.6h-1.6zM256.6 780.2h1.6v1.6h-1.6zM242.1 789.2h1.6v1.6h-1.6zM244.8 787.2h1.6v1.6h-1.6zM262.5 775.1h1.6v1.6h-1.6zM238.1 782.2h1.6v1.6h-1.6zM256.5 779.5h1.6v1.6h-1.6zM259.2 776.6h1.6v1.6h-1.6zM255.3 779.4h1.6v1.6h-1.6zM245.2 785.5h1.6v1.6h-1.6zM244.1 786.9h1.6v1.6h-1.6zM246.7 759.9h1.6v1.6h-1.6zM240.0 787.5h1.6v1.6h-1.6zM262.0 761.7h1.6v1.6h-1.6zM255.4 782.0h1.6v1.6h-1.6zM240.1 786.0h1.6v1.6h-1.6zM239.0 786.5h1.6v1.6h-1.6zM245.6 786.6h1.6v1.6h-1.6zM244.3 789.0h1.6v1.6h-1.6zM240.8 785.4h1.6v1.6h-1.6zM244.1 787.5h1.6v1.6h-1.6zM259.8 772.7h1.6v1.6h-1.6zM252.9 787.2h1.6v1.6h-1.6zM261.9 771.8h1.6v1.6h-1.6zM242.2 787.6h1.6v1.6h-1.6zM259.6 765.7h1.6v1.6h-1.6zM246.7 787.6h1.6v1.6h-1.6zM264.9 778.8h1.6v1.6h-1.6zM259.2 777.3h1.6v1.6h-1.6zM249.0 784.3h1.6v1.6h-1.6zM269.8 775.8h1.6v1.6h-1.6zM250.6 784.6h1.6v1.6h-1.6zM279.9 766.9h1.6v1.6h-1.6zM242.0 786.1h1.6v1.6h-1.6zM238.8 787.9h1.6v1.6h-1.6zM241.3 780.8h1.6v1.6h-1.6zM247.5 786.4h1.6v1.6h-1.6zM237.3 787.4h1.6v1.6h-1.6zM244.4 777.0h1.6v1.6h-1.6zM282.4 779.6h1.6v1.6h-1.6zM249.5 767.7h1.6v1.6h-1.6zM240.2 789.2h1.6v1.6h-1.6zM260.8 773.2h1.6v1.6h-1.6zM238.6 785.9h1.6v1.6h-1.6zM247.6 782.8h1.6v1.6h-1.6zM255.0 760.6h1.6v1.6h-1.6zM261.2 782.4h1.6v1.6h-1.6zM269.7 762.6h1.6v1.6h-1.6zM255.8 782.8h1.6v1.6h-1.6zM243.6 784.7h1.6v1.6h-1.6zM270.2 766.4h1.6v1.6h-1.6zM252.4 778.7h1.6v1.6h-1.6zM253.9 781.6h1.6v1.6h-1.6zM251.2 788.1h1.6v1.6h-1.6zM250.1 775.6h1.6v1.6h-1.6zM252.7 767.2h1.6v1.6h-1.6zM271.8 774.4h1.6v1.6h-1.6zM241.1 786.1h1.6v1.6h-1.6zM240.6 783.3h1.6v1.6h-1.6zM270.0 736.2h1.6v1.6h-1.6zM270.0 744.2h1.6v1.6h-1.6zM316.6 741.5h1.6v1.6h-1.6zM318.8 746.8h1.6v1.6h-1.6zM316.6 775.4h1.6v1.6h-1.6zM304.6 753.3h1.6v1.6h-1.6zM306.8 753.3h1.6v1.6h-1.6zM299.7 753.3h1.6v1.6h-1.6zM304.6 763.2h1.6v1.6h-1.6zM302.8 770.8h1.6v1.6h-1.6zM291.7 765.1h1.6v1.6h-1.6zM293.5 776.9h1.6v1.6h-1.6zM280.7 746.5h1.6v1.6h-1.6zM288.2 753.3h1.6v1.6h-1.6z"/>
<line x1="386.8" y1="717.4" x2="386.8" y2="792.7" stroke="#444" stroke-width="1.2"/>
<line x1="386.3" y1="792.2" x2="496.3" y2="792.2" stroke="#444" stroke-width="1"/>
<line x1="384.8" y1="792.2" x2="386.8" y2="792.2" stroke="#444" stroke-width="1"/>
<text x="384.2" y="794.35" font-size="6.1" font-weight="bold" fill="#222" text-anchor="end" stroke="#222" stroke-width="0.18">0</text>
<line x1="384.8" y1="773.5" x2="386.8" y2="773.5" stroke="#444" stroke-width="1"/>
<text x="384.2" y="775.65" font-size="6.1" font-weight="bold" fill="#222" text-anchor="end" stroke="#222" stroke-width="0.18">50,000</text>
<line x1="384.8" y1="754.8" x2="386.8" y2="754.8" stroke="#444" stroke-width="1"/>
<text x="384.2" y="756.95" font-size="6.1" font-weight="bold" fill="#222" text-anchor="end" stroke="#222" stroke-width="0.18">100,000</text>
<line x1="384.8" y1="736.1" x2="386.8" y2="736.1" stroke="#444" stroke-width="1"/>
<text x="384.2" y="738.25" font-size="6.1" font-weight="bold" fill="#222" text-anchor="end" stroke="#222" stroke-width="0.18">150,000</text>
<line x1="384.8" y1="717.4" x2="386.8" y2="717.4" stroke="#444" stroke-width="1"/>
<text x="384.2" y="719.55" font-size="6.1" font-weight="bold" fill="#222" text-anchor="end" stroke="#222" stroke-width="0.18">200,000</text>
<line x1="387.5" y1="792.2" x2="387.5" y2="794.2" stroke="#444" stroke-width="1"/>
<text x="387.5" y="800.5" font-size="6.1" font-weight="bold" fill="#222" text-anchor="middle" stroke="#222" stroke-width="0.18">0</text>
<line x1="414.7" y1="792.2" x2="414.7" y2="794.2" stroke="#444" stroke-width="1"/>
<text x="414.7" y="800.5" font-size="6.1" font-weight="bold" fill="#222" text-anchor="middle" stroke="#222" stroke-width="0.18">10,000</text>
<line x1="441.9" y1="792.2" x2="441.9" y2="794.2" stroke="#444" stroke-width="1"/>
<text x="441.9" y="800.5" font-size="6.1" font-weight="bold" fill="#222" text-anchor="middle" stroke="#222" stroke-width="0.18">20,000</text>
<line x1="469.1" y1="792.2" x2="469.1" y2="794.2" stroke="#444" stroke-width="1"/>
<text x="469.1" y="800.5" font-size="6.1" font-weight="bold" fill="#222" text-anchor="middle" stroke="#222" stroke-width="0.18">30,000</text>
<line x1="496.3" y1="792.2" x2="496.3" y2="794.2" stroke="#444" stroke-width="1"/>
<text x="496.3" y="800.5" font-size="6.1" font-weight="bold" fill="#222" text-anchor="middle" stroke="#222" stroke-width="0.18">40,000</text>
<text x="0" y="0" font-size="8.8" font-weight="bold" fill="#111" text-anchor="middle" transform="translate(359.6 757.7) rotate(-90)">CD3</text>
<text x="442.5" y="813.2" font-size="9.6" font-weight="bold" fill="#111" text-anchor="middle" >TIM-3</text>
<text x="391.5" y="722.4" font-size="8.6" font-weight="bold" fill="#111"><tspan font-style="italic">R</tspan> = 0.6083</text>
<text x="391.3" y="733.2" font-size="8.6" font-weight="bold" fill="#111"><tspan font-style="italic">P</tspan> &lt; 0.0001</text>
<path fill="#000" d="M393.2 787.9h1.6v1.6h-1.6zM394.8 786.7h1.6v1.6h-1.6zM405.0 786.5h1.6v1.6h-1.6zM396.2 786.4h1.6v1.6h-1.6zM393.5 787.0h1.6v1.6h-1.6zM398.4 760.1h1.6v1.6h-1.6zM400.8 781.7h1.6v1.6h-1.6zM406.7 783.7h1.6v1.6h-1.6zM394.8 783.9h1.6v1.6h-1.6zM395.3 788.0h1.6v1.6h-1.6zM394.9 788.7h1.6v1.6h-1.6zM410.5 758.5h1.6v1.6h-1.6zM396.9 785.1h1.6v1.6h-1.6zM403.0 780.1h1.6v1.6h-1.6zM405.8 780.3h1.6v1.6h-1.6zM391.5 783.4h1.6v1.6h-1.6zM395.3 780.2h1.6v1.6h-1.6zM396.2 784.3h1.6v1.6h-1.6zM390.9 789.7h1.6v1.6h-1.6zM401.6 777.2h1.6v1.6h-1.6zM396.8 783.9h1.6v1.6h-1.6zM390.4 788.8h1.6v1.6h-1.6zM394.4 788.4h1.6v1.6h-1.6zM401.2 783.6h1.6v1.6h-1.6zM393.5 787.7h1.6v1.6h-1.6zM395.9 786.0h1.6v1.6h-1.6zM398.9 784.8h1.6v1.6h-1.6zM407.3 757.9h1.6v1.6h-1.6zM408.6 779.0h1.6v1.6h-1.6zM394.5 784.7h1.6v1.6h-1.6zM396.9 776.4h1.6v1.6h-1.6zM400.1 779.6h1.6v1.6h-1.6zM394.9 785.2h1.6v1.6h-1.6zM392.6 789.6h1.6v1.6h-1.6zM399.9 786.5h1.6v1.6h-1.6zM394.7 782.5h1.6v1.6h-1.6zM417.8 769.4h1.6v1.6h-1.6zM395.7 782.0h1.6v1.6h-1.6zM407.9 772.0h1.6v1.6h-1.6zM393.5 787.8h1.6v1.6h-1.6zM408.7 783.1h1.6v1.6h-1.6zM398.9 775.0h1.6v1.6h-1.6zM408.8 780.8h1.6v1.6h-1.6zM396.5 785.4h1.6v1.6h-1.6zM392.6 787.2h1.6v1.6h-1.6zM393.6 784.8h1.6v1.6h-1.6zM392.7 788.5h1.6v1.6h-1.6zM394.8 785.7h1.6v1.6h-1.6zM389.3 788.4h1.6v1.6h-1.6zM396.8 783.9h1.6v1.6h-1.6zM411.9 773.9h1.6v1.6h-1.6zM401.9 780.2h1.6v1.6h-1.6zM406.6 771.4h1.6v1.6h-1.6zM410.6 775.5h1.6v1.6h-1.6zM392.9 786.5h1.6v1.6h-1.6zM392.7 787.3h1.6v1.6h-1.6zM396.3 789.3h1.6v1.6h-1.6zM396.2 787.6h1.6v1.6h-1.6zM391.9 790.0h1.6v1.6h-1.6zM401.9 776.9h1.6v1.6h-1.6zM392.6 789.1h1.6v1.6h-1.6zM393.7 788.7h1.6v1.6h-1.6zM403.1 784.9h1.6v1.6h-1.6zM407.2 787.6h1.6v1.6h-1.6zM390.5 787.4h1.6v1.6h-1.6zM395.7 789.4h1.6v1.6h-1.6zM400.5 789.1h1.6v1.6h-1.6zM406.1 778.8h1.6v1.6h-1.6zM396.6 786.2h1.6v1.6h-1.6zM390.4 790.1h1.6v1.6h-1.6zM401.1 775.5h1.6v1.6h-1.6zM403.4 777.7h1.6v1.6h-1.6zM399.3 780.4h1.6v1.6h-1.6zM429.4 762.1h1.6v1.6h-1.6zM391.0 787.8h1.6v1.6h-1.6zM395.8 788.1h1.6v1.6h-1.6zM391.9 786.2h1.6v1.6h-1.6zM394.1 787.0h1.6v1.6h-1.6zM393.3 783.3h1.6v1.6h-1.6zM395.4 786.8h1.6v1.6h-1.6zM391.1 789.9h1.6v1.6h-1.6zM408.5 783.0h1.6v1.6h-1.6zM407.8 772.9h1.6v1.6h-1.6zM400.7 780.8h1.6v1.6h-1.6zM398.2 776.9h1.6v1.6h-1.6zM399.0 787.5h1.6v1.6h-1.6zM396.3 776.2h1.6v1.6h-1.6zM392.3 787.7h1.6v1.6h-1.6zM397.7 777.7h1.6v1.6h-1.6zM393.5 781.6h1.6v1.6h-1.6zM392.7 787.0h1.6v1.6h-1.6zM392.5 787.0h1.6v1.6h-1.6zM394.8 788.9h1.6v1.6h-1.6zM401.0 785.6h1.6v1.6h-1.6zM404.7 788.2h1.6v1.6h-1.6zM418.1 770.7h1.6v1.6h-1.6zM421.9 754.3h1.6v1.6h-1.6zM399.1 783.6h1.6v1.6h-1.6zM395.8 781.8h1.6v1.6h-1.6zM397.8 787.8h1.6v1.6h-1.6zM397.5 780.9h1.6v1.6h-1.6zM400.1 780.0h1.6v1.6h-1.6zM403.6 788.1h1.6v1.6h-1.6zM400.9 767.6h1.6v1.6h-1.6zM403.9 780.8h1.6v1.6h-1.6zM393.1 788.0h1.6v1.6h-1.6zM427.0 768.2h1.6v1.6h-1.6zM404.4 778.8h1.6v1.6h-1.6zM405.4 784.3h1.6v1.6h-1.6zM390.5 789.1h1.6v1.6h-1.6zM400.1 789.0h1.6v1.6h-1.6zM397.4 782.8h1.6v1.6h-1.6zM397.6 785.0h1.6v1.6h-1.6zM390.5 789.7h1.6v1.6h-1.6zM392.7 785.0h1.6v1.6h-1.6zM400.6 778.7h1.6v1.6h-1.6zM391.1 789.9h1.6v1.6h-1.6zM400.4 782.0h1.6v1.6h-1.6zM409.2 780.1h1.6v1.6h-1.6zM394.8 782.7h1.6v1.6h-1.6zM393.8 787.6h1.6v1.6h-1.6zM396.0 788.3h1.6v1.6h-1.6zM395.3 790.2h1.6v1.6h-1.6zM406.5 757.5h1.6v1.6h-1.6zM401.7 784.8h1.6v1.6h-1.6zM392.9 788.0h1.6v1.6h-1.6zM401.4 773.9h1.6v1.6h-1.6zM403.1 768.3h1.6v1.6h-1.6zM389.3 790.5h1.6v1.6h-1.6zM400.4 785.7h1.6v1.6h-1.6zM396.9 783.5h1.6v1.6h-1.6zM406.1 775.9h1.6v1.6h-1.6zM400.8 782.2h1.6v1.6h-1.6zM404.0 767.4h1.6v1.6h-1.6zM395.8 783.2h1.6v1.6h-1.6zM400.6 782.3h1.6v1.6h-1.6zM393.5 788.0h1.6v1.6h-1.6zM396.0 782.8h1.6v1.6h-1.6zM403.0 773.4h1.6v1.6h-1.6zM398.5 787.0h1.6v1.6h-1.6zM401.2 788.1h1.6v1.6h-1.6zM393.3 787.9h1.6v1.6h-1.6zM389.9 789.4h1.6v1.6h-1.6zM396.1 783.8h1.6v1.6h-1.6zM402.5 781.3h1.6v1.6h-1.6zM412.1 761.2h1.6v1.6h-1.6zM396.4 781.3h1.6v1.6h-1.6zM392.1 789.9h1.6v1.6h-1.6zM392.1 781.3h1.6v1.6h-1.6zM393.0 788.8h1.6v1.6h-1.6zM397.3 784.2h1.6v1.6h-1.6zM406.2 764.7h1.6v1.6h-1.6zM397.3 785.6h1.6v1.6h-1.6zM394.1 788.2h1.6v1.6h-1.6zM393.4 787.8h1.6v1.6h-1.6zM399.8 776.4h1.6v1.6h-1.6zM404.0 780.3h1.6v1.6h-1.6zM405.9 783.5h1.6v1.6h-1.6zM418.8 756.6h1.6v1.6h-1.6zM424.6 762.2h1.6v1.6h-1.6zM392.3 780.4h1.6v1.6h-1.6zM397.5 787.0h1.6v1.6h-1.6zM389.9 790.7h1.6v1.6h-1.6zM401.0 777.8h1.6v1.6h-1.6zM395.5 775.1h1.6v1.6h-1.6zM398.5 779.1h1.6v1.6h-1.6zM393.0 788.7h1.6v1.6h-1.6zM392.6 785.7h1.6v1.6h-1.6zM399.2 782.7h1.6v1.6h-1.6zM401.1 781.2h1.6v1.6h-1.6zM401.3 789.2h1.6v1.6h-1.6zM404.7 773.2h1.6v1.6h-1.6zM409.3 775.0h1.6v1.6h-1.6zM394.1 788.8h1.6v1.6h-1.6zM408.9 781.2h1.6v1.6h-1.6zM407.4 774.5h1.6v1.6h-1.6zM393.5 786.1h1.6v1.6h-1.6zM414.1 769.2h1.6v1.6h-1.6zM391.1 788.2h1.6v1.6h-1.6zM396.7 783.3h1.6v1.6h-1.6zM398.0 780.5h1.6v1.6h-1.6zM395.0 785.3h1.6v1.6h-1.6zM409.5 769.9h1.6v1.6h-1.6zM400.8 779.6h1.6v1.6h-1.6zM410.4 762.0h1.6v1.6h-1.6zM404.0 786.7h1.6v1.6h-1.6zM392.0 788.8h1.6v1.6h-1.6zM398.6 786.8h1.6v1.6h-1.6zM391.1 788.5h1.6v1.6h-1.6zM393.3 788.8h1.6v1.6h-1.6zM394.0 788.5h1.6v1.6h-1.6zM399.9 777.1h1.6v1.6h-1.6zM396.0 787.7h1.6v1.6h-1.6zM403.8 783.6h1.6v1.6h-1.6zM396.8 785.9h1.6v1.6h-1.6zM394.8 776.0h1.6v1.6h-1.6zM404.0 767.7h1.6v1.6h-1.6zM413.7 770.2h1.6v1.6h-1.6zM390.0 788.2h1.6v1.6h-1.6zM405.7 785.8h1.6v1.6h-1.6zM393.9 781.5h1.6v1.6h-1.6zM404.2 771.0h1.6v1.6h-1.6zM393.5 784.4h1.6v1.6h-1.6zM397.7 780.4h1.6v1.6h-1.6zM391.5 788.4h1.6v1.6h-1.6zM389.5 790.2h1.6v1.6h-1.6zM395.1 786.2h1.6v1.6h-1.6zM395.0 787.5h1.6v1.6h-1.6zM402.5 781.6h1.6v1.6h-1.6zM391.5 787.3h1.6v1.6h-1.6zM411.2 776.6h1.6v1.6h-1.6zM392.0 784.4h1.6v1.6h-1.6zM402.7 788.0h1.6v1.6h-1.6zM397.7 785.7h1.6v1.6h-1.6zM435.6 760.0h1.6v1.6h-1.6zM391.8 786.6h1.6v1.6h-1.6zM410.2 785.8h1.6v1.6h-1.6zM397.9 785.3h1.6v1.6h-1.6zM406.8 774.3h1.6v1.6h-1.6zM393.7 785.9h1.6v1.6h-1.6zM398.4 788.3h1.6v1.6h-1.6zM392.1 785.3h1.6v1.6h-1.6zM398.6 780.1h1.6v1.6h-1.6zM391.4 784.6h1.6v1.6h-1.6zM392.1 789.1h1.6v1.6h-1.6zM401.8 785.1h1.6v1.6h-1.6zM391.0 789.0h1.6v1.6h-1.6zM406.1 784.0h1.6v1.6h-1.6zM408.4 764.5h1.6v1.6h-1.6zM390.3 788.0h1.6v1.6h-1.6zM398.7 782.5h1.6v1.6h-1.6zM400.5 778.6h1.6v1.6h-1.6zM395.2 783.9h1.6v1.6h-1.6zM394.4 781.4h1.6v1.6h-1.6zM404.2 771.1h1.6v1.6h-1.6zM398.0 783.3h1.6v1.6h-1.6zM395.1 788.2h1.6v1.6h-1.6zM401.1 788.1h1.6v1.6h-1.6zM416.5 764.8h1.6v1.6h-1.6zM390.1 788.3h1.6v1.6h-1.6zM415.1 752.2h1.6v1.6h-1.6zM395.8 784.4h1.6v1.6h-1.6zM390.1 788.3h1.6v1.6h-1.6zM406.8 773.8h1.6v1.6h-1.6zM399.2 782.5h1.6v1.6h-1.6zM403.5 785.2h1.6v1.6h-1.6zM390.2 789.9h1.6v1.6h-1.6zM398.7 788.6h1.6v1.6h-1.6zM401.7 785.2h1.6v1.6h-1.6zM392.8 789.2h1.6v1.6h-1.6zM396.5 787.0h1.6v1.6h-1.6zM394.7 788.1h1.6v1.6h-1.6zM399.7 774.4h1.6v1.6h-1.6zM393.7 786.1h1.6v1.6h-1.6zM398.3 789.0h1.6v1.6h-1.6zM397.2 784.7h1.6v1.6h-1.6zM391.7 788.6h1.6v1.6h-1.6zM401.1 784.9h1.6v1.6h-1.6zM399.1 776.9h1.6v1.6h-1.6zM407.5 759.3h1.6v1.6h-1.6zM412.4 771.5h1.6v1.6h-1.6zM399.4 783.7h1.6v1.6h-1.6zM394.7 778.1h1.6v1.6h-1.6zM409.9 773.6h1.6v1.6h-1.6zM405.0 777.3h1.6v1.6h-1.6zM416.3 769.1h1.6v1.6h-1.6zM393.4 786.1h1.6v1.6h-1.6zM391.8 786.1h1.6v1.6h-1.6zM398.2 780.6h1.6v1.6h-1.6zM414.7 767.7h1.6v1.6h-1.6zM395.9 786.9h1.6v1.6h-1.6zM389.0 790.0h1.6v1.6h-1.6zM390.8 788.1h1.6v1.6h-1.6zM394.1 782.5h1.6v1.6h-1.6zM400.6 787.3h1.6v1.6h-1.6zM394.4 787.4h1.6v1.6h-1.6zM409.5 771.9h1.6v1.6h-1.6zM397.3 787.0h1.6v1.6h-1.6zM397.3 787.5h1.6v1.6h-1.6zM411.2 768.5h1.6v1.6h-1.6zM393.7 787.3h1.6v1.6h-1.6zM391.7 789.2h1.6v1.6h-1.6zM417.6 764.5h1.6v1.6h-1.6zM403.7 771.4h1.6v1.6h-1.6zM393.9 784.4h1.6v1.6h-1.6zM399.7 785.2h1.6v1.6h-1.6zM423.1 774.0h1.6v1.6h-1.6zM390.0 789.0h1.6v1.6h-1.6zM389.8 789.9h1.6v1.6h-1.6zM388.8 789.8h1.6v1.6h-1.6zM414.7 736.4h1.6v1.6h-1.6zM447.1 740.9h1.6v1.6h-1.6zM473.2 746.5h1.6v1.6h-1.6zM449.0 755.9h1.6v1.6h-1.6zM450.1 766.3h1.6v1.6h-1.6zM456.9 769.7h1.6v1.6h-1.6zM452.8 777.2h1.6v1.6h-1.6zM450.6 781.7h1.6v1.6h-1.6zM434.3 779.8h1.6v1.6h-1.6zM422.1 744.3h1.6v1.6h-1.6zM424.0 752.9h1.6v1.6h-1.6z"/>
<path fill="#fe0000" d="M63.60 635.0V616.47H63.95V615.60H64.31V614.26H64.66V612.91H65.01V611.99H65.37V611.75H65.72V611.05H66.07V610.11H66.43V609.39H66.78V608.47H67.14V607.58H67.49V607.17H67.84V606.63H68.20V605.51H68.55V605.38H68.90V604.23H69.26V603.52H69.61V602.66H69.96V602.72H70.32V601.80H70.67V601.21H71.02V600.29H71.38V599.31H71.73V599.10H72.08V598.79H72.44V598.04H72.79V598.27H73.15V597.36H73.50V596.74H73.85V596.83H74.21V595.83H74.56V596.03H74.91V595.20H75.27V594.84H75.62V594.23H75.97V593.90H76.33V593.21H76.68V592.65H77.03V592.87H77.39V591.92H77.74V591.91H78.09V591.01H78.45V591.17H78.80V590.67H79.15V590.12H79.51V589.82H79.86V589.49H80.22V589.43H80.57V588.76H80.92V588.86H81.28V588.96H81.63V588.28H81.98V588.68H82.34V588.47H82.69V587.90H83.04V587.69H83.40V587.57H83.75V587.34H84.10V587.65H84.46V586.98H84.81V586.51H85.16V586.38H85.52V586.70H85.87V586.74H86.23V586.16H86.58V585.98H86.93V585.84H87.29V585.82H87.64V585.23H87.99V585.40H88.35V585.22H88.70V585.13H89.05V584.63H89.41V584.48H89.76V584.49H90.11V584.81H90.47V584.20H90.82V584.26H91.17V583.89H91.53V583.59H91.88V583.41H92.24V583.87H92.59V583.70H92.94V583.24H93.30V583.34H93.65V583.20H94.00V583.24H94.36V583.14H94.71V582.56H95.06V582.88H95.42V582.72H95.77V582.28H96.12V582.38H96.48V581.92H96.83V581.69H97.18V581.45H97.54V581.81H97.89V581.10H98.25V580.88H98.60V581.33H98.95V581.16H99.31V580.79H99.66V580.93H100.01V580.16H100.37V580.18H100.72V580.07H101.07V580.03H101.43V579.69H101.78V579.47H102.13V579.54H102.49V579.85H102.84V579.78H103.19V579.45H103.55V579.09H103.90V578.77H104.25V579.19H104.61V578.70H104.96V578.72H105.32V578.02H105.67V578.03H106.02V578.39H106.38V578.21H106.73V578.14H107.08V577.77H107.44V577.49H107.79V577.47H108.14V577.54H108.50V576.97H108.85V577.00H109.20V576.66H109.56V576.91H109.91V576.16H110.26V576.56H110.62V576.63H110.97V575.74H111.33V576.06H111.68V575.95H112.03V575.98H112.39V575.62H112.74V575.22H113.09V575.19H113.45V575.49H113.80V575.31H114.15V574.55H114.51V574.38H114.86V574.23H115.21V574.04H115.57V574.23H115.92V573.84H116.27V574.28H116.63V573.97H116.98V573.41H117.34V573.59H117.69V573.28H118.04V573.27H118.40V572.91H118.75V572.73H119.10V572.60H119.46V572.61H119.81V572.73H120.16V572.46H120.52V571.92H120.87V572.31H121.22V572.30H121.58V572.08H121.93V571.95H122.28V571.18H122.64V571.41H122.99V570.95H123.35V571.37H123.70V570.75H124.05V571.04H124.41V570.53H124.76V570.75H125.11V570.30H125.47V569.94H125.82V570.08H126.17V569.87H126.53V570.21H126.88V569.58H127.23V569.61H127.59V569.50H127.94V569.68H128.29V568.86H128.65V569.12H129.00V568.91H129.35V568.95H129.71V568.99H130.06V568.32H130.42V568.50H130.77V568.22H131.12V568.10H131.48V567.56H131.83V568.02H132.18V568.01H132.54V567.37H132.89V567.20H133.24V567.60H133.60V566.75H133.95V566.59H134.30V566.44H134.66V566.90H135.01V566.71H135.36V566.32H135.72V566.32H136.07V565.70H136.43V566.05H136.78V565.66H137.13V565.46H137.49V565.09H137.84V564.84H138.19V564.44H138.55V564.03H138.90V564.08H139.25V563.67H139.61V563.77H139.96V563.60H140.31V563.26H140.67V562.78H141.02V562.34H141.37V562.20H141.73V562.02H142.08V561.87H142.44V561.87H142.79V560.90H143.14V560.96H143.50V560.70H143.85V560.62H144.20V560.50H144.56V560.14H144.91V559.76H145.26V559.60H145.62V559.27H145.97V559.16H146.32V558.76H146.68V558.49H147.03V557.87H147.38V558.15H147.74V557.46H148.09V557.38H148.45V557.29H148.80V557.13H149.15V556.89H149.51V555.84H149.86V555.83H150.21V555.58H150.57V555.40H150.92V554.96H151.27V555.04H151.63V554.41H151.98V554.35H152.33V554.61H152.69V554.21H153.04V553.74H153.39V553.21H153.75V553.64H154.10V553.20H154.45V552.55H154.81V552.41H155.16V552.41H155.52V552.20H155.87V551.62H156.22V551.92H156.58V551.18H156.93V550.88H157.28V551.10H157.64V550.31H157.99V550.48H158.34V549.85H158.70V549.93H159.05V549.42H159.40V549.26H159.76V549.46H160.11V548.84H160.46V548.57H160.82V548.47H161.17V547.96H161.53V547.63H161.88V547.55H162.23V547.21H162.59V546.90H162.94V547.27H163.29V546.29H163.65V546.66H164.00V546.52H164.35V546.09H164.71V545.30H165.06V545.45H165.41V544.85H165.77V545.08H166.12V544.92H166.47V544.33H166.83V543.91H167.18V544.11H167.54V543.53H167.89V543.47H168.24V543.36H168.60V543.48H168.95V542.84H169.30V542.42H169.66V542.72H170.01V542.51H170.36V542.05H170.72V541.44H171.07V541.32H171.42V541.27H171.78V541.16H172.13V540.67H172.48V540.90H172.84V540.71H173.19V540.54H173.55V540.28H173.90V539.36H174.25V539.59H174.61V538.96H174.96V539.38H175.31V539.03H175.67V538.82H176.02V538.13H176.37V537.80H176.73V538.18H177.08V537.78H177.43V537.57H177.79V537.22H178.14V537.25H178.49V536.66H178.85V536.37H179.20V536.21H179.55V535.94H179.91V535.98H180.26V535.92H180.62V534.98H180.97V534.69H181.32V534.76H181.68V534.61H182.03V533.93H182.38V533.71H182.74V533.26H183.09V532.96H183.44V533.04H183.80V532.90H184.15V532.59H184.50V531.91H184.86V531.58H185.21V531.96H185.56V531.36H185.92V530.97H186.27V530.91H186.63V530.66H186.98V530.21H187.33V529.57H187.69V529.88H188.04V529.10H188.39V528.68H188.75V528.65H189.10V528.50H189.45V528.30H189.81V527.65H190.16V527.79H190.51V527.33H190.87V526.78H191.22V527.05H191.57V526.73H191.93V526.52H192.28V526.06H192.64V525.40H192.99V525.56H193.34V525.38H193.70V524.80H194.05V524.81H194.40V524.58H194.76V523.83H195.11V523.96H195.46V523.57H195.82V523.06H196.17V522.05H196.52V521.93H196.88V521.75H197.23V521.36H197.58V521.09H197.94V520.62H198.29V519.84H198.65V520.07H199.00V519.36H199.35V519.25H199.71V518.32H200.06V518.57H200.41V517.82H200.77V517.61H201.12V517.20H201.47V516.07H201.83V514.40H202.18V512.93H202.53V511.94H202.89V510.51H203.24V509.55H203.59V508.52H203.95V506.91H204.30V505.56H204.65V504.41H205.01V503.65H205.36V502.71H205.72V501.19H206.07V500.63H206.42V499.19H206.78V498.04H207.13V497.62H207.48V495.91H207.84V494.82H208.19V493.14H208.54V491.44H208.90V490.15H209.25V488.91H209.60V486.20H209.96V482.00H210.31V477.67H210.66V473.27H211.02V466.95H211.37V456.49H211.73V448.70H212.08V448.20H212.43V448.20H212.79V448.23H213.14V448.20H213.49V448.20H213.85V448.46H214.20V635.0Z"/>
<path fill="#d9d9d9" shape-rendering="crispEdges" d="M214.20 558.64h1.349V635.0h-1.349zM215.20 563.36h1.349V635.0h-1.349zM216.20 560.06h1.349V635.0h-1.349zM217.20 559.13h1.349V635.0h-1.349zM218.19 551.52h1.349V635.0h-1.349zM219.19 547.03h1.349V635.0h-1.349zM220.19 573.19h1.349V635.0h-1.349zM221.19 564.86h1.349V635.0h-1.349zM222.19 560.13h1.349V635.0h-1.349zM223.19 560.52h1.349V635.0h-1.349zM224.19 558.30h1.349V635.0h-1.349zM225.19 551.24h1.349V635.0h-1.349zM226.18 559.07h1.349V635.0h-1.349zM227.18 552.81h1.349V635.0h-1.349zM228.18 536.97h1.349V635.0h-1.349zM229.18 566.15h1.349V635.0h-1.349zM230.18 519.21h1.349V635.0h-1.349zM231.18 583.83h1.349V635.0h-1.349zM232.18 555.40h1.349V635.0h-1.349zM233.17 536.52h1.349V635.0h-1.349zM234.17 529.79h1.349V635.0h-1.349zM235.17 536.14h1.349V635.0h-1.349zM236.17 564.50h1.349V635.0h-1.349zM237.17 541.52h1.349V635.0h-1.349zM238.17 579.52h1.349V635.0h-1.349zM239.17 555.25h1.349V635.0h-1.349zM240.17 566.56h1.349V635.0h-1.349zM241.16 572.32h1.349V635.0h-1.349zM242.16 489.30h1.349V635.0h-1.349zM243.16 541.41h1.349V635.0h-1.349zM244.16 563.74h1.349V635.0h-1.349zM245.16 574.60h1.349V635.0h-1.349zM246.16 538.99h1.349V635.0h-1.349zM247.16 551.33h1.349V635.0h-1.349zM248.15 542.06h1.349V635.0h-1.349zM249.15 551.43h1.349V635.0h-1.349zM250.15 568.63h1.349V635.0h-1.349zM251.15 548.47h1.349V635.0h-1.349zM252.15 505.73h1.349V635.0h-1.349zM253.15 559.31h1.349V635.0h-1.349zM254.15 573.97h1.349V635.0h-1.349zM255.15 550.96h1.349V635.0h-1.349zM256.14 562.10h1.349V635.0h-1.349zM257.14 554.88h1.349V635.0h-1.349zM258.14 554.88h1.349V635.0h-1.349zM259.14 554.88h1.349V635.0h-1.349zM260.14 568.59h1.349V635.0h-1.349zM261.14 551.89h1.349V635.0h-1.349zM262.14 526.44h1.349V635.0h-1.349zM263.13 537.36h1.349V635.0h-1.349zM264.13 549.33h1.349V635.0h-1.349zM265.13 543.27h1.349V635.0h-1.349zM266.13 507.13h1.349V635.0h-1.349zM267.13 517.44h1.349V635.0h-1.349zM268.13 543.98h1.349V635.0h-1.349zM269.13 557.78h1.349V635.0h-1.349zM270.13 553.32h1.349V635.0h-1.349zM271.12 561.53h1.349V635.0h-1.349zM272.12 565.79h1.349V635.0h-1.349zM273.12 550.14h1.349V635.0h-1.349zM274.12 553.37h1.349V635.0h-1.349zM275.12 544.86h1.349V635.0h-1.349zM276.12 547.02h1.349V635.0h-1.349zM277.12 572.57h1.349V635.0h-1.349zM278.11 464.64h1.349V635.0h-1.349zM279.11 518.89h1.349V635.0h-1.349zM280.11 535.76h1.349V635.0h-1.349zM281.11 533.32h1.349V635.0h-1.349zM282.11 547.92h1.349V635.0h-1.349zM283.11 558.73h1.349V635.0h-1.349zM284.11 497.65h1.349V635.0h-1.349zM285.11 565.33h1.349V635.0h-1.349zM286.10 534.63h1.349V635.0h-1.349zM287.10 514.22h1.349V635.0h-1.349zM288.10 535.92h1.349V635.0h-1.349zM289.10 553.14h1.349V635.0h-1.349zM290.10 552.42h1.349V635.0h-1.349zM291.10 520.37h1.349V635.0h-1.349zM292.10 529.42h1.349V635.0h-1.349zM293.09 534.87h1.349V635.0h-1.349zM294.09 567.32h1.349V635.0h-1.349zM295.09 538.31h1.349V635.0h-1.349zM296.09 520.03h1.349V635.0h-1.349zM297.09 533.73h1.349V635.0h-1.349zM298.09 536.54h1.349V635.0h-1.349zM299.09 485.56h1.349V635.0h-1.349zM300.09 545.56h1.349V635.0h-1.349zM301.08 498.48h1.349V635.0h-1.349zM302.08 532.95h1.349V635.0h-1.349zM303.08 544.61h1.349V635.0h-1.349zM304.08 545.92h1.349V635.0h-1.349zM305.08 536.67h1.349V635.0h-1.349zM306.08 527.00h1.349V635.0h-1.349zM307.08 448.20h1.349V635.0h-1.349zM308.07 540.14h1.349V635.0h-1.349zM309.07 546.73h1.349V635.0h-1.349zM310.07 547.25h1.349V635.0h-1.349zM311.07 513.82h1.349V635.0h-1.349zM312.07 551.97h1.349V635.0h-1.349zM313.07 512.38h1.349V635.0h-1.349zM314.07 483.38h1.349V635.0h-1.349zM315.07 515.77h1.349V635.0h-1.349zM316.06 490.37h1.349V635.0h-1.349zM317.06 490.39h1.349V635.0h-1.349zM318.06 529.81h1.349V635.0h-1.349zM319.06 481.35h1.349V635.0h-1.349zM320.06 521.54h1.349V635.0h-1.349zM321.06 523.03h1.349V635.0h-1.349zM322.06 521.99h1.349V635.0h-1.349zM323.05 541.58h1.349V635.0h-1.349zM324.05 521.39h1.349V635.0h-1.349zM325.05 448.20h1.349V635.0h-1.349zM326.05 544.41h1.349V635.0h-1.349zM327.05 468.45h1.349V635.0h-1.349zM328.05 502.32h1.349V635.0h-1.349zM329.05 534.12h1.349V635.0h-1.349zM330.05 508.76h1.349V635.0h-1.349zM331.04 517.69h1.349V635.0h-1.349zM332.04 470.62h1.349V635.0h-1.349zM333.04 542.60h1.349V635.0h-1.349zM334.04 498.58h1.349V635.0h-1.349zM335.04 521.02h1.349V635.0h-1.349zM336.04 550.59h1.349V635.0h-1.349zM337.04 513.00h1.349V635.0h-1.349zM338.03 534.36h1.349V635.0h-1.349zM339.03 488.63h1.349V635.0h-1.349zM340.03 448.20h1.349V635.0h-1.349zM341.03 513.05h1.349V635.0h-1.349zM342.03 497.29h1.349V635.0h-1.349zM343.03 519.73h1.349V635.0h-1.349zM344.03 499.62h1.349V635.0h-1.349zM345.03 519.54h1.349V635.0h-1.349zM346.02 502.52h1.349V635.0h-1.349zM347.02 502.57h1.349V635.0h-1.349zM348.02 448.20h1.349V635.0h-1.349zM349.02 507.95h1.349V635.0h-1.349zM350.02 524.25h1.349V635.0h-1.349zM351.02 502.69h1.349V635.0h-1.349zM352.02 505.74h1.349V635.0h-1.349zM353.01 525.60h1.349V635.0h-1.349zM354.01 507.19h1.349V635.0h-1.349zM355.01 482.02h1.349V635.0h-1.349zM356.01 497.53h1.349V635.0h-1.349zM357.01 535.15h1.349V635.0h-1.349zM358.01 516.42h1.349V635.0h-1.349zM359.01 532.18h1.349V635.0h-1.349zM360.01 527.81h1.349V635.0h-1.349zM361.00 448.20h1.349V635.0h-1.349zM362.00 448.20h1.349V635.0h-1.349zM363.00 498.05h1.349V635.0h-1.349z"/>
<path fill="#118511" shape-rendering="crispEdges" d="M364.00 554.08h1.351V635.0h-1.351zM365.00 556.76h1.351V635.0h-1.351zM366.00 573.80h1.351V635.0h-1.351zM367.00 559.03h1.351V635.0h-1.351zM368.01 552.19h1.351V635.0h-1.351zM369.01 520.30h1.351V635.0h-1.351zM370.01 558.79h1.351V635.0h-1.351zM371.01 557.95h1.351V635.0h-1.351zM372.01 539.91h1.351V635.0h-1.351zM373.01 556.68h1.351V635.0h-1.351zM374.01 550.59h1.351V635.0h-1.351zM375.01 497.14h1.351V635.0h-1.351zM376.02 551.71h1.351V635.0h-1.351zM377.02 539.61h1.351V635.0h-1.351zM378.02 545.78h1.351V635.0h-1.351zM379.02 551.17h1.351V635.0h-1.351zM380.02 547.62h1.351V635.0h-1.351zM381.02 548.34h1.351V635.0h-1.351zM382.02 513.95h1.351V635.0h-1.351zM383.03 552.95h1.351V635.0h-1.351zM384.03 567.13h1.351V635.0h-1.351zM385.03 553.74h1.351V635.0h-1.351zM386.03 542.44h1.351V635.0h-1.351zM387.03 475.47h1.351V635.0h-1.351zM388.03 480.26h1.351V635.0h-1.351zM389.03 554.33h1.351V635.0h-1.351zM390.03 557.02h1.351V635.0h-1.351zM391.04 543.22h1.351V635.0h-1.351zM392.04 549.31h1.351V635.0h-1.351zM393.04 550.56h1.351V635.0h-1.351zM394.04 551.22h1.351V635.0h-1.351zM395.04 538.20h1.351V635.0h-1.351zM396.04 506.11h1.351V635.0h-1.351zM397.04 559.94h1.351V635.0h-1.351zM398.05 558.94h1.351V635.0h-1.351zM399.05 561.76h1.351V635.0h-1.351zM400.05 536.33h1.351V635.0h-1.351zM401.05 563.31h1.351V635.0h-1.351zM402.05 550.10h1.351V635.0h-1.351zM403.05 530.94h1.351V635.0h-1.351zM404.05 541.88h1.351V635.0h-1.351zM405.05 526.72h1.351V635.0h-1.351zM406.06 461.65h1.351V635.0h-1.351zM407.06 466.85h1.351V635.0h-1.351zM408.06 553.09h1.351V635.0h-1.351zM409.06 541.47h1.351V635.0h-1.351zM410.06 536.84h1.351V635.0h-1.351zM411.06 538.32h1.351V635.0h-1.351zM412.06 547.25h1.351V635.0h-1.351zM413.07 567.82h1.351V635.0h-1.351zM414.07 542.85h1.351V635.0h-1.351zM415.07 510.42h1.351V635.0h-1.351zM416.07 503.30h1.351V635.0h-1.351zM417.07 486.31h1.351V635.0h-1.351zM418.07 560.69h1.351V635.0h-1.351zM419.07 555.57h1.351V635.0h-1.351zM420.07 512.87h1.351V635.0h-1.351zM421.08 448.20h1.351V635.0h-1.351zM422.08 448.20h1.351V635.0h-1.351zM423.08 508.16h1.351V635.0h-1.351zM424.08 539.20h1.351V635.0h-1.351zM425.08 472.11h1.351V635.0h-1.351zM426.08 477.00h1.351V635.0h-1.351zM427.08 546.02h1.351V635.0h-1.351zM428.09 568.70h1.351V635.0h-1.351zM429.09 466.13h1.351V635.0h-1.351zM430.09 471.20h1.351V635.0h-1.351zM431.09 500.56h1.351V635.0h-1.351zM432.09 548.17h1.351V635.0h-1.351zM433.09 520.56h1.351V635.0h-1.351zM434.09 521.01h1.351V635.0h-1.351zM435.09 492.28h1.351V635.0h-1.351zM436.10 536.86h1.351V635.0h-1.351zM437.10 534.01h1.351V635.0h-1.351zM438.10 548.26h1.351V635.0h-1.351zM439.10 527.88h1.351V635.0h-1.351zM440.10 530.80h1.351V635.0h-1.351zM441.10 530.16h1.351V635.0h-1.351zM442.10 477.34h1.351V635.0h-1.351zM443.11 448.20h1.351V635.0h-1.351zM444.11 448.20h1.351V635.0h-1.351zM445.11 502.09h1.351V635.0h-1.351zM446.11 526.35h1.351V635.0h-1.351zM447.11 521.17h1.351V635.0h-1.351zM448.11 523.67h1.351V635.0h-1.351zM449.11 523.63h1.351V635.0h-1.351zM450.11 536.08h1.351V635.0h-1.351zM451.12 500.63h1.351V635.0h-1.351zM452.12 534.87h1.351V635.0h-1.351zM453.12 535.07h1.351V635.0h-1.351zM454.12 494.15h1.351V635.0h-1.351zM455.12 546.17h1.351V635.0h-1.351zM456.12 527.59h1.351V635.0h-1.351zM457.12 548.83h1.351V635.0h-1.351zM458.13 520.74h1.351V635.0h-1.351zM459.13 533.49h1.351V635.0h-1.351zM460.13 534.42h1.351V635.0h-1.351zM461.13 448.20h1.351V635.0h-1.351zM462.13 448.20h1.351V635.0h-1.351zM463.13 512.83h1.351V635.0h-1.351zM464.13 519.51h1.351V635.0h-1.351zM465.13 536.96h1.351V635.0h-1.351zM466.14 463.14h1.351V635.0h-1.351zM467.14 468.30h1.351V635.0h-1.351zM468.14 544.45h1.351V635.0h-1.351zM469.14 490.30h1.351V635.0h-1.351zM470.14 492.28h1.351V635.0h-1.351zM471.14 546.69h1.351V635.0h-1.351zM472.14 543.90h1.351V635.0h-1.351zM473.15 541.46h1.351V635.0h-1.351zM474.15 480.33h1.351V635.0h-1.351zM475.15 484.97h1.351V635.0h-1.351zM476.15 516.80h1.351V635.0h-1.351zM477.15 530.14h1.351V635.0h-1.351zM478.15 448.20h1.351V635.0h-1.351zM479.15 448.20h1.351V635.0h-1.351zM480.15 511.57h1.351V635.0h-1.351zM481.16 524.32h1.351V635.0h-1.351zM482.16 530.23h1.351V635.0h-1.351zM483.16 501.62h1.351V635.0h-1.351zM484.16 529.80h1.351V635.0h-1.351zM485.16 558.57h1.351V635.0h-1.351zM486.16 535.18h1.351V635.0h-1.351zM487.16 538.94h1.351V635.0h-1.351zM488.17 480.33h1.351V635.0h-1.351zM489.17 484.97h1.351V635.0h-1.351zM490.17 540.65h1.351V635.0h-1.351zM491.17 448.20h1.351V635.0h-1.351zM492.17 448.20h1.351V635.0h-1.351zM493.17 539.90h1.351V635.0h-1.351zM494.17 527.83h1.351V635.0h-1.351zM495.17 448.20h1.351V635.0h-1.351zM496.18 448.20h1.351V635.0h-1.351zM497.18 448.20h1.351V635.0h-1.351zM498.18 448.20h1.351V635.0h-1.351zM499.18 517.13h1.351V635.0h-1.351zM500.18 490.66h1.351V635.0h-1.351zM501.18 469.12h1.351V635.0h-1.351zM502.18 474.10h1.351V635.0h-1.351zM503.19 515.32h1.351V635.0h-1.351zM504.19 512.62h1.351V635.0h-1.351zM505.19 501.79h1.351V635.0h-1.351zM506.19 448.20h1.351V635.0h-1.351zM507.19 448.20h1.351V635.0h-1.351zM508.19 529.56h1.351V635.0h-1.351zM509.19 470.62h1.351V635.0h-1.351zM510.19 448.20h1.351V635.0h-1.351zM511.20 448.20h1.351V635.0h-1.351zM512.20 525.55h1.351V635.0h-1.351zM513.20 487.80h1.351V635.0h-1.351z"/>
<line x1="63" y1="448.2" x2="63" y2="635.6" stroke="#1a1a1a" stroke-width="1.3"/>
<line x1="62.4" y1="635.3" x2="514.2" y2="635.3" stroke="#1a1a1a" stroke-width="1.3"/>
<line x1="60.2" y1="635" x2="63" y2="635" stroke="#1a1a1a" stroke-width="1.2"/>
<text x="58.4" y="637.9" font-size="8.3" font-weight="bold" fill="#222" text-anchor="end" textLength="4.94" lengthAdjust="spacingAndGlyphs">0</text>
<line x1="60.2" y1="541.6" x2="63" y2="541.6" stroke="#1a1a1a" stroke-width="1.2"/>
<text x="58.4" y="544.5" font-size="8.3" font-weight="bold" fill="#222" text-anchor="end" textLength="27.16" lengthAdjust="spacingAndGlyphs">25,000</text>
<line x1="60.2" y1="448.2" x2="63" y2="448.2" stroke="#1a1a1a" stroke-width="1.2"/>
<text x="58.4" y="451.1" font-size="8.3" font-weight="bold" fill="#222" text-anchor="end" textLength="27.16" lengthAdjust="spacingAndGlyphs">50,000</text>
<text x="67.2" y="648.5" font-size="8.6" font-weight="bold" fill="#111" text-anchor="middle" >1</text>
<line x1="138.5" y1="635" x2="138.5" y2="637.6" stroke="#1a1a1a" stroke-width="1.2"/>
<text x="138.5" y="648.5" font-size="8.6" font-weight="bold" fill="#111" text-anchor="middle" >200</text>
<text x="201.2" y="648.5" font-size="8.6" font-weight="bold" fill="#111" text-anchor="middle" >400</text>
<text x="217.6" y="648.5" font-size="8.6" font-weight="bold" fill="#111" text-anchor="middle" >1</text>
<line x1="288.2" y1="635" x2="288.2" y2="637.6" stroke="#1a1a1a" stroke-width="1.2"/>
<text x="288.2" y="648.5" font-size="8.6" font-weight="bold" fill="#111" text-anchor="middle" >200</text>
<text x="350" y="648.5" font-size="8.6" font-weight="bold" fill="#111" text-anchor="middle" >400</text>
<text x="367.6" y="648.5" font-size="8.6" font-weight="bold" fill="#111" text-anchor="middle" >1</text>
<line x1="438.1" y1="635" x2="438.1" y2="637.6" stroke="#1a1a1a" stroke-width="1.2"/>
<text x="438.1" y="648.5" font-size="8.6" font-weight="bold" fill="#111" text-anchor="middle" >200</text>
<text x="499.2" y="648.5" font-size="8.6" font-weight="bold" fill="#111" text-anchor="middle" >400</text>
<text x="141.6" y="629" font-size="23" fill="#fff" text-anchor="middle" font-family="'DejaVu Sans', sans-serif" font-weight="normal" textLength="78.5" lengthAdjust="spacingAndGlyphs">65.26%</text>
<text x="290" y="629" font-size="23" fill="#fff" text-anchor="middle" font-family="'DejaVu Sans', sans-serif" font-weight="normal" textLength="78.5" lengthAdjust="spacingAndGlyphs">33.34%</text>
<text x="442.5" y="627.4" font-size="23" fill="#fff" text-anchor="middle" font-family="'DejaVu Sans', sans-serif" font-weight="normal" textLength="78.5" lengthAdjust="spacingAndGlyphs">24.31%</text>
<rect x="71" y="538.7" width="12.8" height="7.2" fill="#fe0000"/>
<text x="90.6" y="545.9" font-size="10.3" font-weight="bold" fill="#111" text-anchor="start" stroke="#111" stroke-width="0.25">PD-1</text>
<rect x="71" y="551.05" width="12.8" height="7.2" fill="#d9d9d9"/>
<text x="90.6" y="558.25" font-size="10.3" font-weight="bold" fill="#111" text-anchor="start" stroke="#111" stroke-width="0.25">LAG-3</text>
<rect x="71" y="563.4" width="12.8" height="7.2" fill="#118511"/>
<text x="90.6" y="570.6" font-size="10.3" font-weight="bold" fill="#111" text-anchor="start" stroke="#111" stroke-width="0.25">TIM-3</text>
<text x="0" y="0" font-size="13.6" fill="#111" stroke="#111" stroke-width="0.45" text-anchor="middle" textLength="99.5" lengthAdjust="spacingAndGlyphs" transform="translate(10.6 542) rotate(-90)">QIF score (AU)</text>
<text x="288.6" y="670.6" font-size="14.4" fill="#111" stroke="#111" stroke-width="0.5" text-anchor="middle" textLength="43" lengthAdjust="spacingAndGlyphs">Cases</text>
<path fill="#fe0000" d="M62.80 1024.5V1021.61H63.30V1021.57H63.80V1021.33H64.30V1021.14H64.81V1021.16H65.31V1020.48H65.81V1020.31H66.31V1019.81H66.81V1020.15H67.31V1019.90H67.82V1019.70H68.32V1019.85H68.82V1019.02H69.32V1018.86H69.82V1019.08H70.32V1018.95H70.83V1018.50H71.33V1017.97H71.83V1018.04H72.33V1018.21H72.83V1017.77H73.33V1017.55H73.84V1017.30H74.34V1017.31H74.84V1017.09H75.34V1016.97H75.84V1016.89H76.34V1016.58H76.85V1016.06H77.35V1015.74H77.85V1015.95H78.35V1015.74H78.85V1015.63H79.35V1014.83H79.86V1015.13H80.36V1014.95H80.86V1014.08H81.36V1014.04H81.86V1014.09H82.36V1013.48H82.87V1013.81H83.37V1013.14H83.87V1013.25H84.37V1012.72H84.87V1012.44H85.37V1012.22H85.88V1012.23H86.38V1012.19H86.88V1011.57H87.38V1011.73H87.88V1011.23H88.38V1011.26H88.89V1010.82H89.39V1010.46H89.89V1010.20H90.39V1009.92H90.89V1010.20H91.39V1009.74H91.90V1009.27H92.40V1009.64H92.90V1009.23H93.40V1008.48H93.90V1008.81H94.40V1008.47H94.91V1008.12H95.41V1007.93H95.91V1008.06H96.41V1007.36H96.91V1007.33H97.41V1007.10H97.92V1006.65H98.42V1006.40H98.92V1006.49H99.42V1006.16H99.92V1005.78H100.42V1005.59H100.92V1005.13H101.43V1005.35H101.93V1004.50H102.43V1004.76H102.93V1004.37H103.43V1003.95H103.93V1004.01H104.44V1003.77H104.94V1003.14H105.44V1003.23H105.94V1002.74H106.44V1003.04H106.94V1002.46H107.45V1002.27H107.95V1001.98H108.45V1001.64H108.95V1001.55H109.45V1001.32H109.95V1001.50H110.46V1001.48H110.96V1000.78H111.46V1000.49H111.96V1000.63H112.46V1000.10H112.96V1000.13H113.47V1000.21H113.97V999.57H114.47V999.76H114.97V999.43H115.47V998.87H115.97V998.80H116.48V998.88H116.98V998.28H117.48V998.17H117.98V998.26H118.48V998.26H118.98V997.82H119.49V997.73H119.99V997.01H120.49V997.05H120.99V996.86H121.49V997.09H121.99V996.34H122.50V996.38H123.00V995.48H123.50V995.55H124.00V995.57H124.50V995.17H125.00V994.72H125.51V994.10H126.01V994.40H126.51V993.42H127.01V993.83H127.51V993.38H128.01V993.03H128.52V992.58H129.02V991.99H129.52V991.83H130.02V991.79H130.52V991.49H131.02V990.97H131.53V991.00H132.03V990.10H132.53V989.99H133.03V989.53H133.53V989.42H134.03V989.50H134.54V989.17H135.04V988.38H135.54V988.21H136.04V987.75H136.54V987.89H137.04V987.34H137.55V986.77H138.05V986.48H138.55V986.48H139.05V985.72H139.55V985.53H140.05V985.08H140.55V984.56H141.06V984.22H141.56V983.67H142.06V983.14H142.56V982.97H143.06V982.42H143.56V982.04H144.07V981.53H144.57V981.71H145.07V980.91H145.57V980.33H146.07V979.80H146.57V979.54H147.08V979.67H147.58V978.84H148.08V978.70H148.58V977.95H149.08V977.89H149.58V977.33H150.09V977.16H150.59V976.59H151.09V976.07H151.59V975.59H152.09V975.44H152.59V975.17H153.10V974.61H153.60V973.99H154.10V973.41H154.60V973.41H155.10V972.92H155.60V971.91H156.11V971.88H156.61V971.50H157.11V970.97H157.61V970.75H158.11V970.23H158.61V969.27H159.12V969.42H159.62V968.43H160.12V968.02H160.62V968.04H161.12V966.94H161.62V966.67H162.13V966.41H162.63V965.67H163.13V965.21H163.63V965.18H164.13V964.58H164.63V964.24H165.14V963.82H165.64V963.43H166.14V963.00H166.64V962.49H167.14V962.16H167.64V961.29H168.15V960.90H168.65V960.20H169.15V960.01H169.65V959.21H170.15V958.48H170.65V958.11H171.16V957.27H171.66V956.59H172.16V956.24H172.66V955.49H173.16V954.83H173.66V954.35H174.17V954.09H174.67V953.79H175.17V952.67H175.67V952.59H176.17V951.62H176.67V951.39H177.18V950.66H177.68V950.23H178.18V949.90H178.68V949.11H179.18V948.54H179.68V948.26H180.18V947.22H180.69V946.85H181.19V946.58H181.69V946.14H182.19V945.71H182.69V944.58H183.19V944.24H183.70V943.32H184.20V942.96H184.70V942.40H185.20V941.16H185.70V940.66H186.20V940.46H186.71V939.33H187.21V938.88H187.71V938.36H188.21V937.25H188.71V936.99H189.21V935.69H189.72V935.29H190.22V934.48H190.72V933.95H191.22V933.18H191.72V932.36H192.22V932.25H192.73V930.91H193.23V930.39H193.73V929.53H194.23V928.93H194.73V928.09H195.23V927.07H195.74V925.86H196.24V925.50H196.74V924.13H197.24V923.95H197.74V922.62H198.24V921.73H198.75V920.86H199.25V920.17H199.75V919.64H200.25V918.86H200.75V917.93H201.25V917.07H201.76V915.44H202.26V914.25H202.76V912.99H203.26V911.85H203.76V910.96H204.26V909.81H204.77V907.83H205.27V907.29H205.77V906.01H206.27V904.40H206.77V903.34H207.27V902.16H207.78V899.64H208.28V897.51H208.78V895.32H209.28V892.77H209.78V890.32H210.28V887.18H210.79V883.95H211.29V878.62H211.79V873.80H212.29V867.80H212.79V862.42H213.29V856.40H213.80V854.04H214.30V853.98H214.80V853.42H215.30V1024.5Z"/>
<path fill="#d9d9d9" shape-rendering="crispEdges" d="M215.40 1007.26h1.351V1024.5h-1.351zM216.40 1002.86h1.351V1024.5h-1.351zM217.40 1008.31h1.351V1024.5h-1.351zM218.40 1005.63h1.351V1024.5h-1.351zM219.41 1002.78h1.351V1024.5h-1.351zM220.41 1006.18h1.351V1024.5h-1.351zM221.41 997.90h1.351V1024.5h-1.351zM222.41 1003.42h1.351V1024.5h-1.351zM223.41 999.29h1.351V1024.5h-1.351zM224.41 1000.69h1.351V1024.5h-1.351zM225.41 982.02h1.351V1024.5h-1.351zM226.41 992.88h1.351V1024.5h-1.351zM227.42 996.71h1.351V1024.5h-1.351zM228.42 1002.14h1.351V1024.5h-1.351zM229.42 983.74h1.351V1024.5h-1.351zM230.42 982.81h1.351V1024.5h-1.351zM231.42 987.49h1.351V1024.5h-1.351zM232.42 990.57h1.351V1024.5h-1.351zM233.42 986.49h1.351V1024.5h-1.351zM234.43 978.23h1.351V1024.5h-1.351zM235.43 985.49h1.351V1024.5h-1.351zM236.43 983.12h1.351V1024.5h-1.351zM237.43 980.67h1.351V1024.5h-1.351zM238.43 981.87h1.351V1024.5h-1.351zM239.43 989.82h1.351V1024.5h-1.351zM240.43 990.04h1.351V1024.5h-1.351zM241.43 996.50h1.351V1024.5h-1.351zM242.44 979.82h1.351V1024.5h-1.351zM243.44 985.53h1.351V1024.5h-1.351zM244.44 988.49h1.351V1024.5h-1.351zM245.44 991.22h1.351V1024.5h-1.351zM246.44 979.72h1.351V1024.5h-1.351zM247.44 993.31h1.351V1024.5h-1.351zM248.44 997.04h1.351V1024.5h-1.351zM249.44 979.92h1.351V1024.5h-1.351zM250.45 995.60h1.351V1024.5h-1.351zM251.45 981.79h1.351V1024.5h-1.351zM252.45 999.92h1.351V1024.5h-1.351zM253.45 979.61h1.351V1024.5h-1.351zM254.45 987.53h1.351V1024.5h-1.351zM255.45 989.99h1.351V1024.5h-1.351zM256.45 978.01h1.351V1024.5h-1.351zM257.46 987.52h1.351V1024.5h-1.351zM258.46 984.69h1.351V1024.5h-1.351zM259.46 971.06h1.351V1024.5h-1.351zM260.46 978.18h1.351V1024.5h-1.351zM261.46 980.97h1.351V1024.5h-1.351zM262.46 985.36h1.351V1024.5h-1.351zM263.46 977.49h1.351V1024.5h-1.351zM264.46 970.60h1.351V1024.5h-1.351zM265.47 982.08h1.351V1024.5h-1.351zM266.47 997.91h1.351V1024.5h-1.351zM267.47 981.01h1.351V1024.5h-1.351zM268.47 969.40h1.351V1024.5h-1.351zM269.47 978.66h1.351V1024.5h-1.351zM270.47 990.45h1.351V1024.5h-1.351zM271.47 980.97h1.351V1024.5h-1.351zM272.48 979.07h1.351V1024.5h-1.351zM273.48 982.37h1.351V1024.5h-1.351zM274.48 985.92h1.351V1024.5h-1.351zM275.48 967.63h1.351V1024.5h-1.351zM276.48 980.12h1.351V1024.5h-1.351zM277.48 973.46h1.351V1024.5h-1.351zM278.48 968.98h1.351V1024.5h-1.351zM279.48 990.34h1.351V1024.5h-1.351zM280.49 981.95h1.351V1024.5h-1.351zM281.49 959.99h1.351V1024.5h-1.351zM282.49 986.87h1.351V1024.5h-1.351zM283.49 976.28h1.351V1024.5h-1.351zM284.49 979.18h1.351V1024.5h-1.351zM285.49 975.09h1.351V1024.5h-1.351zM286.49 973.95h1.351V1024.5h-1.351zM287.49 977.59h1.351V1024.5h-1.351zM288.50 975.24h1.351V1024.5h-1.351zM289.50 976.37h1.351V1024.5h-1.351zM290.50 971.38h1.351V1024.5h-1.351zM291.50 980.86h1.351V1024.5h-1.351zM292.50 968.97h1.351V1024.5h-1.351zM293.50 977.89h1.351V1024.5h-1.351zM294.50 964.32h1.351V1024.5h-1.351zM295.51 944.95h1.351V1024.5h-1.351zM296.51 952.71h1.351V1024.5h-1.351zM297.51 970.70h1.351V1024.5h-1.351zM298.51 985.18h1.351V1024.5h-1.351zM299.51 982.85h1.351V1024.5h-1.351zM300.51 973.62h1.351V1024.5h-1.351zM301.51 983.53h1.351V1024.5h-1.351zM302.51 977.02h1.351V1024.5h-1.351zM303.52 984.70h1.351V1024.5h-1.351zM304.52 968.91h1.351V1024.5h-1.351zM305.52 982.85h1.351V1024.5h-1.351zM306.52 963.89h1.351V1024.5h-1.351zM307.52 949.71h1.351V1024.5h-1.351zM308.52 961.30h1.351V1024.5h-1.351zM309.52 969.12h1.351V1024.5h-1.351zM310.53 947.94h1.351V1024.5h-1.351zM311.53 948.99h1.351V1024.5h-1.351zM312.53 938.00h1.351V1024.5h-1.351zM313.53 938.84h1.351V1024.5h-1.351zM314.53 962.45h1.351V1024.5h-1.351zM315.53 964.16h1.351V1024.5h-1.351zM316.53 973.00h1.351V1024.5h-1.351zM317.53 954.62h1.351V1024.5h-1.351zM318.54 977.01h1.351V1024.5h-1.351zM319.54 958.02h1.351V1024.5h-1.351zM320.54 968.36h1.351V1024.5h-1.351zM321.54 969.75h1.351V1024.5h-1.351zM322.54 960.49h1.351V1024.5h-1.351zM323.54 983.87h1.351V1024.5h-1.351zM324.54 969.52h1.351V1024.5h-1.351zM325.54 970.18h1.351V1024.5h-1.351zM326.55 975.98h1.351V1024.5h-1.351zM327.55 957.70h1.351V1024.5h-1.351zM328.55 968.92h1.351V1024.5h-1.351zM329.55 970.58h1.351V1024.5h-1.351zM330.55 964.22h1.351V1024.5h-1.351zM331.55 962.62h1.351V1024.5h-1.351zM332.55 927.59h1.351V1024.5h-1.351zM333.56 964.96h1.351V1024.5h-1.351zM334.56 948.36h1.351V1024.5h-1.351zM335.56 940.54h1.351V1024.5h-1.351zM336.56 957.70h1.351V1024.5h-1.351zM337.56 978.87h1.351V1024.5h-1.351zM338.56 941.08h1.351V1024.5h-1.351zM339.56 948.48h1.351V1024.5h-1.351zM340.56 954.25h1.351V1024.5h-1.351zM341.57 924.62h1.351V1024.5h-1.351zM342.57 942.20h1.351V1024.5h-1.351zM343.57 975.75h1.351V1024.5h-1.351zM344.57 974.58h1.351V1024.5h-1.351zM345.57 957.72h1.351V1024.5h-1.351zM346.57 950.59h1.351V1024.5h-1.351zM347.57 944.22h1.351V1024.5h-1.351zM348.58 967.49h1.351V1024.5h-1.351zM349.58 906.59h1.351V1024.5h-1.351zM350.58 953.21h1.351V1024.5h-1.351zM351.58 913.04h1.351V1024.5h-1.351zM352.58 902.97h1.351V1024.5h-1.351zM353.58 933.50h1.351V1024.5h-1.351zM354.58 957.06h1.351V1024.5h-1.351zM355.58 964.99h1.351V1024.5h-1.351zM356.59 910.47h1.351V1024.5h-1.351zM357.59 957.03h1.351V1024.5h-1.351zM358.59 941.93h1.351V1024.5h-1.351zM359.59 918.37h1.351V1024.5h-1.351zM360.59 894.87h1.351V1024.5h-1.351zM361.59 942.52h1.351V1024.5h-1.351zM362.59 934.34h1.351V1024.5h-1.351zM363.59 930.13h1.351V1024.5h-1.351zM364.60 938.01h1.351V1024.5h-1.351zM365.60 923.47h1.351V1024.5h-1.351zM366.60 955.22h1.351V1024.5h-1.351z"/>
<path fill="#118511" shape-rendering="crispEdges" d="M367.70 1009.14h1.349V1024.5h-1.349zM368.70 1007.97h1.349V1024.5h-1.349zM369.70 1006.56h1.349V1024.5h-1.349zM370.70 993.89h1.349V1024.5h-1.349zM371.69 996.28h1.349V1024.5h-1.349zM372.69 1003.20h1.349V1024.5h-1.349zM373.69 1000.93h1.349V1024.5h-1.349zM374.69 1002.75h1.349V1024.5h-1.349zM375.69 999.30h1.349V1024.5h-1.349zM376.69 985.00h1.349V1024.5h-1.349zM377.69 995.26h1.349V1024.5h-1.349zM378.69 984.62h1.349V1024.5h-1.349zM379.68 981.85h1.349V1024.5h-1.349zM380.68 1000.48h1.349V1024.5h-1.349zM381.68 998.36h1.349V1024.5h-1.349zM382.68 984.39h1.349V1024.5h-1.349zM383.68 991.97h1.349V1024.5h-1.349zM384.68 999.02h1.349V1024.5h-1.349zM385.68 998.04h1.349V1024.5h-1.349zM386.68 984.12h1.349V1024.5h-1.349zM387.67 973.11h1.349V1024.5h-1.349zM388.67 976.82h1.349V1024.5h-1.349zM389.67 992.10h1.349V1024.5h-1.349zM390.67 992.23h1.349V1024.5h-1.349zM391.67 988.57h1.349V1024.5h-1.349zM392.67 963.40h1.349V1024.5h-1.349zM393.67 979.24h1.349V1024.5h-1.349zM394.66 972.23h1.349V1024.5h-1.349zM395.66 971.49h1.349V1024.5h-1.349zM396.66 984.88h1.349V1024.5h-1.349zM397.66 975.02h1.349V1024.5h-1.349zM398.66 963.04h1.349V1024.5h-1.349zM399.66 967.89h1.349V1024.5h-1.349zM400.66 963.16h1.349V1024.5h-1.349zM401.66 988.03h1.349V1024.5h-1.349zM402.65 994.68h1.349V1024.5h-1.349zM403.65 968.60h1.349V1024.5h-1.349zM404.65 981.33h1.349V1024.5h-1.349zM405.65 968.64h1.349V1024.5h-1.349zM406.65 973.38h1.349V1024.5h-1.349zM407.65 985.72h1.349V1024.5h-1.349zM408.65 964.35h1.349V1024.5h-1.349zM409.65 980.41h1.349V1024.5h-1.349zM410.64 982.67h1.349V1024.5h-1.349zM411.64 978.07h1.349V1024.5h-1.349zM412.64 997.75h1.349V1024.5h-1.349zM413.64 945.80h1.349V1024.5h-1.349zM414.64 985.29h1.349V1024.5h-1.349zM415.64 952.73h1.349V1024.5h-1.349zM416.64 953.06h1.349V1024.5h-1.349zM417.63 972.49h1.349V1024.5h-1.349zM418.63 982.56h1.349V1024.5h-1.349zM419.63 958.01h1.349V1024.5h-1.349zM420.63 986.14h1.349V1024.5h-1.349zM421.63 980.82h1.349V1024.5h-1.349zM422.63 979.71h1.349V1024.5h-1.349zM423.63 951.88h1.349V1024.5h-1.349zM424.63 952.40h1.349V1024.5h-1.349zM425.62 985.70h1.349V1024.5h-1.349zM426.62 869.58h1.349V1024.5h-1.349zM427.62 944.52h1.349V1024.5h-1.349zM428.62 946.43h1.349V1024.5h-1.349zM429.62 972.88h1.349V1024.5h-1.349zM430.62 978.10h1.349V1024.5h-1.349zM431.62 974.53h1.349V1024.5h-1.349zM432.62 946.11h1.349V1024.5h-1.349zM433.61 985.96h1.349V1024.5h-1.349zM434.61 975.38h1.349V1024.5h-1.349zM435.61 952.92h1.349V1024.5h-1.349zM436.61 970.98h1.349V1024.5h-1.349zM437.61 964.16h1.349V1024.5h-1.349zM438.61 964.00h1.349V1024.5h-1.349zM439.61 931.76h1.349V1024.5h-1.349zM440.60 932.64h1.349V1024.5h-1.349zM441.60 960.00h1.349V1024.5h-1.349zM442.60 959.96h1.349V1024.5h-1.349zM443.60 963.86h1.349V1024.5h-1.349zM444.60 946.05h1.349V1024.5h-1.349zM445.60 943.18h1.349V1024.5h-1.349zM446.60 961.94h1.349V1024.5h-1.349zM447.60 933.85h1.349V1024.5h-1.349zM448.59 938.68h1.349V1024.5h-1.349zM449.59 967.98h1.349V1024.5h-1.349zM450.59 933.40h1.349V1024.5h-1.349zM451.59 934.66h1.349V1024.5h-1.349zM452.59 964.72h1.349V1024.5h-1.349zM453.59 956.14h1.349V1024.5h-1.349zM454.59 965.77h1.349V1024.5h-1.349zM455.58 954.09h1.349V1024.5h-1.349zM456.58 908.69h1.349V1024.5h-1.349zM457.58 974.00h1.349V1024.5h-1.349zM458.58 937.29h1.349V1024.5h-1.349zM459.58 972.46h1.349V1024.5h-1.349zM460.58 929.48h1.349V1024.5h-1.349zM461.58 948.34h1.349V1024.5h-1.349zM462.58 958.65h1.349V1024.5h-1.349zM463.57 973.58h1.349V1024.5h-1.349zM464.57 942.63h1.349V1024.5h-1.349zM465.57 961.19h1.349V1024.5h-1.349zM466.57 969.47h1.349V1024.5h-1.349zM467.57 917.91h1.349V1024.5h-1.349zM468.57 959.85h1.349V1024.5h-1.349zM469.57 963.79h1.349V1024.5h-1.349zM470.57 954.40h1.349V1024.5h-1.349zM471.56 931.84h1.349V1024.5h-1.349zM472.56 934.85h1.349V1024.5h-1.349zM473.56 957.61h1.349V1024.5h-1.349zM474.56 950.39h1.349V1024.5h-1.349zM475.56 970.45h1.349V1024.5h-1.349zM476.56 965.36h1.349V1024.5h-1.349zM477.56 980.33h1.349V1024.5h-1.349zM478.55 957.91h1.349V1024.5h-1.349zM479.55 951.24h1.349V1024.5h-1.349zM480.55 935.00h1.349V1024.5h-1.349zM481.55 907.48h1.349V1024.5h-1.349zM482.55 922.25h1.349V1024.5h-1.349zM483.55 938.03h1.349V1024.5h-1.349zM484.55 942.17h1.349V1024.5h-1.349zM485.55 918.45h1.349V1024.5h-1.349zM486.54 881.38h1.349V1024.5h-1.349zM487.54 973.20h1.349V1024.5h-1.349zM488.54 878.45h1.349V1024.5h-1.349zM489.54 883.37h1.349V1024.5h-1.349zM490.54 910.77h1.349V1024.5h-1.349zM491.54 919.04h1.349V1024.5h-1.349zM492.54 942.82h1.349V1024.5h-1.349zM493.54 940.95h1.349V1024.5h-1.349zM494.53 948.54h1.349V1024.5h-1.349zM495.53 967.74h1.349V1024.5h-1.349zM496.53 887.18h1.349V1024.5h-1.349zM497.53 900.86h1.349V1024.5h-1.349zM498.53 931.02h1.349V1024.5h-1.349zM499.53 955.99h1.349V1024.5h-1.349zM500.53 901.17h1.349V1024.5h-1.349zM501.52 938.01h1.349V1024.5h-1.349zM502.52 959.63h1.349V1024.5h-1.349zM503.52 894.86h1.349V1024.5h-1.349zM504.52 896.17h1.349V1024.5h-1.349zM505.52 917.69h1.349V1024.5h-1.349zM506.52 959.05h1.349V1024.5h-1.349zM507.52 928.29h1.349V1024.5h-1.349zM508.52 918.47h1.349V1024.5h-1.349zM509.51 844.26h1.349V1024.5h-1.349zM510.51 910.79h1.349V1024.5h-1.349zM511.51 854.06h1.349V1024.5h-1.349zM512.51 855.24h1.349V1024.5h-1.349zM513.51 837.96h1.349V1024.5h-1.349zM514.51 898.56h1.349V1024.5h-1.349zM515.51 948.93h1.349V1024.5h-1.349zM516.51 887.49h1.349V1024.5h-1.349zM517.50 895.04h1.349V1024.5h-1.349zM518.50 914.23h1.349V1024.5h-1.349zM519.50 941.91h1.349V1024.5h-1.349z"/>
<line x1="62.2" y1="834.8" x2="62.2" y2="1025.1" stroke="#1a1a1a" stroke-width="1.3"/>
<line x1="61.6" y1="1024.8" x2="520.5" y2="1024.8" stroke="#1a1a1a" stroke-width="1.3"/>
<line x1="59.4" y1="1024.5" x2="62.2" y2="1024.5" stroke="#1a1a1a" stroke-width="1.2"/>
<text x="57.6" y="1027.4" font-size="8.3" font-weight="bold" fill="#222" text-anchor="end" textLength="4.94" lengthAdjust="spacingAndGlyphs">0</text>
<line x1="59.4" y1="961.27" x2="62.2" y2="961.27" stroke="#1a1a1a" stroke-width="1.2"/>
<text x="57.6" y="964.17" font-size="8.3" font-weight="bold" fill="#222" text-anchor="end" textLength="27.16" lengthAdjust="spacingAndGlyphs">10,000</text>
<line x1="59.4" y1="898.03" x2="62.2" y2="898.03" stroke="#1a1a1a" stroke-width="1.2"/>
<text x="57.6" y="900.93" font-size="8.3" font-weight="bold" fill="#222" text-anchor="end" textLength="27.16" lengthAdjust="spacingAndGlyphs">20,000</text>
<line x1="59.4" y1="834.8" x2="62.2" y2="834.8" stroke="#1a1a1a" stroke-width="1.2"/>
<text x="57.6" y="837.7" font-size="8.3" font-weight="bold" fill="#222" text-anchor="end" textLength="27.16" lengthAdjust="spacingAndGlyphs">30,000</text>
<text x="68.6" y="1038" font-size="8.6" font-weight="bold" fill="#111" text-anchor="middle" >1</text>
<line x1="139" y1="1024.5" x2="139" y2="1027.1" stroke="#1a1a1a" stroke-width="1.2"/>
<text x="139" y="1038" font-size="8.6" font-weight="bold" fill="#111" text-anchor="middle" >150</text>
<text x="204.1" y="1038" font-size="8.6" font-weight="bold" fill="#111" text-anchor="middle" >300</text>
<text x="221" y="1038" font-size="8.6" font-weight="bold" fill="#111" text-anchor="middle" >1</text>
<line x1="290.3" y1="1024.5" x2="290.3" y2="1027.1" stroke="#1a1a1a" stroke-width="1.2"/>
<text x="290.3" y="1038" font-size="8.6" font-weight="bold" fill="#111" text-anchor="middle" >150</text>
<text x="353" y="1038" font-size="8.6" font-weight="bold" fill="#111" text-anchor="middle" >300</text>
<text x="371" y="1038" font-size="8.6" font-weight="bold" fill="#111" text-anchor="middle" >1</text>
<line x1="443.6" y1="1024.5" x2="443.6" y2="1027.1" stroke="#1a1a1a" stroke-width="1.2"/>
<text x="443.6" y="1038" font-size="8.6" font-weight="bold" fill="#111" text-anchor="middle" >150</text>
<text x="511" y="1038" font-size="8.6" font-weight="bold" fill="#111" text-anchor="middle" >300</text>
<text x="153" y="1020.2" font-size="23" fill="#fff" text-anchor="middle" font-family="'DejaVu Sans', sans-serif" font-weight="normal" textLength="78.5" lengthAdjust="spacingAndGlyphs">44.74%</text>
<text x="296.5" y="1020.2" font-size="23" fill="#fff" text-anchor="middle" font-family="'DejaVu Sans', sans-serif" font-weight="normal" textLength="78.5" lengthAdjust="spacingAndGlyphs">49.67%</text>
<text x="452.2" y="1017" font-size="23" fill="#fff" text-anchor="middle" font-family="'DejaVu Sans', sans-serif" font-weight="normal" textLength="78.5" lengthAdjust="spacingAndGlyphs">26.32%</text>
<rect x="68.7" y="935.8" width="12.8" height="7.2" fill="#fe0000"/>
<text x="88.3" y="943" font-size="10.3" font-weight="bold" fill="#111" text-anchor="start" stroke="#111" stroke-width="0.25">PD-1</text>
<rect x="68.7" y="948.15" width="12.8" height="7.2" fill="#d9d9d9"/>
<text x="88.3" y="955.35" font-size="10.3" font-weight="bold" fill="#111" text-anchor="start" stroke="#111" stroke-width="0.25">LAG-3</text>
<rect x="68.7" y="960.5" width="12.8" height="7.2" fill="#118511"/>
<text x="88.3" y="967.7" font-size="10.3" font-weight="bold" fill="#111" text-anchor="start" stroke="#111" stroke-width="0.25">TIM-3</text>
<text x="0" y="0" font-size="13.6" fill="#111" stroke="#111" stroke-width="0.45" text-anchor="middle" textLength="99.5" lengthAdjust="spacingAndGlyphs" transform="translate(10.6 929) rotate(-90)">QIF score (AU)</text>
<text x="290.2" y="1059.2" font-size="14.4" fill="#111" stroke="#111" stroke-width="0.5" text-anchor="middle" textLength="43" lengthAdjust="spacingAndGlyphs">Cases</text>
</svg>
</body></html>
